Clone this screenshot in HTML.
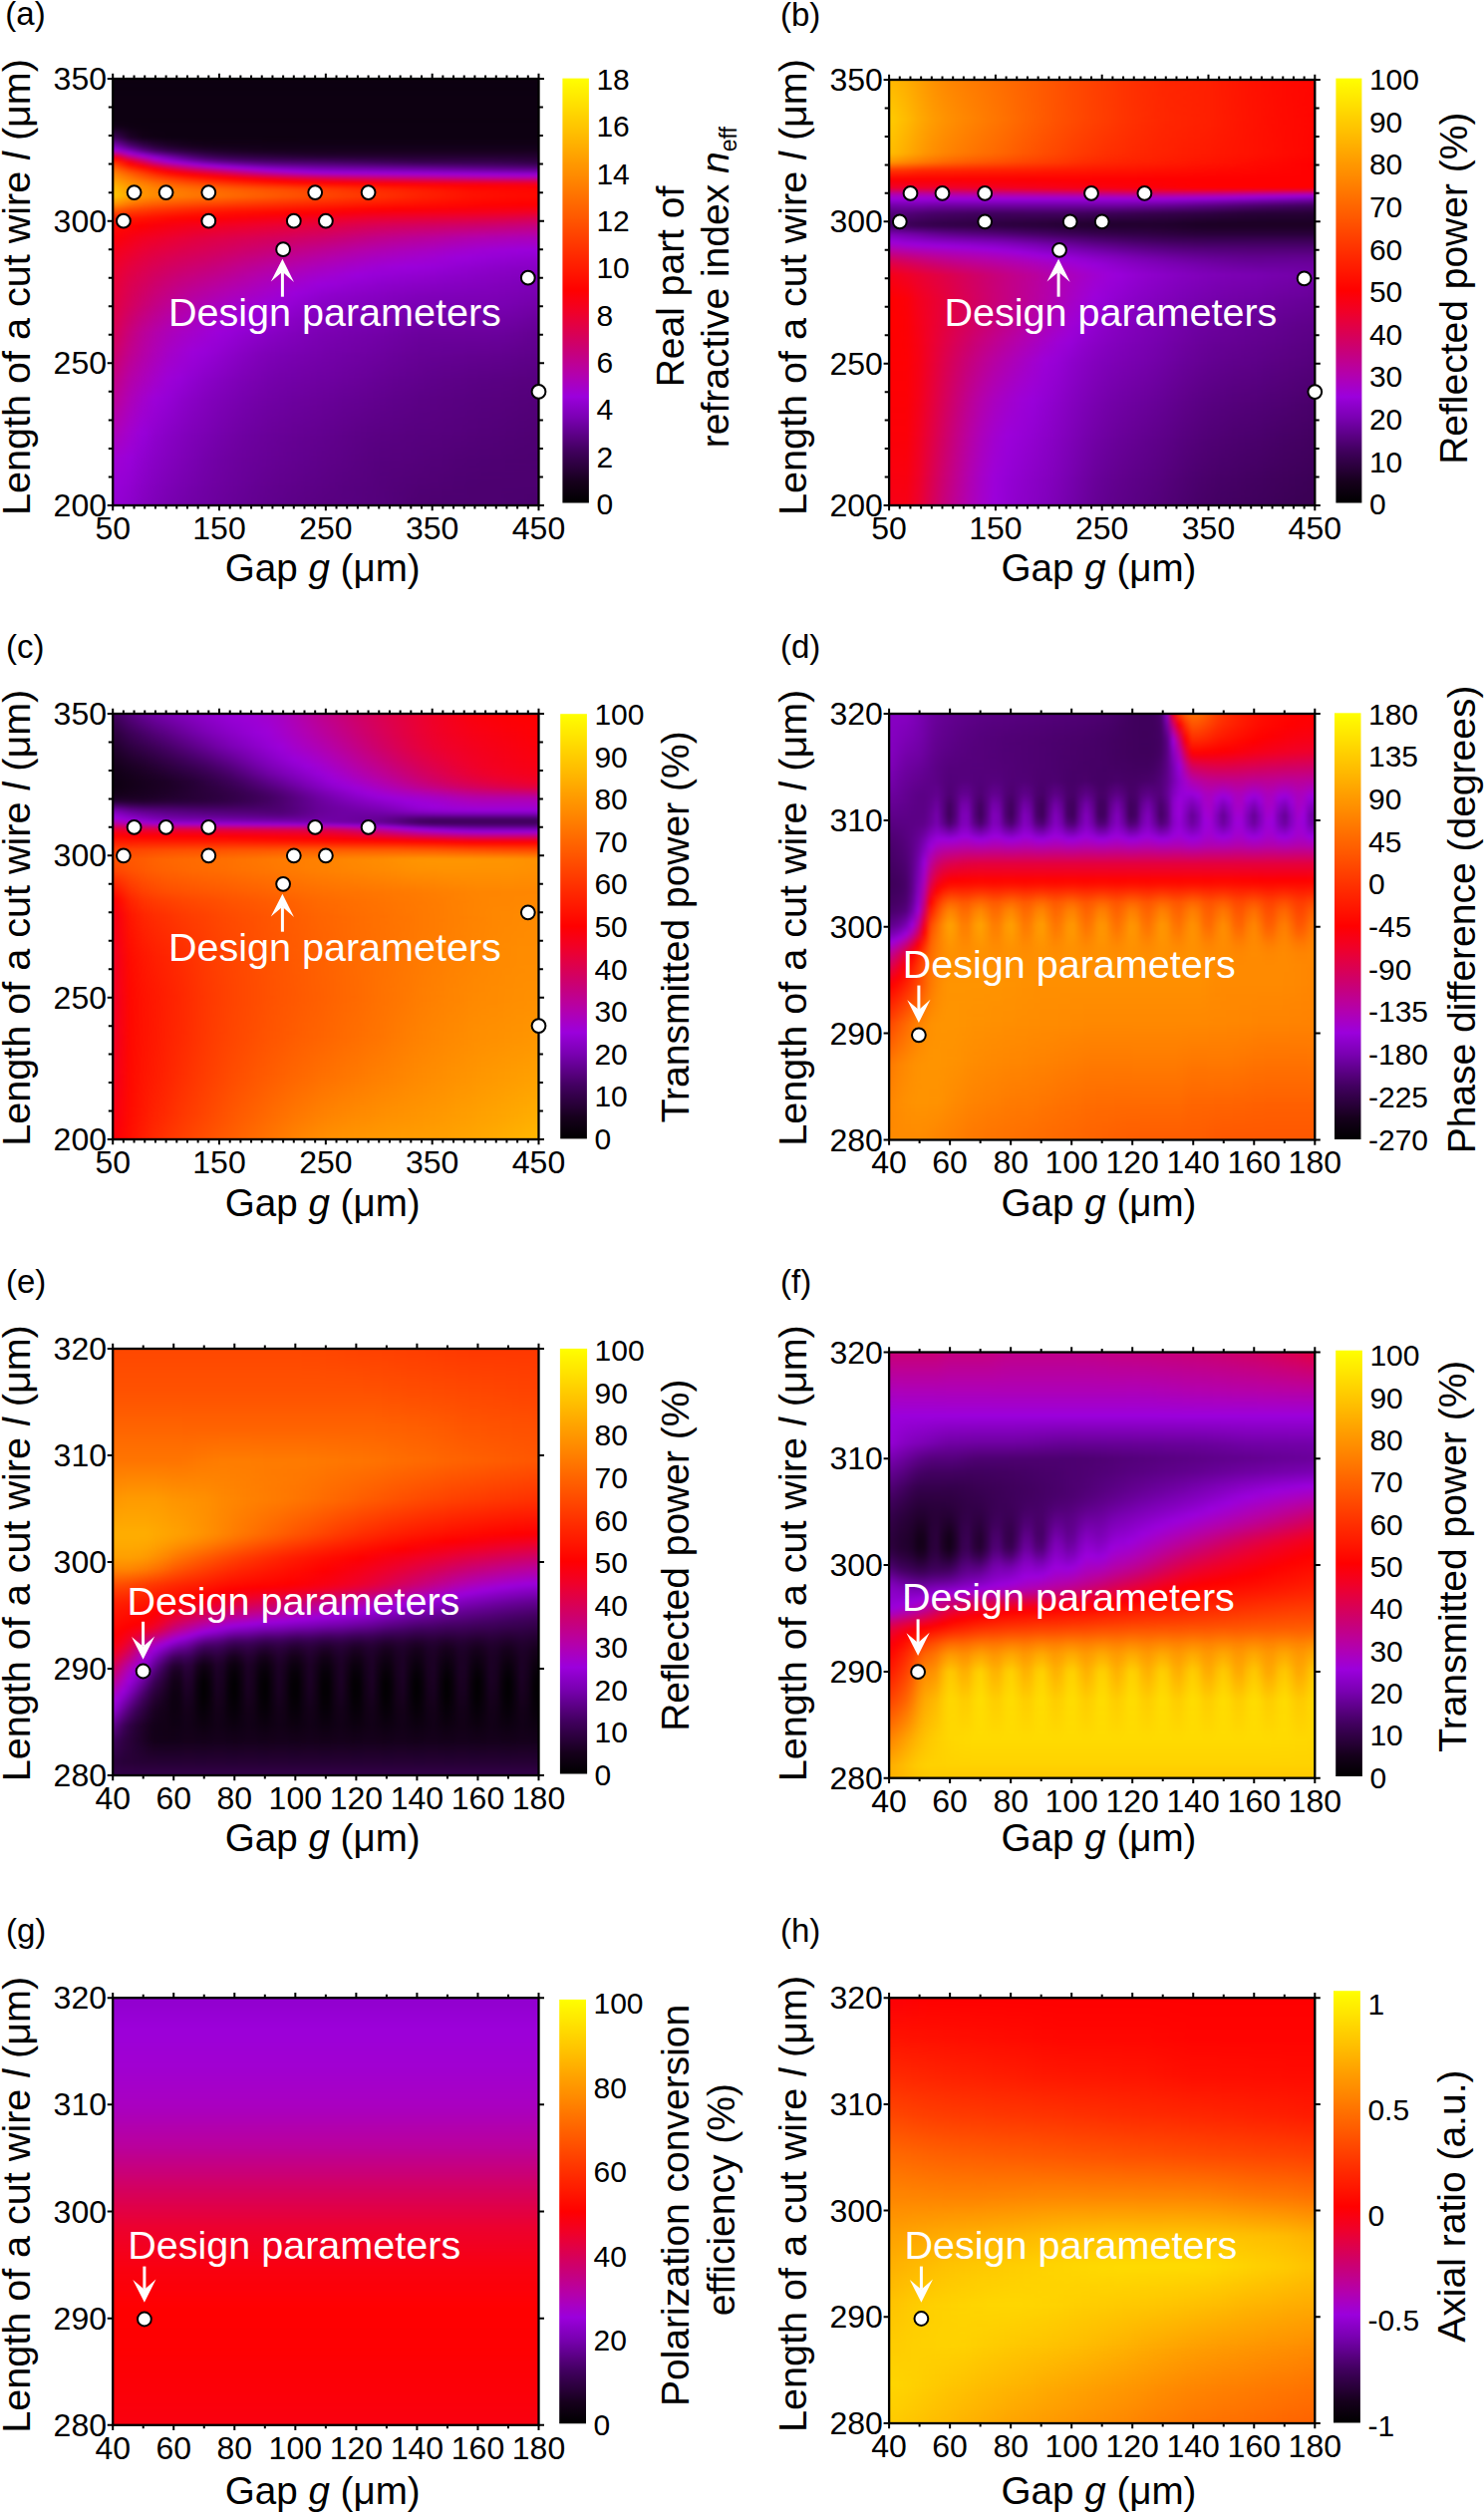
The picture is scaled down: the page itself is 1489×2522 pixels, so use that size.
<!DOCTYPE html><html><head><meta charset="utf-8"><style>
html,body{margin:0;padding:0;background:#fff;width:1489px;height:2522px;overflow:hidden}
.hm{position:absolute;overflow:hidden}
.hm .in{position:absolute;left:0;top:0;right:0;bottom:0}
.hm .in i{position:absolute;left:-8px;right:-8px}
.hm .in i.m{-webkit-mask-image:linear-gradient(180deg,transparent,#000);mask-image:linear-gradient(180deg,transparent,#000)}
svg{position:absolute;left:0;top:0}
text{font-family:"Liberation Sans",sans-serif}
</style></head><body><div class="hm" style="left:113.2px;top:79.0px;width:427.3px;height:428.0px"><div class="in" style="filter:blur(1.5px)"><i style="top:-8px;height:48px;background:linear-gradient(90deg,#0d0011,#0d0011,#0d0011,#0d0011,#0d0011,#0d0011,#0d0011,#0d0011,#0d0011,#0d0011,#0d0011,#0d0011,#0d0011,#0d0011,#0d0011,#0d0011,#0d0011,#0d0011,#0d0011,#0d0011,#0d0011,#0d0011,#0d0011,#0d0011,#0d0011,#0d0011,#0d0011,#0d0011,#0d0011,#0d0011,#0d0011,#0d0011,#0d0011,#0d0011,#0d0011,#0d0011)"></i><i class="m" style="top:0px;height:40px;background:linear-gradient(90deg,#0d0011,#0d0011,#0d0011,#0d0011,#0d0011,#0d0011,#0d0011,#0d0011,#0d0011,#0d0011,#0d0011,#0d0011,#0d0011,#0d0011,#0d0011,#0d0011,#0d0011,#0d0011,#0d0011,#0d0011,#0d0011,#0d0011,#0d0011,#0d0011,#0d0011,#0d0011,#0d0011,#0d0011,#0d0011,#0d0011,#0d0011,#0d0011,#0d0011,#0d0011,#0d0011,#0d0011)"></i><i style="top:40px;height:8px;background:linear-gradient(90deg,#0d0011,#0d0011,#0d0011,#0d0011,#0d0011,#0d0011,#0d0011,#0d0011,#0d0011,#0d0011,#0d0011,#0d0011,#0d0011,#0d0011,#0d0011,#0d0011,#0d0011,#0d0011,#0d0011,#0d0011,#0d0011,#0d0011,#0d0011,#0d0011,#0d0011,#0d0011,#0d0011,#0d0011,#0d0011,#0d0011,#0d0011,#0d0011,#0d0011,#0d0011,#0d0011,#0d0011)"></i><i class="m" style="top:40px;height:8px;background:linear-gradient(90deg,#15001b,#120017,#0f0013,#0e0011,#0d0011,#0d0011,#0d0011,#0d0011,#0d0011,#0d0011,#0d0011,#0d0011,#0d0011,#0d0011,#0d0011,#0d0011,#0d0011,#0d0011,#0d0011,#0d0011,#0d0011,#0d0011,#0d0011,#0d0011,#0d0011,#0d0011,#0d0011,#0d0011,#0d0011,#0d0011,#0d0011,#0d0011,#0d0011,#0d0011,#0d0011,#0d0011)"></i><i style="top:48px;height:11px;background:linear-gradient(90deg,#15001b,#120017,#0f0013,#0e0011,#0d0011,#0d0011,#0d0011,#0d0011,#0d0011,#0d0011,#0d0011,#0d0011,#0d0011,#0d0011,#0d0011,#0d0011,#0d0011,#0d0011,#0d0011,#0d0011,#0d0011,#0d0011,#0d0011,#0d0011,#0d0011,#0d0011,#0d0011,#0d0011,#0d0011,#0d0011,#0d0011,#0d0011,#0d0011,#0d0011,#0d0011,#0d0011)"></i><i class="m" style="top:48px;height:11px;background:linear-gradient(90deg,#4a006c,#380051,#1e0028,#130018,#100014,#0e0012,#0e0012,#0e0011,#0e0011,#0e0011,#0e0011,#0e0011,#0e0011,#0e0011,#0e0011,#0e0011,#0e0011,#0e0011,#0e0011,#0e0011,#0e0011,#0e0011,#0e0011,#0e0011,#0e0011,#0e0011,#0e0011,#0e0011,#0e0011,#0e0011,#0e0011,#0e0011,#0e0011,#0e0011,#0e0011,#0e0011)"></i><i style="top:59px;height:8px;background:linear-gradient(90deg,#4a006c,#380051,#1e0028,#130018,#100014,#0e0012,#0e0012,#0e0011,#0e0011,#0e0011,#0e0011,#0e0011,#0e0011,#0e0011,#0e0011,#0e0011,#0e0011,#0e0011,#0e0011,#0e0011,#0e0011,#0e0011,#0e0011,#0e0011,#0e0011,#0e0011,#0e0011,#0e0011,#0e0011,#0e0011,#0e0011,#0e0011,#0e0011,#0e0011,#0e0011,#0e0011)"></i><i class="m" style="top:59px;height:8px;background:linear-gradient(90deg,#8200bd,#7300a7,#4d0071,#36004e,#280037,#1f002a,#1a0022,#16001c,#140019,#130018,#130018,#130018,#130018,#120017,#120017,#120017,#120018,#120018,#120018,#120018,#120018,#120018,#120018,#120018,#120018,#120018,#120018,#120018,#120018,#120018,#120018,#120018,#120018,#120018,#120018,#120018)"></i><i style="top:67px;height:4px;background:linear-gradient(90deg,#8200bd,#7300a7,#4d0071,#36004e,#280037,#1f002a,#1a0022,#16001c,#140019,#130018,#130018,#130018,#130018,#120017,#120017,#120017,#120018,#120018,#120018,#120018,#120018,#120018,#120018,#120018,#120018,#120018,#120018,#120018,#120018,#120018,#120018,#120018,#120018,#120018,#120018,#120018)"></i><i class="m" style="top:67px;height:4px;background:linear-gradient(90deg,#9d00d8,#9300d1,#7200a6,#520078,#3c0057,#300045,#290039,#23002f,#1e0028,#1b0024,#190021,#17001e,#16001c,#16001c,#16001c,#16001c,#16001c,#16001c,#16001c,#16001c,#16001c,#16001c,#16001c,#16001c,#16001c,#16001c,#16001c,#16001c,#16001c,#16001c,#16001c,#16001c,#16001c,#16001c,#16001c,#16001c)"></i><i style="top:71px;height:1px;background:linear-gradient(90deg,#9d00d8,#9300d1,#7200a6,#520078,#3c0057,#300045,#290039,#23002f,#1e0028,#1b0024,#190021,#17001e,#16001c,#16001c,#16001c,#16001c,#16001c,#16001c,#16001c,#16001c,#16001c,#16001c,#16001c,#16001c,#16001c,#16001c,#16001c,#16001c,#16001c,#16001c,#16001c,#16001c,#16001c,#16001c,#16001c,#16001c)"></i><i class="m" style="top:71px;height:1px;background:linear-gradient(90deg,#a600c7,#9d00d7,#7d00b5,#5c0086,#430061,#36004d,#2e0040,#270036,#21002e,#1e0028,#1c0025,#1a0021,#18001f,#17001e,#17001e,#17001e,#17001e,#17001d,#17001d,#17001d,#17001d,#17001d,#17001d,#17001e,#17001e,#17001e,#17001e,#17001e,#17001e,#17001e,#17001e,#17001e,#17001e,#17001e,#17001e,#17001e)"></i><i style="top:72px;height:2px;background:linear-gradient(90deg,#a600c7,#9d00d7,#7d00b5,#5c0086,#430061,#36004d,#2e0040,#270036,#21002e,#1e0028,#1c0025,#1a0021,#18001f,#17001e,#17001e,#17001e,#17001e,#17001d,#17001d,#17001d,#17001d,#17001d,#17001d,#17001e,#17001e,#17001e,#17001e,#17001e,#17001e,#17001e,#17001e,#17001e,#17001e,#17001e,#17001e,#17001e)"></i><i class="m" style="top:72px;height:2px;background:linear-gradient(90deg,#c1008b,#b500a7,#9500d4,#7300a8,#590081,#460066,#3b0055,#310046,#2a003b,#250034,#22002f,#20002b,#1e0028,#1d0026,#1c0025,#1b0024,#1b0023,#1a0023,#1a0023,#1a0023,#1a0023,#1a0023,#1b0023,#1b0023,#1b0023,#1b0023,#1b0023,#1b0023,#1b0023,#1b0023,#1b0023,#1b0023,#1b0023,#1b0023,#1b0024,#1b0024)"></i><i style="top:74px;height:1px;background:linear-gradient(90deg,#c1008b,#b500a7,#9500d4,#7300a8,#590081,#460066,#3b0055,#310046,#2a003b,#250034,#22002f,#20002b,#1e0028,#1d0026,#1c0025,#1b0024,#1b0023,#1a0023,#1a0023,#1a0023,#1a0023,#1a0023,#1b0023,#1b0023,#1b0023,#1b0023,#1b0023,#1b0023,#1b0023,#1b0023,#1b0023,#1b0023,#1b0023,#1b0023,#1b0024,#1b0024)"></i><i class="m" style="top:74px;height:1px;background:linear-gradient(90deg,#d00067,#c1008a,#a000d2,#8000b9,#650093,#520077,#420060,#380050,#2f0043,#2a003b,#260035,#240031,#22002e,#20002c,#1f002a,#1e0028,#1d0027,#1d0026,#1c0026,#1d0026,#1d0026,#1d0026,#1d0026,#1d0026,#1d0026,#1d0027,#1d0027,#1d0027,#1d0027,#1d0027,#1d0027,#1d0027,#1d0027,#1d0027,#1d0027,#1d0027)"></i><i style="top:75px;height:2px;background:linear-gradient(90deg,#d00067,#c1008a,#a000d2,#8000b9,#650093,#520077,#420060,#380050,#2f0043,#2a003b,#260035,#240031,#22002e,#20002c,#1f002a,#1e0028,#1d0027,#1d0026,#1c0026,#1d0026,#1d0026,#1d0026,#1d0026,#1d0026,#1d0026,#1d0027,#1d0027,#1d0027,#1d0027,#1d0027,#1d0027,#1d0027,#1d0027,#1d0027,#1d0027,#1d0027)"></i><i class="m" style="top:75px;height:2px;background:linear-gradient(90deg,#ef0029,#da0053,#b400aa,#9900d9,#7e00b7,#680097,#55007c,#450064,#3a0054,#330049,#2f0043,#2c003f,#2a003b,#280038,#260035,#240032,#230030,#22002e,#22002e,#22002e,#22002e,#22002e,#22002e,#22002e,#22002e,#22002e,#22002e,#22002e,#22002e,#22002e,#22002e,#22002e,#22002e,#22002e,#22002e,#22002e)"></i><i style="top:77px;height:2px;background:linear-gradient(90deg,#ef0029,#da0053,#b400aa,#9900d9,#7e00b7,#680097,#55007c,#450064,#3a0054,#330049,#2f0043,#2c003f,#2a003b,#280038,#260035,#240032,#230030,#22002e,#22002e,#22002e,#22002e,#22002e,#22002e,#22002e,#22002e,#22002e,#22002e,#22002e,#22002e,#22002e,#22002e,#22002e,#22002e,#22002e,#22002e,#22002e)"></i><i class="m" style="top:77px;height:2px;background:linear-gradient(90deg,#ff0300,#f20023,#c8007a,#ae00b8,#9300d2,#7b00b3,#660095,#54007b,#460066,#3e005a,#390053,#36004d,#330049,#310045,#2f0042,#2d003f,#2b003d,#2a003b,#2a003a,#29003a,#290039,#290039,#280038,#280037,#270037,#270036,#270036,#270036,#270036,#270036,#270036,#270036,#270036,#260035,#260034,#250034)"></i><i style="top:79px;height:1px;background:linear-gradient(90deg,#ff0300,#f20023,#c8007a,#ae00b8,#9300d2,#7b00b3,#660095,#54007b,#460066,#3e005a,#390053,#36004d,#330049,#310045,#2f0042,#2d003f,#2b003d,#2a003b,#2a003a,#29003a,#290039,#290039,#280038,#280037,#270037,#270036,#270036,#270036,#270036,#270036,#270036,#270036,#270036,#260035,#260034,#250034)"></i><i class="m" style="top:79px;height:1px;background:linear-gradient(90deg,#ff1100,#fa000c,#d30061,#b800a1,#9d00d7,#8300be,#6f00a1,#5c0087,#4e0072,#450064,#3f005c,#3b0056,#380051,#36004d,#34004a,#320047,#310045,#2f0043,#2f0042,#2e0041,#2d0040,#2d003f,#2c003e,#2b003d,#2b003c,#2a003b,#2a003a,#2a003a,#2a003b,#2a003b,#2a003b,#2a003b,#29003a,#280039,#280037,#270037)"></i><i style="top:80px;height:1px;background:linear-gradient(90deg,#ff1100,#fa000c,#d30061,#b800a1,#9d00d7,#8300be,#6f00a1,#5c0087,#4e0072,#450064,#3f005c,#3b0056,#380051,#36004d,#34004a,#320047,#310045,#2f0043,#2f0042,#2e0041,#2d0040,#2d003f,#2c003e,#2b003d,#2b003c,#2a003b,#2a003a,#2a003a,#2a003b,#2a003b,#2a003b,#2a003b,#29003a,#280039,#280037,#270037)"></i><i class="m" style="top:80px;height:1px;background:linear-gradient(90deg,#ff1f00,#ff0600,#df0049,#c1008a,#a500c8,#8c00c9,#7800af,#650093,#57007e,#4d0070,#460066,#41005f,#3e005a,#3b0056,#390053,#380050,#36004e,#35004c,#34004b,#330049,#320048,#320047,#310045,#2f0043,#2e0041,#2d0040,#2d003f,#2d003f,#2d003f,#2d0040,#2d0040,#2d003f,#2c003e,#2b003c,#2a003a,#29003a)"></i><i style="top:81px;height:1px;background:linear-gradient(90deg,#ff1f00,#ff0600,#df0049,#c1008a,#a500c8,#8c00c9,#7800af,#650093,#57007e,#4d0070,#460066,#41005f,#3e005a,#3b0056,#390053,#380050,#36004e,#35004c,#34004b,#330049,#320048,#320047,#310045,#2f0043,#2e0041,#2d0040,#2d003f,#2d003f,#2d003f,#2d0040,#2d0040,#2d003f,#2c003e,#2b003c,#2a003a,#29003a)"></i><i class="m" style="top:81px;height:1px;background:linear-gradient(90deg,#ff2b00,#ff1200,#ea0033,#cb0074,#ae00b7,#9600d5,#8100bb,#6f00a1,#60008c,#56007d,#4e0072,#49006a,#440063,#41005f,#3f005c,#3e0059,#3d0058,#3b0056,#3a0054,#390052,#380050,#36004e,#35004c,#34004a,#320047,#310045,#300045,#300045,#300045,#310045,#310045,#300045,#2f0043,#2e0041,#2c003e,#2b003d)"></i><i style="top:82px;height:1px;background:linear-gradient(90deg,#ff2b00,#ff1200,#ea0033,#cb0074,#ae00b7,#9600d5,#8100bb,#6f00a1,#60008c,#56007d,#4e0072,#49006a,#440063,#41005f,#3f005c,#3e0059,#3d0058,#3b0056,#3a0054,#390052,#380050,#36004e,#35004c,#34004a,#320047,#310045,#300045,#300045,#300045,#310045,#310045,#300045,#2f0043,#2e0041,#2c003e,#2b003d)"></i><i class="m" style="top:82px;height:1px;background:linear-gradient(90deg,#ff3600,#ff1e00,#f30020,#d4005f,#b600a4,#9f00d4,#8b00c8,#7900b1,#6a009b,#5f008b,#57007f,#510076,#4c006f,#48006a,#460066,#440063,#420061,#41005f,#40005d,#3e005a,#3d0058,#3b0056,#3a0054,#380051,#36004e,#35004c,#34004b,#34004b,#34004b,#34004b,#34004b,#34004a,#330049,#310046,#2f0043,#2e0041)"></i><i style="top:83px;height:1px;background:linear-gradient(90deg,#ff3600,#ff1e00,#f30020,#d4005f,#b600a4,#9f00d4,#8b00c8,#7900b1,#6a009b,#5f008b,#57007f,#510076,#4c006f,#48006a,#460066,#440063,#420061,#41005f,#40005d,#3e005a,#3d0058,#3b0056,#3a0054,#380051,#36004e,#35004c,#34004b,#34004b,#34004b,#34004b,#34004b,#34004a,#330049,#310046,#2f0043,#2e0041)"></i><i class="m" style="top:83px;height:1px;background:linear-gradient(90deg,#ff4000,#ff2700,#f9000f,#de004c,#bf008f,#a900c1,#9800d8,#8500c0,#7600ac,#6a009b,#62008e,#5a0084,#55007b,#510075,#4e0071,#4c006e,#4a006c,#480069,#460067,#450064,#430061,#41005e,#3f005c,#3e0059,#3c0056,#3a0054,#390053,#390052,#390052,#390052,#390052,#380051,#37004f,#35004c,#330049,#320047)"></i><i style="top:84px;height:1px;background:linear-gradient(90deg,#ff4000,#ff2700,#f9000f,#de004c,#bf008f,#a900c1,#9800d8,#8500c0,#7600ac,#6a009b,#62008e,#5a0084,#55007b,#510075,#4e0071,#4c006e,#4a006c,#480069,#460067,#450064,#430061,#41005e,#3f005c,#3e0059,#3c0056,#3a0054,#390053,#390052,#390052,#390052,#390052,#380051,#37004f,#35004c,#330049,#320047)"></i><i class="m" style="top:84px;height:1px;background:linear-gradient(90deg,#ff4a00,#ff3100,#ff0000,#e80039,#c90079,#b400ab,#a300cc,#9300d1,#8300bd,#7600ad,#6d009e,#650093,#5e0089,#590082,#56007d,#54007a,#520077,#500075,#4e0072,#4c006f,#4a006c,#480069,#460066,#440063,#42005f,#40005d,#3f005c,#3f005b,#3e005a,#3e005a,#3d0059,#3d0058,#3b0056,#3a0053,#380050,#37004f)"></i><i style="top:85px;height:1px;background:linear-gradient(90deg,#ff4a00,#ff3100,#ff0000,#e80039,#c90079,#b400ab,#a300cc,#9300d1,#8300bd,#7600ad,#6d009e,#650093,#5e0089,#590082,#56007d,#54007a,#520077,#500075,#4e0072,#4c006f,#4a006c,#480069,#460066,#440063,#42005f,#40005d,#3f005c,#3f005b,#3e005a,#3e005a,#3d0059,#3d0058,#3b0056,#3a0053,#380050,#37004f)"></i><i class="m" style="top:85px;height:1px;background:linear-gradient(90deg,#ff5300,#ff3900,#ff0900,#f10026,#d30061,#be0092,#af00b6,#9f00d3,#9000ce,#8300bd,#7900b0,#6f00a2,#680098,#620090,#5f008a,#5c0086,#5a0083,#580080,#56007d,#54007a,#520078,#500075,#4e0072,#4c006f,#4a006c,#480069,#470067,#460066,#450064,#440063,#430061,#420060,#40005e,#3f005b,#3d0058,#3c0057)"></i><i style="top:86px;height:1px;background:linear-gradient(90deg,#ff5300,#ff3900,#ff0900,#f10026,#d30061,#be0092,#af00b6,#9f00d3,#9000ce,#8300bd,#7900b0,#6f00a2,#680098,#620090,#5f008a,#5c0086,#5a0083,#580080,#56007d,#54007a,#520078,#500075,#4e0072,#4c006f,#4a006c,#480069,#470067,#460066,#450064,#440063,#430061,#420060,#40005e,#3f005b,#3d0058,#3c0057)"></i><i class="m" style="top:86px;height:1px;background:linear-gradient(90deg,#ff5c00,#ff4100,#ff1200,#f70015,#de004b,#c80079,#b9009f,#aa00bf,#9d00d8,#8f00cd,#8400bf,#7b00b3,#7300a7,#6c009e,#680098,#650093,#62008f,#60008c,#5e0089,#5c0086,#5a0083,#590081,#57007e,#55007c,#530079,#510076,#4f0074,#4e0072,#4d0070,#4b006e,#4a006c,#49006a,#470067,#450064,#430061,#420060)"></i><i style="top:87px;height:1px;background:linear-gradient(90deg,#ff5c00,#ff4100,#ff1200,#f70015,#de004b,#c80079,#b9009f,#aa00bf,#9d00d8,#8f00cd,#8400bf,#7b00b3,#7300a7,#6c009e,#680098,#650093,#62008f,#60008c,#5e0089,#5c0086,#5a0083,#590081,#57007e,#55007c,#530079,#510076,#4f0074,#4e0072,#4d0070,#4b006e,#4a006c,#49006a,#470067,#450064,#430061,#420060)"></i><i class="m" style="top:87px;height:1px;background:linear-gradient(90deg,#ff6300,#ff4900,#ff1c00,#fd0004,#e90037,#d20062,#c20088,#b400a9,#a700c5,#9c00da,#9000ce,#8600c1,#7d00b6,#7700ad,#7200a6,#6e00a1,#6b009c,#680098,#660095,#640092,#630090,#61008d,#5f008b,#5d0088,#5c0086,#5a0083,#580080,#56007e,#55007c,#530079,#510077,#500074,#4e0072,#4c006f,#4a006c,#4a006b)"></i><i style="top:88px;height:1px;background:linear-gradient(90deg,#ff6300,#ff4900,#ff1c00,#fd0004,#e90037,#d20062,#c20088,#b400a9,#a700c5,#9c00da,#9000ce,#8600c1,#7d00b6,#7700ad,#7200a6,#6e00a1,#6b009c,#680098,#660095,#640092,#630090,#61008d,#5f008b,#5d0088,#5c0086,#5a0083,#580080,#56007e,#55007c,#530079,#510077,#500074,#4e0072,#4c006f,#4a006c,#4a006b)"></i><i class="m" style="top:88px;height:1px;background:linear-gradient(90deg,#ff6a00,#ff5200,#ff2500,#ff0800,#f20024,#dd004e,#cb0072,#bd0094,#b100b1,#a600c7,#9c00d9,#9200d0,#8800c4,#8100bb,#7c00b4,#7800ae,#7400a9,#7100a5,#6e00a1,#6d009e,#6b009c,#69009a,#680097,#660095,#640092,#62008f,#61008d,#5f008a,#5d0087,#5b0085,#590082,#57007f,#56007d,#54007a,#520078,#510077)"></i><i style="top:89px;height:1px;background:linear-gradient(90deg,#ff6a00,#ff5200,#ff2500,#ff0800,#f20024,#dd004e,#cb0072,#bd0094,#b100b1,#a600c7,#9c00d9,#9200d0,#8800c4,#8100bb,#7c00b4,#7800ae,#7400a9,#7100a5,#6e00a1,#6d009e,#6b009c,#69009a,#680097,#660095,#640092,#62008f,#61008d,#5f008a,#5d0087,#5b0085,#590082,#57007f,#56007d,#54007a,#520078,#510077)"></i><i class="m" style="top:89px;height:1px;background:linear-gradient(90deg,#ff7000,#ff5a00,#ff3000,#ff1300,#f80012,#e6003b,#d5005e,#c6007e,#bb009a,#b000b2,#a700c5,#9e00d7,#9400d3,#8b00c8,#8500c0,#8000ba,#7c00b5,#7900b1,#7600ad,#7500aa,#7300a8,#7200a6,#7000a3,#6e00a1,#6c009e,#6b009c,#690099,#670096,#650093,#630091,#61008e,#5f008b,#5e0088,#5c0086,#5a0083,#590082)"></i><i style="top:90px;height:1px;background:linear-gradient(90deg,#ff7000,#ff5a00,#ff3000,#ff1300,#f80012,#e6003b,#d5005e,#c6007e,#bb009a,#b000b2,#a700c5,#9e00d7,#9400d3,#8b00c8,#8500c0,#8000ba,#7c00b5,#7900b1,#7600ad,#7500aa,#7300a8,#7200a6,#7000a3,#6e00a1,#6c009e,#6b009c,#690099,#670096,#650093,#630091,#61008e,#5f008b,#5e0088,#5c0086,#5a0083,#590082)"></i><i class="m" style="top:90px;height:1px;background:linear-gradient(90deg,#ff7600,#ff6100,#ff3a00,#ff1d00,#ff0001,#f00028,#df004a,#d00067,#c40082,#bb009a,#b100b0,#a700c4,#9f00d5,#9700d6,#8f00cd,#8900c5,#8400bf,#8000ba,#7e00b7,#7c00b5,#7b00b3,#7a00b2,#7800af,#7600ad,#7500aa,#7300a8,#7100a5,#6f00a3,#6e00a0,#6c009d,#6a009a,#680098,#660095,#640092,#630090,#62008f)"></i><i style="top:91px;height:1px;background:linear-gradient(90deg,#ff7600,#ff6100,#ff3a00,#ff1d00,#ff0001,#f00028,#df004a,#d00067,#c40082,#bb009a,#b100b0,#a700c4,#9f00d5,#9700d6,#8f00cd,#8900c5,#8400bf,#8000ba,#7e00b7,#7c00b5,#7b00b3,#7a00b2,#7800af,#7600ad,#7500aa,#7300a8,#7100a5,#6f00a3,#6e00a0,#6c009d,#6a009a,#680098,#660095,#640092,#630090,#62008f)"></i><i class="m" style="top:91px;height:1px;background:linear-gradient(90deg,#ff7b00,#ff6900,#ff4400,#ff2800,#ff0a00,#f60017,#e90036,#db0051,#cf006a,#c50082,#bb0099,#b200af,#a800c2,#a000d2,#9a00db,#9300d2,#8d00ca,#8800c4,#8600c1,#8400bf,#8300bd,#8200bc,#8000ba,#7f00b8,#7d00b6,#7c00b4,#7a00b2,#7800b0,#7700ad,#7500aa,#7300a8,#7100a5,#6f00a2,#6e00a0,#6c009d,#6b009c)"></i><i style="top:92px;height:1px;background:linear-gradient(90deg,#ff7b00,#ff6900,#ff4400,#ff2800,#ff0a00,#f60017,#e90036,#db0051,#cf006a,#c50082,#bb0099,#b200af,#a800c2,#a000d2,#9a00db,#9300d2,#8d00ca,#8800c4,#8600c1,#8400bf,#8300bd,#8200bc,#8000ba,#7f00b8,#7d00b6,#7c00b4,#7a00b2,#7800b0,#7700ad,#7500aa,#7300a8,#7100a5,#6f00a2,#6e00a0,#6c009d,#6b009c)"></i><i class="m" style="top:92px;height:1px;background:linear-gradient(90deg,#ff8000,#ff7000,#ff4d00,#ff3100,#ff1400,#fc0007,#f20023,#e6003d,#da0054,#cf006a,#c50082,#bb009a,#b200af,#a900c0,#a300cd,#9d00d9,#9600d6,#9100cf,#8e00cc,#8d00ca,#8b00c8,#8a00c6,#8900c5,#8700c3,#8600c1,#8400bf,#8300bd,#8100bb,#8000b9,#7e00b7,#7c00b5,#7b00b3,#7900b1,#7700ae,#7600ac,#7500ab)"></i><i style="top:93px;height:1px;background:linear-gradient(90deg,#ff8000,#ff7000,#ff4d00,#ff3100,#ff1400,#fc0007,#f20023,#e6003d,#da0054,#cf006a,#c50082,#bb009a,#b200af,#a900c0,#a300cd,#9d00d9,#9600d6,#9100cf,#8e00cc,#8d00ca,#8b00c8,#8a00c6,#8900c5,#8700c3,#8600c1,#8400bf,#8300bd,#8100bb,#8000b9,#7e00b7,#7c00b5,#7b00b3,#7900b1,#7700ae,#7600ac,#7500ab)"></i><i class="m" style="top:93px;height:1px;background:linear-gradient(90deg,#ff8400,#ff7600,#ff5600,#ff3a00,#ff1d00,#ff0600,#f80012,#f00029,#e4003f,#d90055,#ce006c,#c40085,#ba009b,#b300ae,#ab00bc,#a500c9,#9f00d4,#9b00dc,#9800d8,#9600d6,#9500d4,#9400d3,#9200d1,#9100cf,#8f00cd,#8e00cb,#8c00c9,#8b00c7,#8900c5,#8700c3,#8600c1,#8400bf,#8300bd,#8100bb,#8000b9,#7f00b8)"></i><i style="top:94px;height:1px;background:linear-gradient(90deg,#ff8400,#ff7600,#ff5600,#ff3a00,#ff1d00,#ff0600,#f80012,#f00029,#e4003f,#d90055,#ce006c,#c40085,#ba009b,#b300ae,#ab00bc,#a500c9,#9f00d4,#9b00dc,#9800d8,#9600d6,#9500d4,#9400d3,#9200d1,#9100cf,#8f00cd,#8e00cb,#8c00c9,#8b00c7,#8900c5,#8700c3,#8600c1,#8400bf,#8300bd,#8100bb,#8000b9,#7f00b8)"></i><i class="m" style="top:94px;height:1px;background:linear-gradient(90deg,#ff8800,#ff7b00,#ff5d00,#ff4200,#ff2600,#ff1000,#fe0002,#f60018,#ee002c,#e30042,#d80058,#cd006f,#c30085,#bb0098,#b500a8,#ae00b6,#a800c2,#a400ca,#a200cf,#a000d2,#9f00d4,#9e00d6,#9d00d8,#9c00db,#9a00db,#9900d9,#9700d7,#9500d5,#9400d3,#9200d0,#9000ce,#8f00cc,#8d00ca,#8b00c8,#8a00c6,#8900c6)"></i><i style="top:95px;height:1px;background:linear-gradient(90deg,#ff8800,#ff7b00,#ff5d00,#ff4200,#ff2600,#ff1000,#fe0002,#f60018,#ee002c,#e30042,#d80058,#cd006f,#c30085,#bb0098,#b500a8,#ae00b6,#a800c2,#a400ca,#a200cf,#a000d2,#9f00d4,#9e00d6,#9d00d8,#9c00db,#9a00db,#9900d9,#9700d7,#9500d5,#9400d3,#9200d0,#9000ce,#8f00cc,#8d00ca,#8b00c8,#8a00c6,#8900c6)"></i><i class="m" style="top:95px;height:1px;background:linear-gradient(90deg,#ff8c00,#ff8000,#ff6300,#ff4900,#ff2e00,#ff1900,#ff0900,#fc0007,#f5001b,#ed002f,#e20044,#d70059,#cd006d,#c50080,#bf008f,#b9009e,#b400aa,#b000b4,#ad00b9,#ab00bd,#a900c0,#a800c2,#a700c5,#a500c8,#a400cb,#a300cd,#a100d0,#a000d3,#9e00d6,#9d00d8,#9c00db,#9a00db,#9900d9,#9700d7,#9600d5,#9500d4)"></i><i style="top:96px;height:1px;background:linear-gradient(90deg,#ff8c00,#ff8000,#ff6300,#ff4900,#ff2e00,#ff1900,#ff0900,#fc0007,#f5001b,#ed002f,#e20044,#d70059,#cd006d,#c50080,#bf008f,#b9009e,#b400aa,#b000b4,#ad00b9,#ab00bd,#a900c0,#a800c2,#a700c5,#a500c8,#a400cb,#a300cd,#a100d0,#a000d3,#9e00d6,#9d00d8,#9c00db,#9a00db,#9900d9,#9700d7,#9600d5,#9500d4)"></i><i class="m" style="top:96px;height:1px;background:linear-gradient(90deg,#ff8f00,#ff8500,#ff6900,#ff4f00,#ff3700,#ff2200,#ff1300,#ff0500,#fb000b,#f4001d,#ec0030,#e20044,#d90056,#d00066,#ca0075,#c40083,#bf008f,#bb0099,#b8009f,#b600a4,#b500a9,#b300ad,#b100b0,#b000b3,#ae00b6,#ad00b9,#ab00bd,#a900c0,#a800c3,#a600c7,#a400ca,#a300cc,#a200ce,#a100d0,#a000d2,#a000d3)"></i><i style="top:97px;height:2px;background:linear-gradient(90deg,#ff8f00,#ff8500,#ff6900,#ff4f00,#ff3700,#ff2200,#ff1300,#ff0500,#fb000b,#f4001d,#ec0030,#e20044,#d90056,#d00066,#ca0075,#c40083,#bf008f,#bb0099,#b8009f,#b600a4,#b500a9,#b300ad,#b100b0,#b000b3,#ae00b6,#ad00b9,#ab00bd,#a900c0,#a800c3,#a600c7,#a400ca,#a300cc,#a200ce,#a100d0,#a000d2,#a000d3)"></i><i class="m" style="top:97px;height:2px;background:linear-gradient(90deg,#ff9600,#ff8d00,#ff7400,#ff5c00,#ff4600,#ff3400,#ff2500,#ff1900,#ff0d00,#ff0200,#fa000c,#f5001b,#f00029,#e90036,#e20043,#dc004f,#d70059,#d20062,#cf006a,#cc0071,#c90077,#c7007d,#c50082,#c30087,#c1008b,#bf008f,#be0093,#bc0097,#ba009c,#b800a0,#b700a4,#b500a7,#b400a9,#b300ac,#b300ad,#b300ae)"></i><i style="top:99px;height:1px;background:linear-gradient(90deg,#ff9600,#ff8d00,#ff7400,#ff5c00,#ff4600,#ff3400,#ff2500,#ff1900,#ff0d00,#ff0200,#fa000c,#f5001b,#f00029,#e90036,#e20043,#dc004f,#d70059,#d20062,#cf006a,#cc0071,#c90077,#c7007d,#c50082,#c30087,#c1008b,#bf008f,#be0093,#bc0097,#ba009c,#b800a0,#b700a4,#b500a7,#b400a9,#b300ac,#b300ad,#b300ae)"></i><i class="m" style="top:99px;height:1px;background:linear-gradient(90deg,#ff9a00,#ff9100,#ff7900,#ff6200,#ff4d00,#ff3c00,#ff2e00,#ff2200,#ff1700,#ff0c00,#ff0300,#fb000a,#f60017,#f20022,#ed002e,#e70039,#e20043,#dd004d,#d90054,#d6005b,#d30061,#d00067,#ce006c,#cc0071,#ca0075,#c8007a,#c6007e,#c40083,#c20087,#c0008c,#bf0090,#be0093,#bd0095,#bc0097,#bb0099,#bb009a)"></i><i style="top:100px;height:2px;background:linear-gradient(90deg,#ff9a00,#ff9100,#ff7900,#ff6200,#ff4d00,#ff3c00,#ff2e00,#ff2200,#ff1700,#ff0c00,#ff0300,#fb000a,#f60017,#f20022,#ed002e,#e70039,#e20043,#dd004d,#d90054,#d6005b,#d30061,#d00067,#ce006c,#cc0071,#ca0075,#c8007a,#c6007e,#c40083,#c20087,#c0008c,#bf0090,#be0093,#bd0095,#bc0097,#bb0099,#bb009a)"></i><i class="m" style="top:100px;height:2px;background:linear-gradient(90deg,#ffa300,#ff9900,#ff8200,#ff6e00,#ff5c00,#ff4c00,#ff3f00,#ff3300,#ff2900,#ff1f00,#ff1600,#ff0e00,#ff0600,#fe0002,#fa000c,#f70016,#f4001f,#f10026,#ed002d,#ea0033,#e80039,#e5003e,#e30042,#e00047,#de004b,#dc004f,#da0052,#d90056,#d70059,#d5005d,#d4005f,#d30062,#d20064,#d00066,#d00068,#cf0068)"></i><i style="top:102px;height:1px;background:linear-gradient(90deg,#ffa300,#ff9900,#ff8200,#ff6e00,#ff5c00,#ff4c00,#ff3f00,#ff3300,#ff2900,#ff1f00,#ff1600,#ff0e00,#ff0600,#fe0002,#fa000c,#f70016,#f4001f,#f10026,#ed002d,#ea0033,#e80039,#e5003e,#e30042,#e00047,#de004b,#dc004f,#da0052,#d90056,#d70059,#d5005d,#d4005f,#d30062,#d20064,#d00066,#d00068,#cf0068)"></i><i class="m" style="top:102px;height:1px;background:linear-gradient(90deg,#ffa700,#ff9d00,#ff8600,#ff7400,#ff6300,#ff5400,#ff4700,#ff3c00,#ff3200,#ff2800,#ff1f00,#ff1700,#ff0f00,#ff0800,#ff0200,#fd0006,#fa000e,#f70016,#f5001c,#f30021,#f10025,#f00029,#ed002d,#eb0031,#e90036,#e7003a,#e5003d,#e40040,#e30042,#e10045,#e00047,#df0049,#de004b,#dd004d,#dc004f,#dc0050)"></i><i style="top:103px;height:1px;background:linear-gradient(90deg,#ffa700,#ff9d00,#ff8600,#ff7400,#ff6300,#ff5400,#ff4700,#ff3c00,#ff3200,#ff2800,#ff1f00,#ff1700,#ff0f00,#ff0800,#ff0200,#fd0006,#fa000e,#f70016,#f5001c,#f30021,#f10025,#f00029,#ed002d,#eb0031,#e90036,#e7003a,#e5003d,#e40040,#e30042,#e10045,#e00047,#df0049,#de004b,#dd004d,#dc004f,#dc0050)"></i><i class="m" style="top:103px;height:1px;background:linear-gradient(90deg,#ffac00,#ffa100,#ff8a00,#ff7a00,#ff6900,#ff5b00,#ff4f00,#ff4400,#ff3a00,#ff3100,#ff2800,#ff2000,#ff1900,#ff1200,#ff0c00,#ff0600,#ff0100,#fd0006,#fb000b,#f9000f,#f80013,#f70017,#f5001a,#f4001e,#f20022,#f10026,#f00029,#ef002b,#ee002d,#ed002e,#ec0030,#eb0032,#ea0034,#e90036,#e80038,#e70039)"></i><i style="top:104px;height:1px;background:linear-gradient(90deg,#ffac00,#ffa100,#ff8a00,#ff7a00,#ff6900,#ff5b00,#ff4f00,#ff4400,#ff3a00,#ff3100,#ff2800,#ff2000,#ff1900,#ff1200,#ff0c00,#ff0600,#ff0100,#fd0006,#fb000b,#f9000f,#f80013,#f70017,#f5001a,#f4001e,#f20022,#f10026,#f00029,#ef002b,#ee002d,#ed002e,#ec0030,#eb0032,#ea0034,#e90036,#e80038,#e70039)"></i><i class="m" style="top:104px;height:1px;background:linear-gradient(90deg,#ffb000,#ffa400,#ff8e00,#ff7f00,#ff6f00,#ff6100,#ff5600,#ff4c00,#ff4200,#ff3900,#ff3100,#ff2900,#ff2200,#ff1b00,#ff1500,#ff1000,#ff0b00,#ff0600,#ff0300,#ff0000,#fe0003,#fd0006,#fb0009,#fa000e,#f80012,#f70015,#f60018,#f5001a,#f5001c,#f4001d,#f3001f,#f30021,#f20022,#f10024,#f10026,#f00027)"></i><i style="top:105px;height:1px;background:linear-gradient(90deg,#ffb000,#ffa400,#ff8e00,#ff7f00,#ff6f00,#ff6100,#ff5600,#ff4c00,#ff4200,#ff3900,#ff3100,#ff2900,#ff2200,#ff1b00,#ff1500,#ff1000,#ff0b00,#ff0600,#ff0300,#ff0000,#fe0003,#fd0006,#fb0009,#fa000e,#f80012,#f70015,#f60018,#f5001a,#f5001c,#f4001d,#f3001f,#f30021,#f20022,#f10024,#f10026,#f00027)"></i><i class="m" style="top:105px;height:1px;background:linear-gradient(90deg,#ffb500,#ffa800,#ff9100,#ff8300,#ff7400,#ff6700,#ff5c00,#ff5300,#ff4a00,#ff4100,#ff3900,#ff3200,#ff2b00,#ff2500,#ff1f00,#ff1900,#ff1500,#ff1000,#ff0d00,#ff0a00,#ff0800,#ff0600,#ff0300,#ff0000,#fe0004,#fc0008,#fb000b,#fa000d,#f9000f,#f80011,#f80013,#f70015,#f60017,#f60019,#f5001b,#f5001c)"></i><i style="top:106px;height:2px;background:linear-gradient(90deg,#ffb500,#ffa800,#ff9100,#ff8300,#ff7400,#ff6700,#ff5c00,#ff5300,#ff4a00,#ff4100,#ff3900,#ff3200,#ff2b00,#ff2500,#ff1f00,#ff1900,#ff1500,#ff1000,#ff0d00,#ff0a00,#ff0800,#ff0600,#ff0300,#ff0000,#fe0004,#fc0008,#fb000b,#fa000d,#f9000f,#f80011,#f80013,#f70015,#f60017,#f60019,#f5001b,#f5001c)"></i><i class="m" style="top:106px;height:2px;background:linear-gradient(90deg,#ffbd00,#ffaf00,#ff9700,#ff8a00,#ff7d00,#ff7200,#ff6900,#ff6100,#ff5a00,#ff5300,#ff4c00,#ff4500,#ff3f00,#ff3a00,#ff3500,#ff2f00,#ff2b00,#ff2600,#ff2200,#ff1f00,#ff1b00,#ff1800,#ff1400,#ff1100,#ff0e00,#ff0c00,#ff0900,#ff0600,#ff0400,#ff0100,#ff0001,#fe0004,#fd0006,#fc0008,#fc0009,#fb000a)"></i><i style="top:108px;height:4px;background:linear-gradient(90deg,#ffbd00,#ffaf00,#ff9700,#ff8a00,#ff7d00,#ff7200,#ff6900,#ff6100,#ff5a00,#ff5300,#ff4c00,#ff4500,#ff3f00,#ff3a00,#ff3500,#ff2f00,#ff2b00,#ff2600,#ff2200,#ff1f00,#ff1b00,#ff1800,#ff1400,#ff1100,#ff0e00,#ff0c00,#ff0900,#ff0600,#ff0400,#ff0100,#ff0001,#fe0004,#fd0006,#fc0008,#fc0009,#fb000a)"></i><i class="m" style="top:108px;height:4px;background:linear-gradient(90deg,#ffc800,#ffb900,#ffa000,#ff9200,#ff8800,#ff8000,#ff7900,#ff7300,#ff6e00,#ff6900,#ff6400,#ff5f00,#ff5a00,#ff5500,#ff5100,#ff4c00,#ff4700,#ff4200,#ff3d00,#ff3800,#ff3300,#ff2e00,#ff2a00,#ff2600,#ff2200,#ff1e00,#ff1a00,#ff1600,#ff1200,#ff0e00,#ff0c00,#ff0a00,#ff0800,#ff0700,#ff0600,#ff0600)"></i><i style="top:112px;height:6px;background:linear-gradient(90deg,#ffc800,#ffb900,#ffa000,#ff9200,#ff8800,#ff8000,#ff7900,#ff7300,#ff6e00,#ff6900,#ff6400,#ff5f00,#ff5a00,#ff5500,#ff5100,#ff4c00,#ff4700,#ff4200,#ff3d00,#ff3800,#ff3300,#ff2e00,#ff2a00,#ff2600,#ff2200,#ff1e00,#ff1a00,#ff1600,#ff1200,#ff0e00,#ff0c00,#ff0a00,#ff0800,#ff0700,#ff0600,#ff0600)"></i><i class="m" style="top:112px;height:6px;background:linear-gradient(90deg,#ffcb00,#ffbf00,#ffa500,#ff9500,#ff8a00,#ff8300,#ff7d00,#ff7800,#ff7400,#ff7000,#ff6b00,#ff6600,#ff6100,#ff5c00,#ff5700,#ff5300,#ff4e00,#ff4900,#ff4400,#ff3f00,#ff3b00,#ff3600,#ff3100,#ff2c00,#ff2700,#ff2200,#ff1e00,#ff1a00,#ff1600,#ff1200,#ff0f00,#ff0e00,#ff0c00,#ff0b00,#ff0a00,#ff0a00)"></i><i style="top:118px;height:8px;background:linear-gradient(90deg,#ffcb00,#ffbf00,#ffa500,#ff9500,#ff8a00,#ff8300,#ff7d00,#ff7800,#ff7400,#ff7000,#ff6b00,#ff6600,#ff6100,#ff5c00,#ff5700,#ff5300,#ff4e00,#ff4900,#ff4400,#ff3f00,#ff3b00,#ff3600,#ff3100,#ff2c00,#ff2700,#ff2200,#ff1e00,#ff1a00,#ff1600,#ff1200,#ff0f00,#ff0e00,#ff0c00,#ff0b00,#ff0a00,#ff0a00)"></i><i class="m" style="top:118px;height:8px;background:linear-gradient(90deg,#ff9800,#ff8d00,#ff7500,#ff6600,#ff5d00,#ff5500,#ff5000,#ff4b00,#ff4600,#ff4200,#ff3d00,#ff3900,#ff3500,#ff3200,#ff2e00,#ff2b00,#ff2800,#ff2500,#ff2200,#ff1f00,#ff1c00,#ff1900,#ff1600,#ff1300,#ff1100,#ff0e00,#ff0c00,#ff0a00,#ff0800,#ff0600,#ff0400,#ff0300,#ff0200,#ff0000,#ff0001,#fe0001)"></i><i style="top:126px;height:5px;background:linear-gradient(90deg,#ff9800,#ff8d00,#ff7500,#ff6600,#ff5d00,#ff5500,#ff5000,#ff4b00,#ff4600,#ff4200,#ff3d00,#ff3900,#ff3500,#ff3200,#ff2e00,#ff2b00,#ff2800,#ff2500,#ff2200,#ff1f00,#ff1c00,#ff1900,#ff1600,#ff1300,#ff1100,#ff0e00,#ff0c00,#ff0a00,#ff0800,#ff0600,#ff0400,#ff0300,#ff0200,#ff0000,#ff0001,#fe0001)"></i><i class="m" style="top:126px;height:5px;background:linear-gradient(90deg,#ff6800,#ff5e00,#ff4c00,#ff4200,#ff3a00,#ff3400,#ff2e00,#ff2900,#ff2400,#ff2000,#ff1d00,#ff1b00,#ff1900,#ff1600,#ff1400,#ff1100,#ff0f00,#ff0d00,#ff0a00,#ff0700,#ff0500,#ff0200,#ff0100,#fe0001,#fe0003,#fd0005,#fc0007,#fc0009,#fb000b,#fa000d,#fa000f,#f90010,#f80012,#f70014,#f70016,#f60017)"></i><i style="top:131px;height:4px;background:linear-gradient(90deg,#ff6800,#ff5e00,#ff4c00,#ff4200,#ff3a00,#ff3400,#ff2e00,#ff2900,#ff2400,#ff2000,#ff1d00,#ff1b00,#ff1900,#ff1600,#ff1400,#ff1100,#ff0f00,#ff0d00,#ff0a00,#ff0700,#ff0500,#ff0200,#ff0100,#fe0001,#fe0003,#fd0005,#fc0007,#fc0009,#fb000b,#fa000d,#fa000f,#f90010,#f80012,#f70014,#f70016,#f60017)"></i><i class="m" style="top:131px;height:4px;background:linear-gradient(90deg,#ff4800,#ff4000,#ff3200,#ff2b00,#ff2400,#ff1f00,#ff1a00,#ff1600,#ff1200,#ff0f00,#ff0c00,#ff0a00,#ff0800,#ff0600,#ff0300,#ff0100,#fe0002,#fd0006,#fb0009,#fa000d,#f90011,#f70015,#f60017,#f60019,#f5001a,#f5001b,#f4001d,#f4001e,#f30020,#f30021,#f20023,#f10025,#f00027,#ef002a,#ed002d,#ed002e)"></i><i style="top:135px;height:5px;background:linear-gradient(90deg,#ff4800,#ff4000,#ff3200,#ff2b00,#ff2400,#ff1f00,#ff1a00,#ff1600,#ff1200,#ff0f00,#ff0c00,#ff0a00,#ff0800,#ff0600,#ff0300,#ff0100,#fe0002,#fd0006,#fb0009,#fa000d,#f90011,#f70015,#f60017,#f60019,#f5001a,#f5001b,#f4001d,#f4001e,#f30020,#f30021,#f20023,#f10025,#f00027,#ef002a,#ed002d,#ed002e)"></i><i class="m" style="top:135px;height:5px;background:linear-gradient(90deg,#ff2500,#ff1f00,#ff1600,#ff1200,#ff0d00,#ff0800,#ff0500,#ff0200,#ff0000,#fe0004,#fc0008,#fb000b,#f9000f,#f80013,#f70016,#f5001a,#f4001e,#f20022,#f10025,#ef002a,#ed002e,#eb0032,#ea0034,#e90036,#e80038,#e7003a,#e6003b,#e5003d,#e5003f,#e40040,#e20043,#e10045,#df0049,#dd004d,#db0052,#da0053)"></i><i style="top:140px;height:7px;background:linear-gradient(90deg,#ff2500,#ff1f00,#ff1600,#ff1200,#ff0d00,#ff0800,#ff0500,#ff0200,#ff0000,#fe0004,#fc0008,#fb000b,#f9000f,#f80013,#f70016,#f5001a,#f4001e,#f20022,#f10025,#ef002a,#ed002e,#eb0032,#ea0034,#e90036,#e80038,#e7003a,#e6003b,#e5003d,#e5003f,#e40040,#e20043,#e10045,#df0049,#dd004d,#db0052,#da0053)"></i><i class="m" style="top:140px;height:7px;background:linear-gradient(90deg,#ff0f00,#ff0b00,#ff0400,#fe0002,#fb000a,#f90010,#f70015,#f5001a,#f4001d,#f30021,#f10025,#f00029,#ee002d,#ec0031,#ea0035,#e80039,#e6003d,#e30041,#e10045,#df004a,#dc004f,#da0054,#d80058,#d6005b,#d5005d,#d40060,#d20062,#d10065,#d00067,#cf006a,#cd006d,#cc0070,#ca0074,#c90078,#c7007c,#c6007e)"></i><i style="top:147px;height:13px;background:linear-gradient(90deg,#ff0f00,#ff0b00,#ff0400,#fe0002,#fb000a,#f90010,#f70015,#f5001a,#f4001d,#f30021,#f10025,#f00029,#ee002d,#ec0031,#ea0035,#e80039,#e6003d,#e30041,#e10045,#df004a,#dc004f,#da0054,#d80058,#d6005b,#d5005d,#d40060,#d20062,#d10065,#d00067,#cf006a,#cd006d,#cc0070,#ca0074,#c90078,#c7007c,#c6007e)"></i><i class="m" style="top:147px;height:13px;background:linear-gradient(90deg,#fd0006,#fc0009,#f70015,#f30021,#f00028,#ec0030,#e90037,#e5003d,#e20043,#e00048,#dd004d,#db0052,#d90056,#d6005b,#d4005f,#d20063,#d00068,#ce006c,#cb0072,#c80079,#c50080,#c20087,#c0008d,#be0092,#bc0097,#ba009b,#b9009f,#b600a4,#b400a9,#b200ae,#b100b2,#af00b4,#ae00b7,#ad00b9,#ac00ba,#ac00bb)"></i><i style="top:160px;height:12px;background:linear-gradient(90deg,#fd0006,#fc0009,#f70015,#f30021,#f00028,#ec0030,#e90037,#e5003d,#e20043,#e00048,#dd004d,#db0052,#d90056,#d6005b,#d4005f,#d20063,#d00068,#ce006c,#cb0072,#c80079,#c50080,#c20087,#c0008d,#be0092,#bc0097,#ba009b,#b9009f,#b600a4,#b400a9,#b200ae,#b100b2,#af00b4,#ae00b7,#ad00b9,#ac00ba,#ac00bb)"></i><i class="m" style="top:160px;height:12px;background:linear-gradient(90deg,#f60019,#f4001c,#f00028,#ea0034,#e5003d,#e20044,#de004b,#db0051,#d80057,#d5005d,#d20063,#cf006a,#cc0070,#c90077,#c6007e,#c40084,#c1008b,#be0092,#bb0099,#b800a0,#b600a7,#b300ad,#b000b2,#ae00b7,#ac00bb,#aa00bf,#a800c3,#a500c8,#a300cc,#a100d0,#9f00d4,#9e00d7,#9c00d9,#9b00db,#9a00db,#9a00db)"></i><i style="top:172px;height:8px;background:linear-gradient(90deg,#f60019,#f4001c,#f00028,#ea0034,#e5003d,#e20044,#de004b,#db0051,#d80057,#d5005d,#d20063,#cf006a,#cc0070,#c90077,#c6007e,#c40084,#c1008b,#be0092,#bb0099,#b800a0,#b600a7,#b300ad,#b000b2,#ae00b7,#ac00bb,#aa00bf,#a800c3,#a500c8,#a300cc,#a100d0,#9f00d4,#9e00d7,#9c00d9,#9b00db,#9a00db,#9a00db)"></i><i class="m" style="top:172px;height:8px;background:linear-gradient(90deg,#f30021,#f10026,#ea0033,#e40040,#df0049,#db0052,#d70059,#d4005f,#d10065,#ce006c,#cb0074,#c7007c,#c40083,#c1008b,#be0092,#bb0099,#b800a0,#b500a7,#b300ae,#af00b4,#ac00ba,#a900c0,#a700c4,#a500c8,#a300cc,#a200cf,#a000d2,#9e00d6,#9c00da,#9a00da,#9700d7,#9500d5,#9400d3,#9200d1,#9100cf,#9000ce)"></i><i style="top:180px;height:9px;background:linear-gradient(90deg,#f30021,#f10026,#ea0033,#e40040,#df0049,#db0052,#d70059,#d4005f,#d10065,#ce006c,#cb0074,#c7007c,#c40083,#c1008b,#be0092,#bb0099,#b800a0,#b500a7,#b300ae,#af00b4,#ac00ba,#a900c0,#a700c4,#a500c8,#a300cc,#a200cf,#a000d2,#9e00d6,#9c00da,#9a00da,#9700d7,#9500d5,#9400d3,#9200d1,#9100cf,#9000ce)"></i><i class="m" style="top:180px;height:9px;background:linear-gradient(90deg,#f00029,#ec002f,#e5003f,#de004b,#d90056,#d4005f,#d00067,#cd006f,#c90076,#c6007e,#c30087,#bf0090,#bb0098,#b800a1,#b500a8,#b200af,#af00b6,#ab00bc,#a800c2,#a500c8,#a300cd,#a000d2,#9e00d6,#9d00d9,#9b00db,#9a00da,#9800d8,#9500d5,#9300d2,#9100cf,#8f00cd,#8d00ca,#8b00c8,#8a00c6,#8900c5,#8800c4)"></i><i style="top:189px;height:8px;background:linear-gradient(90deg,#f00029,#ec002f,#e5003f,#de004b,#d90056,#d4005f,#d00067,#cd006f,#c90076,#c6007e,#c30087,#bf0090,#bb0098,#b800a1,#b500a8,#b200af,#af00b6,#ab00bc,#a800c2,#a500c8,#a300cd,#a000d2,#9e00d6,#9d00d9,#9b00db,#9a00da,#9800d8,#9500d5,#9300d2,#9100cf,#8f00cd,#8d00ca,#8b00c8,#8a00c6,#8900c5,#8800c4)"></i><i class="m" style="top:189px;height:8px;background:linear-gradient(90deg,#ed002f,#e90037,#e00047,#da0054,#d30060,#ce006b,#ca0075,#c7007d,#c30085,#c0008d,#bc0096,#b800a0,#b500a9,#b100b1,#ad00b9,#aa00bf,#a600c6,#a300cc,#a100d1,#9e00d6,#9c00db,#9900d9,#9600d6,#9500d4,#9300d2,#9200d0,#9000ce,#8e00cc,#8d00ca,#8b00c8,#8900c5,#8800c3,#8600c1,#8400bf,#8300bd,#8200bd)"></i><i style="top:197px;height:9px;background:linear-gradient(90deg,#ed002f,#e90037,#e00047,#da0054,#d30060,#ce006b,#ca0075,#c7007d,#c30085,#c0008d,#bc0096,#b800a0,#b500a9,#b100b1,#ad00b9,#aa00bf,#a600c6,#a300cc,#a100d1,#9e00d6,#9c00db,#9900d9,#9600d6,#9500d4,#9300d2,#9200d0,#9000ce,#8e00cc,#8d00ca,#8b00c8,#8900c5,#8800c3,#8600c1,#8400bf,#8300bd,#8200bd)"></i><i class="m" style="top:197px;height:9px;background:linear-gradient(90deg,#e90035,#e5003d,#dc004f,#d5005d,#ce006b,#c90078,#c40083,#c0008c,#bd0095,#b9009e,#b500a7,#b200af,#ae00b8,#aa00bf,#a600c7,#a200ce,#9f00d4,#9c00da,#9900d9,#9600d5,#9300d2,#9100cf,#8e00cc,#8d00ca,#8b00c8,#8a00c6,#8900c5,#8700c3,#8600c2,#8500c0,#8400bf,#8300bd,#8100bb,#7f00b9,#7e00b7,#7d00b6)"></i><i style="top:206px;height:9px;background:linear-gradient(90deg,#e90035,#e5003d,#dc004f,#d5005d,#ce006b,#c90078,#c40083,#c0008c,#bd0095,#b9009e,#b500a7,#b200af,#ae00b8,#aa00bf,#a600c7,#a200ce,#9f00d4,#9c00da,#9900d9,#9600d5,#9300d2,#9100cf,#8e00cc,#8d00ca,#8b00c8,#8a00c6,#8900c5,#8700c3,#8600c2,#8500c0,#8400bf,#8300bd,#8100bb,#7f00b9,#7e00b7,#7d00b6)"></i><i class="m" style="top:206px;height:9px;background:linear-gradient(90deg,#e7003a,#e30042,#d90055,#d10065,#ca0076,#c40084,#bf0090,#ba009b,#b600a4,#b300ad,#af00b6,#ab00bd,#a700c4,#a400cb,#a000d2,#9c00da,#9700d8,#9300d2,#9000ce,#8e00cb,#8c00c8,#8a00c6,#8800c4,#8600c1,#8400bf,#8300bd,#8200bc,#8100bc,#8100bb,#8000ba,#8000b9,#7f00b8,#7d00b6,#7c00b4,#7a00b2,#7900b0)"></i><i style="top:215px;height:13px;background:linear-gradient(90deg,#e7003a,#e30042,#d90055,#d10065,#ca0076,#c40084,#bf0090,#ba009b,#b600a4,#b300ad,#af00b6,#ab00bd,#a700c4,#a400cb,#a000d2,#9c00da,#9700d8,#9300d2,#9000ce,#8e00cb,#8c00c8,#8a00c6,#8800c4,#8600c1,#8400bf,#8300bd,#8200bc,#8100bc,#8100bb,#8000ba,#8000b9,#7f00b8,#7d00b6,#7c00b4,#7a00b2,#7900b0)"></i><i class="m" style="top:215px;height:13px;background:linear-gradient(90deg,#e30042,#df0049,#d5005e,#cb0072,#c30085,#bd0095,#b700a2,#b300ad,#ae00b7,#a900c0,#a500c8,#a200ce,#9f00d4,#9c00da,#9800d8,#9200d1,#8d00ca,#8900c5,#8600c2,#8500bf,#8300be,#8200bc,#8000ba,#7e00b7,#7c00b5,#7b00b3,#7a00b2,#7a00b2,#7a00b2,#7a00b2,#7a00b2,#7a00b2,#7800b0,#7600ac,#7400a9,#7300a7)"></i><i style="top:228px;height:12px;background:linear-gradient(90deg,#e30042,#df0049,#d5005e,#cb0072,#c30085,#bd0095,#b700a2,#b300ad,#ae00b7,#a900c0,#a500c8,#a200ce,#9f00d4,#9c00da,#9800d8,#9200d1,#8d00ca,#8900c5,#8600c2,#8500bf,#8300be,#8200bc,#8000ba,#7e00b7,#7c00b5,#7b00b3,#7a00b2,#7a00b2,#7a00b2,#7a00b2,#7a00b2,#7a00b2,#7800b0,#7600ac,#7400a9,#7300a7)"></i><i class="m" style="top:228px;height:12px;background:linear-gradient(90deg,#df0049,#db0052,#ce006b,#c40083,#bc0096,#b600a6,#b100b2,#ab00bc,#a700c5,#a300cd,#9f00d4,#9c00db,#9800d8,#9300d2,#8f00cc,#8a00c6,#8600c1,#8200bc,#8000b9,#7e00b7,#7d00b5,#7b00b4,#7a00b2,#7800af,#7500ab,#7300a8,#7300a8,#7300a8,#7300a8,#7300a8,#7400a9,#7300a8,#7200a6,#7000a3,#6d009f,#6c009d)"></i><i style="top:240px;height:15px;background:linear-gradient(90deg,#df0049,#db0052,#ce006b,#c40083,#bc0096,#b600a6,#b100b2,#ab00bc,#a700c5,#a300cd,#9f00d4,#9c00db,#9800d8,#9300d2,#8f00cc,#8a00c6,#8600c1,#8200bc,#8000b9,#7e00b7,#7d00b5,#7b00b4,#7a00b2,#7800af,#7500ab,#7300a8,#7300a8,#7300a8,#7300a8,#7300a8,#7400a9,#7300a8,#7200a6,#7000a3,#6d009f,#6c009d)"></i><i class="m" style="top:240px;height:15px;background:linear-gradient(90deg,#db0052,#d5005e,#c7007d,#bc0097,#b400aa,#ad00b8,#a800c3,#a400cb,#a000d3,#9c00da,#9700d7,#9200d1,#8e00cb,#8900c6,#8500c1,#8200bc,#7f00b8,#7c00b4,#7a00b1,#7800ae,#7600ac,#7400aa,#7300a7,#7000a4,#6e00a1,#6c009e,#6c009d,#6c009d,#6c009d,#6c009d,#6c009d,#6b009d,#6a009b,#680097,#650094,#640092)"></i><i style="top:255px;height:20px;background:linear-gradient(90deg,#db0052,#d5005e,#c7007d,#bc0097,#b400aa,#ad00b8,#a800c3,#a400cb,#a000d3,#9c00da,#9700d7,#9200d1,#8e00cb,#8900c6,#8500c1,#8200bc,#7f00b8,#7c00b4,#7a00b1,#7800ae,#7600ac,#7400aa,#7300a7,#7000a4,#6e00a1,#6c009e,#6c009d,#6c009d,#6c009d,#6c009d,#6c009d,#6b009d,#6a009b,#680097,#650094,#640092)"></i><i class="m" style="top:255px;height:20px;background:linear-gradient(90deg,#d20063,#cc0070,#c0008e,#b600a4,#ae00b7,#a600c6,#a100d0,#9d00d9,#9800d8,#9300d1,#8d00ca,#8800c3,#8300bd,#7f00b8,#7c00b5,#7a00b2,#7800af,#7600ac,#7400a9,#7200a7,#7100a4,#6f00a2,#6d009f,#6b009c,#690099,#670096,#660095,#650094,#650093,#640092,#640091,#630090,#62008f,#61008d,#5f008b,#5f008a)"></i><i style="top:275px;height:26px;background:linear-gradient(90deg,#d20063,#cc0070,#c0008e,#b600a4,#ae00b7,#a600c6,#a100d0,#9d00d9,#9800d8,#9300d1,#8d00ca,#8800c3,#8300bd,#7f00b8,#7c00b5,#7a00b2,#7800af,#7600ac,#7400a9,#7200a7,#7100a4,#6f00a2,#6d009f,#6b009c,#690099,#670096,#660095,#650094,#650093,#640092,#640091,#630090,#62008f,#61008d,#5f008b,#5f008a)"></i><i class="m" style="top:275px;height:26px;background:linear-gradient(90deg,#c7007d,#c1008b,#b500a7,#ad00b9,#a500c9,#9e00d6,#9800d8,#9100d0,#8b00c8,#8600c2,#8200bc,#7d00b6,#7a00b1,#7600ad,#7400a9,#7200a7,#7100a4,#6f00a2,#6e00a0,#6c009d,#6a009b,#680098,#660095,#640092,#620090,#61008d,#5f008b,#5e0089,#5d0088,#5c0086,#5b0085,#5a0084,#5a0083,#590081,#580080,#580080)"></i><i style="top:301px;height:20px;background:linear-gradient(90deg,#c7007d,#c1008b,#b500a7,#ad00b9,#a500c9,#9e00d6,#9800d8,#9100d0,#8b00c8,#8600c2,#8200bc,#7d00b6,#7a00b1,#7600ad,#7400a9,#7200a7,#7100a4,#6f00a2,#6e00a0,#6c009d,#6a009b,#680098,#660095,#640092,#620090,#61008d,#5f008b,#5e0089,#5d0088,#5c0086,#5b0085,#5a0084,#5a0083,#590081,#580080,#580080)"></i><i class="m" style="top:301px;height:20px;background:linear-gradient(90deg,#bf0090,#ba009d,#ae00b7,#a400ca,#9d00d8,#9600d6,#8f00cd,#8900c5,#8400be,#7f00b8,#7b00b3,#7700ae,#7400a9,#7100a5,#6f00a2,#6d009f,#6c009d,#6a009a,#680098,#660095,#650093,#630090,#61008e,#5f008b,#5e0089,#5c0086,#5b0085,#5a0083,#590082,#580081,#57007f,#57007e,#56007d,#55007b,#54007a,#54007a)"></i><i style="top:321px;height:35px;background:linear-gradient(90deg,#bf0090,#ba009d,#ae00b7,#a400ca,#9d00d8,#9600d6,#8f00cd,#8900c5,#8400be,#7f00b8,#7b00b3,#7700ae,#7400a9,#7100a5,#6f00a2,#6d009f,#6c009d,#6a009a,#680098,#660095,#650093,#630090,#61008e,#5f008b,#5e0089,#5c0086,#5b0085,#5a0083,#590082,#580081,#57007f,#57007e,#56007d,#55007b,#54007a,#54007a)"></i><i class="m" style="top:321px;height:35px;background:linear-gradient(90deg,#ad00b8,#ab00be,#a200cf,#9800d9,#9000ce,#8900c6,#8400bf,#7f00b8,#7b00b3,#7600ad,#7300a7,#6f00a2,#6c009e,#6a009a,#680097,#660094,#640092,#630090,#61008d,#5f008a,#5d0087,#5b0085,#5a0083,#590082,#580080,#57007f,#57007e,#56007d,#55007c,#54007a,#530079,#520078,#510076,#500075,#4f0073,#4f0073)"></i><i style="top:356px;height:25px;background:linear-gradient(90deg,#ad00b8,#ab00be,#a200cf,#9800d9,#9000ce,#8900c6,#8400bf,#7f00b8,#7b00b3,#7600ad,#7300a7,#6f00a2,#6c009e,#6a009a,#680097,#660094,#640092,#630090,#61008d,#5f008a,#5d0087,#5b0085,#5a0083,#590082,#580080,#57007f,#57007e,#56007d,#55007c,#54007a,#530079,#520078,#510076,#500075,#4f0073,#4f0073)"></i><i class="m" style="top:356px;height:25px;background:linear-gradient(90deg,#a000d2,#9f00d4,#9900d9,#9000ce,#8900c6,#8400bf,#7f00b8,#7a00b2,#7500ab,#7100a5,#6e00a0,#6b009c,#690099,#670096,#650093,#630090,#61008e,#5f008b,#5e0088,#5c0086,#5a0083,#580080,#56007e,#56007d,#55007c,#54007b,#530079,#520078,#510076,#500075,#4f0074,#4f0073,#4e0072,#4e0071,#4d0071,#4d0070)"></i><i style="top:381px;height:27px;background:linear-gradient(90deg,#a000d2,#9f00d4,#9900d9,#9000ce,#8900c6,#8400bf,#7f00b8,#7a00b2,#7500ab,#7100a5,#6e00a0,#6b009c,#690099,#670096,#650093,#630090,#61008e,#5f008b,#5e0088,#5c0086,#5a0083,#580080,#56007e,#56007d,#55007c,#54007b,#530079,#520078,#510076,#500075,#4f0074,#4f0073,#4e0072,#4e0071,#4d0071,#4d0070)"></i><i class="m" style="top:381px;height:27px;background:linear-gradient(90deg,#9800d9,#9700d7,#9200d0,#8a00c6,#8300be,#7e00b7,#7900b1,#7500ab,#7100a5,#6e00a0,#6b009c,#680098,#650094,#630090,#61008d,#5f008b,#5d0088,#5c0086,#5a0083,#580081,#57007f,#56007d,#54007b,#530079,#520077,#510075,#500074,#4f0073,#4e0072,#4d0071,#4d0070,#4d0070,#4d0070,#4d0070,#4d0070,#4d0070)"></i><i style="top:408px;height:28px;background:linear-gradient(90deg,#9800d9,#9700d7,#9200d0,#8a00c6,#8300be,#7e00b7,#7900b1,#7500ab,#7100a5,#6e00a0,#6b009c,#680098,#650094,#630090,#61008d,#5f008b,#5d0088,#5c0086,#5a0083,#580081,#57007f,#56007d,#54007b,#530079,#520077,#510075,#500074,#4f0073,#4e0072,#4d0071,#4d0070,#4d0070,#4d0070,#4d0070,#4d0070,#4d0070)"></i><i class="m" style="top:408px;height:20px;background:linear-gradient(90deg,#9400d4,#9300d2,#8d00cb,#8500c0,#7f00b8,#7900b1,#7500ab,#7100a5,#6e00a1,#6b009c,#680098,#650094,#630090,#60008d,#5e008a,#5c0087,#5b0084,#590082,#580080,#57007f,#56007e,#55007c,#54007b,#520078,#500074,#4e0071,#4d0070,#4d0070,#4d0070,#4d0070,#4d0070,#4d0070,#4c006f,#4b006e,#4a006c,#49006b)"></i><i style="top:428px;height:8px;background:linear-gradient(90deg,#9400d4,#9300d2,#8d00cb,#8500c0,#7f00b8,#7900b1,#7500ab,#7100a5,#6e00a1,#6b009c,#680098,#650094,#630090,#60008d,#5e008a,#5c0087,#5b0084,#590082,#580080,#57007f,#56007e,#55007c,#54007b,#520078,#500074,#4e0071,#4d0070,#4d0070,#4d0070,#4d0070,#4d0070,#4d0070,#4c006f,#4b006e,#4a006c,#49006b)"></i></div></div><div class="hm" style="left:892.1px;top:80.0px;width:427.2px;height:427.0px"><div class="in" style="filter:blur(1.5px)"><i style="top:-8px;height:48px;background:linear-gradient(90deg,#ffb800,#ffb600,#ffad00,#ffa000,#ff9300,#ff8900,#ff8200,#ff7c00,#ff7700,#ff7100,#ff6b00,#ff6500,#ff5f00,#ff5900,#ff5300,#ff4c00,#ff4600,#ff4000,#ff3b00,#ff3500,#ff3000,#ff2c00,#ff2800,#ff2500,#ff2300,#ff2100,#ff1f00,#ff1b00,#ff1700,#ff1300,#ff1000,#ff0d00,#ff0a00,#ff0800,#ff0600,#ff0500)"></i><i class="m" style="top:0px;height:40px;background:linear-gradient(90deg,#ffcc00,#ffc800,#ffba00,#ffaa00,#ff9d00,#ff9300,#ff8b00,#ff8400,#ff7d00,#ff7600,#ff6f00,#ff6700,#ff6000,#ff5900,#ff5200,#ff4c00,#ff4600,#ff4000,#ff3b00,#ff3500,#ff3000,#ff2c00,#ff2800,#ff2500,#ff2300,#ff2100,#ff1f00,#ff1b00,#ff1700,#ff1300,#ff1000,#ff0d00,#ff0a00,#ff0800,#ff0600,#ff0500)"></i><i style="top:40px;height:34px;background:linear-gradient(90deg,#ffcc00,#ffc800,#ffba00,#ffaa00,#ff9d00,#ff9300,#ff8b00,#ff8400,#ff7d00,#ff7600,#ff6f00,#ff6700,#ff6000,#ff5900,#ff5200,#ff4c00,#ff4600,#ff4000,#ff3b00,#ff3500,#ff3000,#ff2c00,#ff2800,#ff2500,#ff2300,#ff2100,#ff1f00,#ff1b00,#ff1700,#ff1300,#ff1000,#ff0d00,#ff0a00,#ff0800,#ff0600,#ff0500)"></i><i class="m" style="top:40px;height:34px;background:linear-gradient(90deg,#ffbe00,#ffb900,#ffab00,#ff9c00,#ff8f00,#ff8500,#ff7d00,#ff7600,#ff6f00,#ff6900,#ff6200,#ff5a00,#ff5300,#ff4c00,#ff4600,#ff3f00,#ff3900,#ff3400,#ff2f00,#ff2c00,#ff2800,#ff2500,#ff2200,#ff2000,#ff1d00,#ff1b00,#ff1900,#ff1600,#ff1400,#ff1200,#ff0f00,#ff0d00,#ff0a00,#ff0800,#ff0500,#ff0400)"></i><i style="top:74px;height:9px;background:linear-gradient(90deg,#ffbe00,#ffb900,#ffab00,#ff9c00,#ff8f00,#ff8500,#ff7d00,#ff7600,#ff6f00,#ff6900,#ff6200,#ff5a00,#ff5300,#ff4c00,#ff4600,#ff3f00,#ff3900,#ff3400,#ff2f00,#ff2c00,#ff2800,#ff2500,#ff2200,#ff2000,#ff1d00,#ff1b00,#ff1900,#ff1600,#ff1400,#ff1200,#ff0f00,#ff0d00,#ff0a00,#ff0800,#ff0500,#ff0400)"></i><i class="m" style="top:74px;height:9px;background:linear-gradient(90deg,#ff9700,#ff9200,#ff8600,#ff7b00,#ff7100,#ff6800,#ff6100,#ff5b00,#ff5600,#ff5100,#ff4c00,#ff4700,#ff4200,#ff3e00,#ff3900,#ff3400,#ff2e00,#ff2a00,#ff2700,#ff2400,#ff2200,#ff2000,#ff1e00,#ff1b00,#ff1900,#ff1600,#ff1400,#ff1200,#ff0f00,#ff0d00,#ff0a00,#ff0800,#ff0600,#ff0300,#ff0100,#ff0000)"></i><i style="top:83px;height:8px;background:linear-gradient(90deg,#ff9700,#ff9200,#ff8600,#ff7b00,#ff7100,#ff6800,#ff6100,#ff5b00,#ff5600,#ff5100,#ff4c00,#ff4700,#ff4200,#ff3e00,#ff3900,#ff3400,#ff2e00,#ff2a00,#ff2700,#ff2400,#ff2200,#ff2000,#ff1e00,#ff1b00,#ff1900,#ff1600,#ff1400,#ff1200,#ff0f00,#ff0d00,#ff0a00,#ff0800,#ff0600,#ff0300,#ff0100,#ff0000)"></i><i class="m" style="top:83px;height:8px;background:linear-gradient(90deg,#ff3400,#ff3400,#ff3100,#ff2900,#ff2600,#ff2400,#ff2300,#ff2100,#ff2000,#ff1f00,#ff1e00,#ff1d00,#ff1c00,#ff1a00,#ff1900,#ff1800,#ff1700,#ff1500,#ff1400,#ff1300,#ff1200,#ff1000,#ff0f00,#ff0e00,#ff0d00,#ff0b00,#ff0a00,#ff0900,#ff0800,#ff0700,#ff0500,#ff0400,#ff0300,#ff0200,#ff0000,#ff0000)"></i><i style="top:91px;height:9px;background:linear-gradient(90deg,#ff3400,#ff3400,#ff3100,#ff2900,#ff2600,#ff2400,#ff2300,#ff2100,#ff2000,#ff1f00,#ff1e00,#ff1d00,#ff1c00,#ff1a00,#ff1900,#ff1800,#ff1700,#ff1500,#ff1400,#ff1300,#ff1200,#ff1000,#ff0f00,#ff0e00,#ff0d00,#ff0b00,#ff0a00,#ff0900,#ff0800,#ff0700,#ff0500,#ff0400,#ff0300,#ff0200,#ff0000,#ff0000)"></i><i class="m" style="top:91px;height:9px;background:linear-gradient(90deg,#fe0002,#fe0002,#fe0002,#fe0002,#fe0002,#fe0002,#fe0002,#fe0002,#fe0002,#fe0002,#fe0002,#fe0001,#fe0001,#ff0001,#ff0001,#ff0001,#ff0001,#ff0001,#ff0001,#ff0001,#ff0001,#ff0001,#ff0000,#ff0000,#ff0000,#ff0000,#ff0000,#ff0000,#ff0000,#ff0000,#ff0000,#ff0000,#ff0000,#ff0000,#ff0000,#ff0000)"></i><i style="top:100px;height:8px;background:linear-gradient(90deg,#fe0002,#fe0002,#fe0002,#fe0002,#fe0002,#fe0002,#fe0002,#fe0002,#fe0002,#fe0002,#fe0002,#fe0001,#fe0001,#ff0001,#ff0001,#ff0001,#ff0001,#ff0001,#ff0001,#ff0001,#ff0001,#ff0001,#ff0000,#ff0000,#ff0000,#ff0000,#ff0000,#ff0000,#ff0000,#ff0000,#ff0000,#ff0000,#ff0000,#ff0000,#ff0000,#ff0000)"></i><i class="m" style="top:100px;height:8px;background:linear-gradient(90deg,#f00027,#f00027,#f00027,#f00027,#f00027,#f00027,#f10026,#f20024,#f30021,#f3001f,#f4001d,#f5001b,#f5001a,#f60018,#f70016,#f80014,#f80012,#f90010,#fa000e,#fa000d,#fb000b,#fc0009,#fc0007,#fd0005,#fe0002,#ff0001,#ff0000,#ff0000,#ff0000,#ff0000,#ff0000,#ff0000,#ff0000,#ff0000,#ff0000,#ff0000)"></i><i style="top:108px;height:1px;background:linear-gradient(90deg,#f00027,#f00027,#f00027,#f00027,#f00027,#f00027,#f10026,#f20024,#f30021,#f3001f,#f4001d,#f5001b,#f5001a,#f60018,#f70016,#f80014,#f80012,#f90010,#fa000e,#fa000d,#fb000b,#fc0009,#fc0007,#fd0005,#fe0002,#ff0001,#ff0000,#ff0000,#ff0000,#ff0000,#ff0000,#ff0000,#ff0000,#ff0000,#ff0000,#ff0000)"></i><i class="m" style="top:108px;height:1px;background:linear-gradient(90deg,#eb0032,#eb0032,#eb0032,#eb0032,#eb0032,#eb0031,#ec0030,#ed002e,#ef002b,#f00028,#f10026,#f20024,#f20022,#f30020,#f4001d,#f5001b,#f60019,#f60017,#f70015,#f80013,#f90011,#fa000e,#fa000c,#fb000a,#fc0007,#fd0005,#fd0005,#fd0005,#fd0005,#fd0005,#fd0005,#fd0005,#fd0006,#fd0006,#fd0006,#fd0006)"></i><i style="top:109px;height:2px;background:linear-gradient(90deg,#eb0032,#eb0032,#eb0032,#eb0032,#eb0032,#eb0031,#ec0030,#ed002e,#ef002b,#f00028,#f10026,#f20024,#f20022,#f30020,#f4001d,#f5001b,#f60019,#f60017,#f70015,#f80013,#f90011,#fa000e,#fa000c,#fb000a,#fc0007,#fd0005,#fd0005,#fd0005,#fd0005,#fd0005,#fd0005,#fd0005,#fd0006,#fd0006,#fd0006,#fd0006)"></i><i class="m" style="top:109px;height:2px;background:linear-gradient(90deg,#d6005c,#d6005c,#d6005c,#d6005c,#d70059,#d80057,#d90055,#db0052,#dc004f,#dd004d,#df004a,#e00048,#e10045,#e20043,#e40041,#e5003e,#e6003c,#e70039,#e90037,#ea0034,#eb0031,#ed002f,#ee002d,#ee002c,#ef002b,#ef002a,#ef002b,#ee002c,#ed002e,#ec0030,#eb0032,#ea0034,#e90036,#e80038,#e7003a,#e7003a)"></i><i style="top:111px;height:3px;background:linear-gradient(90deg,#d6005c,#d6005c,#d6005c,#d6005c,#d70059,#d80057,#d90055,#db0052,#dc004f,#dd004d,#df004a,#e00048,#e10045,#e20043,#e40041,#e5003e,#e6003c,#e70039,#e90037,#ea0034,#eb0031,#ed002f,#ee002d,#ee002c,#ef002b,#ef002a,#ef002b,#ee002c,#ed002e,#ec0030,#eb0032,#ea0034,#e90036,#e80038,#e7003a,#e7003a)"></i><i class="m" style="top:111px;height:3px;background:linear-gradient(90deg,#b9009e,#b9009e,#b9009e,#b9009e,#bb0099,#bd0095,#be0092,#bf0090,#c0008e,#c0008c,#c1008a,#c20088,#c30086,#c40083,#c50081,#c6007f,#c7007d,#c8007b,#c90078,#ca0075,#cb0073,#cc0071,#cc0070,#cb0072,#ca0074,#c90077,#c8007a,#c6007e,#c50082,#c20087,#c1008c,#bf0090,#bd0095,#bb0099,#b9009e,#b8009f)"></i><i style="top:114px;height:2px;background:linear-gradient(90deg,#b9009e,#b9009e,#b9009e,#b9009e,#bb0099,#bd0095,#be0092,#bf0090,#c0008e,#c0008c,#c1008a,#c20088,#c30086,#c40083,#c50081,#c6007f,#c7007d,#c8007b,#c90078,#ca0075,#cb0073,#cc0071,#cc0070,#cb0072,#ca0074,#c90077,#c8007a,#c6007e,#c50082,#c20087,#c1008c,#bf0090,#bd0095,#bb0099,#b9009e,#b8009f)"></i><i class="m" style="top:114px;height:2px;background:linear-gradient(90deg,#ad00b8,#ad00b8,#ad00b8,#ad00b8,#af00b5,#b000b2,#b100b0,#b200af,#b200ae,#b300ad,#b300ab,#b400aa,#b500a9,#b500a7,#b600a6,#b600a5,#b700a3,#b700a2,#b800a0,#b9009e,#ba009c,#ba009b,#ba009b,#ba009c,#b9009f,#b700a2,#b600a5,#b500a9,#b300ae,#b000b3,#ae00b8,#ab00bc,#a900c1,#a700c5,#a400ca,#a300cc)"></i><i style="top:116px;height:1px;background:linear-gradient(90deg,#ad00b8,#ad00b8,#ad00b8,#ad00b8,#af00b5,#b000b2,#b100b0,#b200af,#b200ae,#b300ad,#b300ab,#b400aa,#b500a9,#b500a7,#b600a6,#b600a5,#b700a3,#b700a2,#b800a0,#b9009e,#ba009c,#ba009b,#ba009b,#ba009c,#b9009f,#b700a2,#b600a5,#b500a9,#b300ae,#b000b3,#ae00b8,#ab00bc,#a900c1,#a700c5,#a400ca,#a300cc)"></i><i class="m" style="top:116px;height:1px;background:linear-gradient(90deg,#a800c3,#a800c3,#a800c3,#a800c3,#a900c1,#aa00bf,#aa00be,#ab00bd,#ab00bc,#ac00bc,#ac00bb,#ac00ba,#ad00b9,#ad00b8,#ae00b7,#ae00b7,#af00b6,#af00b5,#af00b4,#b000b3,#b100b1,#b100b0,#b100b0,#b100b1,#b000b4,#ae00b7,#ad00ba,#ab00bd,#a800c2,#a600c7,#a300cb,#a100d0,#9f00d5,#9c00d9,#9a00da,#9800d9)"></i><i style="top:117px;height:1px;background:linear-gradient(90deg,#a800c3,#a800c3,#a800c3,#a800c3,#a900c1,#aa00bf,#aa00be,#ab00bd,#ab00bc,#ac00bc,#ac00bb,#ac00ba,#ad00b9,#ad00b8,#ae00b7,#ae00b7,#af00b6,#af00b5,#af00b4,#b000b3,#b100b1,#b100b0,#b100b0,#b100b1,#b000b4,#ae00b7,#ad00ba,#ab00bd,#a800c2,#a600c7,#a300cb,#a100d0,#9f00d5,#9c00d9,#9a00da,#9800d9)"></i><i class="m" style="top:117px;height:1px;background:linear-gradient(90deg,#a200cd,#a200cd,#a200cd,#a200cd,#a300cc,#a400cb,#a400ca,#a400ca,#a400ca,#a500c9,#a500c9,#a500c8,#a500c8,#a500c8,#a600c7,#a600c7,#a600c6,#a600c6,#a600c6,#a700c5,#a700c4,#a700c4,#a800c3,#a700c4,#a600c7,#a500c9,#a300cc,#a100d0,#9f00d4,#9d00d9,#9a00da,#9600d6,#9300d2,#9000ce,#8c00c9,#8b00c8)"></i><i style="top:118px;height:1px;background:linear-gradient(90deg,#a200cd,#a200cd,#a200cd,#a200cd,#a300cc,#a400cb,#a400ca,#a400ca,#a400ca,#a500c9,#a500c9,#a500c8,#a500c8,#a500c8,#a600c7,#a600c7,#a600c6,#a600c6,#a600c6,#a700c5,#a700c4,#a700c4,#a800c3,#a700c4,#a600c7,#a500c9,#a300cc,#a100d0,#9f00d4,#9d00d9,#9a00da,#9600d6,#9300d2,#9000ce,#8c00c9,#8b00c8)"></i><i class="m" style="top:118px;height:1px;background:linear-gradient(90deg,#9e00d7,#9e00d7,#9e00d7,#9e00d7,#9e00d6,#9e00d6,#9e00d6,#9e00d6,#9e00d6,#9e00d6,#9e00d6,#9e00d6,#9e00d5,#9e00d5,#9e00d5,#9f00d5,#9f00d5,#9f00d5,#9f00d5,#9f00d5,#9f00d4,#9f00d4,#9f00d4,#9e00d5,#9d00d7,#9c00da,#9a00db,#9800d8,#9500d4,#9100cf,#8e00cb,#8a00c7,#8700c3,#8400bf,#8100bb,#8000b9)"></i><i style="top:119px;height:1px;background:linear-gradient(90deg,#9e00d7,#9e00d7,#9e00d7,#9e00d7,#9e00d6,#9e00d6,#9e00d6,#9e00d6,#9e00d6,#9e00d6,#9e00d6,#9e00d6,#9e00d5,#9e00d5,#9e00d5,#9f00d5,#9f00d5,#9f00d5,#9f00d5,#9f00d5,#9f00d4,#9f00d4,#9f00d4,#9e00d5,#9d00d7,#9c00da,#9a00db,#9800d8,#9500d4,#9100cf,#8e00cb,#8a00c7,#8700c3,#8400bf,#8100bb,#8000b9)"></i><i class="m" style="top:119px;height:1px;background:linear-gradient(90deg,#9800d8,#9800d8,#9800d8,#9800d8,#9800d8,#9800d8,#9800d8,#9800d8,#9800d8,#9800d8,#9800d8,#9800d8,#9700d8,#9700d7,#9700d7,#9700d7,#9700d7,#9700d7,#9700d7,#9700d7,#9700d7,#9700d7,#9700d7,#9600d6,#9400d3,#9200d1,#9000ce,#8d00cb,#8a00c6,#8700c2,#8300be,#8000ba,#7d00b6,#7a00b2,#7700ad,#7500ab)"></i><i style="top:120px;height:6px;background:linear-gradient(90deg,#9800d8,#9800d8,#9800d8,#9800d8,#9800d8,#9800d8,#9800d8,#9800d8,#9800d8,#9800d8,#9800d8,#9800d8,#9700d8,#9700d7,#9700d7,#9700d7,#9700d7,#9700d7,#9700d7,#9700d7,#9700d7,#9700d7,#9700d7,#9600d6,#9400d3,#9200d1,#9000ce,#8d00cb,#8a00c6,#8700c2,#8300be,#8000ba,#7d00b6,#7a00b2,#7700ad,#7500ab)"></i><i class="m" style="top:120px;height:6px;background:linear-gradient(90deg,#7500ab,#7500ab,#7600ac,#7600ac,#7200a6,#7000a3,#7000a3,#7000a4,#7000a4,#7000a4,#7000a4,#7000a4,#7000a4,#7000a4,#7000a4,#7000a4,#7000a4,#7100a4,#7100a4,#7000a3,#6e00a0,#6c009d,#6a009a,#670096,#630091,#5f008b,#5c0086,#580080,#54007a,#500074,#4d006f,#4a006b,#470068,#450064,#430062,#430061)"></i><i style="top:126px;height:8px;background:linear-gradient(90deg,#7500ab,#7500ab,#7600ac,#7600ac,#7200a6,#7000a3,#7000a3,#7000a4,#7000a4,#7000a4,#7000a4,#7000a4,#7000a4,#7000a4,#7000a4,#7000a4,#7000a4,#7100a4,#7100a4,#7000a3,#6e00a0,#6c009d,#6a009a,#670096,#630091,#5f008b,#5c0086,#580080,#54007a,#500074,#4d006f,#4a006b,#470068,#450064,#430062,#430061)"></i><i class="m" style="top:126px;height:8px;background:linear-gradient(90deg,#530079,#54007a,#530079,#4e0071,#49006b,#470067,#450064,#430061,#41005f,#41005f,#41005f,#42005f,#420060,#420060,#420060,#41005e,#40005c,#3e005a,#3d0058,#3b0056,#3a0053,#380050,#36004d,#34004b,#330048,#310046,#2f0043,#2d003f,#2b003c,#290039,#270037,#270036,#270036,#270036,#260035,#260035)"></i><i style="top:134px;height:10px;background:linear-gradient(90deg,#530079,#54007a,#530079,#4e0071,#49006b,#470067,#450064,#430061,#41005f,#41005f,#41005f,#42005f,#420060,#420060,#420060,#41005e,#40005c,#3e005a,#3d0058,#3b0056,#3a0053,#380050,#36004d,#34004b,#330048,#310046,#2f0043,#2d003f,#2b003c,#290039,#270037,#270036,#270036,#270036,#260035,#260035)"></i><i class="m" style="top:134px;height:10px;background:linear-gradient(90deg,#460066,#420061,#3d0058,#390052,#36004d,#330049,#320047,#300045,#2f0043,#2e0041,#2d003f,#2b003d,#2a003b,#290039,#270036,#250034,#240031,#22002f,#22002f,#22002f,#22002f,#22002f,#22002e,#21002d,#1f002a,#1d0027,#1c0026,#1c0025,#1c0025,#1c0025,#1c0025,#1c0025,#1c0025,#1c0025,#1c0025,#1c0025)"></i><i style="top:144px;height:3px;background:linear-gradient(90deg,#460066,#420061,#3d0058,#390052,#36004d,#330049,#320047,#300045,#2f0043,#2e0041,#2d003f,#2b003d,#2a003b,#290039,#270036,#250034,#240031,#22002f,#22002f,#22002f,#22002f,#22002f,#22002e,#21002d,#1f002a,#1d0027,#1c0026,#1c0025,#1c0025,#1c0025,#1c0025,#1c0025,#1c0025,#1c0025,#1c0025,#1c0025)"></i><i class="m" style="top:144px;height:3px;background:linear-gradient(90deg,#4a006c,#470067,#40005d,#3c0056,#380051,#36004d,#34004a,#330048,#310046,#300044,#2e0042,#2d003f,#2b003d,#2a003b,#280038,#260035,#240032,#230031,#230030,#230030,#230030,#230030,#22002f,#21002d,#1f002a,#1d0027,#1d0026,#1d0026,#1d0026,#1d0026,#1d0026,#1d0026,#1d0026,#1d0026,#1d0026,#1d0026)"></i><i style="top:147px;height:8px;background:linear-gradient(90deg,#4a006c,#470067,#40005d,#3c0056,#380051,#36004d,#34004a,#330048,#310046,#300044,#2e0042,#2d003f,#2b003d,#2a003b,#280038,#260035,#240032,#230031,#230030,#230030,#230030,#230030,#22002f,#21002d,#1f002a,#1d0027,#1d0026,#1d0026,#1d0026,#1d0026,#1d0026,#1d0026,#1d0026,#1d0026,#1d0026,#1d0026)"></i><i class="m" style="top:147px;height:8px;background:linear-gradient(90deg,#8000b9,#7d00b5,#7600ac,#7000a3,#680098,#62008f,#5e0089,#5a0084,#57007f,#54007a,#500075,#4c006f,#480069,#450064,#41005e,#3e0059,#3b0055,#380050,#36004d,#34004a,#320048,#310046,#300043,#2e0041,#2c003e,#2b003c,#2a003b,#2a003b,#2a003b,#2a003b,#2a003b,#2a003b,#2a003b,#2a003b,#2a003b,#2a003b)"></i><i style="top:155px;height:7px;background:linear-gradient(90deg,#8000b9,#7d00b5,#7600ac,#7000a3,#680098,#62008f,#5e0089,#5a0084,#57007f,#54007a,#500075,#4c006f,#480069,#450064,#41005e,#3e0059,#3b0055,#380050,#36004d,#34004a,#320048,#310046,#300043,#2e0041,#2c003e,#2b003c,#2a003b,#2a003b,#2a003b,#2a003b,#2a003b,#2a003b,#2a003b,#2a003b,#2a003b,#2a003b)"></i><i class="m" style="top:155px;height:7px;background:linear-gradient(90deg,#9b00dc,#9800d8,#9200d0,#8d00cb,#8900c6,#8600c1,#8300bd,#8000ba,#7d00b6,#7a00b2,#7600ac,#7100a4,#6b009d,#660095,#61008e,#5c0086,#57007f,#520078,#4e0072,#4b006d,#470068,#450064,#420060,#40005d,#3f005b,#3e0059,#3d0059,#3d0059,#3d0059,#3d0059,#3e0059,#3e0059,#3e0059,#3e0059,#3e0059,#3e0059)"></i><i style="top:162px;height:3px;background:linear-gradient(90deg,#9b00dc,#9800d8,#9200d0,#8d00cb,#8900c6,#8600c1,#8300bd,#8000ba,#7d00b6,#7a00b2,#7600ac,#7100a4,#6b009d,#660095,#61008e,#5c0086,#57007f,#520078,#4e0072,#4b006d,#470068,#450064,#420060,#40005d,#3f005b,#3e0059,#3d0059,#3d0059,#3d0059,#3d0059,#3e0059,#3e0059,#3e0059,#3e0059,#3e0059,#3e0059)"></i><i class="m" style="top:162px;height:3px;background:linear-gradient(90deg,#a400cb,#a200cf,#9d00d8,#9a00da,#9600d6,#9300d2,#9000cf,#8e00cb,#8a00c7,#8700c3,#8300bd,#7e00b7,#7900b1,#7400a9,#6e00a1,#690098,#630090,#5e0089,#5a0083,#56007d,#520077,#4f0073,#4c006f,#4a006b,#480068,#460066,#450065,#450065,#450065,#450065,#450065,#450065,#450065,#450065,#450065,#450065)"></i><i style="top:165px;height:2px;background:linear-gradient(90deg,#a400cb,#a200cf,#9d00d8,#9a00da,#9600d6,#9300d2,#9000cf,#8e00cb,#8a00c7,#8700c3,#8300bd,#7e00b7,#7900b1,#7400a9,#6e00a1,#690098,#630090,#5e0089,#5a0083,#56007d,#520077,#4f0073,#4c006f,#4a006b,#480068,#460066,#450065,#450065,#450065,#450065,#450065,#450065,#450065,#450065,#450065,#450065)"></i><i class="m" style="top:165px;height:2px;background:linear-gradient(90deg,#aa00be,#a800c2,#a300cb,#a000d2,#9e00d6,#9c00db,#9900d9,#9600d5,#9200d1,#8f00cd,#8b00c7,#8600c1,#8100ba,#7b00b4,#7600ac,#7000a4,#6a009b,#650093,#61008d,#5c0086,#580081,#55007c,#520078,#500074,#4d0070,#4c006e,#4b006d,#4b006d,#4a006c,#4a006c,#4a006c,#4a006c,#4a006c,#4a006c,#4a006c,#4a006c)"></i><i style="top:167px;height:3px;background:linear-gradient(90deg,#aa00be,#a800c2,#a300cb,#a000d2,#9e00d6,#9c00db,#9900d9,#9600d5,#9200d1,#8f00cd,#8b00c7,#8600c1,#8100ba,#7b00b4,#7600ac,#7000a4,#6a009b,#650093,#61008d,#5c0086,#580081,#55007c,#520078,#500074,#4d0070,#4c006e,#4b006d,#4b006d,#4a006c,#4a006c,#4a006c,#4a006c,#4a006c,#4a006c,#4a006c,#4a006c)"></i><i class="m" style="top:167px;height:3px;background:linear-gradient(90deg,#b500a9,#b300ad,#ae00b7,#aa00be,#a700c4,#a500c9,#a200ce,#a000d3,#9d00d8,#9a00db,#9600d5,#9100cf,#8b00c8,#8600c1,#8100ba,#7b00b4,#7500ab,#7000a3,#6b009c,#660095,#62008f,#5e0089,#5b0085,#580081,#56007d,#54007a,#530079,#520078,#520077,#510076,#510076,#510076,#510076,#510076,#510077,#510077)"></i><i style="top:170px;height:3px;background:linear-gradient(90deg,#b500a9,#b300ad,#ae00b7,#aa00be,#a700c4,#a500c9,#a200ce,#a000d3,#9d00d8,#9a00db,#9600d5,#9100cf,#8b00c8,#8600c1,#8100ba,#7b00b4,#7500ab,#7000a3,#6b009c,#660095,#62008f,#5e0089,#5b0085,#580081,#56007d,#54007a,#530079,#520078,#520077,#510076,#510076,#510076,#510076,#510076,#510077,#510077)"></i><i class="m" style="top:170px;height:3px;background:linear-gradient(90deg,#be0092,#bc0096,#b800a1,#b400aa,#b100b2,#ad00b8,#aa00be,#a800c3,#a500c8,#a200ce,#9f00d5,#9b00dc,#9600d5,#9000ce,#8b00c7,#8500c0,#8000b9,#7a00b3,#7500ab,#7000a4,#6c009d,#680097,#640092,#61008d,#5e0089,#5c0086,#5a0084,#590082,#580081,#57007f,#57007f,#57007f,#580080,#580080,#580080,#580081)"></i><i style="top:173px;height:3px;background:linear-gradient(90deg,#be0092,#bc0096,#b800a1,#b400aa,#b100b2,#ad00b8,#aa00be,#a800c3,#a500c8,#a200ce,#9f00d5,#9b00dc,#9600d5,#9000ce,#8b00c7,#8500c0,#8000b9,#7a00b3,#7500ab,#7000a4,#6c009d,#680097,#640092,#61008d,#5e0089,#5c0086,#5a0084,#590082,#580081,#57007f,#57007f,#57007f,#580080,#580080,#580080,#580081)"></i><i class="m" style="top:173px;height:3px;background:linear-gradient(90deg,#c8007b,#c6007f,#c1008a,#bd0095,#b9009f,#b500a7,#b200ae,#af00b4,#ad00ba,#a900c0,#a600c7,#a200ce,#9e00d6,#9a00da,#9400d3,#8e00cc,#8900c5,#8300be,#7f00b8,#7a00b2,#7500aa,#7000a4,#6d009e,#690099,#660095,#630091,#61008e,#60008c,#5e008a,#5d0088,#5d0087,#5d0088,#5d0088,#5e0089,#5e0089,#5e0089)"></i><i style="top:176px;height:4px;background:linear-gradient(90deg,#c8007b,#c6007f,#c1008a,#bd0095,#b9009f,#b500a7,#b200ae,#af00b4,#ad00ba,#a900c0,#a600c7,#a200ce,#9e00d6,#9a00da,#9400d3,#8e00cc,#8900c5,#8300be,#7f00b8,#7a00b2,#7500aa,#7000a4,#6d009e,#690099,#660095,#630091,#61008e,#60008c,#5e008a,#5d0088,#5d0087,#5d0088,#5d0088,#5e0089,#5e0089,#5e0089)"></i><i class="m" style="top:176px;height:4px;background:linear-gradient(90deg,#d5005e,#d30062,#cd006e,#c8007b,#c30087,#be0091,#bb009a,#b800a1,#b500a8,#b200af,#ae00b6,#aa00be,#a600c6,#a200ce,#9e00d6,#9900da,#9300d2,#8e00cb,#8900c5,#8400be,#7f00b8,#7b00b3,#7700ad,#7300a8,#6f00a2,#6c009e,#6a009a,#680097,#660094,#640092,#640091,#640092,#640092,#650093,#650093,#650094)"></i><i style="top:180px;height:6px;background:linear-gradient(90deg,#d5005e,#d30062,#cd006e,#c8007b,#c30087,#be0091,#bb009a,#b800a1,#b500a8,#b200af,#ae00b6,#aa00be,#a600c6,#a200ce,#9e00d6,#9900da,#9300d2,#8e00cb,#8900c5,#8400be,#7f00b8,#7b00b3,#7700ad,#7300a8,#6f00a2,#6c009e,#6a009a,#680097,#660094,#640092,#640091,#640092,#640092,#650093,#650093,#650094)"></i><i class="m" style="top:180px;height:6px;background:linear-gradient(90deg,#e5003e,#e30041,#dd004d,#d6005b,#cf0068,#ca0074,#c6007e,#c30087,#bf0090,#bb0098,#b800a2,#b400ab,#b000b3,#ab00bc,#a700c5,#a200ce,#9e00d7,#9900d9,#9300d2,#8e00cb,#8900c5,#8500c0,#8100bb,#7d00b6,#7a00b2,#7600ad,#7400a9,#7100a5,#6f00a2,#6d009f,#6c009e,#6c009e,#6c009e,#6c009e,#6c009d,#6c009d)"></i><i style="top:186px;height:10px;background:linear-gradient(90deg,#e5003e,#e30041,#dd004d,#d6005b,#cf0068,#ca0074,#c6007e,#c30087,#bf0090,#bb0098,#b800a2,#b400ab,#b000b3,#ab00bc,#a700c5,#a200ce,#9e00d7,#9900d9,#9300d2,#8e00cb,#8900c5,#8500c0,#8100bb,#7d00b6,#7a00b2,#7600ad,#7400a9,#7100a5,#6f00a2,#6d009f,#6c009e,#6c009e,#6c009e,#6c009e,#6c009d,#6c009d)"></i><i class="m" style="top:186px;height:10px;background:linear-gradient(90deg,#f70016,#f5001a,#f10025,#eb0032,#e5003e,#df0049,#d90055,#d30061,#cd006d,#c80079,#c40085,#bf0090,#bb009a,#b600a5,#b200b0,#ac00bb,#a600c6,#a100d0,#9d00d8,#9900d9,#9400d3,#9000cd,#8c00c9,#8800c4,#8500c0,#8200bc,#7f00b9,#7e00b6,#7c00b4,#7b00b3,#7900b1,#7700ae,#7600ac,#7400aa,#7300a7,#7200a6)"></i><i style="top:196px;height:24px;background:linear-gradient(90deg,#f70016,#f5001a,#f10025,#eb0032,#e5003e,#df0049,#d90055,#d30061,#cd006d,#c80079,#c40085,#bf0090,#bb009a,#b600a5,#b200b0,#ac00bb,#a600c6,#a100d0,#9d00d8,#9900d9,#9400d3,#9000cd,#8c00c9,#8800c4,#8500c0,#8200bc,#7f00b9,#7e00b6,#7c00b4,#7b00b3,#7900b1,#7700ae,#7600ac,#7400aa,#7300a7,#7200a6)"></i><i class="m" style="top:196px;height:24px;background:linear-gradient(90deg,#ff0001,#fe0002,#fc0009,#f4001e,#ed002d,#e6003c,#de004b,#d7005a,#d00068,#ca0076,#c40083,#bf0090,#ba009c,#b500a8,#af00b5,#a800c2,#a200cf,#9c00db,#9500d5,#9000ce,#8b00c8,#8700c3,#8300be,#8000b9,#7c00b5,#7900b1,#7700ad,#7400aa,#7300a7,#7100a5,#7000a3,#6e00a0,#6c009d,#6a009b,#680098,#680097)"></i><i style="top:220px;height:26px;background:linear-gradient(90deg,#ff0001,#fe0002,#fc0009,#f4001e,#ed002d,#e6003c,#de004b,#d7005a,#d00068,#ca0076,#c40083,#bf0090,#ba009c,#b500a8,#af00b5,#a800c2,#a200cf,#9c00db,#9500d5,#9000ce,#8b00c8,#8700c3,#8300be,#8000b9,#7c00b5,#7900b1,#7700ad,#7400aa,#7300a7,#7100a5,#7000a3,#6e00a0,#6c009d,#6a009b,#680098,#680097)"></i><i class="m" style="top:220px;height:26px;background:linear-gradient(90deg,#fe0001,#ff0000,#fd0005,#f60019,#ee002d,#e4003f,#dc0050,#d4005f,#cd006f,#c6007e,#c0008e,#ba009d,#b400ab,#ad00b8,#a700c5,#a000d3,#9800d9,#9000cf,#8b00c7,#8600c1,#8200bc,#7e00b7,#7b00b3,#7700ad,#7300a8,#6f00a3,#6d009f,#6b009c,#690099,#670097,#660094,#640092,#62008f,#60008c,#5f008a,#5e0089)"></i><i style="top:246px;height:18px;background:linear-gradient(90deg,#fe0001,#ff0000,#fd0005,#f60019,#ee002d,#e4003f,#dc0050,#d4005f,#cd006f,#c6007e,#c0008e,#ba009d,#b400ab,#ad00b8,#a700c5,#a000d3,#9800d9,#9000cf,#8b00c7,#8600c1,#8200bc,#7e00b7,#7b00b3,#7700ad,#7300a8,#6f00a3,#6d009f,#6b009c,#690099,#670097,#660094,#640092,#62008f,#60008c,#5f008a,#5e0089)"></i><i class="m" style="top:246px;height:18px;background:linear-gradient(90deg,#fd0004,#fe0001,#fd0004,#f70016,#ed002f,#e10046,#d7005a,#cd006d,#c60080,#bf0091,#b800a1,#b200b0,#ab00bd,#a400c9,#9e00d5,#9800d8,#9000ce,#8a00c6,#8500c0,#8100bb,#7d00b6,#7a00b2,#7600ad,#7200a7,#6f00a1,#6b009c,#680098,#660095,#650093,#630090,#61008e,#60008b,#5e0089,#5c0086,#5a0084,#5a0083)"></i><i style="top:264px;height:18px;background:linear-gradient(90deg,#fd0004,#fe0001,#fd0004,#f70016,#ed002f,#e10046,#d7005a,#cd006d,#c60080,#bf0091,#b800a1,#b200b0,#ab00bd,#a400c9,#9e00d5,#9800d8,#9000ce,#8a00c6,#8500c0,#8100bb,#7d00b6,#7a00b2,#7600ad,#7200a7,#6f00a1,#6b009c,#680098,#660095,#650093,#630090,#61008e,#60008b,#5e0089,#5c0086,#5a0084,#5a0083)"></i><i class="m" style="top:264px;height:18px;background:linear-gradient(90deg,#fc0008,#fe0002,#fe0004,#f70015,#eb0031,#dd004d,#d10065,#c7007b,#bf0090,#b700a3,#b000b2,#a900c0,#a300cc,#9d00d8,#9700d6,#8f00cd,#8900c5,#8400be,#7f00b9,#7c00b4,#7900b0,#7600ac,#7200a7,#6e00a1,#6a009b,#670096,#640092,#62008f,#60008c,#5f008a,#5d0088,#5b0085,#5a0082,#580080,#56007d,#55007c)"></i><i style="top:282px;height:40px;background:linear-gradient(90deg,#fc0008,#fe0002,#fe0004,#f70015,#eb0031,#dd004d,#d10065,#c7007b,#bf0090,#b700a3,#b000b2,#a900c0,#a300cc,#9d00d8,#9700d6,#8f00cd,#8900c5,#8400be,#7f00b9,#7c00b4,#7900b0,#7600ac,#7200a7,#6e00a1,#6a009b,#670096,#640092,#62008f,#60008c,#5f008a,#5d0088,#5b0085,#5a0082,#580080,#56007d,#55007c)"></i><i class="m" style="top:282px;height:40px;background:linear-gradient(90deg,#fa000d,#fd0004,#fd0005,#f5001a,#e7003a,#d7005a,#c90077,#bd0094,#b300ad,#aa00c0,#a300cc,#9e00d6,#9900da,#9300d2,#8d00ca,#8600c1,#7f00b9,#7a00b1,#7500aa,#7100a5,#6e00a0,#6b009c,#670097,#630091,#60008b,#5c0086,#590082,#57007f,#55007c,#54007a,#520078,#500075,#4f0073,#4d0070,#4b006d,#4a006c)"></i><i style="top:322px;height:37px;background:linear-gradient(90deg,#fa000d,#fd0004,#fd0005,#f5001a,#e7003a,#d7005a,#c90077,#bd0094,#b300ad,#aa00c0,#a300cc,#9e00d6,#9900da,#9300d2,#8d00ca,#8600c1,#7f00b9,#7a00b1,#7500aa,#7100a5,#6e00a0,#6b009c,#670097,#630091,#60008b,#5c0086,#590082,#57007f,#55007c,#54007a,#520078,#500075,#4f0073,#4d0070,#4b006d,#4a006c)"></i><i class="m" style="top:322px;height:37px;background:linear-gradient(90deg,#f80013,#fc0007,#fc0008,#f20022,#e20044,#d10066,#c30086,#b700a4,#ab00bd,#a200cf,#9c00da,#9700d6,#9200d0,#8c00c9,#8600c1,#7f00b8,#7800af,#7200a6,#6d009f,#690099,#660094,#62008f,#5f008a,#5b0085,#57007f,#54007a,#510076,#4f0073,#4d0070,#4b006e,#4a006c,#480069,#460066,#450064,#430061,#420060)"></i><i style="top:359px;height:40px;background:linear-gradient(90deg,#f80013,#fc0007,#fc0008,#f20022,#e20044,#d10066,#c30086,#b700a4,#ab00bd,#a200cf,#9c00da,#9700d6,#9200d0,#8c00c9,#8600c1,#7f00b8,#7800af,#7200a6,#6d009f,#690099,#660094,#62008f,#5f008a,#5b0085,#57007f,#54007a,#510076,#4f0073,#4d0070,#4b006e,#4a006c,#480069,#460066,#450064,#430061,#420060)"></i><i class="m" style="top:359px;height:40px;background:linear-gradient(90deg,#f5001a,#fa000f,#f9000f,#ef0029,#dc004f,#cb0073,#be0092,#b100b0,#a500c8,#9d00d9,#9500d5,#9000ce,#8b00c7,#8600c1,#8000b9,#7800b0,#7100a5,#6a009b,#650094,#62008e,#5e0089,#5b0085,#580080,#54007a,#500074,#4c006f,#4a006b,#470068,#460066,#440063,#430061,#41005e,#40005c,#3e005a,#3d0058,#3c0057)"></i><i style="top:399px;height:36px;background:linear-gradient(90deg,#f5001a,#fa000f,#f9000f,#ef0029,#dc004f,#cb0073,#be0092,#b100b0,#a500c8,#9d00d9,#9500d5,#9000ce,#8b00c7,#8600c1,#8000b9,#7800b0,#7100a5,#6a009b,#650094,#62008e,#5e0089,#5b0085,#580080,#54007a,#500074,#4c006f,#4a006b,#470068,#460066,#440063,#430061,#41005e,#40005c,#3e005a,#3d0058,#3c0057)"></i><i class="m" style="top:399px;height:28px;background:linear-gradient(90deg,#f30020,#f70016,#f70016,#ec0030,#d80057,#c7007c,#bb009a,#af00b5,#a400cb,#9b00db,#9300d2,#8d00ca,#8800c4,#8200bd,#7c00b4,#7400aa,#6d009f,#660095,#61008e,#5e0088,#5a0084,#57007f,#54007a,#500074,#4c006f,#480069,#460065,#430062,#420060,#41005e,#3f005c,#3e005a,#3c0057,#3b0055,#3a0053,#390052)"></i><i style="top:427px;height:8px;background:linear-gradient(90deg,#f30020,#f70016,#f70016,#ec0030,#d80057,#c7007c,#bb009a,#af00b5,#a400cb,#9b00db,#9300d2,#8d00ca,#8800c4,#8200bd,#7c00b4,#7400aa,#6d009f,#660095,#61008e,#5e0088,#5a0084,#57007f,#54007a,#500074,#4c006f,#480069,#460065,#430062,#420060,#41005e,#3f005c,#3e005a,#3c0057,#3b0055,#3a0053,#390052)"></i></div></div><div class="hm" style="left:113.2px;top:716.0px;width:427.3px;height:427.0px"><div class="in" style="filter:blur(1.5px)"><i style="top:-8px;height:28px;background:linear-gradient(90deg,#3f005b,#450064,#57007f,#670096,#7200a7,#7b00b3,#8200bd,#8900c5,#8f00cc,#9400d3,#9900d9,#9c00d9,#9f00d4,#a300cc,#a800c2,#b000b3,#b700a2,#be0091,#c40083,#ca0075,#d00067,#d6005c,#dc0050,#e10045,#e6003b,#ec0031,#f00027,#f4001e,#f70016,#fa000e,#fc0009,#fd0006,#fe0003,#ff0001,#ff0000,#ff0000)"></i><i class="m" style="top:0px;height:20px;background:linear-gradient(90deg,#290039,#2f0042,#3c0056,#460066,#520077,#5c0086,#670096,#7100a5,#7b00b3,#8300bd,#8a00c7,#9100cf,#9700d7,#9d00d8,#a300cc,#aa00bf,#b100b2,#b700a3,#bd0094,#c30085,#ca0076,#d00067,#d7005a,#dd004d,#e30041,#e90036,#ee002c,#f10024,#f4001e,#f60018,#f80014,#f90010,#fa000c,#fc0009,#fd0006,#fd0005)"></i><i style="top:20px;height:14px;background:linear-gradient(90deg,#290039,#2f0042,#3c0056,#460066,#520077,#5c0086,#670096,#7100a5,#7b00b3,#8300bd,#8a00c7,#9100cf,#9700d7,#9d00d8,#a300cc,#aa00bf,#b100b2,#b700a3,#bd0094,#c30085,#ca0076,#d00067,#d7005a,#dd004d,#e30041,#e90036,#ee002c,#f10024,#f4001e,#f60018,#f80014,#f90010,#fa000c,#fc0009,#fd0006,#fd0005)"></i><i class="m" style="top:20px;height:14px;background:linear-gradient(90deg,#1e0028,#230030,#2d0040,#35004c,#3d0058,#460066,#510075,#5b0085,#660095,#7100a5,#7b00b3,#8300be,#8c00c8,#9400d3,#9c00d9,#a300cd,#a900c1,#af00b4,#b600a6,#bc0096,#c30086,#ca0075,#d00066,#d80058,#df004a,#e5003e,#ea0034,#ee002c,#f10026,#f30020,#f5001b,#f60017,#f80013,#fa000f,#fb000b,#fb000a)"></i><i style="top:34px;height:12px;background:linear-gradient(90deg,#1e0028,#230030,#2d0040,#35004c,#3d0058,#460066,#510075,#5b0085,#660095,#7100a5,#7b00b3,#8300be,#8c00c8,#9400d3,#9c00d9,#a300cd,#a900c1,#af00b4,#b600a6,#bc0096,#c30086,#ca0075,#d00066,#d80058,#df004a,#e5003e,#ea0034,#ee002c,#f10026,#f30020,#f5001b,#f60017,#f80013,#fa000f,#fb000b,#fb000a)"></i><i class="m" style="top:34px;height:12px;background:linear-gradient(90deg,#16001c,#1a0022,#21002d,#270036,#2e0041,#35004c,#3d0058,#450065,#4f0073,#5a0083,#650093,#7100a4,#7c00b5,#8600c2,#9000ce,#9900d9,#9f00d3,#a600c7,#ad00b9,#b400aa,#bb0099,#c20089,#c80079,#cf0069,#d6005a,#dd004d,#e30042,#e80038,#ed002f,#f00027,#f30021,#f4001c,#f60018,#f80014,#f90011,#f90010)"></i><i style="top:46px;height:7px;background:linear-gradient(90deg,#16001c,#1a0022,#21002d,#270036,#2e0041,#35004c,#3d0058,#450065,#4f0073,#5a0083,#650093,#7100a4,#7c00b5,#8600c2,#9000ce,#9900d9,#9f00d3,#a600c7,#ad00b9,#b400aa,#bb0099,#c20089,#c80079,#cf0069,#d6005a,#dd004d,#e30042,#e80038,#ed002f,#f00027,#f30021,#f4001c,#f60018,#f80014,#f90011,#f90010)"></i><i class="m" style="top:46px;height:7px;background:linear-gradient(90deg,#130018,#15001b,#1b0024,#20002b,#260035,#2d003f,#33004a,#3a0054,#420060,#4c006f,#57007f,#640092,#7100a5,#7d00b6,#8700c2,#9000ce,#9900d9,#a000d3,#a700c5,#ae00b6,#b600a6,#bc0096,#c30087,#c90076,#d00067,#d70058,#de004c,#e30041,#e90036,#ee002d,#f10025,#f30020,#f5001c,#f60018,#f70015,#f70015)"></i><i style="top:53px;height:8px;background:linear-gradient(90deg,#130018,#15001b,#1b0024,#20002b,#260035,#2d003f,#33004a,#3a0054,#420060,#4c006f,#57007f,#640092,#7100a5,#7d00b6,#8700c2,#9000ce,#9900d9,#a000d3,#a700c5,#ae00b6,#b600a6,#bc0096,#c30087,#c90076,#d00067,#d70058,#de004c,#e30041,#e90036,#ee002d,#f10025,#f30020,#f5001c,#f60018,#f70015,#f70015)"></i><i class="m" style="top:53px;height:8px;background:linear-gradient(90deg,#100014,#120017,#16001d,#1b0023,#1f002a,#240032,#2a003b,#300044,#37004f,#3f005b,#49006a,#55007c,#62008f,#6f00a2,#7a00b2,#8400bf,#8e00cb,#9700d7,#a000d3,#a700c5,#ae00b6,#b500a7,#bc0098,#c20088,#c90077,#d00067,#d7005a,#dd004e,#e30042,#e80037,#ec002f,#f00029,#f20024,#f30020,#f4001d,#f4001c)"></i><i style="top:61px;height:7px;background:linear-gradient(90deg,#100014,#120017,#16001d,#1b0023,#1f002a,#240032,#2a003b,#300044,#37004f,#3f005b,#49006a,#55007c,#62008f,#6f00a2,#7a00b2,#8400bf,#8e00cb,#9700d7,#a000d3,#a700c5,#ae00b6,#b500a7,#bc0098,#c20088,#c90077,#d00067,#d7005a,#dd004e,#e30042,#e80037,#ec002f,#f00029,#f20024,#f30020,#f4001d,#f4001c)"></i><i class="m" style="top:61px;height:7px;background:linear-gradient(90deg,#0e0011,#100014,#140019,#17001e,#1a0022,#1d0027,#22002f,#270037,#2e0042,#36004d,#3d0059,#470068,#530079,#5f008b,#6b009c,#7700ae,#8300bd,#8d00cb,#9800d8,#9f00d3,#a600c6,#ad00b9,#b400ab,#ba009b,#c1008a,#c8007a,#ce006b,#d4005f,#da0054,#df004a,#e30041,#e7003a,#ea0033,#ed002e,#ef0029,#f00028)"></i><i style="top:68px;height:6px;background:linear-gradient(90deg,#0e0011,#100014,#140019,#17001e,#1a0022,#1d0027,#22002f,#270037,#2e0042,#36004d,#3d0059,#470068,#530079,#5f008b,#6b009c,#7700ae,#8300bd,#8d00cb,#9800d8,#9f00d3,#a600c6,#ad00b9,#b400ab,#ba009b,#c1008a,#c8007a,#ce006b,#d4005f,#da0054,#df004a,#e30041,#e7003a,#ea0033,#ed002e,#ef0029,#f00028)"></i><i class="m" style="top:68px;height:6px;background:linear-gradient(90deg,#0e0012,#100014,#140019,#17001e,#1a0022,#1d0026,#21002d,#260035,#2c003d,#310046,#380050,#3f005c,#49006a,#53007a,#5f008a,#6b009c,#7800af,#8300be,#8e00cb,#9700d7,#9e00d6,#a500c9,#ab00bd,#b200af,#b800a0,#be0091,#c40084,#c90078,#ce006c,#d20062,#d7005a,#da0053,#dd004d,#e00047,#e30042,#e40040)"></i><i style="top:74px;height:5px;background:linear-gradient(90deg,#0e0012,#100014,#140019,#17001e,#1a0022,#1d0026,#21002d,#260035,#2c003d,#310046,#380050,#3f005c,#49006a,#53007a,#5f008a,#6b009c,#7800af,#8300be,#8e00cb,#9700d7,#9e00d6,#a500c9,#ab00bd,#b200af,#b800a0,#be0091,#c40084,#c90078,#ce006c,#d20062,#d7005a,#da0053,#dd004d,#e00047,#e30042,#e40040)"></i><i class="m" style="top:74px;height:5px;background:linear-gradient(90deg,#120016,#130018,#16001c,#180020,#1b0024,#1e0029,#22002f,#270036,#2b003c,#2f0042,#34004a,#3a0053,#41005e,#4a006b,#54007a,#60008b,#6c009e,#7800b0,#8300bd,#8c00c9,#9500d5,#9d00d8,#a300cd,#a800c3,#ad00b9,#b200b0,#b600a6,#ba009b,#bf0090,#c30087,#c50080,#c7007c,#c80079,#ca0076,#cb0073,#cb0072)"></i><i style="top:79px;height:5px;background:linear-gradient(90deg,#120016,#130018,#16001c,#180020,#1b0024,#1e0029,#22002f,#270036,#2b003c,#2f0042,#34004a,#3a0053,#41005e,#4a006b,#54007a,#60008b,#6c009e,#7800b0,#8300bd,#8c00c9,#9500d5,#9d00d8,#a300cd,#a800c3,#ad00b9,#b200b0,#b600a6,#ba009b,#bf0090,#c30087,#c50080,#c7007c,#c80079,#ca0076,#cb0073,#cb0072)"></i><i class="m" style="top:79px;height:5px;background:linear-gradient(90deg,#190021,#190021,#1a0023,#1b0024,#1e0028,#21002d,#240032,#270036,#2a003b,#2d0040,#320047,#37004f,#3d0058,#440062,#4d0070,#580080,#640091,#6f00a2,#7900b1,#8300bd,#8b00c8,#9300d2,#9900da,#9e00d7,#a100d0,#a400cb,#a700c4,#ab00bc,#b000b3,#b400ab,#b500a7,#b600a6,#b600a6,#b600a6,#b600a6,#b600a5)"></i><i style="top:84px;height:4px;background:linear-gradient(90deg,#190021,#190021,#1a0023,#1b0024,#1e0028,#21002d,#240032,#270036,#2a003b,#2d0040,#320047,#37004f,#3d0058,#440062,#4d0070,#580080,#640091,#6f00a2,#7900b1,#8300bd,#8b00c8,#9300d2,#9900da,#9e00d7,#a100d0,#a400cb,#a700c4,#ab00bc,#b000b3,#b400ab,#b500a7,#b600a6,#b600a6,#b600a6,#b600a6,#b600a5)"></i><i class="m" style="top:84px;height:4px;background:linear-gradient(90deg,#270037,#260035,#240031,#23002f,#250033,#280037,#29003a,#2b003c,#2d003f,#300044,#34004a,#380051,#3e0059,#440063,#4d006f,#57007e,#61008e,#6c009d,#7400a9,#7c00b5,#8300be,#8a00c6,#9000ce,#9500d5,#9a00db,#9e00d7,#a100d1,#a400ca,#a800c3,#ab00bd,#ac00ba,#ac00ba,#ac00ba,#ac00bb,#ac00bb,#ac00bb)"></i><i style="top:88px;height:5px;background:linear-gradient(90deg,#270037,#260035,#240031,#23002f,#250033,#280037,#29003a,#2b003c,#2d003f,#300044,#34004a,#380051,#3e0059,#440063,#4d006f,#57007e,#61008e,#6c009d,#7400a9,#7c00b5,#8300be,#8a00c6,#9000ce,#9500d5,#9a00db,#9e00d7,#a100d1,#a400ca,#a800c3,#ab00bd,#ac00ba,#ac00ba,#ac00ba,#ac00bb,#ac00bb,#ac00bb)"></i><i class="m" style="top:88px;height:5px;background:linear-gradient(90deg,#54007b,#500074,#450064,#3f005c,#3f005b,#3f005b,#3e005a,#3d0059,#3d0059,#3e005a,#40005c,#420060,#450064,#480069,#4e0071,#56007e,#60008c,#690099,#6f00a2,#7400a9,#7a00b1,#7f00b8,#8400bf,#8b00c7,#9200d0,#9800d8,#9c00da,#9e00d5,#a100d0,#a300cd,#a400cb,#a400cb,#a400cb,#a400cb,#a400cb,#a400cb)"></i><i style="top:93px;height:4px;background:linear-gradient(90deg,#54007b,#500074,#450064,#3f005c,#3f005b,#3f005b,#3e005a,#3d0059,#3d0059,#3e005a,#40005c,#420060,#450064,#480069,#4e0071,#56007e,#60008c,#690099,#6f00a2,#7400a9,#7a00b1,#7f00b8,#8400bf,#8b00c7,#9200d0,#9800d8,#9c00da,#9e00d5,#a100d0,#a300cd,#a400cb,#a400cb,#a400cb,#a400cb,#a400cb,#a400cb)"></i><i class="m" style="top:93px;height:4px;background:linear-gradient(90deg,#7b00b4,#7400aa,#650093,#5c0086,#580080,#55007c,#530079,#500075,#4f0073,#4e0072,#4e0071,#4e0071,#4e0071,#4e0071,#4f0073,#56007d,#5f008b,#680098,#6d009f,#7100a4,#7300a8,#7700ad,#7b00b3,#8100bb,#8900c5,#9000ce,#9400d3,#9600d6,#9800d8,#9900da,#9a00db,#9a00db,#9a00db,#9a00db,#9a00db,#9a00db)"></i><i style="top:97px;height:4px;background:linear-gradient(90deg,#7b00b4,#7400aa,#650093,#5c0086,#580080,#55007c,#530079,#500075,#4f0073,#4e0072,#4e0071,#4e0071,#4e0071,#4e0071,#4f0073,#56007d,#5f008b,#680098,#6d009f,#7100a4,#7300a8,#7700ad,#7b00b3,#8100bb,#8900c5,#9000ce,#9400d3,#9600d6,#9800d8,#9900da,#9a00db,#9a00db,#9a00db,#9a00db,#9a00db,#9a00db)"></i><i class="m" style="top:97px;height:4px;background:linear-gradient(90deg,#9200d1,#8a00c6,#7b00b3,#7100a4,#6a009a,#650093,#62008f,#60008c,#5e0089,#5c0087,#5b0085,#5a0083,#590081,#57007f,#56007e,#5b0085,#630090,#6a009a,#6e00a0,#6f00a3,#6f00a2,#6f00a2,#6f00a3,#7100a4,#7300a7,#7500ab,#7700ae,#7800af,#7900b0,#7900b1,#7900b1,#7900b1,#7900b1,#7900b1,#7900b1,#7900b1)"></i><i style="top:101px;height:2px;background:linear-gradient(90deg,#9200d1,#8a00c6,#7b00b3,#7100a4,#6a009a,#650093,#62008f,#60008c,#5e0089,#5c0087,#5b0085,#5a0083,#590081,#57007f,#56007e,#5b0085,#630090,#6a009a,#6e00a0,#6f00a3,#6f00a2,#6f00a2,#6f00a3,#7100a4,#7300a7,#7500ab,#7700ae,#7800af,#7900b0,#7900b1,#7900b1,#7900b1,#7900b1,#7900b1,#7900b1,#7900b1)"></i><i class="m" style="top:101px;height:2px;background:linear-gradient(90deg,#9c00db,#9300d2,#8400be,#7a00b2,#7200a6,#6d009e,#6a009a,#670097,#660094,#640092,#630090,#62008e,#60008c,#5e008a,#5e0088,#61008d,#660095,#6c009d,#6e00a1,#6f00a2,#6d00a0,#6c009d,#6a009a,#670096,#630091,#61008e,#61008d,#62008e,#62008f,#62008f,#62008f,#62008f,#62008f,#62008f,#62008f,#62008f)"></i><i style="top:103px;height:2px;background:linear-gradient(90deg,#9c00db,#9300d2,#8400be,#7a00b2,#7200a6,#6d009e,#6a009a,#670097,#660094,#640092,#630090,#62008e,#60008c,#5e008a,#5e0088,#61008d,#660095,#6c009d,#6e00a1,#6f00a2,#6d00a0,#6c009d,#6a009a,#670096,#630091,#61008e,#61008d,#62008e,#62008f,#62008f,#62008f,#62008f,#62008f,#62008f,#62008f,#62008f)"></i><i class="m" style="top:103px;height:2px;background:linear-gradient(90deg,#a300cc,#9d00d9,#8e00cb,#8400bf,#7b00b3,#7500ab,#7300a7,#7100a4,#6f00a2,#6e00a0,#6c009e,#6b009c,#69009a,#680097,#670096,#680098,#6b009d,#6e00a1,#6f00a2,#6f00a1,#6c009e,#690099,#650094,#5e008a,#56007e,#500074,#4d0071,#4e0071,#4e0071,#4e0071,#4e0071,#4e0071,#4e0071,#4e0071,#4e0071,#4e0071)"></i><i style="top:105px;height:2px;background:linear-gradient(90deg,#a300cc,#9d00d9,#8e00cb,#8400bf,#7b00b3,#7500ab,#7300a7,#7100a4,#6f00a2,#6e00a0,#6c009e,#6b009c,#69009a,#680097,#670096,#680098,#6b009d,#6e00a1,#6f00a2,#6f00a1,#6c009e,#690099,#650094,#5e008a,#56007e,#500074,#4d0071,#4e0071,#4e0071,#4e0071,#4e0071,#4e0071,#4e0071,#4e0071,#4e0071,#4e0071)"></i><i class="m" style="top:105px;height:2px;background:linear-gradient(90deg,#ac00bb,#a500c8,#9900da,#9000ce,#8500c1,#8000b9,#7d00b6,#7c00b4,#7b00b3,#7900b1,#7800af,#7600ac,#7500aa,#7300a8,#7200a6,#7100a5,#7100a5,#7100a5,#7000a4,#6f00a1,#6b009c,#670097,#62008f,#590082,#4e0071,#440063,#41005e,#41005e,#41005e,#41005e,#41005e,#41005e,#41005e,#41005e,#41005e,#41005e)"></i><i style="top:107px;height:2px;background:linear-gradient(90deg,#ac00bb,#a500c8,#9900da,#9000ce,#8500c1,#8000b9,#7d00b6,#7c00b4,#7b00b3,#7900b1,#7800af,#7600ac,#7500aa,#7300a8,#7200a6,#7100a5,#7100a5,#7100a5,#7000a4,#6f00a1,#6b009c,#670097,#62008f,#590082,#4e0071,#440063,#41005e,#41005e,#41005e,#41005e,#41005e,#41005e,#41005e,#41005e,#41005e,#41005e)"></i><i class="m" style="top:107px;height:2px;background:linear-gradient(90deg,#b600a5,#b000b3,#a500c8,#9e00d5,#9500d4,#8e00cc,#8c00c9,#8b00c7,#8900c6,#8800c4,#8600c2,#8500c0,#8300be,#8100bb,#8000b9,#7e00b6,#7b00b3,#7800af,#7500ab,#7100a6,#6e00a0,#69009a,#640092,#5a0083,#4e0072,#440063,#40005d,#40005d,#40005d,#40005d,#40005d,#40005d,#40005d,#40005d,#40005d,#40005d)"></i><i style="top:109px;height:1px;background:linear-gradient(90deg,#b600a5,#b000b3,#a500c8,#9e00d5,#9500d4,#8e00cc,#8c00c9,#8b00c7,#8900c6,#8800c4,#8600c2,#8500c0,#8300be,#8100bb,#8000b9,#7e00b6,#7b00b3,#7800af,#7500ab,#7100a6,#6e00a0,#69009a,#640092,#5a0083,#4e0072,#440063,#40005d,#40005d,#40005d,#40005d,#40005d,#40005d,#40005d,#40005d,#40005d,#40005d)"></i><i class="m" style="top:109px;height:1px;background:linear-gradient(90deg,#bd0095,#b700a3,#ad00b8,#a700c4,#a000d3,#9b00db,#9a00da,#9800d8,#9700d7,#9500d5,#9400d3,#9200d0,#9000ce,#8e00cc,#8c00c9,#8a00c6,#8700c2,#8400be,#8000ba,#7c00b4,#7700ae,#7200a6,#6c009d,#61008e,#55007b,#4a006c,#460065,#450064,#440063,#440063,#440062,#440062,#440062,#440062,#440062,#440062)"></i><i style="top:110px;height:1px;background:linear-gradient(90deg,#bd0095,#b700a3,#ad00b8,#a700c4,#a000d3,#9b00db,#9a00da,#9800d8,#9700d7,#9500d5,#9400d3,#9200d0,#9000ce,#8e00cc,#8c00c9,#8a00c6,#8700c2,#8400be,#8000ba,#7c00b4,#7700ae,#7200a6,#6c009d,#61008e,#55007b,#4a006c,#460065,#450064,#440063,#440063,#440062,#440062,#440062,#440062,#440062,#440062)"></i><i class="m" style="top:110px;height:1px;background:linear-gradient(90deg,#c40084,#bf0090,#b600a5,#b100b0,#ab00bd,#a700c4,#a600c7,#a500c9,#a400cb,#a300cd,#a100cf,#a000d2,#9f00d4,#9e00d7,#9c00d9,#9a00db,#9700d7,#9400d3,#9000ce,#8b00c7,#8500c0,#7f00b8,#7800af,#6c009e,#5f008b,#54007a,#4f0073,#4d0070,#4c006e,#4b006d,#4a006c,#4a006c,#4a006c,#4a006c,#4a006c,#4a006c)"></i><i style="top:111px;height:1px;background:linear-gradient(90deg,#c40084,#bf0090,#b600a5,#b100b0,#ab00bd,#a700c4,#a600c7,#a500c9,#a400cb,#a300cd,#a100cf,#a000d2,#9f00d4,#9e00d7,#9c00d9,#9a00db,#9700d7,#9400d3,#9000ce,#8b00c7,#8500c0,#7f00b8,#7800af,#6c009e,#5f008b,#54007a,#4f0073,#4d0070,#4c006e,#4b006d,#4a006c,#4a006c,#4a006c,#4a006c,#4a006c,#4a006c)"></i><i class="m" style="top:111px;height:1px;background:linear-gradient(90deg,#cc0071,#c7007c,#bf008f,#bb0099,#b700a4,#b400aa,#b300ac,#b200ae,#b100b0,#b000b3,#af00b5,#ad00b8,#ac00ba,#ab00bd,#aa00bf,#a800c3,#a600c7,#a400cb,#a100d1,#9c00d9,#9500d5,#8d00cb,#8500c1,#7b00b3,#6d009e,#61008d,#5a0084,#580080,#55007d,#54007a,#530079,#530079,#530079,#530079,#530079,#530079)"></i><i style="top:112px;height:1px;background:linear-gradient(90deg,#cc0071,#c7007c,#bf008f,#bb0099,#b700a4,#b400aa,#b300ac,#b200ae,#b100b0,#b000b3,#af00b5,#ad00b8,#ac00ba,#ab00bd,#aa00bf,#a800c3,#a600c7,#a400cb,#a100d1,#9c00d9,#9500d5,#8d00cb,#8500c1,#7b00b3,#6d009e,#61008d,#5a0084,#580080,#55007d,#54007a,#530079,#530079,#530079,#530079,#530079,#530079)"></i><i class="m" style="top:112px;height:1px;background:linear-gradient(90deg,#d4005f,#d00068,#c90078,#c50081,#c20089,#c0008d,#bf008f,#be0091,#bd0094,#bc0097,#bb0099,#ba009c,#b9009e,#b800a1,#b700a3,#b600a6,#b400aa,#b200ae,#b000b4,#aa00be,#a400ca,#9d00d8,#9500d4,#8900c5,#7c00b4,#6f00a3,#680098,#640092,#61008d,#5e008a,#5d0088,#5d0088,#5d0088,#5d0088,#5d0088,#5d0088)"></i><i style="top:113px;height:1px;background:linear-gradient(90deg,#d4005f,#d00068,#c90078,#c50081,#c20089,#c0008d,#bf008f,#be0091,#bd0094,#bc0097,#bb0099,#ba009c,#b9009e,#b800a1,#b700a3,#b600a6,#b400aa,#b200ae,#b000b4,#aa00be,#a400ca,#9d00d8,#9500d4,#8900c5,#7c00b4,#6f00a3,#680098,#640092,#61008d,#5e008a,#5d0088,#5d0088,#5d0088,#5d0088,#5d0088,#5d0088)"></i><i class="m" style="top:113px;height:1px;background:linear-gradient(90deg,#dd004e,#d90055,#d20063,#cf0069,#cd006e,#cc0071,#cb0073,#ca0075,#c90078,#c8007b,#c7007d,#c60080,#c50082,#c40084,#c30087,#c20089,#c0008c,#bf0090,#bd0096,#b800a1,#b100b0,#a900c0,#a200cf,#9800d8,#8b00c7,#7f00b8,#7700ae,#7200a6,#6d00a0,#6a009b,#690099,#690099,#690099,#690099,#690099,#690099)"></i><i style="top:114px;height:1px;background:linear-gradient(90deg,#dd004e,#d90055,#d20063,#cf0069,#cd006e,#cc0071,#cb0073,#ca0075,#c90078,#c8007b,#c7007d,#c60080,#c50082,#c40084,#c30087,#c20089,#c0008c,#bf0090,#bd0096,#b800a1,#b100b0,#a900c0,#a200cf,#9800d8,#8b00c7,#7f00b8,#7700ae,#7200a6,#6d00a0,#6a009b,#690099,#690099,#690099,#690099,#690099,#690099)"></i><i class="m" style="top:114px;height:1px;background:linear-gradient(90deg,#e5003e,#e20044,#dc004f,#d90055,#d80057,#d70058,#d7005a,#d6005c,#d4005f,#d30062,#d20064,#d10066,#d00068,#cf006a,#ce006c,#cd006e,#cc0071,#ca0074,#c80079,#c30086,#bc0097,#b500a9,#ad00b9,#a400cb,#9900da,#8d00ca,#8500c0,#7f00b9,#7a00b3,#7600ad,#7500aa,#7500aa,#7500aa,#7500aa,#7500aa,#7500aa)"></i><i style="top:115px;height:1px;background:linear-gradient(90deg,#e5003e,#e20044,#dc004f,#d90055,#d80057,#d70058,#d7005a,#d6005c,#d4005f,#d30062,#d20064,#d10066,#d00068,#cf006a,#ce006c,#cd006e,#cc0071,#ca0074,#c80079,#c30086,#bc0097,#b500a9,#ad00b9,#a400cb,#9900da,#8d00ca,#8500c0,#7f00b9,#7a00b3,#7600ad,#7500aa,#7500aa,#7500aa,#7500aa,#7500aa,#7500aa)"></i><i class="m" style="top:115px;height:1px;background:linear-gradient(90deg,#ec0030,#e90035,#e4003f,#e20043,#e20044,#e20044,#e10046,#e00048,#de004b,#dd004d,#dc004f,#db0051,#da0053,#d90055,#d80057,#d70059,#d6005b,#d5005d,#d20062,#cd006e,#c50080,#be0093,#b600a5,#ae00b8,#a400cb,#9b00db,#9200d0,#8c00c8,#8600c1,#8200bc,#8000ba,#8000b9,#8000b9,#8000b9,#8000b9,#8000b9)"></i><i style="top:116px;height:1px;background:linear-gradient(90deg,#ec0030,#e90035,#e4003f,#e20043,#e20044,#e20044,#e10046,#e00048,#de004b,#dd004d,#dc004f,#db0051,#da0053,#d90055,#d80057,#d70059,#d6005b,#d5005d,#d20062,#cd006e,#c50080,#be0093,#b600a5,#ae00b8,#a400cb,#9b00db,#9200d0,#8c00c8,#8600c1,#8200bc,#8000ba,#8000b9,#8000b9,#8000b9,#8000b9,#8000b9)"></i><i class="m" style="top:116px;height:1px;background:linear-gradient(90deg,#f10025,#ef0029,#eb0032,#e90036,#e90036,#e90036,#e90037,#e70039,#e6003c,#e5003e,#e40040,#e30042,#e20044,#e10046,#e00048,#df004a,#de004b,#dd004e,#da0052,#d5005e,#cd006e,#c50082,#be0093,#b600a6,#ac00ba,#a300cc,#9d00d8,#9700d7,#9100cf,#8c00c9,#8a00c7,#8a00c7,#8a00c7,#8a00c7,#8a00c7,#8a00c7)"></i><i style="top:117px;height:1px;background:linear-gradient(90deg,#f10025,#ef0029,#eb0032,#e90036,#e90036,#e90036,#e90037,#e70039,#e6003c,#e5003e,#e40040,#e30042,#e20044,#e10046,#e00048,#df004a,#de004b,#dd004e,#da0052,#d5005e,#cd006e,#c50082,#be0093,#b600a6,#ac00ba,#a300cc,#9d00d8,#9700d7,#9100cf,#8c00c9,#8a00c7,#8a00c7,#8a00c7,#8a00c7,#8a00c7,#8a00c7)"></i><i class="m" style="top:117px;height:1px;background:linear-gradient(90deg,#f4001c,#f30020,#f00027,#ef002a,#ef002a,#ef002a,#ef002b,#ee002d,#ec002f,#eb0031,#ea0033,#e90035,#e80037,#e7003a,#e6003c,#e5003d,#e4003f,#e30041,#e10046,#db0051,#d40060,#cb0072,#c40083,#bd0095,#b400a9,#ac00ba,#a600c7,#a100d1,#9c00da,#9800d8,#9600d5,#9600d5,#9600d5,#9600d5,#9600d5,#9600d5)"></i><i style="top:118px;height:1px;background:linear-gradient(90deg,#f4001c,#f30020,#f00027,#ef002a,#ef002a,#ef002a,#ef002b,#ee002d,#ec002f,#eb0031,#ea0033,#e90035,#e80037,#e7003a,#e6003c,#e5003d,#e4003f,#e30041,#e10046,#db0051,#d40060,#cb0072,#c40083,#bd0095,#b400a9,#ac00ba,#a600c7,#a100d1,#9c00da,#9800d8,#9600d5,#9600d5,#9600d5,#9600d5,#9600d5,#9600d5)"></i><i class="m" style="top:118px;height:1px;background:linear-gradient(90deg,#f70014,#f60017,#f4001e,#f30020,#f30020,#f30020,#f30020,#f20022,#f10024,#f10026,#f00028,#ef002a,#ee002c,#ed002e,#ec0030,#eb0032,#ea0034,#e90036,#e7003b,#e10045,#da0053,#d20063,#cb0073,#c40085,#bc0097,#b500a8,#af00b5,#aa00be,#a500c8,#a200ce,#a000d1,#a000d1,#a000d1,#a000d1,#a100d1,#a100d1)"></i><i style="top:119px;height:4px;background:linear-gradient(90deg,#f70014,#f60017,#f4001e,#f30020,#f30020,#f30020,#f30020,#f20022,#f10024,#f10026,#f00028,#ef002a,#ee002c,#ed002e,#ec0030,#eb0032,#ea0034,#e90036,#e7003b,#e10045,#da0053,#d20063,#cb0073,#c40085,#bc0097,#b500a8,#af00b5,#aa00be,#a500c8,#a200ce,#a000d1,#a000d1,#a000d1,#a000d1,#a100d1,#a100d1)"></i><i class="m" style="top:119px;height:4px;background:linear-gradient(90deg,#ff0500,#ff0400,#ff0200,#ff0000,#ff0100,#ff0100,#ff0000,#ff0001,#fe0002,#fe0003,#fd0004,#fd0007,#fc0009,#fb000c,#fa000e,#f90010,#f80012,#f70014,#f60017,#f4001d,#f10025,#ed002e,#e80038,#e20043,#dd004e,#d70059,#d30061,#cf0069,#cc0071,#c90077,#c8007a,#c8007a,#c8007a,#c80079,#c80079,#c80079)"></i><i style="top:123px;height:3px;background:linear-gradient(90deg,#ff0500,#ff0400,#ff0200,#ff0000,#ff0100,#ff0100,#ff0000,#ff0001,#fe0002,#fe0003,#fd0004,#fd0007,#fc0009,#fb000c,#fa000e,#f90010,#f80012,#f70014,#f60017,#f4001d,#f10025,#ed002e,#e80038,#e20043,#dd004e,#d70059,#d30061,#cf0069,#cc0071,#c90077,#c8007a,#c8007a,#c8007a,#c80079,#c80079,#c80079)"></i><i class="m" style="top:123px;height:3px;background:linear-gradient(90deg,#ff1100,#ff1000,#ff0f00,#ff0f00,#ff0f00,#ff0f00,#ff0e00,#ff0e00,#ff0e00,#ff0e00,#ff0d00,#ff0b00,#ff0a00,#ff0800,#ff0700,#ff0500,#ff0400,#ff0300,#ff0100,#fe0001,#fd0005,#fb000a,#fa000e,#f80014,#f5001a,#f30020,#f10025,#ef002b,#ec0031,#e90035,#e80038,#e80037,#e80037,#e80037,#e80037,#e80037)"></i><i style="top:126px;height:1px;background:linear-gradient(90deg,#ff1100,#ff1000,#ff0f00,#ff0f00,#ff0f00,#ff0f00,#ff0e00,#ff0e00,#ff0e00,#ff0e00,#ff0d00,#ff0b00,#ff0a00,#ff0800,#ff0700,#ff0500,#ff0400,#ff0300,#ff0100,#fe0001,#fd0005,#fb000a,#fa000e,#f80014,#f5001a,#f30020,#f10025,#ef002b,#ec0031,#e90035,#e80038,#e80037,#e80037,#e80037,#e80037,#e80037)"></i><i class="m" style="top:126px;height:1px;background:linear-gradient(90deg,#ff1500,#ff1500,#ff1400,#ff1400,#ff1400,#ff1400,#ff1300,#ff1300,#ff1300,#ff1300,#ff1200,#ff1100,#ff0f00,#ff0e00,#ff0d00,#ff0b00,#ff0a00,#ff0900,#ff0700,#ff0600,#ff0400,#ff0200,#ff0000,#fd0005,#fb000a,#fa000f,#f80013,#f60018,#f4001d,#f20022,#f20023,#f20023,#f20023,#f20023,#f20023,#f20023)"></i><i style="top:127px;height:1px;background:linear-gradient(90deg,#ff1500,#ff1500,#ff1400,#ff1400,#ff1400,#ff1400,#ff1300,#ff1300,#ff1300,#ff1300,#ff1200,#ff1100,#ff0f00,#ff0e00,#ff0d00,#ff0b00,#ff0a00,#ff0900,#ff0700,#ff0600,#ff0400,#ff0200,#ff0000,#fd0005,#fb000a,#fa000f,#f80013,#f60018,#f4001d,#f20022,#f20023,#f20023,#f20023,#f20023,#f20023,#f20023)"></i><i class="m" style="top:127px;height:1px;background:linear-gradient(90deg,#ff1900,#ff1900,#ff1900,#ff1900,#ff1900,#ff1900,#ff1900,#ff1900,#ff1900,#ff1900,#ff1900,#ff1700,#ff1600,#ff1400,#ff1300,#ff1200,#ff1000,#ff0f00,#ff0e00,#ff0d00,#ff0c00,#ff0a00,#ff0900,#ff0700,#ff0400,#ff0100,#fe0002,#fd0007,#fb000c,#f90010,#f80012,#f80012,#f80012,#f80012,#f80012,#f80012)"></i><i style="top:128px;height:1px;background:linear-gradient(90deg,#ff1900,#ff1900,#ff1900,#ff1900,#ff1900,#ff1900,#ff1900,#ff1900,#ff1900,#ff1900,#ff1900,#ff1700,#ff1600,#ff1400,#ff1300,#ff1200,#ff1000,#ff0f00,#ff0e00,#ff0d00,#ff0c00,#ff0a00,#ff0900,#ff0700,#ff0400,#ff0100,#fe0002,#fd0007,#fb000c,#f90010,#f80012,#f80012,#f80012,#f80012,#f80012,#f80012)"></i><i class="m" style="top:128px;height:1px;background:linear-gradient(90deg,#ff1e00,#ff1e00,#ff1e00,#ff1f00,#ff1f00,#ff1f00,#ff1f00,#ff1f00,#ff1f00,#ff1f00,#ff1f00,#ff1e00,#ff1d00,#ff1b00,#ff1a00,#ff1900,#ff1800,#ff1700,#ff1600,#ff1500,#ff1400,#ff1400,#ff1200,#ff1100,#ff0e00,#ff0c00,#ff0a00,#ff0700,#ff0400,#ff0100,#ff0001,#ff0001,#ff0001,#ff0001,#ff0001,#ff0001)"></i><i style="top:129px;height:8px;background:linear-gradient(90deg,#ff1e00,#ff1e00,#ff1e00,#ff1f00,#ff1f00,#ff1f00,#ff1f00,#ff1f00,#ff1f00,#ff1f00,#ff1f00,#ff1e00,#ff1d00,#ff1b00,#ff1a00,#ff1900,#ff1800,#ff1700,#ff1600,#ff1500,#ff1400,#ff1400,#ff1200,#ff1100,#ff0e00,#ff0c00,#ff0a00,#ff0700,#ff0400,#ff0100,#ff0001,#ff0001,#ff0001,#ff0001,#ff0001,#ff0001)"></i><i class="m" style="top:129px;height:8px;background:linear-gradient(90deg,#ff3e00,#ff4100,#ff4600,#ff4900,#ff4c00,#ff4e00,#ff5000,#ff5100,#ff5200,#ff5300,#ff5500,#ff5600,#ff5700,#ff5800,#ff5a00,#ff5b00,#ff5d00,#ff5e00,#ff5e00,#ff5e00,#ff5e00,#ff5e00,#ff5e00,#ff5e00,#ff5d00,#ff5b00,#ff5a00,#ff5800,#ff5500,#ff5200,#ff5000,#ff4e00,#ff4d00,#ff4c00,#ff4b00,#ff4b00)"></i><i style="top:137px;height:9px;background:linear-gradient(90deg,#ff3e00,#ff4100,#ff4600,#ff4900,#ff4c00,#ff4e00,#ff5000,#ff5100,#ff5200,#ff5300,#ff5500,#ff5600,#ff5700,#ff5800,#ff5a00,#ff5b00,#ff5d00,#ff5e00,#ff5e00,#ff5e00,#ff5e00,#ff5e00,#ff5e00,#ff5e00,#ff5d00,#ff5b00,#ff5a00,#ff5800,#ff5500,#ff5200,#ff5000,#ff4e00,#ff4d00,#ff4c00,#ff4b00,#ff4b00)"></i><i class="m" style="top:137px;height:9px;background:linear-gradient(90deg,#ff5100,#ff5300,#ff5800,#ff5c00,#ff6200,#ff6600,#ff6900,#ff6b00,#ff6d00,#ff6f00,#ff7100,#ff7400,#ff7600,#ff7900,#ff7b00,#ff7d00,#ff8000,#ff8200,#ff8400,#ff8700,#ff8900,#ff8b00,#ff8d00,#ff9000,#ff9300,#ff9500,#ff9600,#ff9600,#ff9600,#ff9600,#ff9500,#ff9500,#ff9400,#ff9300,#ff9100,#ff9000)"></i><i style="top:146px;height:11px;background:linear-gradient(90deg,#ff5100,#ff5300,#ff5800,#ff5c00,#ff6200,#ff6600,#ff6900,#ff6b00,#ff6d00,#ff6f00,#ff7100,#ff7400,#ff7600,#ff7900,#ff7b00,#ff7d00,#ff8000,#ff8200,#ff8400,#ff8700,#ff8900,#ff8b00,#ff8d00,#ff9000,#ff9300,#ff9500,#ff9600,#ff9600,#ff9600,#ff9600,#ff9500,#ff9500,#ff9400,#ff9300,#ff9100,#ff9000)"></i><i class="m" style="top:146px;height:11px;background:linear-gradient(90deg,#ff4300,#ff4800,#ff5200,#ff5900,#ff5f00,#ff6300,#ff6600,#ff6900,#ff6b00,#ff6d00,#ff6f00,#ff7200,#ff7400,#ff7600,#ff7900,#ff7b00,#ff7e00,#ff8000,#ff8200,#ff8400,#ff8600,#ff8800,#ff8a00,#ff8c00,#ff8f00,#ff9100,#ff9100,#ff9200,#ff9200,#ff9200,#ff9200,#ff9200,#ff9200,#ff9100,#ff9000,#ff8f00)"></i><i style="top:157px;height:22px;background:linear-gradient(90deg,#ff4300,#ff4800,#ff5200,#ff5900,#ff5f00,#ff6300,#ff6600,#ff6900,#ff6b00,#ff6d00,#ff6f00,#ff7200,#ff7400,#ff7600,#ff7900,#ff7b00,#ff7e00,#ff8000,#ff8200,#ff8400,#ff8600,#ff8800,#ff8a00,#ff8c00,#ff8f00,#ff9100,#ff9100,#ff9200,#ff9200,#ff9200,#ff9200,#ff9200,#ff9200,#ff9100,#ff9000,#ff8f00)"></i><i class="m" style="top:157px;height:22px;background:linear-gradient(90deg,#ff0700,#ff1600,#ff3100,#ff4000,#ff4800,#ff4e00,#ff5100,#ff5400,#ff5700,#ff5900,#ff5c00,#ff5f00,#ff6100,#ff6400,#ff6700,#ff6a00,#ff6d00,#ff6f00,#ff7100,#ff7300,#ff7400,#ff7600,#ff7700,#ff7900,#ff7a00,#ff7c00,#ff7e00,#ff8000,#ff8200,#ff8400,#ff8500,#ff8500,#ff8600,#ff8600,#ff8600,#ff8600)"></i><i style="top:179px;height:8px;background:linear-gradient(90deg,#ff0700,#ff1600,#ff3100,#ff4000,#ff4800,#ff4e00,#ff5100,#ff5400,#ff5700,#ff5900,#ff5c00,#ff5f00,#ff6100,#ff6400,#ff6700,#ff6a00,#ff6d00,#ff6f00,#ff7100,#ff7300,#ff7400,#ff7600,#ff7700,#ff7900,#ff7a00,#ff7c00,#ff7e00,#ff8000,#ff8200,#ff8400,#ff8500,#ff8500,#ff8600,#ff8600,#ff8600,#ff8600)"></i><i class="m" style="top:179px;height:8px;background:linear-gradient(90deg,#f90010,#ff0600,#ff2400,#ff3400,#ff3c00,#ff4100,#ff4600,#ff4a00,#ff4d00,#ff5000,#ff5400,#ff5700,#ff5a00,#ff5d00,#ff6000,#ff6300,#ff6700,#ff6a00,#ff6c00,#ff6e00,#ff7000,#ff7200,#ff7400,#ff7600,#ff7800,#ff7a00,#ff7c00,#ff7e00,#ff8100,#ff8300,#ff8500,#ff8600,#ff8600,#ff8700,#ff8800,#ff8800)"></i><i style="top:187px;height:15px;background:linear-gradient(90deg,#f90010,#ff0600,#ff2400,#ff3400,#ff3c00,#ff4100,#ff4600,#ff4a00,#ff4d00,#ff5000,#ff5400,#ff5700,#ff5a00,#ff5d00,#ff6000,#ff6300,#ff6700,#ff6a00,#ff6c00,#ff6e00,#ff7000,#ff7200,#ff7400,#ff7600,#ff7800,#ff7a00,#ff7c00,#ff7e00,#ff8100,#ff8300,#ff8500,#ff8600,#ff8600,#ff8700,#ff8800,#ff8800)"></i><i class="m" style="top:187px;height:15px;background:linear-gradient(90deg,#ef002a,#fa000d,#ff1600,#ff2500,#ff2d00,#ff3300,#ff3900,#ff3e00,#ff4200,#ff4700,#ff4b00,#ff4f00,#ff5200,#ff5600,#ff5900,#ff5d00,#ff6100,#ff6500,#ff6700,#ff6a00,#ff6d00,#ff6f00,#ff7100,#ff7400,#ff7600,#ff7900,#ff7b00,#ff7e00,#ff8000,#ff8300,#ff8500,#ff8700,#ff8800,#ff8900,#ff8a00,#ff8a00)"></i><i style="top:202px;height:40px;background:linear-gradient(90deg,#ef002a,#fa000d,#ff1600,#ff2500,#ff2d00,#ff3300,#ff3900,#ff3e00,#ff4200,#ff4700,#ff4b00,#ff4f00,#ff5200,#ff5600,#ff5900,#ff5d00,#ff6100,#ff6500,#ff6700,#ff6a00,#ff6d00,#ff6f00,#ff7100,#ff7400,#ff7600,#ff7900,#ff7b00,#ff7e00,#ff8000,#ff8300,#ff8500,#ff8700,#ff8800,#ff8900,#ff8a00,#ff8a00)"></i><i class="m" style="top:202px;height:40px;background:linear-gradient(90deg,#e6003c,#f50019,#ff0c00,#ff1700,#ff1f00,#ff2500,#ff2c00,#ff3300,#ff3a00,#ff4000,#ff4500,#ff4900,#ff4e00,#ff5200,#ff5600,#ff5a00,#ff5d00,#ff6100,#ff6400,#ff6800,#ff6b00,#ff6e00,#ff7100,#ff7400,#ff7700,#ff7a00,#ff7d00,#ff7f00,#ff8200,#ff8400,#ff8600,#ff8900,#ff8a00,#ff8c00,#ff8c00,#ff8d00)"></i><i style="top:242px;height:40px;background:linear-gradient(90deg,#e6003c,#f50019,#ff0c00,#ff1700,#ff1f00,#ff2500,#ff2c00,#ff3300,#ff3a00,#ff4000,#ff4500,#ff4900,#ff4e00,#ff5200,#ff5600,#ff5a00,#ff5d00,#ff6100,#ff6400,#ff6800,#ff6b00,#ff6e00,#ff7100,#ff7400,#ff7700,#ff7a00,#ff7d00,#ff7f00,#ff8200,#ff8400,#ff8600,#ff8900,#ff8a00,#ff8c00,#ff8c00,#ff8d00)"></i><i class="m" style="top:242px;height:40px;background:linear-gradient(90deg,#e30042,#f4001d,#ff0800,#ff1200,#ff1900,#ff2000,#ff2700,#ff2f00,#ff3700,#ff3d00,#ff4300,#ff4800,#ff4c00,#ff5100,#ff5500,#ff5800,#ff5c00,#ff5f00,#ff6300,#ff6700,#ff6a00,#ff6e00,#ff7200,#ff7500,#ff7900,#ff7d00,#ff8000,#ff8300,#ff8500,#ff8800,#ff8a00,#ff8b00,#ff8d00,#ff8e00,#ff8f00,#ff8f00)"></i><i style="top:282px;height:40px;background:linear-gradient(90deg,#e30042,#f4001d,#ff0800,#ff1200,#ff1900,#ff2000,#ff2700,#ff2f00,#ff3700,#ff3d00,#ff4300,#ff4800,#ff4c00,#ff5100,#ff5500,#ff5800,#ff5c00,#ff5f00,#ff6300,#ff6700,#ff6a00,#ff6e00,#ff7200,#ff7500,#ff7900,#ff7d00,#ff8000,#ff8300,#ff8500,#ff8800,#ff8a00,#ff8b00,#ff8d00,#ff8e00,#ff8f00,#ff8f00)"></i><i class="m" style="top:282px;height:40px;background:linear-gradient(90deg,#e4003f,#f4001c,#ff0800,#ff1200,#ff1900,#ff2100,#ff2800,#ff3000,#ff3800,#ff3f00,#ff4500,#ff4a00,#ff4f00,#ff5400,#ff5800,#ff5c00,#ff6000,#ff6300,#ff6700,#ff6b00,#ff6e00,#ff7200,#ff7500,#ff7a00,#ff7e00,#ff8200,#ff8500,#ff8800,#ff8a00,#ff8d00,#ff8f00,#ff9000,#ff9200,#ff9300,#ff9500,#ff9500)"></i><i style="top:322px;height:40px;background:linear-gradient(90deg,#e4003f,#f4001c,#ff0800,#ff1200,#ff1900,#ff2100,#ff2800,#ff3000,#ff3800,#ff3f00,#ff4500,#ff4a00,#ff4f00,#ff5400,#ff5800,#ff5c00,#ff6000,#ff6300,#ff6700,#ff6b00,#ff6e00,#ff7200,#ff7500,#ff7a00,#ff7e00,#ff8200,#ff8500,#ff8800,#ff8a00,#ff8d00,#ff8f00,#ff9000,#ff9200,#ff9300,#ff9500,#ff9500)"></i><i class="m" style="top:322px;height:40px;background:linear-gradient(90deg,#ea0034,#f60017,#ff0900,#ff1400,#ff1c00,#ff2400,#ff2d00,#ff3500,#ff3d00,#ff4400,#ff4b00,#ff5100,#ff5700,#ff5c00,#ff6100,#ff6600,#ff6a00,#ff6f00,#ff7200,#ff7600,#ff7900,#ff7d00,#ff8000,#ff8300,#ff8700,#ff8a00,#ff8d00,#ff8f00,#ff9200,#ff9400,#ff9700,#ff9900,#ff9b00,#ff9d00,#ff9f00,#ffa000)"></i><i style="top:362px;height:40px;background:linear-gradient(90deg,#ea0034,#f60017,#ff0900,#ff1400,#ff1c00,#ff2400,#ff2d00,#ff3500,#ff3d00,#ff4400,#ff4b00,#ff5100,#ff5700,#ff5c00,#ff6100,#ff6600,#ff6a00,#ff6f00,#ff7200,#ff7600,#ff7900,#ff7d00,#ff8000,#ff8300,#ff8700,#ff8a00,#ff8d00,#ff8f00,#ff9200,#ff9400,#ff9700,#ff9900,#ff9b00,#ff9d00,#ff9f00,#ffa000)"></i><i class="m" style="top:362px;height:40px;background:linear-gradient(90deg,#f30020,#fa000e,#ff0b00,#ff1800,#ff2300,#ff2c00,#ff3600,#ff3e00,#ff4600,#ff4e00,#ff5600,#ff5d00,#ff6300,#ff6a00,#ff7000,#ff7600,#ff7b00,#ff8000,#ff8400,#ff8700,#ff8a00,#ff8c00,#ff8f00,#ff9100,#ff9300,#ff9500,#ff9700,#ff9900,#ff9c00,#ff9e00,#ffa100,#ffa300,#ffa600,#ffa900,#ffac00,#ffae00)"></i><i style="top:402px;height:33px;background:linear-gradient(90deg,#f30020,#fa000e,#ff0b00,#ff1800,#ff2300,#ff2c00,#ff3600,#ff3e00,#ff4600,#ff4e00,#ff5600,#ff5d00,#ff6300,#ff6a00,#ff7000,#ff7600,#ff7b00,#ff8000,#ff8400,#ff8700,#ff8a00,#ff8c00,#ff8f00,#ff9100,#ff9300,#ff9500,#ff9700,#ff9900,#ff9c00,#ff9e00,#ffa100,#ffa300,#ffa600,#ffa900,#ffac00,#ffae00)"></i><i class="m" style="top:402px;height:25px;background:linear-gradient(90deg,#f90010,#fd0005,#ff0e00,#ff1d00,#ff2a00,#ff3500,#ff3e00,#ff4700,#ff4f00,#ff5700,#ff5e00,#ff6600,#ff6d00,#ff7400,#ff7b00,#ff8200,#ff8800,#ff8d00,#ff9100,#ff9400,#ff9600,#ff9800,#ff9a00,#ff9b00,#ff9c00,#ff9d00,#ff9f00,#ffa000,#ffa300,#ffa500,#ffa800,#ffab00,#ffaf00,#ffb200,#ffb600,#ffb800)"></i><i style="top:427px;height:8px;background:linear-gradient(90deg,#f90010,#fd0005,#ff0e00,#ff1d00,#ff2a00,#ff3500,#ff3e00,#ff4700,#ff4f00,#ff5700,#ff5e00,#ff6600,#ff6d00,#ff7400,#ff7b00,#ff8200,#ff8800,#ff8d00,#ff9100,#ff9400,#ff9600,#ff9800,#ff9a00,#ff9b00,#ff9c00,#ff9d00,#ff9f00,#ffa000,#ffa300,#ffa500,#ffa800,#ffab00,#ffaf00,#ffb200,#ffb600,#ffb800)"></i></div></div><div class="hm" style="left:892.1px;top:716.0px;width:427.2px;height:427.5px"><div class="in" style="filter:blur(1.5px)"><i style="top:-8px;height:19px;background:linear-gradient(90deg,#8700c3,#8700c3,#8700c3,#8700c3,#8700c2,#8200bc,#7b00b3,#7500aa,#6e00a1,#6a009a,#660095,#640091,#62008e,#60008c,#5f008a,#5d0088,#5c0086,#5b0085,#5a0083,#590082,#590081,#580080,#57007f,#57007e,#56007d,#55007c,#54007b,#54007a,#530079,#520078,#520077,#510076,#500075,#500074,#4f0073,#4e0071,#4d006f,#4b006c,#480069,#450065,#420061,#41005e,#3f005c,#3f005c,#420060,#4a006c,#8e00cc,#f80012,#ff3e00,#ff6000,#ff7000,#ff6d00,#ff6100,#ff5000,#ff4000,#ff3400,#ff2c00,#ff2500,#ff1e00,#ff1800,#ff1300,#ff0e00,#ff0b00,#ff0900,#ff0700,#ff0500,#ff0300,#ff0200,#ff0100,#ff0000,#ff0000,#ff0000)"></i><i class="m" style="top:0px;height:11px;background:linear-gradient(90deg,#8700c3,#8700c3,#8600c2,#8400bf,#8200bc,#7e00b7,#7900b1,#7300a8,#6c009d,#670096,#640091,#61008e,#5f008a,#5d0088,#5b0085,#5a0083,#580081,#57007f,#56007e,#56007d,#55007c,#54007b,#53007a,#530079,#520078,#520077,#510076,#500075,#4f0074,#4f0073,#4e0072,#4e0071,#4d0070,#4c006f,#4b006d,#4a006c,#49006a,#470068,#450065,#430061,#41005f,#40005d,#3f005c,#3f005c,#41005e,#460066,#7500ab,#cc0071,#fd0005,#ff3400,#ff5500,#ff5300,#ff4a00,#ff3f00,#ff3300,#ff2a00,#ff2400,#ff1e00,#ff1900,#ff1400,#ff0f00,#ff0b00,#ff0800,#ff0600,#ff0400,#ff0200,#ff0000,#fe0002,#fe0004,#fd0005,#fd0005,#fd0005)"></i><i style="top:11px;height:12px;background:linear-gradient(90deg,#8700c3,#8700c3,#8600c2,#8400bf,#8200bc,#7e00b7,#7900b1,#7300a8,#6c009d,#670096,#640091,#61008e,#5f008a,#5d0088,#5b0085,#5a0083,#580081,#57007f,#56007e,#56007d,#55007c,#54007b,#53007a,#530079,#520078,#520077,#510076,#500075,#4f0074,#4f0073,#4e0072,#4e0071,#4d0070,#4c006f,#4b006d,#4a006c,#49006a,#470068,#450065,#430061,#41005f,#40005d,#3f005c,#3f005c,#41005e,#460066,#7500ab,#cc0071,#fd0005,#ff3400,#ff5500,#ff5300,#ff4a00,#ff3f00,#ff3300,#ff2a00,#ff2400,#ff1e00,#ff1900,#ff1400,#ff0f00,#ff0b00,#ff0800,#ff0600,#ff0400,#ff0200,#ff0000,#fe0002,#fe0004,#fd0005,#fd0005,#fd0005)"></i><i class="m" style="top:11px;height:12px;background:linear-gradient(90deg,#8700c3,#8700c3,#8400bf,#8000ba,#7d00b6,#7a00b2,#7600ac,#7000a4,#690099,#640092,#61008d,#5e008a,#5c0086,#5a0083,#580081,#57007f,#55007c,#54007b,#53007a,#530078,#520077,#510076,#510075,#500074,#4f0073,#4f0072,#4e0071,#4d0070,#4c006f,#4c006e,#4b006d,#4a006c,#4a006b,#49006a,#480069,#470067,#460066,#450064,#430062,#420060,#41005e,#40005d,#3f005c,#3f005c,#41005e,#440064,#5f008b,#a600c7,#d30062,#ff0900,#ff3400,#ff3300,#ff2e00,#ff2700,#ff1f00,#ff1a00,#ff1500,#ff1100,#ff0d00,#ff0900,#ff0500,#ff0200,#ff0001,#fd0004,#fc0007,#fb000a,#fa000d,#f9000f,#f90011,#f80012,#f80013,#f80013)"></i><i style="top:23px;height:5px;background:linear-gradient(90deg,#8700c3,#8700c3,#8400bf,#8000ba,#7d00b6,#7a00b2,#7600ac,#7000a4,#690099,#640092,#61008d,#5e008a,#5c0086,#5a0083,#580081,#57007f,#55007c,#54007b,#53007a,#530078,#520077,#510076,#510075,#500074,#4f0073,#4f0072,#4e0071,#4d0070,#4c006f,#4c006e,#4b006d,#4a006c,#4a006b,#49006a,#480069,#470067,#460066,#450064,#430062,#420060,#41005e,#40005d,#3f005c,#3f005c,#41005e,#440064,#5f008b,#a600c7,#d30062,#ff0900,#ff3400,#ff3300,#ff2e00,#ff2700,#ff1f00,#ff1a00,#ff1500,#ff1100,#ff0d00,#ff0900,#ff0500,#ff0200,#ff0001,#fd0004,#fc0007,#fb000a,#fa000d,#f9000f,#f90011,#f80012,#f80013,#f80013)"></i><i class="m" style="top:23px;height:5px;background:linear-gradient(90deg,#8700c3,#8700c3,#8300be,#7f00b8,#7b00b3,#7800af,#7400aa,#6f00a2,#680097,#630090,#60008c,#5d0088,#5b0085,#590082,#580080,#56007d,#55007c,#54007a,#530079,#520078,#510076,#510075,#500074,#4f0073,#4f0072,#4e0071,#4d0070,#4c006f,#4c006e,#4b006d,#4a006c,#4a006b,#49006a,#480069,#470068,#460066,#450065,#440063,#430061,#42005f,#41005e,#40005d,#3f005c,#3f005c,#40005e,#440063,#5a0084,#9a00db,#c50082,#fa000d,#ff2500,#ff2500,#ff2100,#ff1c00,#ff1600,#ff1100,#ff0e00,#ff0a00,#ff0600,#ff0300,#ff0000,#fd0005,#fc0009,#fb000c,#fa000e,#f90011,#f80014,#f70016,#f60018,#f60019,#f5001a,#f5001a)"></i><i style="top:28px;height:9px;background:linear-gradient(90deg,#8700c3,#8700c3,#8300be,#7f00b8,#7b00b3,#7800af,#7400aa,#6f00a2,#680097,#630090,#60008c,#5d0088,#5b0085,#590082,#580080,#56007d,#55007c,#54007a,#530079,#520078,#510076,#510075,#500074,#4f0073,#4f0072,#4e0071,#4d0070,#4c006f,#4c006e,#4b006d,#4a006c,#4a006b,#49006a,#480069,#470068,#460066,#450065,#440063,#430061,#42005f,#41005e,#40005d,#3f005c,#3f005c,#40005e,#440063,#5a0084,#9a00db,#c50082,#fa000d,#ff2500,#ff2500,#ff2100,#ff1c00,#ff1600,#ff1100,#ff0e00,#ff0a00,#ff0600,#ff0300,#ff0000,#fd0005,#fc0009,#fb000c,#fa000e,#f90011,#f80014,#f70016,#f60018,#f60019,#f5001a,#f5001a)"></i><i class="m" style="top:28px;height:9px;background:linear-gradient(90deg,#8700c2,#8700c2,#8100bb,#7b00b4,#7700ad,#7400a9,#7100a5,#6c009e,#660094,#61008d,#5d0088,#5b0085,#590082,#580080,#56007e,#55007c,#55007b,#54007a,#530079,#520077,#510076,#500075,#500074,#4f0073,#4e0072,#4e0071,#4d0070,#4c006f,#4b006e,#4b006d,#4a006b,#49006a,#480069,#470068,#470067,#460066,#450065,#440063,#430061,#42005f,#41005e,#40005d,#3f005c,#3f005c,#41005e,#450064,#590082,#8b00c7,#b400aa,#e5003d,#ff0700,#ff0900,#ff0700,#ff0500,#ff0300,#ff0000,#fe0003,#fc0007,#fb000b,#f9000f,#f80013,#f70016,#f50019,#f4001c,#f3001f,#f30021,#f20024,#f10026,#f00028,#ef0029,#ef002a,#ef002a)"></i><i style="top:37px;height:4px;background:linear-gradient(90deg,#8700c2,#8700c2,#8100bb,#7b00b4,#7700ad,#7400a9,#7100a5,#6c009e,#660094,#61008d,#5d0088,#5b0085,#590082,#580080,#56007e,#55007c,#55007b,#54007a,#530079,#520077,#510076,#500075,#500074,#4f0073,#4e0072,#4e0071,#4d0070,#4c006f,#4b006e,#4b006d,#4a006b,#49006a,#480069,#470068,#470067,#460066,#450065,#440063,#430061,#42005f,#41005e,#40005d,#3f005c,#3f005c,#41005e,#450064,#590082,#8b00c7,#b400aa,#e5003d,#ff0700,#ff0900,#ff0700,#ff0500,#ff0300,#ff0000,#fe0003,#fc0007,#fb000b,#f9000f,#f80013,#f70016,#f50019,#f4001c,#f3001f,#f30021,#f20024,#f10026,#f00028,#ef0029,#ef002a,#ef002a)"></i><i class="m" style="top:37px;height:4px;background:linear-gradient(90deg,#8600c1,#8600c1,#8000b9,#7a00b1,#7500aa,#7200a6,#7000a3,#6b009c,#640092,#60008b,#5c0086,#5a0083,#580081,#57007f,#56007d,#55007c,#55007b,#54007a,#530079,#520077,#510076,#510075,#500074,#4f0073,#4e0072,#4e0071,#4d0070,#4c006f,#4b006e,#4a006c,#4a006b,#49006a,#480069,#470068,#470067,#460066,#450065,#440063,#430061,#420060,#41005e,#40005d,#40005d,#40005c,#41005f,#460066,#5a0083,#8600c1,#ad00b9,#da0053,#fa000e,#fb000a,#fb000a,#fb000b,#fa000d,#f90010,#f80012,#f70016,#f60019,#f4001c,#f30020,#f20023,#f10026,#f00028,#ef002b,#ed002d,#ec0030,#eb0032,#ea0034,#e90036,#e80037,#e80037)"></i><i style="top:41px;height:12px;background:linear-gradient(90deg,#8600c1,#8600c1,#8000b9,#7a00b1,#7500aa,#7200a6,#7000a3,#6b009c,#640092,#60008b,#5c0086,#5a0083,#580081,#57007f,#56007d,#55007c,#55007b,#54007a,#530079,#520077,#510076,#510075,#500074,#4f0073,#4e0072,#4e0071,#4d0070,#4c006f,#4b006e,#4a006c,#4a006b,#49006a,#480069,#470068,#470067,#460066,#450065,#440063,#430061,#420060,#41005e,#40005d,#40005d,#40005c,#41005f,#460066,#5a0083,#8600c1,#ad00b9,#da0053,#fa000e,#fb000a,#fb000a,#fb000b,#fa000d,#f90010,#f80012,#f70016,#f60019,#f4001c,#f30020,#f20023,#f10026,#f00028,#ef002b,#ed002d,#ec0030,#eb0032,#ea0034,#e90036,#e80037,#e80037)"></i><i class="m" style="top:41px;height:12px;background:linear-gradient(90deg,#8000ba,#8000ba,#7b00b3,#7400a9,#6f00a2,#6c009e,#69009a,#650094,#60008d,#5c0086,#580081,#56007d,#56007d,#55007c,#55007c,#55007c,#55007b,#54007a,#530079,#530078,#520077,#510076,#500075,#4f0074,#4f0072,#4e0071,#4d0070,#4c006f,#4b006e,#4a006c,#49006b,#480069,#470068,#470067,#460066,#460066,#450065,#450064,#440063,#430062,#430061,#420060,#420060,#420060,#450065,#4c006e,#5c0086,#7b00b3,#9a00db,#bc0097,#d4005f,#d90056,#dc0050,#de004c,#df004a,#df004a,#de004b,#dd004d,#dc004f,#db0052,#da0054,#d80056,#d70059,#d6005b,#d5005c,#d4005e,#d40060,#d30062,#d20063,#d10065,#d00066,#d00066)"></i><i style="top:53px;height:14px;background:linear-gradient(90deg,#8000ba,#8000ba,#7b00b3,#7400a9,#6f00a2,#6c009e,#69009a,#650094,#60008d,#5c0086,#580081,#56007d,#56007d,#55007c,#55007c,#55007c,#55007b,#54007a,#530079,#530078,#520077,#510076,#500075,#4f0074,#4f0072,#4e0071,#4d0070,#4c006f,#4b006e,#4a006c,#49006b,#480069,#470068,#470067,#460066,#460066,#450065,#450064,#440063,#430062,#430061,#420060,#420060,#420060,#450065,#4c006e,#5c0086,#7b00b3,#9a00db,#bc0097,#d4005f,#d90056,#dc0050,#de004c,#df004a,#df004a,#de004b,#dd004d,#dc004f,#db0052,#da0054,#d80056,#d70059,#d6005b,#d5005c,#d4005e,#d40060,#d30062,#d20063,#d10065,#d00066,#d00066)"></i><i class="m" style="top:53px;height:14px;background:linear-gradient(90deg,#7800af,#7800af,#7300a8,#6d009f,#690099,#660094,#630090,#60008c,#5e0089,#5c0086,#57007e,#53007a,#54007b,#56007d,#56007d,#54007b,#53007a,#55007b,#56007d,#55007c,#520078,#510075,#510076,#510076,#500074,#4d0070,#4c006e,#4c006f,#4d0070,#4b006d,#480069,#470068,#480069,#49006a,#470067,#450065,#450065,#470067,#480069,#470067,#460065,#460066,#480068,#49006a,#4c006e,#520078,#60008b,#7800af,#8f00cc,#a500c8,#b300ac,#b800a1,#bc0097,#bf0091,#bf008f,#bf008f,#c0008e,#c0008c,#c0008d,#bf0091,#bd0093,#bd0093,#be0093,#bd0094,#bc0097,#bb0099,#bb0099,#bc0098,#bb009a,#b9009d,#b9009e,#ba009d)"></i><i style="top:67px;height:13px;background:linear-gradient(90deg,#7800af,#7800af,#7300a8,#6d009f,#690099,#660094,#630090,#60008c,#5e0089,#5c0086,#57007e,#53007a,#54007b,#56007d,#56007d,#54007b,#53007a,#55007b,#56007d,#55007c,#520078,#510075,#510076,#510076,#500074,#4d0070,#4c006e,#4c006f,#4d0070,#4b006d,#480069,#470068,#480069,#49006a,#470067,#450065,#450065,#470067,#480069,#470067,#460065,#460066,#480068,#49006a,#4c006e,#520078,#60008b,#7800af,#8f00cc,#a500c8,#b300ac,#b800a1,#bc0097,#bf0091,#bf008f,#bf008f,#c0008e,#c0008c,#c0008d,#bf0091,#bd0093,#bd0093,#be0093,#bd0094,#bc0097,#bb0099,#bb0099,#bc0098,#bb009a,#b9009d,#b9009e,#ba009d)"></i><i class="m" style="top:67px;height:13px;background:linear-gradient(90deg,#6f00a2,#6f00a2,#6c009e,#680098,#640092,#60008c,#5d0088,#5d0087,#5e008a,#62008e,#580081,#4f0073,#56007d,#62008f,#62008f,#56007e,#4f0073,#57007f,#62008f,#60008c,#520078,#4c006e,#54007b,#5e0089,#590082,#4c006f,#480069,#520078,#5c0086,#56007e,#49006b,#470068,#530078,#5b0085,#54007a,#480068,#480068,#54007a,#5b0084,#530078,#470067,#49006a,#56007d,#5b0085,#56007d,#54007a,#640092,#8200bd,#9400d3,#9900d9,#9a00da,#a000d3,#aa00c0,#ac00ba,#a600c7,#a100d0,#a600c7,#ad00b9,#ad00b9,#a500c8,#a100d0,#a600c7,#ad00b9,#ac00bb,#a400cb,#a100d1,#a600c6,#ad00b9,#ab00be,#a300cd,#a000d2,#a700c5)"></i><i style="top:80px;height:3px;background:linear-gradient(90deg,#6f00a2,#6f00a2,#6c009e,#680098,#640092,#60008c,#5d0088,#5d0087,#5e008a,#62008e,#580081,#4f0073,#56007d,#62008f,#62008f,#56007e,#4f0073,#57007f,#62008f,#60008c,#520078,#4c006e,#54007b,#5e0089,#590082,#4c006f,#480069,#520078,#5c0086,#56007e,#49006b,#470068,#530078,#5b0085,#54007a,#480068,#480068,#54007a,#5b0084,#530078,#470067,#49006a,#56007d,#5b0085,#56007d,#54007a,#640092,#8200bd,#9400d3,#9900d9,#9a00da,#a000d3,#aa00c0,#ac00ba,#a600c7,#a100d0,#a600c7,#ad00b9,#ad00b9,#a500c8,#a100d0,#a600c7,#ad00b9,#ac00bb,#a400cb,#a100d1,#a600c6,#ad00b9,#ab00be,#a300cd,#a000d2,#a700c5)"></i><i class="m" style="top:80px;height:3px;background:linear-gradient(90deg,#6d009f,#6d009f,#6a009b,#670096,#630091,#5f008b,#5c0087,#5c0086,#5f008b,#640092,#580081,#4c006f,#56007d,#670096,#670096,#56007d,#4c006f,#580080,#670097,#640092,#510076,#49006a,#55007c,#630090,#5d0088,#4b006d,#460065,#54007b,#62008e,#5a0083,#49006a,#460066,#56007d,#62008e,#580080,#470067,#470067,#580080,#62008e,#56007d,#460066,#480069,#5a0083,#61008e,#580081,#520077,#630091,#8500c0,#9700d7,#9500d5,#9100cf,#9b00dc,#a700c4,#aa00bf,#a100d1,#9900da,#a000d3,#aa00be,#aa00be,#a000d3,#9900da,#a100d0,#ab00bd,#a900c0,#9e00d6,#9900da,#a200ce,#ab00bc,#a800c3,#9d00d8,#9a00da,#a300cc)"></i><i style="top:83px;height:3px;background:linear-gradient(90deg,#6d009f,#6d009f,#6a009b,#670096,#630091,#5f008b,#5c0087,#5c0086,#5f008b,#640092,#580081,#4c006f,#56007d,#670096,#670096,#56007d,#4c006f,#580080,#670097,#640092,#510076,#49006a,#55007c,#630090,#5d0088,#4b006d,#460065,#54007b,#62008e,#5a0083,#49006a,#460066,#56007d,#62008e,#580080,#470067,#470067,#580080,#62008e,#56007d,#460066,#480069,#5a0083,#61008e,#580081,#520077,#630091,#8500c0,#9700d7,#9500d5,#9100cf,#9b00dc,#a700c4,#aa00bf,#a100d1,#9900da,#a000d3,#aa00be,#aa00be,#a000d3,#9900da,#a100d0,#ab00bd,#a900c0,#9e00d6,#9900da,#a200ce,#ab00bc,#a800c3,#9d00d8,#9a00da,#a300cc)"></i><i class="m" style="top:83px;height:3px;background:linear-gradient(90deg,#6b009c,#6b009c,#690098,#660094,#630090,#5f008a,#5c0086,#5c0086,#60008c,#670096,#580081,#49006a,#55007c,#6c009d,#6c009d,#56007d,#49006a,#580080,#6d009e,#680098,#500075,#450065,#56007d,#690098,#61008e,#49006b,#430061,#56007e,#680098,#5e0089,#470068,#440063,#590082,#680098,#5c0086,#450065,#450065,#5c0086,#680098,#590082,#440063,#470068,#5e008a,#680098,#5b0084,#4f0073,#61008e,#8800c4,#9a00db,#9200d1,#8900c5,#9400d3,#a600c7,#a900c1,#9c00da,#9000cd,#9b00dc,#a900c1,#a900c1,#9b00dc,#9000ce,#9d00d9,#aa00c0,#a700c4,#9800d9,#9000ce,#9e00d6,#aa00be,#a600c6,#9600d6,#9100cf,#a000d2)"></i><i style="top:86px;height:5px;background:linear-gradient(90deg,#6b009c,#6b009c,#690098,#660094,#630090,#5f008a,#5c0086,#5c0086,#60008c,#670096,#580081,#49006a,#55007c,#6c009d,#6c009d,#56007d,#49006a,#580080,#6d009e,#680098,#500075,#450065,#56007d,#690098,#61008e,#49006b,#430061,#56007e,#680098,#5e0089,#470068,#440063,#590082,#680098,#5c0086,#450065,#450065,#5c0086,#680098,#590082,#440063,#470068,#5e008a,#680098,#5b0084,#4f0073,#61008e,#8800c4,#9a00db,#9200d1,#8900c5,#9400d3,#a600c7,#a900c1,#9c00da,#9000cd,#9b00dc,#a900c1,#a900c1,#9b00dc,#9000ce,#9d00d9,#aa00c0,#a700c4,#9800d9,#9000ce,#9e00d6,#aa00be,#a600c6,#9600d6,#9100cf,#a000d2)"></i><i class="m" style="top:86px;height:5px;background:linear-gradient(90deg,#670097,#670097,#660094,#630091,#61008d,#5e0089,#5c0086,#5c0086,#62008f,#6c009e,#580080,#420060,#54007a,#7400a9,#7400a9,#54007b,#420060,#580080,#7500ab,#7000a3,#4e0072,#40005d,#57007f,#7200a7,#680098,#470067,#3e005a,#590082,#7300a7,#650093,#440063,#40005d,#5e0089,#7400a9,#62008e,#420060,#420060,#62008e,#7400a9,#5e0089,#40005d,#440064,#650094,#7300a8,#5e0089,#49006b,#5d0087,#8b00c8,#9d00d8,#8c00c9,#7c00b4,#8900c6,#a400cb,#a700c4,#9300d1,#8000b9,#9000cd,#a700c5,#a700c5,#9000cd,#8000b9,#9300d2,#a800c2,#a500c8,#8c00ca,#8000ba,#9700d7,#a900c0,#a300cc,#8a00c6,#8200bc,#9a00db)"></i><i style="top:91px;height:11px;background:linear-gradient(90deg,#670097,#670097,#660094,#630091,#61008d,#5e0089,#5c0086,#5c0086,#62008f,#6c009e,#580080,#420060,#54007a,#7400a9,#7400a9,#54007b,#420060,#580080,#7500ab,#7000a3,#4e0072,#40005d,#57007f,#7200a7,#680098,#470067,#3e005a,#590082,#7300a7,#650093,#440063,#40005d,#5e0089,#7400a9,#62008e,#420060,#420060,#62008e,#7400a9,#5e0089,#40005d,#440064,#650094,#7300a8,#5e0089,#49006b,#5d0087,#8b00c8,#9d00d8,#8c00c9,#7c00b4,#8900c6,#a400cb,#a700c4,#9300d1,#8000b9,#9000cd,#a700c5,#a700c5,#9000cd,#8000b9,#9300d2,#a800c2,#a500c8,#8c00ca,#8000ba,#9700d7,#a900c0,#a300cc,#8a00c6,#8200bc,#9a00db)"></i><i class="m" style="top:91px;height:11px;background:linear-gradient(90deg,#60008b,#60008b,#5f008b,#5e008a,#5e0088,#5c0087,#5c0086,#5d0088,#680097,#7600ac,#590082,#3d0059,#54007a,#7e00b7,#7e00b8,#54007b,#3d0059,#590082,#8100ba,#7b00b3,#4e0072,#3d0058,#5d0087,#8100bb,#7500ab,#480069,#3d0058,#61008e,#8200bc,#7100a4,#440064,#3f005b,#670096,#8300bd,#6c009d,#41005f,#41005f,#6c009d,#8300bd,#670096,#3f005b,#440064,#7100a4,#8200bd,#640092,#440063,#580080,#8b00c7,#9c00da,#8200bc,#660095,#7900b1,#9f00d5,#a300cd,#8200bc,#660095,#7e00b7,#a100d0,#a100d0,#7e00b7,#660095,#8200bd,#a300cd,#9f00d4,#7900b1,#670096,#8700c3,#a400ca,#9c00d9,#7500aa,#680098,#8c00c9)"></i><i style="top:102px;height:8px;background:linear-gradient(90deg,#60008b,#60008b,#5f008b,#5e008a,#5e0088,#5c0087,#5c0086,#5d0088,#680097,#7600ac,#590082,#3d0059,#54007a,#7e00b7,#7e00b8,#54007b,#3d0059,#590082,#8100ba,#7b00b3,#4e0072,#3d0058,#5d0087,#8100bb,#7500ab,#480069,#3d0058,#61008e,#8200bc,#7100a4,#440064,#3f005b,#670096,#8300bd,#6c009d,#41005f,#41005f,#6c009d,#8300bd,#670096,#3f005b,#440064,#7100a4,#8200bd,#640092,#440063,#580080,#8b00c7,#9c00da,#8200bc,#660095,#7900b1,#9f00d5,#a300cd,#8200bc,#660095,#7e00b7,#a100d0,#a100d0,#7e00b7,#660095,#8200bd,#a300cd,#9f00d4,#7900b1,#670096,#8700c3,#a400ca,#9c00d9,#7500aa,#680098,#8c00c9)"></i><i class="m" style="top:102px;height:8px;background:linear-gradient(90deg,#5a0083,#5a0083,#5a0083,#5b0084,#5b0085,#5c0086,#5d0087,#60008b,#6c009d,#7800b0,#61008e,#49006a,#5d0087,#8000b9,#8000b9,#5d0088,#49006a,#61008e,#8200bc,#7d00b6,#5a0082,#4a006c,#660095,#8400bf,#7b00b3,#57007e,#4c006f,#6b009c,#8500c1,#7800af,#530079,#4e0071,#6f00a3,#8600c1,#7400a9,#500075,#500075,#7400a9,#8600c1,#6f00a3,#4e0071,#530079,#7800af,#8600c1,#6d009f,#510076,#5f008a,#8800c4,#9700d6,#8200bc,#6c009d,#7b00b4,#9b00db,#9f00d5,#8300bd,#6c009d,#7f00b8,#9d00d8,#9d00d8,#7f00b8,#6c009d,#8300bd,#9f00d5,#9b00db,#7b00b4,#6c009e,#8700c2,#a000d2,#9900d9,#7800af,#6e00a0,#8b00c7)"></i><i style="top:110px;height:10px;background:linear-gradient(90deg,#5a0083,#5a0083,#5a0083,#5b0084,#5b0085,#5c0086,#5d0087,#60008b,#6c009d,#7800b0,#61008e,#49006a,#5d0087,#8000b9,#8000b9,#5d0088,#49006a,#61008e,#8200bc,#7d00b6,#5a0082,#4a006c,#660095,#8400bf,#7b00b3,#57007e,#4c006f,#6b009c,#8500c1,#7800af,#530079,#4e0071,#6f00a3,#8600c1,#7400a9,#500075,#500075,#7400a9,#8600c1,#6f00a3,#4e0071,#530079,#7800af,#8600c1,#6d009f,#510076,#5f008a,#8800c4,#9700d6,#8200bc,#6c009d,#7b00b4,#9b00db,#9f00d5,#8300bd,#6c009d,#7f00b8,#9d00d8,#9d00d8,#7f00b8,#6c009d,#8300bd,#9f00d5,#9b00db,#7b00b4,#6c009e,#8700c2,#a000d2,#9900d9,#7800af,#6e00a0,#8b00c7)"></i><i class="m" style="top:110px;height:10px;background:linear-gradient(90deg,#520078,#520078,#530079,#55007c,#580081,#5d0088,#630090,#6e00a0,#8000b9,#8b00c8,#8400bf,#7b00b4,#8400be,#9300d1,#9300d1,#8300be,#7b00b3,#8500c0,#9300d2,#9100d0,#8200bc,#7c00b4,#8800c3,#9500d4,#9100cf,#8100bb,#7c00b5,#8a00c6,#9600d5,#8f00cd,#8000b9,#7d00b6,#8c00c8,#9600d5,#8d00cb,#7e00b7,#7e00b7,#8d00cb,#9600d5,#8c00c8,#7d00b6,#8000b9,#8f00cd,#9600d5,#8a00c7,#7e00b7,#8400be,#9600d5,#9c00da,#9300d2,#8900c5,#9000ce,#9f00d5,#a100d0,#9600d6,#8c00ca,#9500d4,#a100d0,#a100d0,#9500d4,#8c00ca,#9700d7,#a200ce,#a000d1,#9300d2,#8d00ca,#9900d9,#a300cd,#9f00d3,#9200d0,#8d00cb,#9b00db)"></i><i style="top:120px;height:3px;background:linear-gradient(90deg,#520078,#520078,#530079,#55007c,#580081,#5d0088,#630090,#6e00a0,#8000b9,#8b00c8,#8400bf,#7b00b4,#8400be,#9300d1,#9300d1,#8300be,#7b00b3,#8500c0,#9300d2,#9100d0,#8200bc,#7c00b4,#8800c3,#9500d4,#9100cf,#8100bb,#7c00b5,#8a00c6,#9600d5,#8f00cd,#8000b9,#7d00b6,#8c00c8,#9600d5,#8d00cb,#7e00b7,#7e00b7,#8d00cb,#9600d5,#8c00c8,#7d00b6,#8000b9,#8f00cd,#9600d5,#8a00c7,#7e00b7,#8400be,#9600d5,#9c00da,#9300d2,#8900c5,#9000ce,#9f00d5,#a100d0,#9600d6,#8c00ca,#9500d4,#a100d0,#a100d0,#9500d4,#8c00ca,#9700d7,#a200ce,#a000d1,#9300d2,#8d00ca,#9900d9,#a300cd,#9f00d3,#9200d0,#8d00cb,#9b00db)"></i><i class="m" style="top:120px;height:3px;background:linear-gradient(90deg,#500075,#500075,#510076,#54007a,#580080,#5d0088,#650094,#7300a8,#8700c2,#9300d2,#9000ce,#8b00c7,#9100cf,#9b00db,#9b00db,#9000cf,#8a00c7,#9200d0,#9c00db,#9b00db,#8f00cd,#8b00c7,#9300d2,#9c00d9,#9a00da,#8e00cc,#8b00c8,#9500d4,#9d00d9,#9900d9,#8d00cb,#8c00c9,#9600d6,#9d00d8,#9700d7,#8d00ca,#8d00ca,#9700d7,#9d00d8,#9600d6,#8c00c9,#8d00cb,#9900d9,#9d00d9,#9500d5,#8c00c9,#9000ce,#9c00d9,#a000d3,#9a00db,#9300d2,#9800d8,#a200cf,#a400cb,#9d00d7,#9800d8,#9d00d8,#a500c9,#a500c9,#9d00d8,#9800d8,#9e00d6,#a500c8,#a400cb,#9c00da,#9800d8,#9f00d5,#a500c8,#a300cc,#9b00dc,#9800d8,#a000d3)"></i><i style="top:123px;height:2px;background:linear-gradient(90deg,#500075,#500075,#510076,#54007a,#580080,#5d0088,#650094,#7300a8,#8700c2,#9300d2,#9000ce,#8b00c7,#9100cf,#9b00db,#9b00db,#9000cf,#8a00c7,#9200d0,#9c00db,#9b00db,#8f00cd,#8b00c7,#9300d2,#9c00d9,#9a00da,#8e00cc,#8b00c8,#9500d4,#9d00d9,#9900d9,#8d00cb,#8c00c9,#9600d6,#9d00d8,#9700d7,#8d00ca,#8d00ca,#9700d7,#9d00d8,#9600d6,#8c00c9,#8d00cb,#9900d9,#9d00d9,#9500d5,#8c00c9,#9000ce,#9c00d9,#a000d3,#9a00db,#9300d2,#9800d8,#a200cf,#a400cb,#9d00d7,#9800d8,#9d00d8,#a500c9,#a500c9,#9d00d8,#9800d8,#9e00d6,#a500c8,#a400cb,#9c00da,#9800d8,#9f00d5,#a500c8,#a300cc,#9b00dc,#9800d8,#a000d3)"></i><i class="m" style="top:123px;height:2px;background:linear-gradient(90deg,#4f0073,#4f0073,#500074,#530079,#57007f,#5e0089,#670096,#7700ad,#8c00c8,#9800d8,#9800d8,#9500d4,#9900da,#a000d3,#a000d3,#9900da,#9400d3,#9a00db,#a000d2,#9f00d4,#9800d8,#9400d4,#9b00dc,#a000d1,#9f00d5,#9700d7,#9500d4,#9c00da,#a100d1,#9e00d6,#9700d6,#9500d5,#9d00d9,#a100d1,#9d00d7,#9600d6,#9600d6,#9d00d7,#a100d1,#9d00d9,#9500d5,#9700d6,#9e00d6,#a100d1,#9c00da,#9600d5,#9800d9,#a000d2,#a200cd,#9e00d6,#9900da,#9d00d8,#a400cb,#a600c7,#a100d0,#9e00d7,#a100d0,#a700c4,#a700c5,#a100d0,#9e00d7,#a200cf,#a700c4,#a700c5,#a000d2,#9e00d7,#a300cd,#a800c3,#a600c7,#a000d3,#9e00d6,#a300cc)"></i><i style="top:125px;height:2px;background:linear-gradient(90deg,#4f0073,#4f0073,#500074,#530079,#57007f,#5e0089,#670096,#7700ad,#8c00c8,#9800d8,#9800d8,#9500d4,#9900da,#a000d3,#a000d3,#9900da,#9400d3,#9a00db,#a000d2,#9f00d4,#9800d8,#9400d4,#9b00dc,#a000d1,#9f00d5,#9700d7,#9500d4,#9c00da,#a100d1,#9e00d6,#9700d6,#9500d5,#9d00d9,#a100d1,#9d00d7,#9600d6,#9600d6,#9d00d7,#a100d1,#9d00d9,#9500d5,#9700d6,#9e00d6,#a100d1,#9c00da,#9600d5,#9800d9,#a000d2,#a200cd,#9e00d6,#9900da,#9d00d8,#a400cb,#a600c7,#a100d0,#9e00d7,#a100d0,#a700c4,#a700c5,#a100d0,#9e00d7,#a200cf,#a700c4,#a700c5,#a000d2,#9e00d7,#a300cd,#a800c3,#a600c7,#a000d3,#9e00d6,#a300cc)"></i><i class="m" style="top:125px;height:2px;background:linear-gradient(90deg,#4e0071,#4e0071,#4f0073,#520077,#56007e,#5e0089,#680098,#7a00b2,#9000ce,#9d00d8,#9e00d6,#9d00d8,#a000d3,#a400ca,#a400ca,#a000d3,#9d00d8,#a000d2,#a400ca,#a400cb,#9f00d4,#9d00d8,#a100d1,#a500c9,#a300cc,#9f00d5,#9d00d8,#a100d0,#a500c9,#a300cd,#9e00d6,#9d00d7,#a200cf,#a500c9,#a200ce,#9e00d7,#9e00d7,#a200ce,#a500c9,#a200cf,#9d00d7,#9e00d6,#a300cd,#a500c9,#a100d0,#9d00d7,#9f00d4,#a400cb,#a500c8,#a200cf,#9e00d6,#a100d1,#a600c6,#a800c2,#a500c8,#a300cd,#a500c8,#aa00bf,#aa00bf,#a500c8,#a300cd,#a600c7,#aa00bf,#a900c0,#a500c9,#a300cd,#a600c6,#aa00be,#a900c1,#a400ca,#a300cd,#a700c5)"></i><i style="top:127px;height:6px;background:linear-gradient(90deg,#4e0071,#4e0071,#4f0073,#520077,#56007e,#5e0089,#680098,#7a00b2,#9000ce,#9d00d8,#9e00d6,#9d00d8,#a000d3,#a400ca,#a400ca,#a000d3,#9d00d8,#a000d2,#a400ca,#a400cb,#9f00d4,#9d00d8,#a100d1,#a500c9,#a300cc,#9f00d5,#9d00d8,#a100d0,#a500c9,#a300cd,#9e00d6,#9d00d7,#a200cf,#a500c9,#a200ce,#9e00d7,#9e00d7,#a200ce,#a500c9,#a200cf,#9d00d7,#9e00d6,#a300cd,#a500c9,#a100d0,#9d00d7,#9f00d4,#a400cb,#a500c8,#a200cf,#9e00d6,#a100d1,#a600c6,#a800c2,#a500c8,#a300cd,#a500c8,#aa00bf,#aa00bf,#a500c8,#a300cd,#a600c7,#aa00bf,#a900c0,#a500c9,#a300cd,#a600c6,#aa00be,#a900c1,#a400ca,#a300cd,#a700c5)"></i><i class="m" style="top:127px;height:6px;background:linear-gradient(90deg,#4b006d,#4b006d,#4c006f,#500074,#55007b,#5e0089,#6c009d,#8200bc,#9d00d8,#a800c2,#ad00b8,#af00b5,#b000b2,#b300ae,#b300ad,#b100b0,#b100b2,#b200af,#b300ac,#b300ad,#b100b0,#b100b2,#b200af,#b300ac,#b300ad,#b100b1,#b100b2,#b200af,#b300ac,#b300ad,#b100b1,#b100b2,#b200ae,#b300ac,#b300ae,#b100b1,#b100b1,#b300ae,#b300ac,#b200ae,#b100b2,#b100b1,#b300ad,#b300ac,#b200af,#b000b2,#b000b2,#b200af,#b200af,#b000b4,#ae00b7,#af00b5,#b200af,#b300ac,#b300ad,#b200ae,#b300ac,#b500a8,#b500a8,#b300ac,#b200ae,#b300ac,#b500a8,#b500a9,#b300ac,#b200ae,#b400ab,#b500a8,#b500a9,#b300ad,#b200ae,#b400ab)"></i><i style="top:133px;height:17px;background:linear-gradient(90deg,#4b006d,#4b006d,#4c006f,#500074,#55007b,#5e0089,#6c009d,#8200bc,#9d00d8,#a800c2,#ad00b8,#af00b5,#b000b2,#b300ae,#b300ad,#b100b0,#b100b2,#b200af,#b300ac,#b300ad,#b100b0,#b100b2,#b200af,#b300ac,#b300ad,#b100b1,#b100b2,#b200af,#b300ac,#b300ad,#b100b1,#b100b2,#b200ae,#b300ac,#b300ae,#b100b1,#b100b1,#b300ae,#b300ac,#b200ae,#b100b2,#b100b1,#b300ad,#b300ac,#b200af,#b000b2,#b000b2,#b200af,#b200af,#b000b4,#ae00b7,#af00b5,#b200af,#b300ac,#b300ad,#b200ae,#b300ac,#b500a8,#b500a8,#b300ac,#b200ae,#b300ac,#b500a8,#b500a9,#b300ac,#b200ae,#b400ab,#b500a8,#b500a9,#b300ad,#b200ae,#b400ab)"></i><i class="m" style="top:133px;height:17px;background:linear-gradient(90deg,#460065,#460065,#460066,#4a006b,#4f0073,#5e0089,#7600ac,#9a00da,#ba009b,#ca0074,#d5005e,#db0052,#de004c,#e00047,#e20043,#e30041,#e40040,#e40040,#e40040,#e40040,#e40040,#e40040,#e40040,#e40040,#e40040,#e40040,#e40040,#e40040,#e40040,#e40040,#e40040,#e40040,#e40040,#e40040,#e40040,#e40040,#e40040,#e40040,#e40040,#e40040,#e40040,#e40040,#e40040,#e40040,#e40040,#e40040,#e40040,#e40040,#e40040,#e40040,#e40040,#e40040,#e40040,#e40040,#e40040,#e40040,#e40040,#e40040,#e40040,#e40040,#e40040,#e40040,#e40040,#e40040,#e40040,#e40040,#e40040,#e40040,#e40040,#e40040,#e40040,#e40040)"></i><i style="top:150px;height:17px;background:linear-gradient(90deg,#460065,#460065,#460066,#4a006b,#4f0073,#5e0089,#7600ac,#9a00da,#ba009b,#ca0074,#d5005e,#db0052,#de004c,#e00047,#e20043,#e30041,#e40040,#e40040,#e40040,#e40040,#e40040,#e40040,#e40040,#e40040,#e40040,#e40040,#e40040,#e40040,#e40040,#e40040,#e40040,#e40040,#e40040,#e40040,#e40040,#e40040,#e40040,#e40040,#e40040,#e40040,#e40040,#e40040,#e40040,#e40040,#e40040,#e40040,#e40040,#e40040,#e40040,#e40040,#e40040,#e40040,#e40040,#e40040,#e40040,#e40040,#e40040,#e40040,#e40040,#e40040,#e40040,#e40040,#e40040,#e40040,#e40040,#e40040,#e40040,#e40040,#e40040,#e40040,#e40040,#e40040)"></i><i class="m" style="top:150px;height:17px;background:linear-gradient(90deg,#3f005c,#3f005c,#40005d,#430061,#49006a,#5e008a,#7f00b8,#aa00be,#d4005f,#ed002d,#f80012,#fe0004,#ff0001,#ff0100,#ff0200,#ff0300,#ff0400,#ff0300,#ff0300,#ff0300,#ff0400,#ff0400,#ff0300,#ff0300,#ff0300,#ff0400,#ff0400,#ff0300,#ff0300,#ff0300,#ff0400,#ff0400,#ff0300,#ff0300,#ff0300,#ff0400,#ff0400,#ff0300,#ff0300,#ff0300,#ff0400,#ff0400,#ff0300,#ff0300,#ff0400,#ff0400,#ff0400,#ff0300,#ff0300,#ff0400,#ff0400,#ff0400,#ff0300,#ff0300,#ff0400,#ff0400,#ff0400,#ff0300,#ff0200,#ff0200,#ff0100,#ff0000,#ff0001,#ff0001,#ff0000,#ff0000,#ff0000,#ff0000,#ff0000,#ff0100,#ff0100,#ff0000)"></i><i style="top:167px;height:6px;background:linear-gradient(90deg,#3f005c,#3f005c,#40005d,#430061,#49006a,#5e008a,#7f00b8,#aa00be,#d4005f,#ed002d,#f80012,#fe0004,#ff0001,#ff0100,#ff0200,#ff0300,#ff0400,#ff0300,#ff0300,#ff0300,#ff0400,#ff0400,#ff0300,#ff0300,#ff0300,#ff0400,#ff0400,#ff0300,#ff0300,#ff0300,#ff0400,#ff0400,#ff0300,#ff0300,#ff0300,#ff0400,#ff0400,#ff0300,#ff0300,#ff0300,#ff0400,#ff0400,#ff0300,#ff0300,#ff0400,#ff0400,#ff0400,#ff0300,#ff0300,#ff0400,#ff0400,#ff0400,#ff0300,#ff0300,#ff0400,#ff0400,#ff0400,#ff0300,#ff0200,#ff0200,#ff0100,#ff0000,#ff0001,#ff0001,#ff0000,#ff0000,#ff0000,#ff0000,#ff0000,#ff0100,#ff0100,#ff0000)"></i><i class="m" style="top:167px;height:6px;background:linear-gradient(90deg,#3f005c,#3f005c,#40005c,#420060,#480069,#5f008a,#8300bd,#b100b1,#e00047,#f80012,#ff0800,#ff1300,#ff1400,#ff1400,#ff1500,#ff1700,#ff1800,#ff1700,#ff1500,#ff1600,#ff1700,#ff1800,#ff1700,#ff1500,#ff1600,#ff1700,#ff1800,#ff1700,#ff1500,#ff1600,#ff1700,#ff1800,#ff1600,#ff1500,#ff1600,#ff1700,#ff1700,#ff1600,#ff1500,#ff1600,#ff1800,#ff1700,#ff1600,#ff1500,#ff1600,#ff1800,#ff1700,#ff1600,#ff1500,#ff1700,#ff1800,#ff1700,#ff1500,#ff1500,#ff1600,#ff1700,#ff1600,#ff1400,#ff1300,#ff1300,#ff1300,#ff1100,#ff0f00,#ff0f00,#ff1100,#ff1100,#ff1000,#ff0f00,#ff0f00,#ff1100,#ff1100,#ff1000)"></i><i style="top:173px;height:5px;background:linear-gradient(90deg,#3f005c,#3f005c,#40005c,#420060,#480069,#5f008a,#8300bd,#b100b1,#e00047,#f80012,#ff0800,#ff1300,#ff1400,#ff1400,#ff1500,#ff1700,#ff1800,#ff1700,#ff1500,#ff1600,#ff1700,#ff1800,#ff1700,#ff1500,#ff1600,#ff1700,#ff1800,#ff1700,#ff1500,#ff1600,#ff1700,#ff1800,#ff1600,#ff1500,#ff1600,#ff1700,#ff1700,#ff1600,#ff1500,#ff1600,#ff1800,#ff1700,#ff1600,#ff1500,#ff1600,#ff1800,#ff1700,#ff1600,#ff1500,#ff1700,#ff1800,#ff1700,#ff1500,#ff1500,#ff1600,#ff1700,#ff1600,#ff1400,#ff1300,#ff1300,#ff1300,#ff1100,#ff0f00,#ff0f00,#ff1100,#ff1100,#ff1000,#ff0f00,#ff0f00,#ff1100,#ff1100,#ff1000)"></i><i class="m" style="top:173px;height:5px;background:linear-gradient(90deg,#40005d,#40005d,#40005e,#430062,#49006a,#60008c,#8600c1,#b600a5,#ec0030,#ff0600,#ff1e00,#ff2b00,#ff2b00,#ff2900,#ff2a00,#ff2e00,#ff3000,#ff2e00,#ff2b00,#ff2b00,#ff2f00,#ff3000,#ff2e00,#ff2b00,#ff2c00,#ff2f00,#ff3000,#ff2d00,#ff2b00,#ff2c00,#ff2f00,#ff2f00,#ff2c00,#ff2a00,#ff2b00,#ff2e00,#ff2e00,#ff2b00,#ff2900,#ff2c00,#ff2e00,#ff2e00,#ff2b00,#ff2900,#ff2c00,#ff2f00,#ff2e00,#ff2a00,#ff2a00,#ff2c00,#ff2f00,#ff2e00,#ff2a00,#ff2800,#ff2a00,#ff2c00,#ff2900,#ff2500,#ff2400,#ff2600,#ff2700,#ff2400,#ff2000,#ff2000,#ff2300,#ff2400,#ff2100,#ff1e00,#ff1e00,#ff2100,#ff2200,#ff1f00)"></i><i style="top:178px;height:11px;background:linear-gradient(90deg,#40005d,#40005d,#40005e,#430062,#49006a,#60008c,#8600c1,#b600a5,#ec0030,#ff0600,#ff1e00,#ff2b00,#ff2b00,#ff2900,#ff2a00,#ff2e00,#ff3000,#ff2e00,#ff2b00,#ff2b00,#ff2f00,#ff3000,#ff2e00,#ff2b00,#ff2c00,#ff2f00,#ff3000,#ff2d00,#ff2b00,#ff2c00,#ff2f00,#ff2f00,#ff2c00,#ff2a00,#ff2b00,#ff2e00,#ff2e00,#ff2b00,#ff2900,#ff2c00,#ff2e00,#ff2e00,#ff2b00,#ff2900,#ff2c00,#ff2f00,#ff2e00,#ff2a00,#ff2a00,#ff2c00,#ff2f00,#ff2e00,#ff2a00,#ff2800,#ff2a00,#ff2c00,#ff2900,#ff2500,#ff2400,#ff2600,#ff2700,#ff2400,#ff2000,#ff2000,#ff2300,#ff2400,#ff2100,#ff1e00,#ff1e00,#ff2100,#ff2200,#ff1f00)"></i><i class="m" style="top:178px;height:11px;background:linear-gradient(90deg,#440063,#440063,#450064,#480068,#4e0071,#670097,#8f00cd,#c30086,#ff0300,#ff2f00,#ff5000,#ff6400,#ff6100,#ff5800,#ff5900,#ff6400,#ff6a00,#ff6300,#ff5900,#ff5b00,#ff6500,#ff6a00,#ff6200,#ff5900,#ff5c00,#ff6700,#ff6a00,#ff6100,#ff5800,#ff5c00,#ff6600,#ff6700,#ff5c00,#ff5500,#ff5a00,#ff6400,#ff6400,#ff5a00,#ff5400,#ff5b00,#ff6500,#ff6300,#ff5900,#ff5400,#ff5c00,#ff6500,#ff6200,#ff5800,#ff5500,#ff5e00,#ff6600,#ff6100,#ff5500,#ff5100,#ff5800,#ff5d00,#ff5500,#ff4900,#ff4800,#ff5100,#ff5600,#ff4d00,#ff4200,#ff4200,#ff4c00,#ff4f00,#ff4600,#ff3b00,#ff3d00,#ff4600,#ff4900,#ff3f00)"></i><i style="top:189px;height:9px;background:linear-gradient(90deg,#440063,#440063,#450064,#480068,#4e0071,#670097,#8f00cd,#c30086,#ff0300,#ff2f00,#ff5000,#ff6400,#ff6100,#ff5800,#ff5900,#ff6400,#ff6a00,#ff6300,#ff5900,#ff5b00,#ff6500,#ff6a00,#ff6200,#ff5900,#ff5c00,#ff6700,#ff6a00,#ff6100,#ff5800,#ff5c00,#ff6600,#ff6700,#ff5c00,#ff5500,#ff5a00,#ff6400,#ff6400,#ff5a00,#ff5400,#ff5b00,#ff6500,#ff6300,#ff5900,#ff5400,#ff5c00,#ff6500,#ff6200,#ff5800,#ff5500,#ff5e00,#ff6600,#ff6100,#ff5500,#ff5100,#ff5800,#ff5d00,#ff5500,#ff4900,#ff4800,#ff5100,#ff5600,#ff4d00,#ff4200,#ff4200,#ff4c00,#ff4f00,#ff4600,#ff3b00,#ff3d00,#ff4600,#ff4900,#ff3f00)"></i><i class="m" style="top:189px;height:9px;background:linear-gradient(90deg,#4a006c,#4a006c,#4b006d,#4f0073,#56007e,#7300a8,#9d00d7,#d20063,#ff1f00,#ff4900,#ff6e00,#ff8500,#ff7d00,#ff6b00,#ff6c00,#ff7f00,#ff8900,#ff7c00,#ff6b00,#ff6d00,#ff8000,#ff8800,#ff7900,#ff6900,#ff6e00,#ff8100,#ff8600,#ff7500,#ff6600,#ff6e00,#ff8000,#ff8200,#ff7000,#ff6200,#ff6c00,#ff7f00,#ff7e00,#ff6c00,#ff6100,#ff6e00,#ff8000,#ff7d00,#ff6a00,#ff6200,#ff7000,#ff8100,#ff7b00,#ff6800,#ff6200,#ff7200,#ff8000,#ff7700,#ff6200,#ff5d00,#ff6c00,#ff7700,#ff6b00,#ff5700,#ff5600,#ff6700,#ff7000,#ff6200,#ff4f00,#ff5000,#ff6200,#ff6800,#ff5800,#ff4600,#ff4a00,#ff5c00,#ff6100,#ff5000)"></i><i style="top:198px;height:14px;background:linear-gradient(90deg,#4a006c,#4a006c,#4b006d,#4f0073,#56007e,#7300a8,#9d00d7,#d20063,#ff1f00,#ff4900,#ff6e00,#ff8500,#ff7d00,#ff6b00,#ff6c00,#ff7f00,#ff8900,#ff7c00,#ff6b00,#ff6d00,#ff8000,#ff8800,#ff7900,#ff6900,#ff6e00,#ff8100,#ff8600,#ff7500,#ff6600,#ff6e00,#ff8000,#ff8200,#ff7000,#ff6200,#ff6c00,#ff7f00,#ff7e00,#ff6c00,#ff6100,#ff6e00,#ff8000,#ff7d00,#ff6a00,#ff6200,#ff7000,#ff8100,#ff7b00,#ff6800,#ff6200,#ff7200,#ff8000,#ff7700,#ff6200,#ff5d00,#ff6c00,#ff7700,#ff6b00,#ff5700,#ff5600,#ff6700,#ff7000,#ff6200,#ff4f00,#ff5000,#ff6200,#ff6800,#ff5800,#ff4600,#ff4a00,#ff5c00,#ff6100,#ff5000)"></i><i class="m" style="top:198px;height:14px;background:linear-gradient(90deg,#60008c,#60008c,#62008f,#6b009c,#7a00b2,#9b00db,#bc0097,#f4001e,#ff4900,#ff6c00,#ff8c00,#ffa200,#ff9600,#ff7f00,#ff7f00,#ff9600,#ffa300,#ff9300,#ff7d00,#ff8000,#ff9700,#ffa000,#ff8d00,#ff7900,#ff7f00,#ff9600,#ff9c00,#ff8700,#ff7500,#ff7e00,#ff9400,#ff9700,#ff8100,#ff7100,#ff7d00,#ff9400,#ff9400,#ff7d00,#ff7000,#ff8000,#ff9500,#ff9200,#ff7a00,#ff7100,#ff8300,#ff9600,#ff9000,#ff7800,#ff7100,#ff8300,#ff9200,#ff8700,#ff6e00,#ff6a00,#ff7f00,#ff8d00,#ff7f00,#ff6700,#ff6500,#ff7b00,#ff8600,#ff7500,#ff5e00,#ff6000,#ff7600,#ff7e00,#ff6b00,#ff5600,#ff5b00,#ff7100,#ff7700,#ff6300)"></i><i style="top:212px;height:8px;background:linear-gradient(90deg,#60008c,#60008c,#62008f,#6b009c,#7a00b2,#9b00db,#bc0097,#f4001e,#ff4900,#ff6c00,#ff8c00,#ffa200,#ff9600,#ff7f00,#ff7f00,#ff9600,#ffa300,#ff9300,#ff7d00,#ff8000,#ff9700,#ffa000,#ff8d00,#ff7900,#ff7f00,#ff9600,#ff9c00,#ff8700,#ff7500,#ff7e00,#ff9400,#ff9700,#ff8100,#ff7100,#ff7d00,#ff9400,#ff9400,#ff7d00,#ff7000,#ff8000,#ff9500,#ff9200,#ff7a00,#ff7100,#ff8300,#ff9600,#ff9000,#ff7800,#ff7100,#ff8300,#ff9200,#ff8700,#ff6e00,#ff6a00,#ff7f00,#ff8d00,#ff7f00,#ff6700,#ff6500,#ff7b00,#ff8600,#ff7500,#ff5e00,#ff6000,#ff7600,#ff7e00,#ff6b00,#ff5600,#ff5b00,#ff7100,#ff7700,#ff6300)"></i><i class="m" style="top:212px;height:8px;background:linear-gradient(90deg,#7500ab,#7500ab,#7a00b1,#8600c1,#9800d8,#b200af,#d10064,#ff0600,#ff5600,#ff7200,#ff8c00,#ff9e00,#ff9500,#ff8300,#ff8300,#ff9400,#ff9e00,#ff9200,#ff8200,#ff8400,#ff9600,#ff9d00,#ff8f00,#ff7f00,#ff8300,#ff9500,#ff9a00,#ff8a00,#ff7c00,#ff8300,#ff9500,#ff9700,#ff8600,#ff7a00,#ff8300,#ff9400,#ff9400,#ff8300,#ff7900,#ff8500,#ff9600,#ff9300,#ff8100,#ff7900,#ff8700,#ff9600,#ff9100,#ff7f00,#ff7a00,#ff8800,#ff9300,#ff8b00,#ff7800,#ff7400,#ff8400,#ff8f00,#ff8400,#ff7100,#ff7000,#ff8100,#ff8900,#ff7c00,#ff6a00,#ff6c00,#ff7d00,#ff8300,#ff7400,#ff6300,#ff6700,#ff7800,#ff7c00,#ff6d00)"></i><i style="top:220px;height:2px;background:linear-gradient(90deg,#7500ab,#7500ab,#7a00b1,#8600c1,#9800d8,#b200af,#d10064,#ff0600,#ff5600,#ff7200,#ff8c00,#ff9e00,#ff9500,#ff8300,#ff8300,#ff9400,#ff9e00,#ff9200,#ff8200,#ff8400,#ff9600,#ff9d00,#ff8f00,#ff7f00,#ff8300,#ff9500,#ff9a00,#ff8a00,#ff7c00,#ff8300,#ff9500,#ff9700,#ff8600,#ff7a00,#ff8300,#ff9400,#ff9400,#ff8300,#ff7900,#ff8500,#ff9600,#ff9300,#ff8100,#ff7900,#ff8700,#ff9600,#ff9100,#ff7f00,#ff7a00,#ff8800,#ff9300,#ff8b00,#ff7800,#ff7400,#ff8400,#ff8f00,#ff8400,#ff7100,#ff7000,#ff8100,#ff8900,#ff7c00,#ff6a00,#ff6c00,#ff7d00,#ff8300,#ff7400,#ff6300,#ff6700,#ff7800,#ff7c00,#ff6d00)"></i><i class="m" style="top:220px;height:2px;background:linear-gradient(90deg,#7c00b5,#7c00b5,#8100bb,#8f00cc,#a000d3,#b9009e,#d90055,#ff0d00,#ff5900,#ff7400,#ff8c00,#ff9d00,#ff9400,#ff8400,#ff8400,#ff9400,#ff9d00,#ff9200,#ff8300,#ff8500,#ff9500,#ff9b00,#ff8f00,#ff8100,#ff8500,#ff9500,#ff9900,#ff8b00,#ff7e00,#ff8500,#ff9400,#ff9600,#ff8700,#ff7c00,#ff8500,#ff9400,#ff9400,#ff8400,#ff7c00,#ff8600,#ff9500,#ff9300,#ff8300,#ff7c00,#ff8800,#ff9600,#ff9100,#ff8100,#ff7c00,#ff8900,#ff9300,#ff8b00,#ff7a00,#ff7700,#ff8500,#ff8e00,#ff8500,#ff7400,#ff7300,#ff8200,#ff8a00,#ff7e00,#ff6e00,#ff6f00,#ff7e00,#ff8400,#ff7600,#ff6700,#ff6b00,#ff7a00,#ff7e00,#ff7000)"></i><i style="top:222px;height:3px;background:linear-gradient(90deg,#7c00b5,#7c00b5,#8100bb,#8f00cc,#a000d3,#b9009e,#d90055,#ff0d00,#ff5900,#ff7400,#ff8c00,#ff9d00,#ff9400,#ff8400,#ff8400,#ff9400,#ff9d00,#ff9200,#ff8300,#ff8500,#ff9500,#ff9b00,#ff8f00,#ff8100,#ff8500,#ff9500,#ff9900,#ff8b00,#ff7e00,#ff8500,#ff9400,#ff9600,#ff8700,#ff7c00,#ff8500,#ff9400,#ff9400,#ff8400,#ff7c00,#ff8600,#ff9500,#ff9300,#ff8300,#ff7c00,#ff8800,#ff9600,#ff9100,#ff8100,#ff7c00,#ff8900,#ff9300,#ff8b00,#ff7a00,#ff7700,#ff8500,#ff8e00,#ff8500,#ff7400,#ff7300,#ff8200,#ff8a00,#ff7e00,#ff6e00,#ff6f00,#ff7e00,#ff8400,#ff7600,#ff6700,#ff6b00,#ff7a00,#ff7e00,#ff7000)"></i><i class="m" style="top:222px;height:3px;background:linear-gradient(90deg,#8700c3,#8700c3,#8e00cb,#9d00d9,#ac00bb,#c40084,#e5003d,#ff1700,#ff5c00,#ff7600,#ff8c00,#ff9a00,#ff9300,#ff8600,#ff8600,#ff9300,#ff9a00,#ff9200,#ff8500,#ff8700,#ff9400,#ff9900,#ff8f00,#ff8300,#ff8700,#ff9400,#ff9700,#ff8c00,#ff8100,#ff8700,#ff9400,#ff9500,#ff8900,#ff8000,#ff8700,#ff9300,#ff9300,#ff8700,#ff7f00,#ff8800,#ff9400,#ff9200,#ff8500,#ff8000,#ff8a00,#ff9500,#ff9100,#ff8400,#ff8000,#ff8a00,#ff9300,#ff8c00,#ff7e00,#ff7b00,#ff8600,#ff8e00,#ff8600,#ff7800,#ff7800,#ff8400,#ff8a00,#ff8000,#ff7300,#ff7400,#ff8100,#ff8500,#ff7a00,#ff6d00,#ff7000,#ff7c00,#ff7f00,#ff7400)"></i><i style="top:225px;height:3px;background:linear-gradient(90deg,#8700c3,#8700c3,#8e00cb,#9d00d9,#ac00bb,#c40084,#e5003d,#ff1700,#ff5c00,#ff7600,#ff8c00,#ff9a00,#ff9300,#ff8600,#ff8600,#ff9300,#ff9a00,#ff9200,#ff8500,#ff8700,#ff9400,#ff9900,#ff8f00,#ff8300,#ff8700,#ff9400,#ff9700,#ff8c00,#ff8100,#ff8700,#ff9400,#ff9500,#ff8900,#ff8000,#ff8700,#ff9300,#ff9300,#ff8700,#ff7f00,#ff8800,#ff9400,#ff9200,#ff8500,#ff8000,#ff8a00,#ff9500,#ff9100,#ff8400,#ff8000,#ff8a00,#ff9300,#ff8c00,#ff7e00,#ff7b00,#ff8600,#ff8e00,#ff8600,#ff7800,#ff7800,#ff8400,#ff8a00,#ff8000,#ff7300,#ff7400,#ff8100,#ff8500,#ff7a00,#ff6d00,#ff7000,#ff7c00,#ff7f00,#ff7400)"></i><i class="m" style="top:225px;height:3px;background:linear-gradient(90deg,#9300d2,#9300d2,#9b00dc,#a800c3,#b800a1,#d00068,#f20024,#ff2100,#ff6000,#ff7800,#ff8b00,#ff9800,#ff9200,#ff8800,#ff8800,#ff9200,#ff9800,#ff9100,#ff8700,#ff8900,#ff9300,#ff9700,#ff8f00,#ff8600,#ff8900,#ff9300,#ff9600,#ff8d00,#ff8500,#ff8900,#ff9300,#ff9400,#ff8a00,#ff8300,#ff8900,#ff9300,#ff9300,#ff8900,#ff8300,#ff8a00,#ff9300,#ff9200,#ff8700,#ff8300,#ff8b00,#ff9400,#ff9100,#ff8600,#ff8300,#ff8b00,#ff9200,#ff8d00,#ff8100,#ff7f00,#ff8700,#ff8d00,#ff8700,#ff7c00,#ff7c00,#ff8500,#ff8a00,#ff8300,#ff7800,#ff7900,#ff8300,#ff8600,#ff7d00,#ff7300,#ff7500,#ff7f00,#ff8100,#ff7800)"></i><i style="top:228px;height:2px;background:linear-gradient(90deg,#9300d2,#9300d2,#9b00dc,#a800c3,#b800a1,#d00068,#f20024,#ff2100,#ff6000,#ff7800,#ff8b00,#ff9800,#ff9200,#ff8800,#ff8800,#ff9200,#ff9800,#ff9100,#ff8700,#ff8900,#ff9300,#ff9700,#ff8f00,#ff8600,#ff8900,#ff9300,#ff9600,#ff8d00,#ff8500,#ff8900,#ff9300,#ff9400,#ff8a00,#ff8300,#ff8900,#ff9300,#ff9300,#ff8900,#ff8300,#ff8a00,#ff9300,#ff9200,#ff8700,#ff8300,#ff8b00,#ff9400,#ff9100,#ff8600,#ff8300,#ff8b00,#ff9200,#ff8d00,#ff8100,#ff7f00,#ff8700,#ff8d00,#ff8700,#ff7c00,#ff7c00,#ff8500,#ff8a00,#ff8300,#ff7800,#ff7900,#ff8300,#ff8600,#ff7d00,#ff7300,#ff7500,#ff7f00,#ff8100,#ff7800)"></i><i class="m" style="top:228px;height:2px;background:linear-gradient(90deg,#9b00dc,#9b00dc,#a200cf,#b000b4,#bf008f,#d80056,#f70014,#ff2800,#ff6200,#ff7900,#ff8b00,#ff9700,#ff9200,#ff8900,#ff8900,#ff9200,#ff9700,#ff9100,#ff8900,#ff8a00,#ff9200,#ff9600,#ff8f00,#ff8700,#ff8a00,#ff9200,#ff9500,#ff8d00,#ff8600,#ff8a00,#ff9200,#ff9300,#ff8b00,#ff8500,#ff8a00,#ff9200,#ff9200,#ff8a00,#ff8500,#ff8b00,#ff9300,#ff9200,#ff8900,#ff8500,#ff8c00,#ff9300,#ff9100,#ff8800,#ff8500,#ff8c00,#ff9200,#ff8d00,#ff8400,#ff8100,#ff8800,#ff8d00,#ff8800,#ff7f00,#ff7e00,#ff8600,#ff8a00,#ff8400,#ff7c00,#ff7c00,#ff8400,#ff8700,#ff7f00,#ff7700,#ff7800,#ff8000,#ff8200,#ff7a00)"></i><i style="top:230px;height:4px;background:linear-gradient(90deg,#9b00dc,#9b00dc,#a200cf,#b000b4,#bf008f,#d80056,#f70014,#ff2800,#ff6200,#ff7900,#ff8b00,#ff9700,#ff9200,#ff8900,#ff8900,#ff9200,#ff9700,#ff9100,#ff8900,#ff8a00,#ff9200,#ff9600,#ff8f00,#ff8700,#ff8a00,#ff9200,#ff9500,#ff8d00,#ff8600,#ff8a00,#ff9200,#ff9300,#ff8b00,#ff8500,#ff8a00,#ff9200,#ff9200,#ff8a00,#ff8500,#ff8b00,#ff9300,#ff9200,#ff8900,#ff8500,#ff8c00,#ff9300,#ff9100,#ff8800,#ff8500,#ff8c00,#ff9200,#ff8d00,#ff8400,#ff8100,#ff8800,#ff8d00,#ff8800,#ff7f00,#ff7e00,#ff8600,#ff8a00,#ff8400,#ff7c00,#ff7c00,#ff8400,#ff8700,#ff7f00,#ff7700,#ff7800,#ff8000,#ff8200,#ff7a00)"></i><i class="m" style="top:230px;height:4px;background:linear-gradient(90deg,#a700c4,#a700c4,#af00b4,#bd0094,#ce006b,#ea0034,#ff0600,#ff3500,#ff6600,#ff7b00,#ff8b00,#ff9400,#ff9100,#ff8b00,#ff8b00,#ff9100,#ff9400,#ff9000,#ff8b00,#ff8b00,#ff9100,#ff9300,#ff8f00,#ff8a00,#ff8c00,#ff9100,#ff9300,#ff8e00,#ff8a00,#ff8c00,#ff9100,#ff9200,#ff8d00,#ff8900,#ff8c00,#ff9100,#ff9100,#ff8c00,#ff8900,#ff8d00,#ff9200,#ff9100,#ff8b00,#ff8900,#ff8d00,#ff9200,#ff9100,#ff8b00,#ff8900,#ff8d00,#ff9100,#ff8e00,#ff8700,#ff8500,#ff8900,#ff8c00,#ff8900,#ff8300,#ff8300,#ff8800,#ff8b00,#ff8700,#ff8100,#ff8200,#ff8700,#ff8800,#ff8300,#ff7d00,#ff7e00,#ff8300,#ff8300,#ff7f00)"></i><i style="top:234px;height:8px;background:linear-gradient(90deg,#a700c4,#a700c4,#af00b4,#bd0094,#ce006b,#ea0034,#ff0600,#ff3500,#ff6600,#ff7b00,#ff8b00,#ff9400,#ff9100,#ff8b00,#ff8b00,#ff9100,#ff9400,#ff9000,#ff8b00,#ff8b00,#ff9100,#ff9300,#ff8f00,#ff8a00,#ff8c00,#ff9100,#ff9300,#ff8e00,#ff8a00,#ff8c00,#ff9100,#ff9200,#ff8d00,#ff8900,#ff8c00,#ff9100,#ff9100,#ff8c00,#ff8900,#ff8d00,#ff9200,#ff9100,#ff8b00,#ff8900,#ff8d00,#ff9200,#ff9100,#ff8b00,#ff8900,#ff8d00,#ff9100,#ff8e00,#ff8700,#ff8500,#ff8900,#ff8c00,#ff8900,#ff8300,#ff8300,#ff8800,#ff8b00,#ff8700,#ff8100,#ff8200,#ff8700,#ff8800,#ff8300,#ff7d00,#ff7e00,#ff8300,#ff8300,#ff7f00)"></i><i class="m" style="top:234px;height:8px;background:linear-gradient(90deg,#bd0095,#bd0095,#c6007f,#d6005a,#ec0030,#ff0200,#ff2500,#ff4900,#ff6c00,#ff7e00,#ff8b00,#ff9100,#ff9000,#ff8e00,#ff8e00,#ff9000,#ff9100,#ff9000,#ff8e00,#ff8e00,#ff9000,#ff9100,#ff8f00,#ff8d00,#ff8e00,#ff9000,#ff9100,#ff8f00,#ff8d00,#ff8e00,#ff9000,#ff9100,#ff8f00,#ff8d00,#ff8e00,#ff9000,#ff9000,#ff8e00,#ff8d00,#ff8f00,#ff9100,#ff9000,#ff8e00,#ff8d00,#ff8f00,#ff9100,#ff9000,#ff8e00,#ff8d00,#ff8f00,#ff9100,#ff8f00,#ff8c00,#ff8a00,#ff8b00,#ff8c00,#ff8a00,#ff8800,#ff8800,#ff8a00,#ff8b00,#ff8a00,#ff8800,#ff8800,#ff8a00,#ff8a00,#ff8800,#ff8500,#ff8500,#ff8600,#ff8600,#ff8400)"></i><i style="top:242px;height:12px;background:linear-gradient(90deg,#bd0095,#bd0095,#c6007f,#d6005a,#ec0030,#ff0200,#ff2500,#ff4900,#ff6c00,#ff7e00,#ff8b00,#ff9100,#ff9000,#ff8e00,#ff8e00,#ff9000,#ff9100,#ff9000,#ff8e00,#ff8e00,#ff9000,#ff9100,#ff8f00,#ff8d00,#ff8e00,#ff9000,#ff9100,#ff8f00,#ff8d00,#ff8e00,#ff9000,#ff9100,#ff8f00,#ff8d00,#ff8e00,#ff9000,#ff9000,#ff8e00,#ff8d00,#ff8f00,#ff9100,#ff9000,#ff8e00,#ff8d00,#ff8f00,#ff9100,#ff9000,#ff8e00,#ff8d00,#ff8f00,#ff9100,#ff8f00,#ff8c00,#ff8a00,#ff8b00,#ff8c00,#ff8a00,#ff8800,#ff8800,#ff8a00,#ff8b00,#ff8a00,#ff8800,#ff8800,#ff8a00,#ff8a00,#ff8800,#ff8500,#ff8500,#ff8600,#ff8600,#ff8400)"></i><i class="m" style="top:242px;height:12px;background:linear-gradient(90deg,#d80057,#d80057,#e30042,#f30021,#ff0100,#ff1c00,#ff3900,#ff5600,#ff7300,#ff8200,#ff8c00,#ff9000,#ff9000,#ff9000,#ff9000,#ff9000,#ff9000,#ff9000,#ff9000,#ff9000,#ff9000,#ff9000,#ff9000,#ff8f00,#ff8f00,#ff8f00,#ff8f00,#ff8f00,#ff8f00,#ff8f00,#ff8f00,#ff8f00,#ff8f00,#ff8f00,#ff8f00,#ff8f00,#ff8f00,#ff8f00,#ff8f00,#ff8f00,#ff8f00,#ff8f00,#ff8f00,#ff8f00,#ff8f00,#ff8f00,#ff8f00,#ff8f00,#ff8f00,#ff8f00,#ff8f00,#ff8f00,#ff8d00,#ff8c00,#ff8b00,#ff8a00,#ff8a00,#ff8a00,#ff8a00,#ff8a00,#ff8a00,#ff8a00,#ff8a00,#ff8a00,#ff8a00,#ff8a00,#ff8900,#ff8800,#ff8700,#ff8600,#ff8500,#ff8500)"></i><i style="top:254px;height:11px;background:linear-gradient(90deg,#d80057,#d80057,#e30042,#f30021,#ff0100,#ff1c00,#ff3900,#ff5600,#ff7300,#ff8200,#ff8c00,#ff9000,#ff9000,#ff9000,#ff9000,#ff9000,#ff9000,#ff9000,#ff9000,#ff9000,#ff9000,#ff9000,#ff9000,#ff8f00,#ff8f00,#ff8f00,#ff8f00,#ff8f00,#ff8f00,#ff8f00,#ff8f00,#ff8f00,#ff8f00,#ff8f00,#ff8f00,#ff8f00,#ff8f00,#ff8f00,#ff8f00,#ff8f00,#ff8f00,#ff8f00,#ff8f00,#ff8f00,#ff8f00,#ff8f00,#ff8f00,#ff8f00,#ff8f00,#ff8f00,#ff8f00,#ff8f00,#ff8d00,#ff8c00,#ff8b00,#ff8a00,#ff8a00,#ff8a00,#ff8a00,#ff8a00,#ff8a00,#ff8a00,#ff8a00,#ff8a00,#ff8a00,#ff8a00,#ff8900,#ff8800,#ff8700,#ff8600,#ff8500,#ff8500)"></i><i class="m" style="top:254px;height:11px;background:linear-gradient(90deg,#f20022,#f20022,#f80012,#ff0400,#ff1600,#ff2c00,#ff4300,#ff5d00,#ff7700,#ff8500,#ff8e00,#ff9300,#ff9300,#ff9300,#ff9300,#ff9300,#ff9300,#ff9200,#ff9200,#ff9200,#ff9100,#ff9100,#ff9100,#ff9000,#ff9000,#ff8f00,#ff8f00,#ff8f00,#ff8f00,#ff8f00,#ff8f00,#ff8f00,#ff8f00,#ff8f00,#ff8f00,#ff8f00,#ff8f00,#ff8f00,#ff8f00,#ff8f00,#ff8f00,#ff8f00,#ff8f00,#ff8f00,#ff8f00,#ff8f00,#ff8f00,#ff8f00,#ff8f00,#ff8f00,#ff8f00,#ff8f00,#ff8e00,#ff8c00,#ff8b00,#ff8a00,#ff8a00,#ff8a00,#ff8a00,#ff8a00,#ff8a00,#ff8a00,#ff8a00,#ff8a00,#ff8a00,#ff8900,#ff8900,#ff8800,#ff8700,#ff8600,#ff8500,#ff8500)"></i><i style="top:265px;height:7px;background:linear-gradient(90deg,#f20022,#f20022,#f80012,#ff0400,#ff1600,#ff2c00,#ff4300,#ff5d00,#ff7700,#ff8500,#ff8e00,#ff9300,#ff9300,#ff9300,#ff9300,#ff9300,#ff9300,#ff9200,#ff9200,#ff9200,#ff9100,#ff9100,#ff9100,#ff9000,#ff9000,#ff8f00,#ff8f00,#ff8f00,#ff8f00,#ff8f00,#ff8f00,#ff8f00,#ff8f00,#ff8f00,#ff8f00,#ff8f00,#ff8f00,#ff8f00,#ff8f00,#ff8f00,#ff8f00,#ff8f00,#ff8f00,#ff8f00,#ff8f00,#ff8f00,#ff8f00,#ff8f00,#ff8f00,#ff8f00,#ff8f00,#ff8f00,#ff8e00,#ff8c00,#ff8b00,#ff8a00,#ff8a00,#ff8a00,#ff8a00,#ff8a00,#ff8a00,#ff8a00,#ff8a00,#ff8a00,#ff8a00,#ff8900,#ff8900,#ff8800,#ff8700,#ff8600,#ff8500,#ff8500)"></i><i class="m" style="top:265px;height:7px;background:linear-gradient(90deg,#fd0005,#fd0005,#ff0500,#ff1300,#ff2300,#ff3500,#ff4900,#ff6000,#ff7900,#ff8700,#ff9000,#ff9400,#ff9400,#ff9400,#ff9400,#ff9400,#ff9400,#ff9400,#ff9300,#ff9300,#ff9200,#ff9200,#ff9100,#ff9000,#ff9000,#ff8f00,#ff8f00,#ff8f00,#ff8f00,#ff8f00,#ff8f00,#ff8f00,#ff8f00,#ff8f00,#ff8f00,#ff8f00,#ff8f00,#ff8f00,#ff8f00,#ff8f00,#ff8f00,#ff8f00,#ff8f00,#ff8f00,#ff8f00,#ff8f00,#ff8f00,#ff8f00,#ff8f00,#ff8f00,#ff8f00,#ff8f00,#ff8e00,#ff8c00,#ff8b00,#ff8a00,#ff8a00,#ff8a00,#ff8a00,#ff8a00,#ff8a00,#ff8a00,#ff8a00,#ff8a00,#ff8a00,#ff8900,#ff8900,#ff8800,#ff8700,#ff8600,#ff8500,#ff8500)"></i><i style="top:272px;height:40px;background:linear-gradient(90deg,#fd0005,#fd0005,#ff0500,#ff1300,#ff2300,#ff3500,#ff4900,#ff6000,#ff7900,#ff8700,#ff9000,#ff9400,#ff9400,#ff9400,#ff9400,#ff9400,#ff9400,#ff9400,#ff9300,#ff9300,#ff9200,#ff9200,#ff9100,#ff9000,#ff9000,#ff8f00,#ff8f00,#ff8f00,#ff8f00,#ff8f00,#ff8f00,#ff8f00,#ff8f00,#ff8f00,#ff8f00,#ff8f00,#ff8f00,#ff8f00,#ff8f00,#ff8f00,#ff8f00,#ff8f00,#ff8f00,#ff8f00,#ff8f00,#ff8f00,#ff8f00,#ff8f00,#ff8f00,#ff8f00,#ff8f00,#ff8f00,#ff8e00,#ff8c00,#ff8b00,#ff8a00,#ff8a00,#ff8a00,#ff8a00,#ff8a00,#ff8a00,#ff8a00,#ff8a00,#ff8a00,#ff8a00,#ff8900,#ff8900,#ff8800,#ff8700,#ff8600,#ff8500,#ff8500)"></i><i class="m" style="top:272px;height:40px;background:linear-gradient(90deg,#ff4600,#ff4600,#ff5000,#ff5e00,#ff6a00,#ff7700,#ff8200,#ff8b00,#ff9100,#ff9300,#ff9400,#ff9400,#ff9400,#ff9300,#ff9200,#ff9100,#ff9100,#ff9000,#ff8f00,#ff8f00,#ff8e00,#ff8e00,#ff8d00,#ff8d00,#ff8c00,#ff8c00,#ff8b00,#ff8b00,#ff8b00,#ff8a00,#ff8a00,#ff8900,#ff8900,#ff8800,#ff8800,#ff8800,#ff8800,#ff8800,#ff8800,#ff8800,#ff8800,#ff8800,#ff8800,#ff8800,#ff8800,#ff8800,#ff8800,#ff8800,#ff8800,#ff8800,#ff8800,#ff8800,#ff8800,#ff8700,#ff8700,#ff8700,#ff8600,#ff8600,#ff8500,#ff8500,#ff8400,#ff8300,#ff8300,#ff8300,#ff8300,#ff8300,#ff8200,#ff8200,#ff8200,#ff8200,#ff8200,#ff8200)"></i><i style="top:312px;height:40px;background:linear-gradient(90deg,#ff4600,#ff4600,#ff5000,#ff5e00,#ff6a00,#ff7700,#ff8200,#ff8b00,#ff9100,#ff9300,#ff9400,#ff9400,#ff9400,#ff9300,#ff9200,#ff9100,#ff9100,#ff9000,#ff8f00,#ff8f00,#ff8e00,#ff8e00,#ff8d00,#ff8d00,#ff8c00,#ff8c00,#ff8b00,#ff8b00,#ff8b00,#ff8a00,#ff8a00,#ff8900,#ff8900,#ff8800,#ff8800,#ff8800,#ff8800,#ff8800,#ff8800,#ff8800,#ff8800,#ff8800,#ff8800,#ff8800,#ff8800,#ff8800,#ff8800,#ff8800,#ff8800,#ff8800,#ff8800,#ff8800,#ff8800,#ff8700,#ff8700,#ff8700,#ff8600,#ff8600,#ff8500,#ff8500,#ff8400,#ff8300,#ff8300,#ff8300,#ff8300,#ff8300,#ff8200,#ff8200,#ff8200,#ff8200,#ff8200,#ff8200)"></i><i class="m" style="top:312px;height:40px;background:linear-gradient(90deg,#ff7700,#ff7700,#ff7e00,#ff8500,#ff8a00,#ff8f00,#ff9200,#ff9300,#ff9400,#ff9400,#ff9300,#ff9200,#ff9100,#ff8f00,#ff8d00,#ff8b00,#ff8a00,#ff8900,#ff8800,#ff8700,#ff8600,#ff8500,#ff8500,#ff8400,#ff8300,#ff8200,#ff8200,#ff8100,#ff7f00,#ff7e00,#ff7d00,#ff7c00,#ff7b00,#ff7a00,#ff7900,#ff7900,#ff7900,#ff7900,#ff7900,#ff7900,#ff7900,#ff7a00,#ff7a00,#ff7a00,#ff7a00,#ff7a00,#ff7a00,#ff7a00,#ff7900,#ff7800,#ff7600,#ff7600,#ff7600,#ff7700,#ff7700,#ff7700,#ff7700,#ff7600,#ff7500,#ff7400,#ff7200,#ff7200,#ff7100,#ff7100,#ff7100,#ff7100,#ff7100,#ff7100,#ff7100,#ff7200,#ff7200,#ff7200)"></i><i style="top:352px;height:40px;background:linear-gradient(90deg,#ff7700,#ff7700,#ff7e00,#ff8500,#ff8a00,#ff8f00,#ff9200,#ff9300,#ff9400,#ff9400,#ff9300,#ff9200,#ff9100,#ff8f00,#ff8d00,#ff8b00,#ff8a00,#ff8900,#ff8800,#ff8700,#ff8600,#ff8500,#ff8500,#ff8400,#ff8300,#ff8200,#ff8200,#ff8100,#ff7f00,#ff7e00,#ff7d00,#ff7c00,#ff7b00,#ff7a00,#ff7900,#ff7900,#ff7900,#ff7900,#ff7900,#ff7900,#ff7900,#ff7a00,#ff7a00,#ff7a00,#ff7a00,#ff7a00,#ff7a00,#ff7a00,#ff7900,#ff7800,#ff7600,#ff7600,#ff7600,#ff7700,#ff7700,#ff7700,#ff7700,#ff7600,#ff7500,#ff7400,#ff7200,#ff7200,#ff7100,#ff7100,#ff7100,#ff7100,#ff7100,#ff7100,#ff7100,#ff7200,#ff7200,#ff7200)"></i><i class="m" style="top:352px;height:40px;background:linear-gradient(90deg,#ff8800,#ff8800,#ff8900,#ff8d00,#ff9000,#ff9200,#ff9300,#ff9300,#ff9200,#ff9200,#ff8f00,#ff8c00,#ff8900,#ff8700,#ff8400,#ff8200,#ff8100,#ff7f00,#ff7e00,#ff7d00,#ff7b00,#ff7a00,#ff7900,#ff7900,#ff7800,#ff7700,#ff7500,#ff7400,#ff7300,#ff7100,#ff7000,#ff6f00,#ff6e00,#ff6c00,#ff6c00,#ff6b00,#ff6b00,#ff6b00,#ff6a00,#ff6a00,#ff6a00,#ff6a00,#ff6a00,#ff6a00,#ff6a00,#ff6a00,#ff6a00,#ff6a00,#ff6a00,#ff6700,#ff6500,#ff6500,#ff6500,#ff6500,#ff6400,#ff6400,#ff6400,#ff6300,#ff6300,#ff6200,#ff6100,#ff6100,#ff6000,#ff6000,#ff6000,#ff6000,#ff6000,#ff6000,#ff6000,#ff6000,#ff6000,#ff6000)"></i><i style="top:392px;height:44px;background:linear-gradient(90deg,#ff8800,#ff8800,#ff8900,#ff8d00,#ff9000,#ff9200,#ff9300,#ff9300,#ff9200,#ff9200,#ff8f00,#ff8c00,#ff8900,#ff8700,#ff8400,#ff8200,#ff8100,#ff7f00,#ff7e00,#ff7d00,#ff7b00,#ff7a00,#ff7900,#ff7900,#ff7800,#ff7700,#ff7500,#ff7400,#ff7300,#ff7100,#ff7000,#ff6f00,#ff6e00,#ff6c00,#ff6c00,#ff6b00,#ff6b00,#ff6b00,#ff6a00,#ff6a00,#ff6a00,#ff6a00,#ff6a00,#ff6a00,#ff6a00,#ff6a00,#ff6a00,#ff6a00,#ff6a00,#ff6700,#ff6500,#ff6500,#ff6500,#ff6500,#ff6400,#ff6400,#ff6400,#ff6300,#ff6300,#ff6200,#ff6100,#ff6100,#ff6000,#ff6000,#ff6000,#ff6000,#ff6000,#ff6000,#ff6000,#ff6000,#ff6000,#ff6000)"></i><i class="m" style="top:392px;height:36px;background:linear-gradient(90deg,#ff8a00,#ff8a00,#ff8a00,#ff8a00,#ff8a00,#ff8a00,#ff8a00,#ff8900,#ff8700,#ff8400,#ff8200,#ff8000,#ff7e00,#ff7c00,#ff7900,#ff7700,#ff7600,#ff7400,#ff7300,#ff7200,#ff7100,#ff7000,#ff6f00,#ff6e00,#ff6d00,#ff6c00,#ff6b00,#ff6a00,#ff6900,#ff6800,#ff6700,#ff6600,#ff6500,#ff6400,#ff6300,#ff6200,#ff6100,#ff6000,#ff5f00,#ff5e00,#ff5d00,#ff5d00,#ff5c00,#ff5c00,#ff5c00,#ff5c00,#ff5c00,#ff5c00,#ff5c00,#ff5c00,#ff5c00,#ff5c00,#ff5b00,#ff5900,#ff5800,#ff5700,#ff5700,#ff5700,#ff5700,#ff5700,#ff5700,#ff5700,#ff5700,#ff5700,#ff5700,#ff5700,#ff5700,#ff5700,#ff5700,#ff5700,#ff5700,#ff5700)"></i><i style="top:428px;height:8px;background:linear-gradient(90deg,#ff8a00,#ff8a00,#ff8a00,#ff8a00,#ff8a00,#ff8a00,#ff8a00,#ff8900,#ff8700,#ff8400,#ff8200,#ff8000,#ff7e00,#ff7c00,#ff7900,#ff7700,#ff7600,#ff7400,#ff7300,#ff7200,#ff7100,#ff7000,#ff6f00,#ff6e00,#ff6d00,#ff6c00,#ff6b00,#ff6a00,#ff6900,#ff6800,#ff6700,#ff6600,#ff6500,#ff6400,#ff6300,#ff6200,#ff6100,#ff6000,#ff5f00,#ff5e00,#ff5d00,#ff5d00,#ff5c00,#ff5c00,#ff5c00,#ff5c00,#ff5c00,#ff5c00,#ff5c00,#ff5c00,#ff5c00,#ff5c00,#ff5b00,#ff5900,#ff5800,#ff5700,#ff5700,#ff5700,#ff5700,#ff5700,#ff5700,#ff5700,#ff5700,#ff5700,#ff5700,#ff5700,#ff5700,#ff5700,#ff5700,#ff5700,#ff5700,#ff5700)"></i></div></div><div class="hm" style="left:113.2px;top:1353.0px;width:427.3px;height:428.0px"><div class="in" style="filter:blur(1.5px)"><i style="top:-8px;height:48px;background:linear-gradient(90deg,#ff4800,#ff4800,#ff4800,#ff4800,#ff4800,#ff4800,#ff4800,#ff4800,#ff4800,#ff4800,#ff4800,#ff4800,#ff4800,#ff4800,#ff4800,#ff4800,#ff4800,#ff4800,#ff4800,#ff4800,#ff4800,#ff4800,#ff4800,#ff4800,#ff4800,#ff4800,#ff4800,#ff4800,#ff4800,#ff4800,#ff4800,#ff4800,#ff4700,#ff4700,#ff4700,#ff4600,#ff4500,#ff4500,#ff4400,#ff4300,#ff4300,#ff4200,#ff4200,#ff4100,#ff4100,#ff4000,#ff4000,#ff3f00,#ff3f00,#ff3e00,#ff3e00,#ff3d00,#ff3c00,#ff3c00,#ff3b00,#ff3a00,#ff3a00,#ff3900,#ff3900,#ff3800,#ff3800,#ff3800,#ff3800,#ff3800,#ff3800,#ff3800,#ff3800,#ff3800,#ff3800,#ff3800,#ff3800,#ff3800)"></i><i class="m" style="top:0px;height:40px;background:linear-gradient(90deg,#ff5100,#ff5100,#ff5100,#ff5100,#ff5100,#ff5100,#ff5100,#ff5100,#ff5100,#ff5100,#ff5100,#ff5100,#ff5100,#ff5100,#ff5100,#ff5100,#ff5100,#ff5100,#ff5100,#ff5100,#ff5100,#ff5100,#ff5100,#ff5100,#ff5100,#ff5100,#ff5100,#ff5100,#ff5100,#ff5100,#ff5100,#ff5100,#ff5100,#ff5100,#ff5100,#ff5100,#ff5100,#ff5100,#ff5100,#ff5100,#ff5100,#ff5100,#ff5000,#ff5000,#ff5000,#ff4f00,#ff4e00,#ff4e00,#ff4d00,#ff4c00,#ff4c00,#ff4b00,#ff4b00,#ff4a00,#ff4a00,#ff4900,#ff4900,#ff4800,#ff4800,#ff4700,#ff4700,#ff4600,#ff4600,#ff4500,#ff4500,#ff4400,#ff4400,#ff4300,#ff4300,#ff4200,#ff4200,#ff4200)"></i><i style="top:40px;height:40px;background:linear-gradient(90deg,#ff5100,#ff5100,#ff5100,#ff5100,#ff5100,#ff5100,#ff5100,#ff5100,#ff5100,#ff5100,#ff5100,#ff5100,#ff5100,#ff5100,#ff5100,#ff5100,#ff5100,#ff5100,#ff5100,#ff5100,#ff5100,#ff5100,#ff5100,#ff5100,#ff5100,#ff5100,#ff5100,#ff5100,#ff5100,#ff5100,#ff5100,#ff5100,#ff5100,#ff5100,#ff5100,#ff5100,#ff5100,#ff5100,#ff5100,#ff5100,#ff5100,#ff5100,#ff5000,#ff5000,#ff5000,#ff4f00,#ff4e00,#ff4e00,#ff4d00,#ff4c00,#ff4c00,#ff4b00,#ff4b00,#ff4a00,#ff4a00,#ff4900,#ff4900,#ff4800,#ff4800,#ff4700,#ff4700,#ff4600,#ff4600,#ff4500,#ff4500,#ff4400,#ff4400,#ff4300,#ff4300,#ff4200,#ff4200,#ff4200)"></i><i class="m" style="top:40px;height:40px;background:linear-gradient(90deg,#ff6400,#ff6400,#ff6400,#ff6400,#ff6400,#ff6400,#ff6400,#ff6400,#ff6400,#ff6400,#ff6400,#ff6400,#ff6400,#ff6300,#ff6300,#ff6300,#ff6300,#ff6300,#ff6300,#ff6300,#ff6300,#ff6300,#ff6300,#ff6300,#ff6300,#ff6300,#ff6300,#ff6300,#ff6300,#ff6300,#ff6300,#ff6300,#ff6300,#ff6300,#ff6300,#ff6300,#ff6300,#ff6300,#ff6300,#ff6300,#ff6300,#ff6300,#ff6300,#ff6300,#ff6200,#ff6200,#ff6100,#ff6100,#ff6000,#ff5f00,#ff5f00,#ff5e00,#ff5d00,#ff5c00,#ff5b00,#ff5a00,#ff5900,#ff5700,#ff5600,#ff5500,#ff5500,#ff5400,#ff5300,#ff5300,#ff5200,#ff5200,#ff5100,#ff5100,#ff5100,#ff5000,#ff5000,#ff5000)"></i><i style="top:80px;height:33px;background:linear-gradient(90deg,#ff6400,#ff6400,#ff6400,#ff6400,#ff6400,#ff6400,#ff6400,#ff6400,#ff6400,#ff6400,#ff6400,#ff6400,#ff6400,#ff6300,#ff6300,#ff6300,#ff6300,#ff6300,#ff6300,#ff6300,#ff6300,#ff6300,#ff6300,#ff6300,#ff6300,#ff6300,#ff6300,#ff6300,#ff6300,#ff6300,#ff6300,#ff6300,#ff6300,#ff6300,#ff6300,#ff6300,#ff6300,#ff6300,#ff6300,#ff6300,#ff6300,#ff6300,#ff6300,#ff6300,#ff6200,#ff6200,#ff6100,#ff6100,#ff6000,#ff5f00,#ff5f00,#ff5e00,#ff5d00,#ff5c00,#ff5b00,#ff5a00,#ff5900,#ff5700,#ff5600,#ff5500,#ff5500,#ff5400,#ff5300,#ff5300,#ff5200,#ff5200,#ff5100,#ff5100,#ff5100,#ff5000,#ff5000,#ff5000)"></i><i class="m" style="top:80px;height:33px;background:linear-gradient(90deg,#ff7500,#ff7500,#ff7500,#ff7500,#ff7500,#ff7500,#ff7500,#ff7500,#ff7500,#ff7500,#ff7500,#ff7500,#ff7500,#ff7600,#ff7700,#ff7900,#ff7a00,#ff7b00,#ff7c00,#ff7d00,#ff7d00,#ff7d00,#ff7d00,#ff7d00,#ff7c00,#ff7c00,#ff7b00,#ff7b00,#ff7b00,#ff7b00,#ff7b00,#ff7b00,#ff7b00,#ff7a00,#ff7a00,#ff7900,#ff7800,#ff7800,#ff7700,#ff7600,#ff7500,#ff7500,#ff7400,#ff7300,#ff7200,#ff7100,#ff6f00,#ff6e00,#ff6d00,#ff6c00,#ff6b00,#ff6a00,#ff6900,#ff6800,#ff6600,#ff6500,#ff6400,#ff6300,#ff6200,#ff6100,#ff6000,#ff5f00,#ff5e00,#ff5d00,#ff5c00,#ff5b00,#ff5a00,#ff5900,#ff5800,#ff5700,#ff5600,#ff5600)"></i><i style="top:113px;height:40px;background:linear-gradient(90deg,#ff7500,#ff7500,#ff7500,#ff7500,#ff7500,#ff7500,#ff7500,#ff7500,#ff7500,#ff7500,#ff7500,#ff7500,#ff7500,#ff7600,#ff7700,#ff7900,#ff7a00,#ff7b00,#ff7c00,#ff7d00,#ff7d00,#ff7d00,#ff7d00,#ff7d00,#ff7c00,#ff7c00,#ff7b00,#ff7b00,#ff7b00,#ff7b00,#ff7b00,#ff7b00,#ff7b00,#ff7a00,#ff7a00,#ff7900,#ff7800,#ff7800,#ff7700,#ff7600,#ff7500,#ff7500,#ff7400,#ff7300,#ff7200,#ff7100,#ff6f00,#ff6e00,#ff6d00,#ff6c00,#ff6b00,#ff6a00,#ff6900,#ff6800,#ff6600,#ff6500,#ff6400,#ff6300,#ff6200,#ff6100,#ff6000,#ff5f00,#ff5e00,#ff5d00,#ff5c00,#ff5b00,#ff5a00,#ff5900,#ff5800,#ff5700,#ff5600,#ff5600)"></i><i class="m" style="top:113px;height:40px;background:linear-gradient(90deg,#ff9700,#ff9700,#ff9900,#ff9b00,#ff9c00,#ff9c00,#ff9c00,#ff9c00,#ff9c00,#ff9b00,#ff9900,#ff9600,#ff9500,#ff9400,#ff9300,#ff9100,#ff9000,#ff8e00,#ff8b00,#ff8900,#ff8700,#ff8500,#ff8300,#ff8100,#ff8000,#ff7e00,#ff7d00,#ff7b00,#ff7a00,#ff7800,#ff7600,#ff7400,#ff7200,#ff7000,#ff6e00,#ff6b00,#ff6900,#ff6700,#ff6400,#ff6200,#ff6000,#ff5d00,#ff5b00,#ff5900,#ff5700,#ff5400,#ff5200,#ff5000,#ff4e00,#ff4c00,#ff4a00,#ff4800,#ff4600,#ff4400,#ff4300,#ff4100,#ff3f00,#ff3e00,#ff3c00,#ff3b00,#ff3a00,#ff3900,#ff3700,#ff3600,#ff3500,#ff3400,#ff3300,#ff3200,#ff3100,#ff3000,#ff3000,#ff3000)"></i><i style="top:153px;height:33px;background:linear-gradient(90deg,#ff9700,#ff9700,#ff9900,#ff9b00,#ff9c00,#ff9c00,#ff9c00,#ff9c00,#ff9c00,#ff9b00,#ff9900,#ff9600,#ff9500,#ff9400,#ff9300,#ff9100,#ff9000,#ff8e00,#ff8b00,#ff8900,#ff8700,#ff8500,#ff8300,#ff8100,#ff8000,#ff7e00,#ff7d00,#ff7b00,#ff7a00,#ff7800,#ff7600,#ff7400,#ff7200,#ff7000,#ff6e00,#ff6b00,#ff6900,#ff6700,#ff6400,#ff6200,#ff6000,#ff5d00,#ff5b00,#ff5900,#ff5700,#ff5400,#ff5200,#ff5000,#ff4e00,#ff4c00,#ff4a00,#ff4800,#ff4600,#ff4400,#ff4300,#ff4100,#ff3f00,#ff3e00,#ff3c00,#ff3b00,#ff3a00,#ff3900,#ff3700,#ff3600,#ff3500,#ff3400,#ff3300,#ff3200,#ff3100,#ff3000,#ff3000,#ff3000)"></i><i class="m" style="top:153px;height:33px;background:linear-gradient(90deg,#ffad00,#ffad00,#ffad00,#ffad00,#ffad00,#ffad00,#ffad00,#ffac00,#ffa900,#ffa700,#ffa500,#ffa200,#ffa000,#ff9d00,#ff9900,#ff9600,#ff9200,#ff8e00,#ff8a00,#ff8500,#ff8100,#ff7c00,#ff7800,#ff7400,#ff7000,#ff6c00,#ff6800,#ff6400,#ff6000,#ff5c00,#ff5800,#ff5400,#ff5000,#ff4d00,#ff4900,#ff4500,#ff4100,#ff3d00,#ff3900,#ff3600,#ff3300,#ff2f00,#ff2c00,#ff2a00,#ff2700,#ff2400,#ff2100,#ff1f00,#ff1c00,#ff1a00,#ff1800,#ff1600,#ff1400,#ff1200,#ff1100,#ff0f00,#ff0d00,#ff0c00,#ff0a00,#ff0900,#ff0800,#ff0600,#ff0500,#ff0400,#ff0300,#ff0200,#ff0000,#ff0001,#fe0002,#fe0004,#fd0005,#fd0005)"></i><i style="top:186px;height:7px;background:linear-gradient(90deg,#ffad00,#ffad00,#ffad00,#ffad00,#ffad00,#ffad00,#ffad00,#ffac00,#ffa900,#ffa700,#ffa500,#ffa200,#ffa000,#ff9d00,#ff9900,#ff9600,#ff9200,#ff8e00,#ff8a00,#ff8500,#ff8100,#ff7c00,#ff7800,#ff7400,#ff7000,#ff6c00,#ff6800,#ff6400,#ff6000,#ff5c00,#ff5800,#ff5400,#ff5000,#ff4d00,#ff4900,#ff4500,#ff4100,#ff3d00,#ff3900,#ff3600,#ff3300,#ff2f00,#ff2c00,#ff2a00,#ff2700,#ff2400,#ff2100,#ff1f00,#ff1c00,#ff1a00,#ff1800,#ff1600,#ff1400,#ff1200,#ff1100,#ff0f00,#ff0d00,#ff0c00,#ff0a00,#ff0900,#ff0800,#ff0600,#ff0500,#ff0400,#ff0300,#ff0200,#ff0000,#ff0001,#fe0002,#fe0004,#fd0005,#fd0005)"></i><i class="m" style="top:186px;height:7px;background:linear-gradient(90deg,#ffab00,#ffab00,#ffab00,#ffab00,#ffab00,#ffab00,#ffaa00,#ffa900,#ffa500,#ffa200,#ff9f00,#ff9b00,#ff9700,#ff9400,#ff9000,#ff8c00,#ff8700,#ff8300,#ff7e00,#ff7900,#ff7400,#ff6f00,#ff6a00,#ff6600,#ff6100,#ff5d00,#ff5900,#ff5500,#ff5100,#ff4c00,#ff4800,#ff4500,#ff4100,#ff3d00,#ff3900,#ff3500,#ff3200,#ff2e00,#ff2b00,#ff2700,#ff2400,#ff2100,#ff1f00,#ff1c00,#ff1900,#ff1600,#ff1400,#ff1200,#ff0f00,#ff0d00,#ff0b00,#ff0900,#ff0700,#ff0500,#ff0300,#ff0100,#ff0001,#fe0003,#fd0006,#fc0009,#fb000b,#fa000d,#f90010,#f80012,#f70014,#f70016,#f60018,#f5001a,#f4001c,#f4001e,#f3001f,#f3001f)"></i><i style="top:193px;height:8px;background:linear-gradient(90deg,#ffab00,#ffab00,#ffab00,#ffab00,#ffab00,#ffab00,#ffaa00,#ffa900,#ffa500,#ffa200,#ff9f00,#ff9b00,#ff9700,#ff9400,#ff9000,#ff8c00,#ff8700,#ff8300,#ff7e00,#ff7900,#ff7400,#ff6f00,#ff6a00,#ff6600,#ff6100,#ff5d00,#ff5900,#ff5500,#ff5100,#ff4c00,#ff4800,#ff4500,#ff4100,#ff3d00,#ff3900,#ff3500,#ff3200,#ff2e00,#ff2b00,#ff2700,#ff2400,#ff2100,#ff1f00,#ff1c00,#ff1900,#ff1600,#ff1400,#ff1200,#ff0f00,#ff0d00,#ff0b00,#ff0900,#ff0700,#ff0500,#ff0300,#ff0100,#ff0001,#fe0003,#fd0006,#fc0009,#fb000b,#fa000d,#f90010,#f80012,#f70014,#f70016,#f60018,#f5001a,#f4001c,#f4001e,#f3001f,#f3001f)"></i><i class="m" style="top:193px;height:8px;background:linear-gradient(90deg,#ffa600,#ffa600,#ffa600,#ffa600,#ffa600,#ffa500,#ffa400,#ffa100,#ff9d00,#ff9800,#ff9300,#ff8d00,#ff8800,#ff8300,#ff7e00,#ff7900,#ff7400,#ff6f00,#ff6900,#ff6400,#ff5f00,#ff5a00,#ff5500,#ff5000,#ff4c00,#ff4700,#ff4300,#ff3f00,#ff3b00,#ff3700,#ff3300,#ff2f00,#ff2c00,#ff2800,#ff2500,#ff2200,#ff1e00,#ff1b00,#ff1900,#ff1600,#ff1300,#ff1000,#ff0e00,#ff0b00,#ff0900,#ff0600,#ff0400,#ff0100,#ff0001,#fd0005,#fc0008,#fb000c,#f9000f,#f80012,#f70015,#f60019,#f5001c,#f3001f,#f20022,#f10025,#f00028,#ef002b,#ed002e,#eb0031,#ea0034,#e90037,#e7003a,#e6003c,#e4003f,#e30042,#e20043,#e20043)"></i><i style="top:201px;height:9px;background:linear-gradient(90deg,#ffa600,#ffa600,#ffa600,#ffa600,#ffa600,#ffa500,#ffa400,#ffa100,#ff9d00,#ff9800,#ff9300,#ff8d00,#ff8800,#ff8300,#ff7e00,#ff7900,#ff7400,#ff6f00,#ff6900,#ff6400,#ff5f00,#ff5a00,#ff5500,#ff5000,#ff4c00,#ff4700,#ff4300,#ff3f00,#ff3b00,#ff3700,#ff3300,#ff2f00,#ff2c00,#ff2800,#ff2500,#ff2200,#ff1e00,#ff1b00,#ff1900,#ff1600,#ff1300,#ff1000,#ff0e00,#ff0b00,#ff0900,#ff0600,#ff0400,#ff0100,#ff0001,#fd0005,#fc0008,#fb000c,#f9000f,#f80012,#f70015,#f60019,#f5001c,#f3001f,#f20022,#f10025,#f00028,#ef002b,#ed002e,#eb0031,#ea0034,#e90037,#e7003a,#e6003c,#e4003f,#e30042,#e20043,#e20043)"></i><i class="m" style="top:201px;height:9px;background:linear-gradient(90deg,#ff9e00,#ff9e00,#ff9e00,#ff9e00,#ff9e00,#ff9c00,#ff9a00,#ff9600,#ff9000,#ff8900,#ff8200,#ff7a00,#ff7300,#ff6d00,#ff6700,#ff6100,#ff5b00,#ff5600,#ff5000,#ff4b00,#ff4600,#ff4100,#ff3c00,#ff3800,#ff3400,#ff3000,#ff2c00,#ff2800,#ff2400,#ff2000,#ff1d00,#ff1a00,#ff1700,#ff1400,#ff1100,#ff0e00,#ff0c00,#ff0900,#ff0700,#ff0400,#ff0200,#fe0001,#fd0005,#fc0009,#fa000d,#f90011,#f70015,#f60018,#f4001c,#f30020,#f20024,#f00028,#ee002c,#ec0030,#ea0034,#e80038,#e6003d,#e30041,#e10045,#df0049,#de004c,#dc0050,#da0054,#d80057,#d6005b,#d5005e,#d30061,#d10065,#d00068,#ce006b,#cd006e,#cd006e)"></i><i style="top:210px;height:12px;background:linear-gradient(90deg,#ff9e00,#ff9e00,#ff9e00,#ff9e00,#ff9e00,#ff9c00,#ff9a00,#ff9600,#ff9000,#ff8900,#ff8200,#ff7a00,#ff7300,#ff6d00,#ff6700,#ff6100,#ff5b00,#ff5600,#ff5000,#ff4b00,#ff4600,#ff4100,#ff3c00,#ff3800,#ff3400,#ff3000,#ff2c00,#ff2800,#ff2400,#ff2000,#ff1d00,#ff1a00,#ff1700,#ff1400,#ff1100,#ff0e00,#ff0c00,#ff0900,#ff0700,#ff0400,#ff0200,#fe0001,#fd0005,#fc0009,#fa000d,#f90011,#f70015,#f60018,#f4001c,#f30020,#f20024,#f00028,#ee002c,#ec0030,#ea0034,#e80038,#e6003d,#e30041,#e10045,#df0049,#de004c,#dc0050,#da0054,#d80057,#d6005b,#d5005e,#d30061,#d10065,#d00068,#ce006b,#cd006e,#cd006e)"></i><i class="m" style="top:210px;height:12px;background:linear-gradient(90deg,#ff8500,#ff8500,#ff8400,#ff8400,#ff8300,#ff8000,#ff7c00,#ff7700,#ff7100,#ff6a00,#ff6200,#ff5a00,#ff5400,#ff4e00,#ff4900,#ff4400,#ff3f00,#ff3a00,#ff3500,#ff3100,#ff2c00,#ff2900,#ff2500,#ff2200,#ff1f00,#ff1c00,#ff1900,#ff1600,#ff1400,#ff1100,#ff0e00,#ff0c00,#ff0900,#ff0700,#ff0400,#ff0100,#fe0002,#fd0006,#fb000a,#fa000e,#f80012,#f70016,#f5001b,#f30020,#f10025,#ef002a,#ec002f,#e90035,#e7003a,#e40040,#e10045,#de004b,#db0051,#d80056,#d5005c,#d30062,#d00068,#cd006e,#cb0073,#c80079,#c6007e,#c40082,#c30087,#c1008b,#bf0090,#bd0094,#bc0098,#ba009b,#b9009f,#b700a2,#b700a4,#b700a4)"></i><i style="top:222px;height:14px;background:linear-gradient(90deg,#ff8500,#ff8500,#ff8400,#ff8400,#ff8300,#ff8000,#ff7c00,#ff7700,#ff7100,#ff6a00,#ff6200,#ff5a00,#ff5400,#ff4e00,#ff4900,#ff4400,#ff3f00,#ff3a00,#ff3500,#ff3100,#ff2c00,#ff2900,#ff2500,#ff2200,#ff1f00,#ff1c00,#ff1900,#ff1600,#ff1400,#ff1100,#ff0e00,#ff0c00,#ff0900,#ff0700,#ff0400,#ff0100,#fe0002,#fd0006,#fb000a,#fa000e,#f80012,#f70016,#f5001b,#f30020,#f10025,#ef002a,#ec002f,#e90035,#e7003a,#e40040,#e10045,#de004b,#db0051,#d80056,#d5005c,#d30062,#d00068,#cd006e,#cb0073,#c80079,#c6007e,#c40082,#c30087,#c1008b,#bf0090,#bd0094,#bc0098,#ba009b,#b9009f,#b700a2,#b700a4,#b700a4)"></i><i class="m" style="top:222px;height:14px;background:linear-gradient(90deg,#ff5000,#ff5000,#ff4f00,#ff4d00,#ff4a00,#ff4600,#ff4200,#ff3d00,#ff3900,#ff3500,#ff3100,#ff2d00,#ff2900,#ff2600,#ff2300,#ff2000,#ff1d00,#ff1a00,#ff1600,#ff1300,#ff1000,#ff0e00,#ff0c00,#ff0a00,#ff0900,#ff0700,#ff0600,#ff0500,#ff0300,#ff0200,#ff0000,#fe0003,#fd0006,#fb0009,#fa000d,#f90011,#f70015,#f50019,#f4001e,#f20023,#f00028,#ed002d,#ea0033,#e7003a,#e30041,#df0049,#dc0050,#d80058,#d40060,#d00067,#cd006f,#c90077,#c6007f,#c20087,#bf0090,#bb0098,#b800a0,#b500a8,#b200af,#af00b5,#ac00bb,#a900c0,#a700c4,#a500c9,#a300cd,#a100d1,#9f00d4,#9d00d8,#9c00db,#9a00db,#9900da,#9900da)"></i><i style="top:236px;height:3px;background:linear-gradient(90deg,#ff5000,#ff5000,#ff4f00,#ff4d00,#ff4a00,#ff4600,#ff4200,#ff3d00,#ff3900,#ff3500,#ff3100,#ff2d00,#ff2900,#ff2600,#ff2300,#ff2000,#ff1d00,#ff1a00,#ff1600,#ff1300,#ff1000,#ff0e00,#ff0c00,#ff0a00,#ff0900,#ff0700,#ff0600,#ff0500,#ff0300,#ff0200,#ff0000,#fe0003,#fd0006,#fb0009,#fa000d,#f90011,#f70015,#f50019,#f4001e,#f20023,#f00028,#ed002d,#ea0033,#e7003a,#e30041,#df0049,#dc0050,#d80058,#d40060,#d00067,#cd006f,#c90077,#c6007f,#c20087,#bf0090,#bb0098,#b800a0,#b500a8,#b200af,#af00b5,#ac00bb,#a900c0,#a700c4,#a500c9,#a300cd,#a100d1,#9f00d4,#9d00d8,#9c00db,#9a00db,#9900da,#9900da)"></i><i class="m" style="top:236px;height:3px;background:linear-gradient(90deg,#ff4800,#ff4800,#ff4700,#ff4500,#ff4200,#ff3e00,#ff3a00,#ff3600,#ff3200,#ff2e00,#ff2a00,#ff2600,#ff2200,#ff1f00,#ff1c00,#ff1900,#ff1600,#ff1300,#ff1000,#ff0c00,#ff0900,#ff0700,#ff0500,#ff0300,#ff0200,#ff0000,#ff0001,#fe0003,#fd0005,#fc0007,#fb000a,#fa000d,#f90010,#f80013,#f60017,#f5001b,#f3001f,#f20024,#f00029,#ed002e,#ea0033,#e70039,#e4003f,#e10046,#dd004e,#d90055,#d5005d,#d10065,#cd006d,#ca0075,#c7007d,#c30085,#c0008d,#bd0096,#b9009e,#b600a6,#b200ae,#af00b6,#ab00bd,#a800c3,#a500c8,#a300cd,#a100d1,#9e00d5,#9c00da,#9a00db,#9700d7,#9500d5,#9300d2,#9100d0,#9000ce,#9000ce)"></i><i style="top:239px;height:3px;background:linear-gradient(90deg,#ff4800,#ff4800,#ff4700,#ff4500,#ff4200,#ff3e00,#ff3a00,#ff3600,#ff3200,#ff2e00,#ff2a00,#ff2600,#ff2200,#ff1f00,#ff1c00,#ff1900,#ff1600,#ff1300,#ff1000,#ff0c00,#ff0900,#ff0700,#ff0500,#ff0300,#ff0200,#ff0000,#ff0001,#fe0003,#fd0005,#fc0007,#fb000a,#fa000d,#f90010,#f80013,#f60017,#f5001b,#f3001f,#f20024,#f00029,#ed002e,#ea0033,#e70039,#e4003f,#e10046,#dd004e,#d90055,#d5005d,#d10065,#cd006d,#ca0075,#c7007d,#c30085,#c0008d,#bd0096,#b9009e,#b600a6,#b200ae,#af00b6,#ab00bd,#a800c3,#a500c8,#a300cd,#a100d1,#9e00d5,#9c00da,#9a00db,#9700d7,#9500d5,#9300d2,#9100d0,#9000ce,#9000ce)"></i><i class="m" style="top:239px;height:3px;background:linear-gradient(90deg,#ff3f00,#ff3f00,#ff3e00,#ff3c00,#ff3a00,#ff3600,#ff3200,#ff2f00,#ff2b00,#ff2700,#ff2300,#ff1f00,#ff1c00,#ff1900,#ff1600,#ff1300,#ff1000,#ff0c00,#ff0900,#ff0500,#ff0200,#ff0000,#fe0004,#fd0007,#fc0009,#fb000b,#fa000e,#f90010,#f80012,#f70014,#f60017,#f5001a,#f4001e,#f20022,#f10025,#ef002a,#ed002f,#ea0034,#e70039,#e5003e,#e20044,#df004a,#dc0050,#d80057,#d5005e,#d10065,#cd006d,#ca0076,#c6007e,#c30086,#c0008e,#bd0095,#b9009d,#b600a5,#b300ad,#af00b5,#ab00bd,#a700c4,#a400ca,#a100d0,#9f00d5,#9c00da,#9a00da,#9600d6,#9400d2,#9100cf,#8e00cc,#8c00c9,#8a00c7,#8800c4,#8700c3,#8700c3)"></i><i style="top:242px;height:3px;background:linear-gradient(90deg,#ff3f00,#ff3f00,#ff3e00,#ff3c00,#ff3a00,#ff3600,#ff3200,#ff2f00,#ff2b00,#ff2700,#ff2300,#ff1f00,#ff1c00,#ff1900,#ff1600,#ff1300,#ff1000,#ff0c00,#ff0900,#ff0500,#ff0200,#ff0000,#fe0004,#fd0007,#fc0009,#fb000b,#fa000e,#f90010,#f80012,#f70014,#f60017,#f5001a,#f4001e,#f20022,#f10025,#ef002a,#ed002f,#ea0034,#e70039,#e5003e,#e20044,#df004a,#dc0050,#d80057,#d5005e,#d10065,#cd006d,#ca0076,#c6007e,#c30086,#c0008e,#bd0095,#b9009d,#b600a5,#b300ad,#af00b5,#ab00bd,#a700c4,#a400ca,#a100d0,#9f00d5,#9c00da,#9a00da,#9600d6,#9400d2,#9100cf,#8e00cc,#8c00c9,#8a00c7,#8800c4,#8700c3,#8700c3)"></i><i class="m" style="top:242px;height:3px;background:linear-gradient(90deg,#ff3700,#ff3700,#ff3600,#ff3400,#ff3200,#ff2f00,#ff2c00,#ff2800,#ff2400,#ff2000,#ff1d00,#ff1900,#ff1600,#ff1300,#ff0f00,#ff0c00,#ff0900,#ff0500,#ff0200,#fe0003,#fc0008,#fa000c,#f90010,#f80013,#f70016,#f60019,#f5001c,#f4001e,#f30021,#f10024,#f00027,#ee002b,#ec002f,#ea0033,#e80038,#e5003d,#e30042,#e00047,#de004c,#db0052,#d80057,#d5005d,#d20064,#ce006a,#cb0072,#c80079,#c50081,#c20089,#bf0091,#bb0098,#b800a0,#b500a7,#b200ae,#ae00b6,#ab00bd,#a700c4,#a300cb,#a000d2,#9d00d8,#9a00da,#9600d6,#9300d2,#9000ce,#8d00ca,#8a00c7,#8800c3,#8500c0,#8300be,#8100bb,#8000b9,#7f00b8,#7f00b8)"></i><i style="top:245px;height:3px;background:linear-gradient(90deg,#ff3700,#ff3700,#ff3600,#ff3400,#ff3200,#ff2f00,#ff2c00,#ff2800,#ff2400,#ff2000,#ff1d00,#ff1900,#ff1600,#ff1300,#ff0f00,#ff0c00,#ff0900,#ff0500,#ff0200,#fe0003,#fc0008,#fa000c,#f90010,#f80013,#f70016,#f60019,#f5001c,#f4001e,#f30021,#f10024,#f00027,#ee002b,#ec002f,#ea0033,#e80038,#e5003d,#e30042,#e00047,#de004c,#db0052,#d80057,#d5005d,#d20064,#ce006a,#cb0072,#c80079,#c50081,#c20089,#bf0091,#bb0098,#b800a0,#b500a7,#b200ae,#ae00b6,#ab00bd,#a700c4,#a300cb,#a000d2,#9d00d8,#9a00da,#9600d6,#9300d2,#9000ce,#8d00ca,#8a00c7,#8800c3,#8500c0,#8300be,#8100bb,#8000b9,#7f00b8,#7f00b8)"></i><i class="m" style="top:245px;height:3px;background:linear-gradient(90deg,#ff3000,#ff3000,#ff2f00,#ff2d00,#ff2b00,#ff2800,#ff2500,#ff2200,#ff1e00,#ff1a00,#ff1700,#ff1300,#ff1000,#ff0c00,#ff0900,#ff0600,#ff0200,#fe0002,#fc0008,#fa000e,#f80014,#f60018,#f4001d,#f30021,#f10024,#f00028,#ee002b,#ed002f,#eb0032,#e90036,#e7003a,#e5003f,#e20043,#e00048,#dd004d,#db0052,#d80057,#d5005c,#d30062,#d00067,#cd006d,#cb0073,#c8007a,#c50081,#c20088,#bf008f,#bc0096,#b9009e,#b600a5,#b300ac,#b000b3,#ad00b9,#a900c0,#a600c6,#a300cd,#9f00d4,#9c00da,#9800d8,#9400d3,#9000ce,#8d00ca,#8a00c6,#8700c2,#8400bf,#8100bb,#7f00b8,#7d00b5,#7b00b3,#7800b0,#7700ad,#7500ab,#7500ab)"></i><i style="top:248px;height:3px;background:linear-gradient(90deg,#ff3000,#ff3000,#ff2f00,#ff2d00,#ff2b00,#ff2800,#ff2500,#ff2200,#ff1e00,#ff1a00,#ff1700,#ff1300,#ff1000,#ff0c00,#ff0900,#ff0600,#ff0200,#fe0002,#fc0008,#fa000e,#f80014,#f60018,#f4001d,#f30021,#f10024,#f00028,#ee002b,#ed002f,#eb0032,#e90036,#e7003a,#e5003f,#e20043,#e00048,#dd004d,#db0052,#d80057,#d5005c,#d30062,#d00067,#cd006d,#cb0073,#c8007a,#c50081,#c20088,#bf008f,#bc0096,#b9009e,#b600a5,#b300ac,#b000b3,#ad00b9,#a900c0,#a600c6,#a300cd,#9f00d4,#9c00da,#9800d8,#9400d3,#9000ce,#8d00ca,#8a00c6,#8700c2,#8400bf,#8100bb,#7f00b8,#7d00b5,#7b00b3,#7800b0,#7700ad,#7500ab,#7500ab)"></i><i class="m" style="top:248px;height:3px;background:linear-gradient(90deg,#ff2900,#ff2900,#ff2800,#ff2600,#ff2400,#ff2200,#ff1f00,#ff1c00,#ff1800,#ff1400,#ff1100,#ff0d00,#ff0a00,#ff0600,#ff0200,#fe0002,#fc0008,#fa000e,#f70014,#f5001a,#f30020,#f10026,#ef002a,#ec002f,#ea0034,#e80038,#e6003d,#e30041,#e10045,#df0049,#dd004e,#da0053,#d80058,#d5005d,#d30062,#d00067,#cd006d,#cb0073,#c90079,#c6007f,#c40085,#c1008b,#be0091,#bc0097,#b9009e,#b600a5,#b300ac,#b000b2,#ad00b8,#aa00bf,#a700c5,#a400cb,#a100d1,#9e00d7,#9a00db,#9600d6,#9200d0,#8e00cb,#8a00c6,#8700c2,#8300be,#8100ba,#7e00b7,#7b00b4,#7900b0,#7600ac,#7300a8,#7100a5,#6f00a2,#6d009f,#6c009e,#6c009e)"></i><i style="top:251px;height:2px;background:linear-gradient(90deg,#ff2900,#ff2900,#ff2800,#ff2600,#ff2400,#ff2200,#ff1f00,#ff1c00,#ff1800,#ff1400,#ff1100,#ff0d00,#ff0a00,#ff0600,#ff0200,#fe0002,#fc0008,#fa000e,#f70014,#f5001a,#f30020,#f10026,#ef002a,#ec002f,#ea0034,#e80038,#e6003d,#e30041,#e10045,#df0049,#dd004e,#da0053,#d80058,#d5005d,#d30062,#d00067,#cd006d,#cb0073,#c90079,#c6007f,#c40085,#c1008b,#be0091,#bc0097,#b9009e,#b600a5,#b300ac,#b000b2,#ad00b8,#aa00bf,#a700c5,#a400cb,#a100d1,#9e00d7,#9a00db,#9600d6,#9200d0,#8e00cb,#8a00c6,#8700c2,#8300be,#8100ba,#7e00b7,#7b00b4,#7900b0,#7600ac,#7300a8,#7100a5,#6f00a2,#6d009f,#6c009e,#6c009e)"></i><i class="m" style="top:251px;height:2px;background:linear-gradient(90deg,#ff2500,#ff2500,#ff2400,#ff2200,#ff2000,#ff1e00,#ff1c00,#ff1800,#ff1400,#ff1000,#ff0d00,#ff0900,#ff0500,#ff0100,#fe0004,#fb000a,#f90010,#f70016,#f4001d,#f20023,#ef0029,#ec002f,#ea0035,#e7003a,#e4003f,#e20044,#e00048,#dd004d,#db0052,#d90056,#d6005b,#d30060,#d10065,#ce006b,#cc0070,#ca0076,#c7007c,#c50082,#c20088,#c0008e,#bd0094,#bb009a,#b800a0,#b600a6,#b300ac,#b000b3,#ad00b9,#aa00bf,#a700c5,#a400cb,#a100d0,#9e00d6,#9b00dc,#9700d7,#9300d2,#8f00cd,#8b00c8,#8700c3,#8400be,#8000ba,#7e00b7,#7b00b3,#7800af,#7500ab,#7200a7,#7000a3,#6e00a0,#6b009d,#69009a,#670097,#660095,#660095)"></i><i style="top:253px;height:2px;background:linear-gradient(90deg,#ff2500,#ff2500,#ff2400,#ff2200,#ff2000,#ff1e00,#ff1c00,#ff1800,#ff1400,#ff1000,#ff0d00,#ff0900,#ff0500,#ff0100,#fe0004,#fb000a,#f90010,#f70016,#f4001d,#f20023,#ef0029,#ec002f,#ea0035,#e7003a,#e4003f,#e20044,#e00048,#dd004d,#db0052,#d90056,#d6005b,#d30060,#d10065,#ce006b,#cc0070,#ca0076,#c7007c,#c50082,#c20088,#c0008e,#bd0094,#bb009a,#b800a0,#b600a6,#b300ac,#b000b3,#ad00b9,#aa00bf,#a700c5,#a400cb,#a100d0,#9e00d6,#9b00dc,#9700d7,#9300d2,#8f00cd,#8b00c8,#8700c3,#8400be,#8000ba,#7e00b7,#7b00b3,#7800af,#7500ab,#7200a7,#7000a3,#6e00a0,#6b009d,#69009a,#670097,#660095,#660095)"></i><i class="m" style="top:253px;height:2px;background:linear-gradient(90deg,#ff2100,#ff2100,#ff2000,#ff1e00,#ff1c00,#ff1a00,#ff1800,#ff1500,#ff1000,#ff0c00,#ff0800,#ff0500,#ff0100,#fd0005,#fb000c,#f80012,#f60018,#f3001f,#f10025,#ee002c,#ea0033,#e70039,#e4003f,#e10045,#df004a,#dc004f,#da0054,#d70059,#d5005e,#d20063,#d00068,#cd006d,#cb0073,#c80079,#c6007f,#c40084,#c1008a,#bf0090,#bc0096,#ba009c,#b800a2,#b500a7,#b300ad,#b000b3,#ad00b9,#aa00bf,#a700c5,#a400cb,#a100d0,#9e00d6,#9b00db,#9800d8,#9400d3,#9000ce,#8c00c9,#8800c4,#8500bf,#8100bb,#7e00b7,#7b00b3,#7800af,#7500aa,#7200a6,#6f00a2,#6d009e,#6a009b,#680097,#660094,#640091,#62008f,#61008d,#61008d)"></i><i style="top:255px;height:3px;background:linear-gradient(90deg,#ff2100,#ff2100,#ff2000,#ff1e00,#ff1c00,#ff1a00,#ff1800,#ff1500,#ff1000,#ff0c00,#ff0800,#ff0500,#ff0100,#fd0005,#fb000c,#f80012,#f60018,#f3001f,#f10025,#ee002c,#ea0033,#e70039,#e4003f,#e10045,#df004a,#dc004f,#da0054,#d70059,#d5005e,#d20063,#d00068,#cd006d,#cb0073,#c80079,#c6007f,#c40084,#c1008a,#bf0090,#bc0096,#ba009c,#b800a2,#b500a7,#b300ad,#b000b3,#ad00b9,#aa00bf,#a700c5,#a400cb,#a100d0,#9e00d6,#9b00db,#9800d8,#9400d3,#9000ce,#8c00c9,#8800c4,#8500bf,#8100bb,#7e00b7,#7b00b3,#7800af,#7500aa,#7200a6,#6f00a2,#6d009e,#6a009b,#680097,#660094,#640091,#62008f,#61008d,#61008d)"></i><i class="m" style="top:255px;height:3px;background:linear-gradient(90deg,#ff1d00,#ff1d00,#ff1c00,#ff1900,#ff1700,#ff1500,#ff1300,#ff0f00,#ff0b00,#ff0600,#ff0200,#fd0004,#fb000b,#f80012,#f60019,#f3001f,#f10026,#ed002d,#ea0035,#e6003c,#e20043,#df004a,#dc0050,#d90055,#d6005b,#d30060,#d10066,#ce006b,#cc0070,#ca0076,#c7007b,#c50081,#c30087,#c0008c,#be0092,#bc0098,#b9009d,#b700a3,#b500a8,#b200ae,#b000b4,#ad00b9,#aa00bf,#a700c4,#a400ca,#a100cf,#9f00d5,#9c00da,#9800d9,#9500d4,#9100cf,#8d00ca,#8a00c6,#8600c1,#8300bd,#7f00b8,#7c00b4,#7900b0,#7500ab,#7200a6,#6f00a2,#6c009e,#6a009a,#670096,#650093,#62008f,#60008c,#5e0089,#5c0086,#5a0084,#590082,#590082)"></i><i style="top:258px;height:3px;background:linear-gradient(90deg,#ff1d00,#ff1d00,#ff1c00,#ff1900,#ff1700,#ff1500,#ff1300,#ff0f00,#ff0b00,#ff0600,#ff0200,#fd0004,#fb000b,#f80012,#f60019,#f3001f,#f10026,#ed002d,#ea0035,#e6003c,#e20043,#df004a,#dc0050,#d90055,#d6005b,#d30060,#d10066,#ce006b,#cc0070,#ca0076,#c7007b,#c50081,#c30087,#c0008c,#be0092,#bc0098,#b9009d,#b700a3,#b500a8,#b200ae,#b000b4,#ad00b9,#aa00bf,#a700c4,#a400ca,#a100cf,#9f00d5,#9c00da,#9800d9,#9500d4,#9100cf,#8d00ca,#8a00c6,#8600c1,#8300bd,#7f00b8,#7c00b4,#7900b0,#7500ab,#7200a6,#6f00a2,#6c009e,#6a009a,#670096,#650093,#62008f,#60008c,#5e0089,#5c0086,#5a0084,#590082,#590082)"></i><i class="m" style="top:258px;height:3px;background:linear-gradient(90deg,#ff1a00,#ff1a00,#ff1800,#ff1500,#ff1300,#ff1100,#ff0f00,#ff0b00,#ff0600,#ff0000,#fc0008,#f90010,#f60018,#f3001f,#f00027,#ec002f,#e80037,#e4003f,#e10047,#dd004e,#d90056,#d5005c,#d20062,#cf0068,#cd006e,#cb0074,#c80079,#c6007f,#c40084,#c20089,#bf008f,#bd0094,#bb009a,#b9009f,#b600a5,#b400aa,#b200af,#af00b4,#ad00b9,#aa00bf,#a700c4,#a500c9,#a200ce,#9f00d4,#9c00d9,#9900da,#9500d5,#9100d0,#8e00cb,#8a00c7,#8700c2,#8300be,#8000ba,#7d00b6,#7a00b1,#7600ac,#7300a7,#7000a3,#6c009e,#6a009a,#670096,#640092,#62008f,#5f008b,#5d0088,#5b0084,#590081,#57007e,#55007c,#530079,#520077,#520077)"></i><i style="top:261px;height:3px;background:linear-gradient(90deg,#ff1a00,#ff1a00,#ff1800,#ff1500,#ff1300,#ff1100,#ff0f00,#ff0b00,#ff0600,#ff0000,#fc0008,#f90010,#f60018,#f3001f,#f00027,#ec002f,#e80037,#e4003f,#e10047,#dd004e,#d90056,#d5005c,#d20062,#cf0068,#cd006e,#cb0074,#c80079,#c6007f,#c40084,#c20089,#bf008f,#bd0094,#bb009a,#b9009f,#b600a5,#b400aa,#b200af,#af00b4,#ad00b9,#aa00bf,#a700c4,#a500c9,#a200ce,#9f00d4,#9c00d9,#9900da,#9500d5,#9100d0,#8e00cb,#8a00c7,#8700c2,#8300be,#8000ba,#7d00b6,#7a00b1,#7600ac,#7300a7,#7000a3,#6c009e,#6a009a,#670096,#640092,#62008f,#5f008b,#5d0088,#5b0084,#590081,#57007e,#55007c,#530079,#520077,#520077)"></i><i class="m" style="top:261px;height:3px;background:linear-gradient(90deg,#ff1700,#ff1700,#ff1500,#ff1200,#ff1000,#ff0d00,#ff0b00,#ff0700,#ff0100,#fc0008,#f80012,#f4001c,#f10025,#ed002f,#e80038,#e30041,#df004a,#db0052,#d7005a,#d20062,#cf006a,#cc0071,#c90078,#c6007e,#c40084,#c20089,#bf008f,#bd0094,#bb0099,#b9009e,#b700a3,#b500a8,#b300ad,#b000b2,#ae00b7,#ab00bc,#a900c1,#a700c5,#a400ca,#a200cf,#9f00d4,#9d00d9,#9a00db,#9600d6,#9200d1,#8e00cc,#8b00c7,#8700c3,#8400be,#8000ba,#7d00b6,#7a00b2,#7700ad,#7300a8,#7000a3,#6d009f,#6a009a,#670096,#640092,#62008e,#5f008a,#5d0087,#5b0084,#580081,#56007d,#54007a,#520077,#500074,#4e0072,#4c006f,#4b006d,#4b006d)"></i><i style="top:264px;height:3px;background:linear-gradient(90deg,#ff1700,#ff1700,#ff1500,#ff1200,#ff1000,#ff0d00,#ff0b00,#ff0700,#ff0100,#fc0008,#f80012,#f4001c,#f10025,#ed002f,#e80038,#e30041,#df004a,#db0052,#d7005a,#d20062,#cf006a,#cc0071,#c90078,#c6007e,#c40084,#c20089,#bf008f,#bd0094,#bb0099,#b9009e,#b700a3,#b500a8,#b300ad,#b000b2,#ae00b7,#ab00bc,#a900c1,#a700c5,#a400ca,#a200cf,#9f00d4,#9d00d9,#9a00db,#9600d6,#9200d1,#8e00cc,#8b00c7,#8700c3,#8400be,#8000ba,#7d00b6,#7a00b2,#7700ad,#7300a8,#7000a3,#6d009f,#6a009a,#670096,#640092,#62008e,#5f008a,#5d0087,#5b0084,#580081,#56007d,#54007a,#520077,#500074,#4e0072,#4c006f,#4b006d,#4b006d)"></i><i class="m" style="top:264px;height:3px;background:linear-gradient(90deg,#ff1400,#ff1400,#ff1200,#ff0f00,#ff0c00,#ff0a00,#ff0700,#ff0300,#fd0005,#f90010,#f4001d,#ef0029,#ea0035,#e4003f,#df004a,#da0054,#d5005d,#d00066,#cc0070,#c80079,#c50081,#c20089,#bf008f,#bd0094,#bb009a,#b800a0,#b600a5,#b400a9,#b300ae,#b000b2,#ae00b7,#ab00bc,#a900c0,#a700c4,#a500c9,#a200ce,#a000d2,#9e00d6,#9c00da,#9900da,#9600d5,#9300d1,#8f00cd,#8c00c9,#8800c4,#8400bf,#8000ba,#7d00b6,#7a00b2,#7600ac,#7200a7,#6f00a2,#6d009e,#6a009a,#670096,#640092,#61008e,#5f008b,#5d0087,#5a0083,#580080,#56007d,#54007a,#510077,#4f0073,#4d0070,#4b006d,#4a006b,#480068,#460065,#440063,#450064)"></i><i style="top:267px;height:2px;background:linear-gradient(90deg,#ff1400,#ff1400,#ff1200,#ff0f00,#ff0c00,#ff0a00,#ff0700,#ff0300,#fd0005,#f90010,#f4001d,#ef0029,#ea0035,#e4003f,#df004a,#da0054,#d5005d,#d00066,#cc0070,#c80079,#c50081,#c20089,#bf008f,#bd0094,#bb009a,#b800a0,#b600a5,#b400a9,#b300ae,#b000b2,#ae00b7,#ab00bc,#a900c0,#a700c4,#a500c9,#a200ce,#a000d2,#9e00d6,#9c00da,#9900da,#9600d5,#9300d1,#8f00cd,#8c00c9,#8800c4,#8400bf,#8000ba,#7d00b6,#7a00b2,#7600ac,#7200a7,#6f00a2,#6d009e,#6a009a,#670096,#640092,#61008e,#5f008b,#5d0087,#5a0083,#580080,#56007d,#54007a,#510077,#4f0073,#4d0070,#4b006d,#4a006b,#480068,#460065,#440063,#450064)"></i><i class="m" style="top:267px;height:2px;background:linear-gradient(90deg,#ff1200,#ff1200,#ff1000,#ff0d00,#ff0a00,#ff0800,#ff0500,#ff0000,#fb000a,#f70016,#f10024,#ea0033,#e4003f,#de004b,#d90056,#d30061,#ce006b,#ca0075,#c6007f,#c20089,#be0091,#bb0099,#b9009f,#b700a4,#b400a9,#b200af,#b000b3,#ae00b7,#ac00bb,#a900c0,#a700c4,#a500c9,#a300cd,#a100d1,#9f00d5,#9c00d9,#9a00db,#9800d8,#9500d4,#9200d0,#8e00cc,#8b00c8,#8800c4,#8500c0,#8100bb,#7d00b6,#7a00b2,#7600ac,#7300a7,#6f00a2,#6b009d,#690098,#660095,#630091,#61008d,#5e0089,#5c0086,#5a0083,#580080,#55007c,#530079,#510076,#4f0073,#4d0070,#4b006d,#49006a,#470067,#450065,#440062,#42005f,#41005e,#41005e)"></i><i style="top:269px;height:2px;background:linear-gradient(90deg,#ff1200,#ff1200,#ff1000,#ff0d00,#ff0a00,#ff0800,#ff0500,#ff0000,#fb000a,#f70016,#f10024,#ea0033,#e4003f,#de004b,#d90056,#d30061,#ce006b,#ca0075,#c6007f,#c20089,#be0091,#bb0099,#b9009f,#b700a4,#b400a9,#b200af,#b000b3,#ae00b7,#ac00bb,#a900c0,#a700c4,#a500c9,#a300cd,#a100d1,#9f00d5,#9c00d9,#9a00db,#9800d8,#9500d4,#9200d0,#8e00cc,#8b00c8,#8800c4,#8500c0,#8100bb,#7d00b6,#7a00b2,#7600ac,#7300a7,#6f00a2,#6b009d,#690098,#660095,#630091,#61008d,#5e0089,#5c0086,#5a0083,#580080,#55007c,#530079,#510076,#4f0073,#4d0070,#4b006d,#49006a,#470067,#450065,#440062,#42005f,#41005e,#41005e)"></i><i class="m" style="top:269px;height:2px;background:linear-gradient(90deg,#ff1000,#ff1000,#ff0e00,#ff0b00,#ff0800,#ff0600,#ff0200,#fd0004,#f9000f,#f4001c,#ee002c,#e5003d,#df004a,#d80057,#d20063,#cd006f,#c8007a,#c30085,#bf008f,#bb0099,#b800a1,#b500a9,#b200ae,#b000b3,#ad00b8,#ab00bd,#a800c2,#a700c5,#a500c9,#a300cd,#a000d1,#9e00d6,#9c00d9,#9b00db,#9800d8,#9500d4,#9200d1,#9000ce,#8d00cb,#8a00c7,#8700c3,#8400bf,#8100bb,#7e00b7,#7a00b3,#7600ac,#7200a7,#6f00a2,#6b009d,#680097,#650093,#62008f,#60008c,#5d0088,#5b0084,#580081,#56007e,#55007b,#530078,#500075,#4e0072,#4c006f,#4b006d,#49006a,#470067,#440064,#430061,#42005f,#40005d,#3e005a,#3d0059,#3e0059)"></i><i style="top:271px;height:1px;background:linear-gradient(90deg,#ff1000,#ff1000,#ff0e00,#ff0b00,#ff0800,#ff0600,#ff0200,#fd0004,#f9000f,#f4001c,#ee002c,#e5003d,#df004a,#d80057,#d20063,#cd006f,#c8007a,#c30085,#bf008f,#bb0099,#b800a1,#b500a9,#b200ae,#b000b3,#ad00b8,#ab00bd,#a800c2,#a700c5,#a500c9,#a300cd,#a000d1,#9e00d6,#9c00d9,#9b00db,#9800d8,#9500d4,#9200d1,#9000ce,#8d00cb,#8a00c7,#8700c3,#8400bf,#8100bb,#7e00b7,#7a00b3,#7600ac,#7200a7,#6f00a2,#6b009d,#680097,#650093,#62008f,#60008c,#5d0088,#5b0084,#580081,#56007e,#55007b,#530078,#500075,#4e0072,#4c006f,#4b006d,#49006a,#470067,#440064,#430061,#42005f,#40005d,#3e005a,#3d0059,#3e0059)"></i><i class="m" style="top:271px;height:1px;background:linear-gradient(90deg,#ff1000,#ff1000,#ff0d00,#ff0a00,#ff0700,#ff0400,#ff0100,#fc0007,#f80012,#f3001f,#ec0030,#e30042,#dc0050,#d5005d,#cf0069,#c90076,#c50082,#c0008d,#bc0097,#b800a0,#b400a9,#b100b1,#af00b6,#ac00bb,#aa00bf,#a700c4,#a500c9,#a300cc,#a100d0,#9f00d4,#9d00d8,#9b00dc,#9900d9,#9600d6,#9300d2,#9100cf,#8e00cb,#8c00c9,#8a00c6,#8700c2,#8400be,#8100bb,#7e00b7,#7b00b3,#7700ad,#7200a7,#6f00a2,#6b009d,#680098,#640092,#61008e,#5f008a,#5d0087,#5a0084,#580080,#56007d,#54007a,#520078,#500075,#4e0072,#4c006e,#4a006c,#49006a,#470067,#440064,#420061,#41005f,#40005d,#3f005b,#3d0058,#3c0056,#3c0057)"></i><i style="top:272px;height:2px;background:linear-gradient(90deg,#ff1000,#ff1000,#ff0d00,#ff0a00,#ff0700,#ff0400,#ff0100,#fc0007,#f80012,#f3001f,#ec0030,#e30042,#dc0050,#d5005d,#cf0069,#c90076,#c50082,#c0008d,#bc0097,#b800a0,#b400a9,#b100b1,#af00b6,#ac00bb,#aa00bf,#a700c4,#a500c9,#a300cc,#a100d0,#9f00d4,#9d00d8,#9b00dc,#9900d9,#9600d6,#9300d2,#9100cf,#8e00cb,#8c00c9,#8a00c6,#8700c2,#8400be,#8100bb,#7e00b7,#7b00b3,#7700ad,#7200a7,#6f00a2,#6b009d,#680098,#640092,#61008e,#5f008a,#5d0087,#5a0084,#580080,#56007d,#54007a,#520078,#500075,#4e0072,#4c006e,#4a006c,#49006a,#470067,#440064,#420061,#41005f,#40005d,#3f005b,#3d0058,#3c0056,#3c0057)"></i><i class="m" style="top:272px;height:2px;background:linear-gradient(90deg,#ff0e00,#ff0e00,#ff0b00,#ff0800,#ff0500,#ff0200,#fe0003,#fb000c,#f60018,#f10026,#e70039,#dd004d,#d6005c,#cf0069,#c90077,#c30085,#be0091,#ba009c,#b600a6,#b100b0,#ad00b9,#a900c0,#a700c5,#a500c9,#a200ce,#a000d3,#9e00d7,#9c00da,#9a00db,#9800d8,#9500d4,#9200d0,#9000ce,#8e00cb,#8b00c8,#8800c4,#8600c1,#8400bf,#8200bc,#7f00b9,#7c00b5,#7a00b1,#7700ad,#7300a8,#6f00a2,#6b009c,#680097,#640092,#61008e,#5e0088,#5a0084,#580081,#57007e,#55007b,#520078,#500074,#4e0072,#4d0070,#4c006e,#49006b,#470068,#460065,#440064,#430061,#41005e,#3f005b,#3e005a,#3d0058,#3c0056,#3a0053,#390052,#390052)"></i><i style="top:274px;height:2px;background:linear-gradient(90deg,#ff0e00,#ff0e00,#ff0b00,#ff0800,#ff0500,#ff0200,#fe0003,#fb000c,#f60018,#f10026,#e70039,#dd004d,#d6005c,#cf0069,#c90077,#c30085,#be0091,#ba009c,#b600a6,#b100b0,#ad00b9,#a900c0,#a700c5,#a500c9,#a200ce,#a000d3,#9e00d7,#9c00da,#9a00db,#9800d8,#9500d4,#9200d0,#9000ce,#8e00cb,#8b00c8,#8800c4,#8600c1,#8400bf,#8200bc,#7f00b9,#7c00b5,#7a00b1,#7700ad,#7300a8,#6f00a2,#6b009c,#680097,#640092,#61008e,#5e0088,#5a0084,#580081,#57007e,#55007b,#520078,#500074,#4e0072,#4d0070,#4c006e,#49006b,#470068,#460065,#440064,#430061,#41005e,#3f005b,#3e005a,#3d0058,#3c0056,#3a0053,#390052,#390052)"></i><i class="m" style="top:274px;height:2px;background:linear-gradient(90deg,#ff0c00,#ff0c00,#ff0a00,#ff0600,#ff0200,#fe0002,#fc0008,#f80012,#f4001e,#ed002e,#e20043,#d80058,#d00067,#c90077,#c30085,#bd0094,#b800a0,#b400ab,#af00b5,#aa00bf,#a500c8,#a200ce,#a000d3,#9e00d7,#9b00dc,#9800d8,#9500d4,#9300d2,#9100cf,#8e00cc,#8b00c8,#8900c5,#8700c3,#8500c0,#8300bd,#8000ba,#7e00b7,#7c00b5,#7b00b3,#7800af,#7400aa,#7200a6,#6f00a2,#6c009e,#680098,#640091,#60008c,#5e0088,#5b0084,#57007f,#54007a,#520077,#510076,#4f0073,#4d006f,#4a006c,#49006b,#480069,#470067,#450064,#430061,#41005f,#41005e,#3f005c,#3d0059,#3c0057,#3b0055,#3a0054,#390052,#37004f,#36004d,#36004e)"></i><i style="top:276px;height:2px;background:linear-gradient(90deg,#ff0c00,#ff0c00,#ff0a00,#ff0600,#ff0200,#fe0002,#fc0008,#f80012,#f4001e,#ed002e,#e20043,#d80058,#d00067,#c90077,#c30085,#bd0094,#b800a0,#b400ab,#af00b5,#aa00bf,#a500c8,#a200ce,#a000d3,#9e00d7,#9b00dc,#9800d8,#9500d4,#9300d2,#9100cf,#8e00cc,#8b00c8,#8900c5,#8700c3,#8500c0,#8300bd,#8000ba,#7e00b7,#7c00b5,#7b00b3,#7800af,#7400aa,#7200a6,#6f00a2,#6c009e,#680098,#640091,#60008c,#5e0088,#5b0084,#57007f,#54007a,#520077,#510076,#4f0073,#4d006f,#4a006c,#49006b,#480069,#470067,#450064,#430061,#41005f,#41005e,#3f005c,#3d0059,#3c0057,#3b0055,#3a0054,#390052,#37004f,#36004d,#36004e)"></i><i class="m" style="top:276px;height:2px;background:linear-gradient(90deg,#ff0a00,#ff0a00,#ff0700,#ff0300,#ff0001,#fc0007,#fa000e,#f60018,#f10026,#e80037,#dd004d,#d20063,#ca0074,#c40084,#be0093,#b700a2,#b200af,#ad00ba,#a800c3,#a300cd,#9e00d6,#9b00dc,#9800d8,#9500d4,#9200d0,#8e00cc,#8b00c8,#8a00c6,#8800c4,#8500c1,#8200bd,#8000ba,#7f00b8,#7d00b6,#7b00b3,#7800af,#7500ab,#7400a9,#7200a7,#7000a3,#6c009e,#6a009a,#680097,#650093,#61008d,#5c0087,#590082,#57007f,#54007a,#500075,#4d0071,#4c006e,#4b006d,#49006b,#470067,#450064,#440063,#440062,#420060,#40005d,#3f005b,#3e005a,#3d0059,#3c0057,#3a0054,#390052,#380051,#370050,#36004d,#34004b,#330049,#34004a)"></i><i style="top:278px;height:1px;background:linear-gradient(90deg,#ff0a00,#ff0a00,#ff0700,#ff0300,#ff0001,#fc0007,#fa000e,#f60018,#f10026,#e80037,#dd004d,#d20063,#ca0074,#c40084,#be0093,#b700a2,#b200af,#ad00ba,#a800c3,#a300cd,#9e00d6,#9b00dc,#9800d8,#9500d4,#9200d0,#8e00cc,#8b00c8,#8a00c6,#8800c4,#8500c1,#8200bd,#8000ba,#7f00b8,#7d00b6,#7b00b3,#7800af,#7500ab,#7400a9,#7200a7,#7000a3,#6c009e,#6a009a,#680097,#650093,#61008d,#5c0087,#590082,#57007f,#54007a,#500075,#4d0071,#4c006e,#4b006d,#49006b,#470067,#450064,#440063,#440062,#420060,#40005d,#3f005b,#3e005a,#3d0059,#3c0057,#3a0054,#390052,#380051,#370050,#36004d,#34004b,#330049,#34004a)"></i><i class="m" style="top:278px;height:1px;background:linear-gradient(90deg,#ff0900,#ff0900,#ff0600,#ff0200,#fe0004,#fb000a,#f90011,#f5001c,#ef002a,#e6003c,#da0053,#cf0069,#c8007b,#c1008b,#bb009a,#b400a9,#ae00b6,#a900c1,#a400ca,#9f00d3,#9b00db,#9600d5,#9300d1,#9000ce,#8d00ca,#8900c5,#8700c2,#8500c0,#8400be,#8100bb,#7e00b7,#7c00b4,#7a00b2,#7900b0,#7600ac,#7300a8,#7100a5,#7000a3,#6e00a1,#6b009d,#680098,#660094,#640091,#61008d,#5d0087,#590081,#56007d,#53007a,#510076,#4d0070,#4a006c,#49006a,#480069,#470067,#440063,#420060,#42005f,#41005f,#40005d,#3e005b,#3d0058,#3c0057,#3c0056,#3b0055,#390051,#37004f,#37004e,#36004e,#35004b,#330048,#320047,#320048)"></i><i style="top:279px;height:2px;background:linear-gradient(90deg,#ff0900,#ff0900,#ff0600,#ff0200,#fe0004,#fb000a,#f90011,#f5001c,#ef002a,#e6003c,#da0053,#cf0069,#c8007b,#c1008b,#bb009a,#b400a9,#ae00b6,#a900c1,#a400ca,#9f00d3,#9b00db,#9600d5,#9300d1,#9000ce,#8d00ca,#8900c5,#8700c2,#8500c0,#8400be,#8100bb,#7e00b7,#7c00b4,#7a00b2,#7900b0,#7600ac,#7300a8,#7100a5,#7000a3,#6e00a1,#6b009d,#680098,#660094,#640091,#61008d,#5d0087,#590081,#56007d,#53007a,#510076,#4d0070,#4a006c,#49006a,#480069,#470067,#440063,#420060,#42005f,#41005f,#40005d,#3e005b,#3d0058,#3c0057,#3c0056,#3b0055,#390051,#37004f,#37004e,#36004e,#35004b,#330048,#320047,#320048)"></i><i class="m" style="top:279px;height:2px;background:linear-gradient(90deg,#ff0800,#ff0800,#ff0400,#ff0001,#fc0009,#f90011,#f5001a,#f10025,#e90035,#e00048,#d4005f,#c90077,#c2008a,#bb0099,#b400a9,#ad00b8,#a700c5,#a200cf,#9d00d8,#9700d7,#9000ce,#8b00c8,#8900c4,#8600c2,#8300be,#7f00b9,#7d00b6,#7c00b4,#7a00b2,#7800ae,#7400a9,#7100a6,#7000a4,#6f00a2,#6c009e,#69009a,#670097,#670096,#650094,#630090,#5f008b,#5d0088,#5c0085,#590082,#55007c,#510076,#4e0072,#4c006f,#4a006c,#460067,#430062,#420060,#420060,#41005f,#3f005c,#3e0059,#3d0059,#3d0059,#3c0057,#3b0055,#390052,#390052,#390051,#370050,#35004c,#34004a,#34004a,#330049,#320047,#300044,#2f0042,#300044)"></i><i style="top:281px;height:2px;background:linear-gradient(90deg,#ff0800,#ff0800,#ff0400,#ff0001,#fc0009,#f90011,#f5001a,#f10025,#e90035,#e00048,#d4005f,#c90077,#c2008a,#bb0099,#b400a9,#ad00b8,#a700c5,#a200cf,#9d00d8,#9700d7,#9000ce,#8b00c8,#8900c4,#8600c2,#8300be,#7f00b9,#7d00b6,#7c00b4,#7a00b2,#7800ae,#7400a9,#7100a6,#7000a4,#6f00a2,#6c009e,#69009a,#670097,#670096,#650094,#630090,#5f008b,#5d0088,#5c0085,#590082,#55007c,#510076,#4e0072,#4c006f,#4a006c,#460067,#430062,#420060,#420060,#41005f,#3f005c,#3e0059,#3d0059,#3d0059,#3c0057,#3b0055,#390052,#390052,#390051,#370050,#35004c,#34004a,#34004a,#330049,#320047,#300044,#2f0042,#300044)"></i><i class="m" style="top:281px;height:2px;background:linear-gradient(90deg,#ff0600,#ff0600,#ff0200,#fd0005,#fa000e,#f60019,#f10024,#eb0032,#e20043,#d90056,#cd006e,#c30087,#bb0099,#b500a9,#ad00b8,#a500c8,#9f00d5,#9900da,#9300d2,#8c00c9,#8500c0,#8100ba,#7e00b7,#7c00b5,#7900b1,#7500aa,#7200a6,#7100a4,#7000a3,#6d009f,#690099,#670096,#660095,#650094,#630090,#5f008b,#5e0088,#5d0088,#5c0087,#590082,#56007d,#54007a,#530079,#510076,#4d0070,#49006a,#460066,#450065,#430061,#40005d,#3e0059,#3d0058,#3d0059,#3d0058,#3b0054,#390052,#390052,#390053,#390051,#37004e,#35004c,#35004c,#35004c,#34004a,#320047,#310045,#310045,#310045,#2f0043,#2d0040,#2c003e,#2d0040)"></i><i style="top:283px;height:1px;background:linear-gradient(90deg,#ff0600,#ff0600,#ff0200,#fd0005,#fa000e,#f60019,#f10024,#eb0032,#e20043,#d90056,#cd006e,#c30087,#bb0099,#b500a9,#ad00b8,#a500c8,#9f00d5,#9900da,#9300d2,#8c00c9,#8500c0,#8100ba,#7e00b7,#7c00b5,#7900b1,#7500aa,#7200a6,#7100a4,#7000a3,#6d009f,#690099,#670096,#660095,#650094,#630090,#5f008b,#5e0088,#5d0088,#5c0087,#590082,#56007d,#54007a,#530079,#510076,#4d0070,#49006a,#460066,#450065,#430061,#40005d,#3e0059,#3d0058,#3d0059,#3d0058,#3b0054,#390052,#390052,#390053,#390051,#37004e,#35004c,#35004c,#35004c,#34004a,#320047,#310045,#310045,#310045,#2f0043,#2d0040,#2c003e,#2d0040)"></i><i class="m" style="top:283px;height:1px;background:linear-gradient(90deg,#ff0500,#ff0500,#ff0100,#fc0007,#f80011,#f4001d,#ef002a,#e70039,#de004b,#d5005e,#c90076,#bf008f,#b800a1,#b100b1,#a900c0,#a100d0,#9a00db,#9300d2,#8e00cb,#8700c2,#8000ba,#7b00b3,#7900b0,#7700ad,#7300a8,#6f00a2,#6c009d,#6b009c,#6a009b,#670097,#640091,#61008e,#61008d,#60008c,#5e0088,#5a0083,#580081,#590081,#580080,#55007c,#510076,#4f0074,#4f0073,#4d0070,#49006a,#450064,#420060,#42005f,#40005d,#3d0059,#3b0055,#3a0054,#3b0055,#3a0054,#380051,#37004e,#37004e,#37004f,#37004e,#35004b,#330049,#330049,#33004a,#320048,#300045,#2f0042,#2f0043,#2f0043,#2e0041,#2c003e,#2b003c,#2c003e)"></i><i style="top:284px;height:2px;background:linear-gradient(90deg,#ff0500,#ff0500,#ff0100,#fc0007,#f80011,#f4001d,#ef002a,#e70039,#de004b,#d5005e,#c90076,#bf008f,#b800a1,#b100b1,#a900c0,#a100d0,#9a00db,#9300d2,#8e00cb,#8700c2,#8000ba,#7b00b3,#7900b0,#7700ad,#7300a8,#6f00a2,#6c009d,#6b009c,#6a009b,#670097,#640091,#61008e,#61008d,#60008c,#5e0088,#5a0083,#580081,#590081,#580080,#55007c,#510076,#4f0074,#4f0073,#4d0070,#49006a,#450064,#420060,#42005f,#40005d,#3d0059,#3b0055,#3a0054,#3b0055,#3a0054,#380051,#37004e,#37004e,#37004f,#37004e,#35004b,#330049,#330049,#33004a,#320048,#300045,#2f0042,#2f0043,#2f0043,#2e0041,#2c003e,#2b003c,#2c003e)"></i><i class="m" style="top:284px;height:2px;background:linear-gradient(90deg,#ff0300,#ff0300,#ff0001,#fb000c,#f60018,#f10026,#e80038,#df0049,#d6005b,#cd006f,#c20088,#b800a0,#b100b2,#a900c0,#a100d0,#9800d8,#8e00cc,#8800c4,#8300bd,#7c00b5,#7400aa,#6f00a2,#6d009f,#6c009d,#680098,#630091,#60008c,#60008c,#60008b,#5d0087,#590081,#56007e,#57007e,#56007e,#53007a,#500074,#4e0072,#4f0073,#4f0072,#4b006e,#480068,#460066,#460066,#450064,#41005e,#3d0059,#3c0057,#3c0056,#3b0055,#380050,#35004c,#35004c,#36004e,#36004d,#34004a,#320047,#320048,#330049,#330048,#300045,#2f0043,#2f0043,#300044,#2f0043,#2d003f,#2b003d,#2c003e,#2d003f,#2c003d,#29003a,#280038,#2a003a)"></i><i style="top:286px;height:2px;background:linear-gradient(90deg,#ff0300,#ff0300,#ff0001,#fb000c,#f60018,#f10026,#e80038,#df0049,#d6005b,#cd006f,#c20088,#b800a0,#b100b2,#a900c0,#a100d0,#9800d8,#8e00cc,#8800c4,#8300bd,#7c00b5,#7400aa,#6f00a2,#6d009f,#6c009d,#680098,#630091,#60008c,#60008c,#60008b,#5d0087,#590081,#56007e,#57007e,#56007e,#53007a,#500074,#4e0072,#4f0073,#4f0072,#4b006e,#480068,#460066,#460066,#450064,#41005e,#3d0059,#3c0057,#3c0056,#3b0055,#380050,#35004c,#35004c,#36004e,#36004d,#34004a,#320047,#320048,#330049,#330048,#300045,#2f0043,#2f0043,#300044,#2f0043,#2d003f,#2b003d,#2c003e,#2d003f,#2c003d,#29003a,#280038,#2a003a)"></i><i class="m" style="top:286px;height:2px;background:linear-gradient(90deg,#ff0200,#ff0200,#fd0004,#f90010,#f4001e,#ec0031,#e10046,#d70059,#ce006c,#c50081,#bb009a,#b100b1,#a800c2,#a100d0,#9800d8,#8c00c9,#8200bc,#7c00b5,#7700ae,#7000a4,#680098,#630090,#61008e,#61008d,#5d0088,#580080,#55007c,#55007c,#55007c,#520078,#4e0071,#4c006e,#4c006f,#4c006f,#4a006b,#460065,#440063,#450065,#450065,#420060,#3f005c,#3e005a,#3f005b,#3e0059,#3a0054,#37004f,#36004d,#36004e,#35004c,#320048,#300044,#300044,#310046,#310046,#2f0042,#2d0040,#2e0041,#2f0043,#2f0042,#2c003f,#2b003c,#2c003d,#2d003f,#2c003e,#2a003a,#280038,#29003a,#2a003b,#29003a,#260035,#250034,#270037)"></i><i style="top:288px;height:2px;background:linear-gradient(90deg,#ff0200,#ff0200,#fd0004,#f90010,#f4001e,#ec0031,#e10046,#d70059,#ce006c,#c50081,#bb009a,#b100b1,#a800c2,#a100d0,#9800d8,#8c00c9,#8200bc,#7c00b5,#7700ae,#7000a4,#680098,#630090,#61008e,#61008d,#5d0088,#580080,#55007c,#55007c,#55007c,#520078,#4e0071,#4c006e,#4c006f,#4c006f,#4a006b,#460065,#440063,#450065,#450065,#420060,#3f005c,#3e005a,#3f005b,#3e0059,#3a0054,#37004f,#36004d,#36004e,#35004c,#320048,#300044,#300044,#310046,#310046,#2f0042,#2d0040,#2e0041,#2f0043,#2f0042,#2c003f,#2b003c,#2c003d,#2d003f,#2c003e,#2a003a,#280038,#29003a,#2a003b,#29003a,#260035,#250034,#270037)"></i><i class="m" style="top:288px;height:2px;background:linear-gradient(90deg,#ff0000,#ff0000,#fc0008,#f70015,#f10025,#e6003c,#d90055,#cf006a,#c60080,#bd0095,#b300ac,#a800c2,#a000d3,#9800d8,#8d00ca,#8000ba,#7600ac,#7000a3,#6c009d,#650093,#5c0087,#57007f,#56007e,#56007d,#520078,#4d0070,#4a006c,#4b006d,#4b006d,#480069,#430062,#41005f,#430061,#430062,#41005e,#3d0059,#3c0057,#3e0059,#3e005a,#3b0056,#380051,#37004f,#380051,#380050,#34004b,#310045,#300044,#310045,#300045,#2d0040,#2b003c,#2b003d,#2d0040,#2d0040,#2a003c,#290039,#2a003a,#2c003d,#2b003d,#290039,#270036,#280038,#2a003b,#29003a,#260035,#250033,#260035,#280038,#270036,#240031,#230030,#250033)"></i><i style="top:290px;height:1px;background:linear-gradient(90deg,#ff0000,#ff0000,#fc0008,#f70015,#f10025,#e6003c,#d90055,#cf006a,#c60080,#bd0095,#b300ac,#a800c2,#a000d3,#9800d8,#8d00ca,#8000ba,#7600ac,#7000a3,#6c009d,#650093,#5c0087,#57007f,#56007e,#56007d,#520078,#4d0070,#4a006c,#4b006d,#4b006d,#480069,#430062,#41005f,#430061,#430062,#41005e,#3d0059,#3c0057,#3e0059,#3e005a,#3b0056,#380051,#37004f,#380051,#380050,#34004b,#310045,#300044,#310045,#300045,#2d0040,#2b003c,#2b003d,#2d0040,#2d0040,#2a003c,#290039,#2a003a,#2c003d,#2b003d,#290039,#270036,#280038,#2a003b,#29003a,#260035,#250033,#260035,#280038,#270036,#240031,#230030,#250033)"></i><i class="m" style="top:290px;height:1px;background:linear-gradient(90deg,#fe0002,#fe0002,#fb000a,#f60017,#f00028,#e30041,#d5005c,#cb0073,#c20089,#b9009e,#af00b5,#a400ca,#9c00db,#9200d1,#8700c3,#7a00b2,#6f00a2,#6a009a,#660094,#5f008b,#57007e,#510077,#510076,#510076,#4d0071,#480068,#450064,#460065,#460066,#430062,#3f005c,#3d0059,#3f005b,#3f005c,#3d0058,#390053,#390051,#3a0054,#3b0055,#380051,#35004b,#34004a,#35004c,#35004c,#310046,#2e0040,#2d003f,#2e0042,#2e0041,#2b003c,#280038,#290039,#2b003d,#2b003d,#280038,#260035,#280037,#2a003b,#2a003a,#270036,#250033,#260035,#280039,#280037,#250033,#230031,#250033,#270036,#260034,#230030,#22002e,#240031)"></i><i style="top:291px;height:2px;background:linear-gradient(90deg,#fe0002,#fe0002,#fb000a,#f60017,#f00028,#e30041,#d5005c,#cb0073,#c20089,#b9009e,#af00b5,#a400ca,#9c00db,#9200d1,#8700c3,#7a00b2,#6f00a2,#6a009a,#660094,#5f008b,#57007e,#510077,#510076,#510076,#4d0071,#480068,#450064,#460065,#460066,#430062,#3f005c,#3d0059,#3f005b,#3f005c,#3d0058,#390053,#390051,#3a0054,#3b0055,#380051,#35004b,#34004a,#35004c,#35004c,#310046,#2e0040,#2d003f,#2e0042,#2e0041,#2b003c,#280038,#290039,#2b003d,#2b003d,#280038,#260035,#280037,#2a003b,#2a003a,#270036,#250033,#260035,#280039,#280037,#250033,#230031,#250033,#270036,#260034,#230030,#22002e,#240031)"></i><i class="m" style="top:291px;height:2px;background:linear-gradient(90deg,#fd0005,#fd0005,#fa000d,#f4001c,#ec0030,#dd004d,#ce006b,#c30085,#ba009c,#b100b1,#a600c6,#9b00db,#9000ce,#8700c3,#7c00b5,#6e00a0,#630090,#5e0089,#5b0085,#55007b,#4c006e,#460067,#470067,#470068,#440063,#3f005b,#3c0057,#3d0059,#3f005b,#3c0057,#380050,#36004d,#380050,#390052,#36004e,#320048,#320047,#34004a,#35004c,#320047,#2e0041,#2d0040,#300043,#300044,#2c003e,#280038,#280037,#2a003a,#2a003a,#260035,#230031,#240032,#270037,#280037,#240032,#22002f,#240031,#270036,#260035,#230030,#21002d,#230030,#260034,#250033,#22002e,#20002c,#22002f,#250033,#240031,#20002c,#1f002a,#22002e)"></i><i style="top:293px;height:3px;background:linear-gradient(90deg,#fd0005,#fd0005,#fa000d,#f4001c,#ec0030,#dd004d,#ce006b,#c30085,#ba009c,#b100b1,#a600c6,#9b00db,#9000ce,#8700c3,#7c00b5,#6e00a0,#630090,#5e0089,#5b0085,#55007b,#4c006e,#460067,#470067,#470068,#440063,#3f005b,#3c0057,#3d0059,#3f005b,#3c0057,#380050,#36004d,#380050,#390052,#36004e,#320048,#320047,#34004a,#35004c,#320047,#2e0041,#2d0040,#300043,#300044,#2c003e,#280038,#280037,#2a003a,#2a003a,#260035,#230031,#240032,#270037,#280037,#240032,#22002f,#240031,#270036,#260035,#230030,#21002d,#230030,#260034,#250033,#22002e,#20002c,#22002f,#250033,#240031,#20002c,#1f002a,#22002e)"></i><i class="m" style="top:293px;height:3px;background:linear-gradient(90deg,#fb0009,#fb0009,#f80013,#f10024,#e6003b,#d5005d,#c50081,#b9009e,#af00b6,#a400ca,#9900da,#8a00c7,#7f00b9,#7800af,#6c009d,#5c0086,#510076,#4e0071,#4c006f,#470067,#3e005a,#3a0053,#3b0055,#3c0057,#3a0053,#34004a,#310046,#34004a,#36004d,#330049,#2e0041,#2c003e,#2f0043,#310046,#2e0041,#29003a,#290039,#2c003e,#2d0040,#2a003b,#260034,#250034,#280039,#29003a,#250033,#21002c,#21002d,#240032,#240032,#20002c,#1d0027,#1f0029,#230030,#230030,#1f002a,#1d0026,#1f002a,#230030,#23002f,#1f0029,#1c0026,#1f002a,#23002f,#22002e,#1e0028,#1c0025,#1f002a,#22002f,#21002d,#1d0027,#1c0025,#1f002a)"></i><i style="top:296px;height:3px;background:linear-gradient(90deg,#fb0009,#fb0009,#f80013,#f10024,#e6003b,#d5005d,#c50081,#b9009e,#af00b6,#a400ca,#9900da,#8a00c7,#7f00b9,#7800af,#6c009d,#5c0086,#510076,#4e0071,#4c006f,#470067,#3e005a,#3a0053,#3b0055,#3c0057,#3a0053,#34004a,#310046,#34004a,#36004d,#330049,#2e0041,#2c003e,#2f0043,#310046,#2e0041,#29003a,#290039,#2c003e,#2d0040,#2a003b,#260034,#250034,#280039,#29003a,#250033,#21002c,#21002d,#240032,#240032,#20002c,#1d0027,#1f0029,#230030,#230030,#1f002a,#1d0026,#1f002a,#230030,#23002f,#1f0029,#1c0026,#1f002a,#23002f,#22002e,#1e0028,#1c0025,#1f002a,#22002f,#21002d,#1d0027,#1c0025,#1f002a)"></i><i class="m" style="top:296px;height:3px;background:linear-gradient(90deg,#f9000f,#f9000f,#f5001a,#ed002e,#e00048,#ce006c,#bd0094,#b100b2,#a400cb,#9800d8,#8900c6,#7a00b3,#6f00a2,#690099,#5e0088,#4d0071,#420060,#41005e,#41005f,#3d0058,#35004b,#300045,#320048,#35004c,#320047,#2c003d,#290039,#2c003e,#2f0043,#2c003e,#260035,#250032,#290039,#2b003d,#280037,#22002f,#22002e,#260035,#280038,#240032,#1f002a,#1f002a,#230031,#250033,#20002c,#1b0024,#1c0025,#20002c,#21002d,#1c0026,#18001f,#1a0023,#1f002b,#20002c,#1b0024,#18001f,#1b0024,#20002b,#20002b,#1b0024,#18001f,#1b0024,#20002c,#1f002b,#1a0023,#18001f,#1c0025,#20002c,#1f002a,#1a0022,#180020,#1d0026)"></i><i style="top:299px;height:3px;background:linear-gradient(90deg,#f9000f,#f9000f,#f5001a,#ed002e,#e00048,#ce006c,#bd0094,#b100b2,#a400cb,#9800d8,#8900c6,#7a00b3,#6f00a2,#690099,#5e0088,#4d0071,#420060,#41005e,#41005f,#3d0058,#35004b,#300045,#320048,#35004c,#320047,#2c003d,#290039,#2c003e,#2f0043,#2c003e,#260035,#250032,#290039,#2b003d,#280037,#22002f,#22002e,#260035,#280038,#240032,#1f002a,#1f002a,#230031,#250033,#20002c,#1b0024,#1c0025,#20002c,#21002d,#1c0026,#18001f,#1a0023,#1f002b,#20002c,#1b0024,#18001f,#1b0024,#20002b,#20002b,#1b0024,#18001f,#1b0024,#20002c,#1f002b,#1a0023,#18001f,#1c0025,#20002c,#1f002a,#1a0022,#180020,#1d0026)"></i><i class="m" style="top:299px;height:3px;background:linear-gradient(90deg,#f70015,#f70015,#f20022,#e80039,#d90054,#c8007b,#b700a2,#a900c1,#9b00db,#8b00c8,#7c00b4,#6a009b,#60008c,#5c0086,#520077,#41005f,#380051,#380051,#3a0054,#36004d,#2d003f,#280038,#2c003d,#300044,#2d003f,#250033,#22002f,#270036,#2b003c,#270037,#20002c,#1f002a,#240032,#280037,#240031,#1d0027,#1d0026,#22002f,#250034,#21002c,#1a0023,#1b0023,#20002c,#22002f,#1d0027,#17001d,#18001f,#1e0028,#1f002a,#1a0022,#15001b,#17001e,#1e0028,#1f0029,#190020,#15001b,#18001f,#1e0029,#1e0029,#18001f,#15001b,#190020,#1f0029,#1e0028,#17001e,#15001b,#1a0022,#1f002a,#1d0027,#17001d,#15001b,#1b0023)"></i><i style="top:302px;height:7px;background:linear-gradient(90deg,#f70015,#f70015,#f20022,#e80039,#d90054,#c8007b,#b700a2,#a900c1,#9b00db,#8b00c8,#7c00b4,#6a009b,#60008c,#5c0086,#520077,#41005f,#380051,#380051,#3a0054,#36004d,#2d003f,#280038,#2c003d,#300044,#2d003f,#250033,#22002f,#270036,#2b003c,#270037,#20002c,#1f002a,#240032,#280037,#240031,#1d0027,#1d0026,#22002f,#250034,#21002c,#1a0023,#1b0023,#20002c,#22002f,#1d0027,#17001d,#18001f,#1e0028,#1f002a,#1a0022,#15001b,#17001e,#1e0028,#1f0029,#190020,#15001b,#18001f,#1e0029,#1e0029,#18001f,#15001b,#190020,#1f0029,#1e0028,#17001e,#15001b,#1a0022,#1f002a,#1d0027,#17001d,#15001b,#1b0023)"></i><i class="m" style="top:302px;height:7px;background:linear-gradient(90deg,#f00028,#f00028,#e6003c,#d7005a,#c80079,#b9009d,#aa00bf,#9900da,#8200bd,#6e00a1,#590082,#450064,#3f005b,#40005e,#3a0054,#2c003e,#23002f,#260034,#2c003d,#280037,#1c0025,#17001d,#1e0028,#250033,#22002e,#17001e,#15001a,#1c0025,#230030,#1f0029,#15001b,#140019,#1b0024,#22002e,#1c0025,#130018,#130018,#1b0024,#20002c,#1a0022,#120017,#130018,#1b0024,#1f002a,#17001e,#100015,#120017,#1b0023,#1d0027,#15001b,#0f0014,#130018,#1b0024,#1d0026,#14001a,#0f0014,#130019,#1c0025,#1c0025,#130019,#0f0014,#14001a,#1d0026,#1b0024,#130018,#100014,#15001b,#1d0027,#1b0023,#120017,#100014,#16001d)"></i><i style="top:309px;height:9px;background:linear-gradient(90deg,#f00028,#f00028,#e6003c,#d7005a,#c80079,#b9009d,#aa00bf,#9900da,#8200bd,#6e00a1,#590082,#450064,#3f005b,#40005e,#3a0054,#2c003e,#23002f,#260034,#2c003d,#280037,#1c0025,#17001d,#1e0028,#250033,#22002e,#17001e,#15001a,#1c0025,#230030,#1f0029,#15001b,#140019,#1b0024,#22002e,#1c0025,#130018,#130018,#1b0024,#20002c,#1a0022,#120017,#130018,#1b0024,#1f002a,#17001e,#100015,#120017,#1b0023,#1d0027,#15001b,#0f0014,#130018,#1b0024,#1d0026,#14001a,#0f0014,#130019,#1c0025,#1c0025,#130019,#0f0014,#14001a,#1d0026,#1b0024,#130018,#100014,#15001b,#1d0027,#1b0023,#120017,#100014,#16001d)"></i><i class="m" style="top:309px;height:9px;background:linear-gradient(90deg,#e00048,#e00048,#d20064,#c20089,#b400aa,#a700c5,#9900da,#8200bc,#650094,#4e0072,#380051,#260034,#230031,#2c003e,#290039,#17001e,#0f0013,#15001b,#20002b,#1c0026,#0f0013,#0a000d,#120017,#1e0028,#190021,#0d0011,#0a000d,#140019,#1e0028,#18001f,#0c0010,#0b000e,#15001a,#1e0028,#16001c,#0b000e,#0b000e,#16001c,#1e0028,#15001a,#0a000d,#0c000f,#17001e,#1e0028,#130018,#0a000d,#0d0010,#190020,#1d0027,#120017,#09000c,#0e0012,#1a0022,#1c0025,#100015,#09000c,#0f0013,#1b0024,#1b0024,#0f0013,#09000c,#110015,#1c0026,#1a0022,#0e0012,#09000c,#120017,#1d0027,#190020,#0d0010,#0a000c,#130018)"></i><i style="top:318px;height:7px;background:linear-gradient(90deg,#e00048,#e00048,#d20064,#c20089,#b400aa,#a700c5,#9900da,#8200bc,#650094,#4e0072,#380051,#260034,#230031,#2c003e,#290039,#17001e,#0f0013,#15001b,#20002b,#1c0026,#0f0013,#0a000d,#120017,#1e0028,#190021,#0d0011,#0a000d,#140019,#1e0028,#18001f,#0c0010,#0b000e,#15001a,#1e0028,#16001c,#0b000e,#0b000e,#16001c,#1e0028,#15001a,#0a000d,#0c000f,#17001e,#1e0028,#130018,#0a000d,#0d0010,#190020,#1d0027,#120017,#09000c,#0e0012,#1a0022,#1c0025,#100015,#09000c,#0f0013,#1b0024,#1b0024,#0f0013,#09000c,#110015,#1c0026,#1a0022,#0e0012,#09000c,#120017,#1d0027,#190020,#0d0010,#0a000c,#130018)"></i><i class="m" style="top:318px;height:7px;background:linear-gradient(90deg,#d20063,#d20063,#c50080,#b600a5,#a700c5,#9900da,#8700c2,#6e00a1,#510077,#3e0059,#2c003e,#1a0022,#190021,#260035,#230030,#110015,#08000a,#100014,#1d0028,#1a0022,#0b000e,#050006,#0f0014,#1d0026,#18001e,#09000c,#060007,#110016,#1d0027,#16001c,#08000a,#060008,#130018,#1e0028,#14001a,#070009,#070009,#14001a,#1e0028,#130018,#060008,#08000b,#16001c,#1d0028,#110016,#060007,#0a000c,#18001f,#1d0027,#100014,#050007,#0b000e,#190021,#1c0025,#0e0012,#050006,#0c0010,#1b0024,#1b0023,#0c0010,#050006,#0e0012,#1c0025,#190021,#0b000e,#050007,#100014,#1d0027,#18001f,#0a000c,#060007,#110016)"></i><i style="top:325px;height:9px;background:linear-gradient(90deg,#d20063,#d20063,#c50080,#b600a5,#a700c5,#9900da,#8700c2,#6e00a1,#510077,#3e0059,#2c003e,#1a0022,#190021,#260035,#230030,#110015,#08000a,#100014,#1d0028,#1a0022,#0b000e,#050006,#0f0014,#1d0026,#18001e,#09000c,#060007,#110016,#1d0027,#16001c,#08000a,#060008,#130018,#1e0028,#14001a,#070009,#070009,#14001a,#1e0028,#130018,#060008,#08000b,#16001c,#1d0028,#110016,#060007,#0a000c,#18001f,#1d0027,#100014,#050007,#0b000e,#190021,#1c0025,#0e0012,#050006,#0c0010,#1b0024,#1b0023,#0c0010,#050006,#0e0012,#1c0025,#190021,#0b000e,#050007,#100014,#1d0027,#18001f,#0a000c,#060007,#110016)"></i><i class="m" style="top:325px;height:9px;background:linear-gradient(90deg,#c0008d,#c0008d,#b700a3,#a900c1,#9900da,#8500c0,#6f00a1,#55007c,#3c0057,#2f0043,#21002d,#120017,#120017,#21002c,#1e0028,#0b000e,#020002,#0c000f,#1b0024,#18001f,#08000a,#010002,#0d0011,#1c0025,#16001c,#060008,#020002,#0f0013,#1c0026,#14001a,#050006,#030003,#110015,#1d0027,#130018,#040005,#040005,#130018,#1d0027,#110015,#030003,#050006,#14001a,#1d0026,#0f0013,#020002,#060008,#16001c,#1c0025,#0d0011,#010002,#08000a,#18001f,#1b0023,#0b000e,#010001,#0a000c,#1a0021,#190021,#0a000c,#010001,#0b000f,#1b0024,#18001f,#08000a,#010002,#0d0011,#1c0025,#16001c,#060008,#020002,#0f0013)"></i><i style="top:334px;height:10px;background:linear-gradient(90deg,#c0008d,#c0008d,#b700a3,#a900c1,#9900da,#8500c0,#6f00a1,#55007c,#3c0057,#2f0043,#21002d,#120017,#120017,#21002c,#1e0028,#0b000e,#020002,#0c000f,#1b0024,#18001f,#08000a,#010002,#0d0011,#1c0025,#16001c,#060008,#020002,#0f0013,#1c0026,#14001a,#050006,#030003,#110015,#1d0027,#130018,#040005,#040005,#130018,#1d0027,#110015,#030003,#050006,#14001a,#1d0026,#0f0013,#020002,#060008,#16001c,#1c0025,#0d0011,#010002,#08000a,#18001f,#1b0023,#0b000e,#010001,#0a000c,#1a0021,#190021,#0a000c,#010001,#0b000f,#1b0024,#18001f,#08000a,#010002,#0d0011,#1c0025,#16001c,#060008,#020002,#0f0013)"></i><i class="m" style="top:334px;height:10px;background:linear-gradient(90deg,#b000b4,#b000b4,#a600c6,#9800d9,#8400bf,#6d009f,#55007b,#3e005a,#2d0040,#240031,#190021,#0e0012,#0f0013,#1c0026,#1a0022,#09000c,#010001,#0a000d,#190021,#16001c,#070009,#010001,#0c0010,#1a0022,#15001a,#060007,#010002,#0e0012,#1b0023,#130018,#040005,#020003,#100014,#1b0024,#120016,#030004,#030004,#120016,#1b0024,#100014,#020003,#040005,#130018,#1b0023,#0e0012,#010002,#060007,#15001a,#1a0022,#0c0010,#010001,#070009,#16001c,#190021,#0a000d,#010001,#09000b,#18001f,#18001f,#09000b,#010001,#0b000d,#190021,#16001c,#070009,#010001,#0c0010,#1a0022,#15001a,#060007,#010002,#0e0012)"></i><i style="top:344px;height:8px;background:linear-gradient(90deg,#b000b4,#b000b4,#a600c6,#9800d9,#8400bf,#6d009f,#55007b,#3e005a,#2d0040,#240031,#190021,#0e0012,#0f0013,#1c0026,#1a0022,#09000c,#010001,#0a000d,#190021,#16001c,#070009,#010001,#0c0010,#1a0022,#15001a,#060007,#010002,#0e0012,#1b0023,#130018,#040005,#020003,#100014,#1b0024,#120016,#030004,#030004,#120016,#1b0024,#100014,#020003,#040005,#130018,#1b0023,#0e0012,#010002,#060007,#15001a,#1a0022,#0c0010,#010001,#070009,#16001c,#190021,#0a000d,#010001,#09000b,#18001f,#18001f,#09000b,#010001,#0b000d,#190021,#16001c,#070009,#010001,#0c0010,#1a0022,#15001a,#060007,#010002,#0e0012)"></i><i class="m" style="top:344px;height:8px;background:linear-gradient(90deg,#a500c8,#a500c8,#9a00db,#8500c0,#6f00a2,#57007f,#42005f,#320047,#240031,#1d0026,#15001b,#0d0010,#0e0012,#190021,#17001e,#0a000c,#030003,#0b000e,#17001d,#15001a,#08000a,#030004,#0c0010,#18001e,#140019,#070009,#030004,#0e0012,#18001f,#120017,#060007,#040005,#0f0014,#180020,#110016,#050006,#050006,#110016,#180020,#0f0014,#040005,#060007,#120017,#18001f,#0e0012,#030004,#070009,#140019,#18001e,#0c0010,#030004,#08000a,#15001a,#17001d,#0b000e,#030003,#0a000c,#16001c,#16001c,#09000c,#030003,#0b000e,#17001d,#15001a,#08000a,#030004,#0c0010,#18001e,#140019,#070009,#030004,#0e0012)"></i><i style="top:352px;height:10px;background:linear-gradient(90deg,#a500c8,#a500c8,#9a00db,#8500c0,#6f00a2,#57007f,#42005f,#320047,#240031,#1d0026,#15001b,#0d0010,#0e0012,#190021,#17001e,#0a000c,#030003,#0b000e,#17001d,#15001a,#08000a,#030004,#0c0010,#18001e,#140019,#070009,#030004,#0e0012,#18001f,#120017,#060007,#040005,#0f0014,#180020,#110016,#050006,#050006,#110016,#180020,#0f0014,#040005,#060007,#120017,#18001f,#0e0012,#030004,#070009,#140019,#18001e,#0c0010,#030004,#08000a,#15001a,#17001d,#0b000e,#030003,#0a000c,#16001c,#16001c,#09000c,#030003,#0b000e,#17001d,#15001a,#08000a,#030004,#0c0010,#18001e,#140019,#070009,#030004,#0e0012)"></i><i class="m" style="top:352px;height:10px;background:linear-gradient(90deg,#9800d8,#9800d8,#8500c0,#6b009b,#530079,#3f005c,#320047,#250034,#1b0023,#16001c,#130018,#0d0011,#0e0012,#15001b,#140019,#0b000e,#060008,#0c000f,#140019,#120017,#0a000c,#060008,#0d0010,#140019,#120016,#09000b,#060008,#0e0011,#14001a,#110015,#08000a,#070009,#0f0013,#14001a,#100014,#070009,#070009,#100014,#14001a,#0f0013,#070009,#08000a,#110015,#14001a,#0e0011,#060008,#09000b,#120016,#140019,#0d0010,#060008,#0a000c,#120017,#140019,#0c000f,#060008,#0b000e,#130018,#130018,#0b000e,#060008,#0c000f,#140019,#120017,#0a000c,#060008,#0d0010,#140019,#110016,#09000b,#060008,#0e0011)"></i><i style="top:362px;height:16px;background:linear-gradient(90deg,#9800d8,#9800d8,#8500c0,#6b009b,#530079,#3f005c,#320047,#250034,#1b0023,#16001c,#130018,#0d0011,#0e0012,#15001b,#140019,#0b000e,#060008,#0c000f,#140019,#120017,#0a000c,#060008,#0d0010,#140019,#120016,#09000b,#060008,#0e0011,#14001a,#110015,#08000a,#070009,#0f0013,#14001a,#100014,#070009,#070009,#100014,#14001a,#0f0013,#070009,#08000a,#110015,#14001a,#0e0011,#060008,#09000b,#120016,#140019,#0d0010,#060008,#0a000c,#120017,#140019,#0c000f,#060008,#0b000e,#130018,#130018,#0b000e,#060008,#0c000f,#140019,#120017,#0a000c,#060008,#0d0010,#140019,#110016,#09000b,#060008,#0e0011)"></i><i class="m" style="top:362px;height:16px;background:linear-gradient(90deg,#690099,#690099,#56007d,#3f005c,#310046,#270037,#20002b,#190020,#130019,#120017,#120016,#100014,#100015,#120018,#120017,#0f0013,#0d0010,#0f0013,#120017,#110016,#0e0012,#0d0011,#0f0014,#120017,#110016,#0e0012,#0d0011,#100014,#120017,#110015,#0e0011,#0d0011,#100014,#120017,#100015,#0d0011,#0d0011,#100015,#120017,#100014,#0d0011,#0e0011,#110015,#120017,#100014,#0d0011,#0e0012,#110016,#120017,#0f0014,#0d0011,#0e0012,#110016,#120017,#0f0013,#0d0010,#0f0013,#120016,#120016,#0f0013,#0d0010,#0f0013,#120017,#110016,#0e0012,#0d0011,#0f0014,#120017,#110016,#0e0012,#0d0011,#100014)"></i><i style="top:378px;height:15px;background:linear-gradient(90deg,#690099,#690099,#56007d,#3f005c,#310046,#270037,#20002b,#190020,#130019,#120017,#120016,#100014,#100015,#120018,#120017,#0f0013,#0d0010,#0f0013,#120017,#110016,#0e0012,#0d0011,#0f0014,#120017,#110016,#0e0012,#0d0011,#100014,#120017,#110015,#0e0011,#0d0011,#100014,#120017,#100015,#0d0011,#0d0011,#100015,#120017,#100014,#0d0011,#0e0011,#110015,#120017,#100014,#0d0011,#0e0012,#110016,#120017,#0f0014,#0d0011,#0e0012,#110016,#120017,#0f0013,#0d0010,#0f0013,#120016,#120016,#0f0013,#0d0010,#0f0013,#120017,#110016,#0e0012,#0d0011,#0f0014,#120017,#110016,#0e0012,#0d0011,#100014)"></i><i class="m" style="top:378px;height:15px;background:linear-gradient(90deg,#450065,#450065,#3b0055,#300045,#2a003a,#230031,#1e0028,#18001f,#140019,#130019,#130018,#130018,#130019,#15001a,#15001a,#14001a,#140019,#14001a,#15001b,#15001b,#14001a,#140019,#14001a,#15001b,#15001b,#14001a,#140019,#15001a,#15001b,#15001b,#14001a,#140019,#15001a,#15001b,#15001a,#140019,#140019,#15001a,#15001b,#15001a,#140019,#14001a,#15001b,#15001b,#15001a,#140019,#14001a,#15001b,#15001b,#14001a,#140019,#14001a,#15001b,#15001b,#14001a,#140019,#14001a,#15001b,#15001b,#14001a,#140019,#14001a,#15001b,#15001b,#14001a,#140019,#14001a,#15001b,#15001b,#14001a,#140019,#15001a)"></i><i style="top:393px;height:22px;background:linear-gradient(90deg,#450065,#450065,#3b0055,#300045,#2a003a,#230031,#1e0028,#18001f,#140019,#130019,#130018,#130018,#130019,#15001a,#15001a,#14001a,#140019,#14001a,#15001b,#15001b,#14001a,#140019,#14001a,#15001b,#15001b,#14001a,#140019,#15001a,#15001b,#15001b,#14001a,#140019,#15001a,#15001b,#15001a,#140019,#140019,#15001a,#15001b,#15001a,#140019,#14001a,#15001b,#15001b,#15001a,#140019,#14001a,#15001b,#15001b,#14001a,#140019,#14001a,#15001b,#15001b,#14001a,#140019,#14001a,#15001b,#15001b,#14001a,#140019,#14001a,#15001b,#15001b,#14001a,#140019,#14001a,#15001b,#15001b,#14001a,#140019,#15001a)"></i><i class="m" style="top:393px;height:22px;background:linear-gradient(90deg,#2e0041,#2e0041,#2b003d,#280038,#280037,#270036,#260035,#260034,#260034,#250034,#250034,#250034,#250034,#260034,#260034,#250034,#250034,#260034,#260034,#260034,#250034,#250034,#260034,#260034,#260034,#250034,#250034,#260034,#260034,#260034,#250034,#250034,#260034,#260034,#260034,#250034,#250034,#260034,#260034,#260034,#250034,#250034,#260034,#260034,#260034,#250034,#250034,#260034,#260034,#260034,#250034,#250034,#260034,#260034,#260034,#250034,#250034,#260034,#260034,#250034,#250034,#260034,#260034,#260034,#250034,#250034,#260034,#260034,#260034,#250034,#250034,#260034)"></i><i style="top:415px;height:21px;background:linear-gradient(90deg,#2e0041,#2e0041,#2b003d,#280038,#280037,#270036,#260035,#260034,#260034,#250034,#250034,#250034,#250034,#260034,#260034,#250034,#250034,#260034,#260034,#260034,#250034,#250034,#260034,#260034,#260034,#250034,#250034,#260034,#260034,#260034,#250034,#250034,#260034,#260034,#260034,#250034,#250034,#260034,#260034,#260034,#250034,#250034,#260034,#260034,#260034,#250034,#250034,#260034,#260034,#260034,#250034,#250034,#260034,#260034,#260034,#250034,#250034,#260034,#260034,#250034,#250034,#260034,#260034,#260034,#250034,#250034,#260034,#260034,#260034,#250034,#250034,#260034)"></i><i class="m" style="top:415px;height:13px;background:linear-gradient(90deg,#330049,#330049,#330049,#330049,#330049,#330049,#330049,#330049,#330049,#330049,#330049,#330049,#330049,#330049,#330049,#330049,#330049,#330049,#330049,#330049,#330049,#330049,#330049,#330049,#330049,#330049,#330049,#330049,#330049,#330049,#330049,#330049,#330049,#330049,#330049,#330049,#330049,#330049,#330049,#330049,#330049,#330049,#330049,#330049,#330049,#330049,#330049,#330049,#330049,#330049,#330049,#330049,#330049,#330049,#330049,#330049,#330049,#330049,#330049,#330049,#330049,#330049,#330049,#330049,#330049,#330049,#330049,#330049,#330049,#330049,#330049,#330049)"></i><i style="top:428px;height:8px;background:linear-gradient(90deg,#330049,#330049,#330049,#330049,#330049,#330049,#330049,#330049,#330049,#330049,#330049,#330049,#330049,#330049,#330049,#330049,#330049,#330049,#330049,#330049,#330049,#330049,#330049,#330049,#330049,#330049,#330049,#330049,#330049,#330049,#330049,#330049,#330049,#330049,#330049,#330049,#330049,#330049,#330049,#330049,#330049,#330049,#330049,#330049,#330049,#330049,#330049,#330049,#330049,#330049,#330049,#330049,#330049,#330049,#330049,#330049,#330049,#330049,#330049,#330049,#330049,#330049,#330049,#330049,#330049,#330049,#330049,#330049,#330049,#330049,#330049,#330049)"></i></div></div><div class="hm" style="left:892.1px;top:1356.5px;width:427.2px;height:427.2px"><div class="in" style="filter:blur(1.5px)"><i style="top:-8px;height:48px;background:linear-gradient(90deg,#c90077,#c90077,#c90077,#c90077,#c90077,#c90077,#c90077,#c90077,#c90077,#c90078,#c7007d,#c50080,#c50080,#c50080,#c50080,#c50080,#c50080,#c50081,#c40084,#c30087,#c20089,#c1008a,#c1008a,#c1008a,#c1008a,#c1008a,#c1008a,#c1008a,#c1008a,#c1008a,#c1008a,#c1008a,#c20089,#c20089,#c20088,#c30087,#c30086,#c40084,#c40083,#c50082,#c50081,#c60080,#c6007f,#c6007e,#c7007d,#c7007c,#c7007b,#c8007a,#c80079,#c90078,#c90077,#ca0076,#ca0074,#cb0073,#cc0071,#cc006f,#cd006d,#ce006b,#cf0069,#d00067,#d10065,#d30062,#d4005f,#d6005c,#d70059,#d90055,#db0051,#dd004e,#df0049,#e10045,#e30042,#e30042)"></i><i class="m" style="top:0px;height:40px;background:linear-gradient(90deg,#ab00bd,#ab00bd,#ab00bc,#ac00bc,#ac00bb,#ac00bb,#ac00bb,#ac00bb,#ac00bb,#ac00ba,#ac00ba,#ad00ba,#ad00ba,#ad00ba,#ad00ba,#ad00ba,#ad00ba,#ad00ba,#ad00b9,#ad00b9,#ad00b9,#ad00b9,#ad00b9,#ad00b9,#ad00b9,#ad00b9,#ad00b9,#ad00b9,#ad00b9,#ad00b9,#ad00b9,#ad00b9,#ad00b9,#ad00b9,#ad00b9,#ad00b9,#ad00b9,#ad00b9,#ad00b9,#ad00b9,#ad00ba,#ad00ba,#ad00b9,#ad00b9,#ad00b8,#ae00b7,#ae00b6,#af00b5,#af00b4,#b000b3,#b000b2,#b100b2,#b100b1,#b100b0,#b200b0,#b200af,#b200ae,#b300ae,#b300ad,#b300ac,#b300ac,#b400ab,#b400aa,#b400aa,#b400a9,#b500a9,#b500a8,#b500a8,#b500a7,#b500a7,#b600a6,#b600a6)"></i><i style="top:40px;height:24px;background:linear-gradient(90deg,#ab00bd,#ab00bd,#ab00bc,#ac00bc,#ac00bb,#ac00bb,#ac00bb,#ac00bb,#ac00bb,#ac00ba,#ac00ba,#ad00ba,#ad00ba,#ad00ba,#ad00ba,#ad00ba,#ad00ba,#ad00ba,#ad00b9,#ad00b9,#ad00b9,#ad00b9,#ad00b9,#ad00b9,#ad00b9,#ad00b9,#ad00b9,#ad00b9,#ad00b9,#ad00b9,#ad00b9,#ad00b9,#ad00b9,#ad00b9,#ad00b9,#ad00b9,#ad00b9,#ad00b9,#ad00b9,#ad00b9,#ad00ba,#ad00ba,#ad00b9,#ad00b9,#ad00b8,#ae00b7,#ae00b6,#af00b5,#af00b4,#b000b3,#b000b2,#b100b2,#b100b1,#b100b0,#b200b0,#b200af,#b200ae,#b300ae,#b300ad,#b300ac,#b300ac,#b400ab,#b400aa,#b400aa,#b400a9,#b500a9,#b500a8,#b500a8,#b500a7,#b500a7,#b600a6,#b600a6)"></i><i class="m" style="top:40px;height:24px;background:linear-gradient(90deg,#9b00dc,#9b00dc,#9b00dc,#9b00dc,#9b00dc,#9b00dc,#9b00dc,#9b00dc,#9b00dc,#9b00dc,#9b00dc,#9b00dc,#9b00dc,#9b00dc,#9b00dc,#9b00dc,#9b00dc,#9b00dc,#9b00dc,#9b00dc,#9b00dc,#9b00dc,#9b00dc,#9b00dc,#9b00dc,#9b00dc,#9b00dc,#9b00dc,#9b00dc,#9b00dc,#9b00dc,#9b00dc,#9b00dc,#9b00dc,#9b00dc,#9b00dc,#9b00dc,#9b00dc,#9b00dc,#9b00dc,#9b00dc,#9b00dc,#9b00dc,#9b00dc,#9b00dc,#9b00dc,#9b00dc,#9b00dc,#9b00dc,#9b00dc,#9b00dc,#9b00dc,#9b00dc,#9b00dc,#9b00dc,#9b00dc,#9b00dc,#9b00dc,#9b00dc,#9b00dc,#9b00dc,#9b00dc,#9b00dc,#9b00dc,#9b00dc,#9b00dc,#9b00dc,#9b00dc,#9b00dc,#9b00dc,#9b00dc,#9b00dc)"></i><i style="top:64px;height:27px;background:linear-gradient(90deg,#9b00dc,#9b00dc,#9b00dc,#9b00dc,#9b00dc,#9b00dc,#9b00dc,#9b00dc,#9b00dc,#9b00dc,#9b00dc,#9b00dc,#9b00dc,#9b00dc,#9b00dc,#9b00dc,#9b00dc,#9b00dc,#9b00dc,#9b00dc,#9b00dc,#9b00dc,#9b00dc,#9b00dc,#9b00dc,#9b00dc,#9b00dc,#9b00dc,#9b00dc,#9b00dc,#9b00dc,#9b00dc,#9b00dc,#9b00dc,#9b00dc,#9b00dc,#9b00dc,#9b00dc,#9b00dc,#9b00dc,#9b00dc,#9b00dc,#9b00dc,#9b00dc,#9b00dc,#9b00dc,#9b00dc,#9b00dc,#9b00dc,#9b00dc,#9b00dc,#9b00dc,#9b00dc,#9b00dc,#9b00dc,#9b00dc,#9b00dc,#9b00dc,#9b00dc,#9b00dc,#9b00dc,#9b00dc,#9b00dc,#9b00dc,#9b00dc,#9b00dc,#9b00dc,#9b00dc,#9b00dc,#9b00dc,#9b00dc,#9b00dc)"></i><i class="m" style="top:64px;height:27px;background:linear-gradient(90deg,#9700d7,#9700d7,#9100d0,#8b00c7,#8600c1,#8200bc,#7f00b8,#7c00b4,#7800b0,#7500ab,#7200a6,#7000a3,#7000a3,#6f00a2,#6f00a1,#6e00a1,#6e00a0,#6e00a0,#6e00a0,#6e00a0,#6e00a0,#6e00a0,#6d009f,#6d009e,#6c009d,#6b009c,#6a009a,#690099,#680097,#670096,#670096,#660095,#670095,#670096,#670096,#670096,#670097,#680097,#680097,#680098,#680098,#690098,#690099,#690099,#690099,#69009a,#6a009a,#6a009a,#6a009b,#6a009b,#6a009b,#6b009c,#6b009d,#6c009e,#6d009f,#6e00a1,#6f00a2,#7000a4,#7100a5,#7200a6,#7200a7,#7200a7,#7300a7,#7300a8,#7300a8,#7300a8,#7400a9,#7400a9,#7400a9,#7400aa,#7400aa,#7400aa)"></i><i style="top:91px;height:15px;background:linear-gradient(90deg,#9700d7,#9700d7,#9100d0,#8b00c7,#8600c1,#8200bc,#7f00b8,#7c00b4,#7800b0,#7500ab,#7200a6,#7000a3,#7000a3,#6f00a2,#6f00a1,#6e00a1,#6e00a0,#6e00a0,#6e00a0,#6e00a0,#6e00a0,#6e00a0,#6d009f,#6d009e,#6c009d,#6b009c,#6a009a,#690099,#680097,#670096,#670096,#660095,#670095,#670096,#670096,#670096,#670097,#680097,#680097,#680098,#680098,#690098,#690099,#690099,#690099,#69009a,#6a009a,#6a009a,#6a009b,#6a009b,#6a009b,#6b009c,#6b009d,#6c009e,#6d009f,#6e00a1,#6f00a2,#7000a4,#7100a5,#7200a6,#7200a7,#7200a7,#7300a7,#7300a8,#7300a8,#7300a8,#7400a9,#7400a9,#7400a9,#7400aa,#7400aa,#7400aa)"></i><i class="m" style="top:91px;height:15px;background:linear-gradient(90deg,#7b00b3,#7b00b3,#7700ad,#7100a4,#6b009b,#640092,#5e0089,#5a0083,#57007e,#56007d,#56007d,#56007d,#55007c,#530079,#510076,#4f0073,#4e0072,#4e0072,#4e0072,#4e0072,#4e0072,#4e0071,#4e0071,#4e0071,#4e0071,#4e0071,#4e0071,#4e0071,#4e0071,#4d0071,#4d0071,#4d0071,#4e0071,#4e0072,#4f0073,#500074,#510075,#520077,#530078,#54007a,#54007b,#55007c,#56007d,#57007e,#57007f,#580081,#590082,#5a0083,#5b0084,#5b0085,#5c0086,#5d0087,#5e0088,#5e008a,#5f008b,#60008c,#61008d,#61008e,#62008f,#630090,#640091,#640092,#650094,#660095,#670096,#680097,#680098,#690099,#6a009a,#6b009b,#6b009c,#6b009c)"></i><i style="top:106px;height:13px;background:linear-gradient(90deg,#7b00b3,#7b00b3,#7700ad,#7100a4,#6b009b,#640092,#5e0089,#5a0083,#57007e,#56007d,#56007d,#56007d,#55007c,#530079,#510076,#4f0073,#4e0072,#4e0072,#4e0072,#4e0072,#4e0072,#4e0071,#4e0071,#4e0071,#4e0071,#4e0071,#4e0071,#4e0071,#4e0071,#4d0071,#4d0071,#4d0071,#4e0071,#4e0072,#4f0073,#500074,#510075,#520077,#530078,#54007a,#54007b,#55007c,#56007d,#57007e,#57007f,#580081,#590082,#5a0083,#5b0084,#5b0085,#5c0086,#5d0087,#5e0088,#5e008a,#5f008b,#60008c,#61008d,#61008e,#62008f,#630090,#640091,#640092,#650094,#660095,#670096,#680097,#680098,#690099,#6a009a,#6b009b,#6b009c,#6b009c)"></i><i class="m" style="top:106px;height:13px;background:linear-gradient(90deg,#670097,#670097,#630090,#5d0088,#57007e,#4f0073,#49006a,#460066,#440063,#440063,#440063,#440063,#430062,#430061,#420060,#420060,#420060,#420061,#430062,#440062,#440063,#450064,#460065,#460066,#470068,#480069,#49006a,#4a006b,#4a006c,#4b006e,#4d006f,#4d0071,#4e0071,#4f0073,#500074,#510076,#520078,#530079,#55007b,#56007d,#57007f,#580081,#590082,#5a0084,#5c0085,#5d0087,#5e0089,#5f008a,#60008c,#61008d,#62008f,#630091,#650093,#660095,#670097,#690099,#6a009b,#6c009d,#6d009f,#6e00a1,#6f00a2,#7100a4,#7200a6,#7300a7,#7400a9,#7500ab,#7600ac,#7700ae,#7800af,#7900b1,#7a00b2,#7a00b2)"></i><i style="top:119px;height:15px;background:linear-gradient(90deg,#670097,#670097,#630090,#5d0088,#57007e,#4f0073,#49006a,#460066,#440063,#440063,#440063,#440063,#430062,#430061,#420060,#420060,#420060,#420061,#430062,#440062,#440063,#450064,#460065,#460066,#470068,#480069,#49006a,#4a006b,#4a006c,#4b006e,#4d006f,#4d0071,#4e0071,#4f0073,#500074,#510076,#520078,#530079,#55007b,#56007d,#57007f,#580081,#590082,#5a0084,#5c0085,#5d0087,#5e0089,#5f008a,#60008c,#61008d,#62008f,#630091,#650093,#660095,#670097,#690099,#6a009b,#6c009d,#6d009f,#6e00a1,#6f00a2,#7100a4,#7200a6,#7300a7,#7400a9,#7500ab,#7600ac,#7700ae,#7800af,#7900b1,#7a00b2,#7a00b2)"></i><i class="m" style="top:119px;height:15px;background:linear-gradient(90deg,#530079,#530079,#4f0072,#480069,#420060,#3c0056,#370050,#37004f,#37004f,#37004f,#37004e,#36004e,#36004e,#37004f,#380051,#3a0053,#3b0055,#3c0056,#3d0058,#3e0059,#3f005b,#40005c,#41005e,#420060,#430062,#450064,#460066,#470068,#49006a,#4a006c,#4c006f,#4e0071,#4f0073,#510076,#530079,#55007c,#57007f,#590082,#5b0085,#5d0088,#60008b,#62008e,#640091,#650094,#670097,#69009a,#6b009c,#6d009f,#6f00a2,#7100a5,#7400a9,#7600ac,#7900b0,#7b00b3,#7e00b7,#8000ba,#8300bd,#8500c0,#8800c3,#8a00c6,#8c00c9,#8e00cb,#9000ce,#9200d0,#9400d3,#9500d5,#9700d7,#9900d9,#9a00db,#9c00db,#9c00d9,#9c00d9)"></i><i style="top:134px;height:5px;background:linear-gradient(90deg,#530079,#530079,#4f0072,#480069,#420060,#3c0056,#370050,#37004f,#37004f,#37004f,#37004e,#36004e,#36004e,#37004f,#380051,#3a0053,#3b0055,#3c0056,#3d0058,#3e0059,#3f005b,#40005c,#41005e,#420060,#430062,#450064,#460066,#470068,#49006a,#4a006c,#4c006f,#4e0071,#4f0073,#510076,#530079,#55007c,#57007f,#590082,#5b0085,#5d0088,#60008b,#62008e,#640091,#650094,#670097,#69009a,#6b009c,#6d009f,#6f00a2,#7100a5,#7400a9,#7600ac,#7900b0,#7b00b3,#7e00b7,#8000ba,#8300bd,#8500c0,#8800c3,#8a00c6,#8c00c9,#8e00cb,#9000ce,#9200d0,#9400d3,#9500d5,#9700d7,#9900d9,#9a00db,#9c00db,#9c00d9,#9c00d9)"></i><i class="m" style="top:134px;height:5px;background:linear-gradient(90deg,#4d0070,#4d0070,#49006a,#430061,#3d0059,#37004f,#330049,#330049,#330049,#330049,#330049,#330049,#34004a,#35004c,#36004e,#380050,#390052,#3a0054,#3c0056,#3d0058,#3e005a,#3f005c,#40005e,#42005f,#430061,#440063,#460065,#470068,#49006a,#4a006c,#4c006f,#4e0071,#500074,#520078,#54007b,#57007e,#590082,#5c0085,#5e0089,#60008d,#630090,#650093,#670097,#6a009a,#6c009d,#6e00a0,#7000a4,#7200a7,#7500aa,#7700ae,#7a00b2,#7c00b5,#7f00b8,#8200bc,#8400bf,#8700c3,#8a00c7,#8d00ca,#9000ce,#9200d1,#9500d4,#9700d7,#9900da,#9b00db,#9d00d8,#9e00d6,#a000d3,#a100d0,#a200ce,#a400cb,#a400ca,#a400ca)"></i><i style="top:139px;height:6px;background:linear-gradient(90deg,#4d0070,#4d0070,#49006a,#430061,#3d0059,#37004f,#330049,#330049,#330049,#330049,#330049,#330049,#34004a,#35004c,#36004e,#380050,#390052,#3a0054,#3c0056,#3d0058,#3e005a,#3f005c,#40005e,#42005f,#430061,#440063,#460065,#470068,#49006a,#4a006c,#4c006f,#4e0071,#500074,#520078,#54007b,#57007e,#590082,#5c0085,#5e0089,#60008d,#630090,#650093,#670097,#6a009a,#6c009d,#6e00a0,#7000a4,#7200a7,#7500aa,#7700ae,#7a00b2,#7c00b5,#7f00b8,#8200bc,#8400bf,#8700c3,#8a00c7,#8d00ca,#9000ce,#9200d1,#9500d4,#9700d7,#9900da,#9b00db,#9d00d8,#9e00d6,#a000d3,#a100d0,#a200ce,#a400cb,#a400ca,#a400ca)"></i><i class="m" style="top:139px;height:6px;background:linear-gradient(90deg,#460066,#460066,#420060,#3d0058,#380051,#330048,#2f0043,#2f0043,#2f0043,#300043,#300044,#300044,#310046,#330049,#35004b,#36004d,#37004f,#390052,#3b0055,#3c0057,#3e0059,#3f005b,#40005e,#420060,#430062,#450064,#460066,#480069,#4a006c,#4c006e,#4d0070,#4f0073,#520077,#55007b,#57007f,#5a0083,#5d0087,#60008b,#62008f,#650093,#680097,#6a009b,#6d009f,#6f00a2,#7200a6,#7400a9,#7700ad,#7900b1,#7c00b4,#7e00b7,#8100ba,#8300be,#8600c1,#8900c5,#8c00c9,#8f00cd,#9300d1,#9600d5,#9900d9,#9c00db,#9e00d7,#9f00d3,#a100d0,#a300cc,#a500c9,#a700c5,#a800c2,#aa00bf,#ac00bb,#ad00b8,#ae00b6,#ae00b6)"></i><i style="top:145px;height:6px;background:linear-gradient(90deg,#460066,#460066,#420060,#3d0058,#380051,#330048,#2f0043,#2f0043,#2f0043,#300043,#300044,#300044,#310046,#330049,#35004b,#36004d,#37004f,#390052,#3b0055,#3c0057,#3e0059,#3f005b,#40005e,#420060,#430062,#450064,#460066,#480069,#4a006c,#4c006e,#4d0070,#4f0073,#520077,#55007b,#57007f,#5a0083,#5d0087,#60008b,#62008f,#650093,#680097,#6a009b,#6d009f,#6f00a2,#7200a6,#7400a9,#7700ad,#7900b1,#7c00b4,#7e00b7,#8100ba,#8300be,#8600c1,#8900c5,#8c00c9,#8f00cd,#9300d1,#9600d5,#9900d9,#9c00db,#9e00d7,#9f00d3,#a100d0,#a300cc,#a500c9,#a700c5,#a800c2,#aa00bf,#ac00bb,#ad00b8,#ae00b6,#ae00b6)"></i><i class="m" style="top:145px;height:6px;background:linear-gradient(90deg,#40005d,#40005d,#3c0057,#380050,#330049,#2e0042,#2b003c,#2b003c,#2c003e,#2c003e,#2c003f,#2d0040,#2f0042,#310046,#330049,#34004b,#35004c,#380050,#3a0054,#3c0057,#3d0058,#3f005b,#41005e,#430062,#450064,#450065,#470068,#4a006c,#4d0070,#4f0073,#500075,#530078,#56007d,#590082,#5c0086,#5f008a,#62008e,#650093,#680098,#6b009c,#6e00a0,#7100a5,#7400a9,#7600ad,#7900b1,#7c00b4,#7e00b7,#8000ba,#8300bd,#8600c1,#8800c4,#8b00c8,#8e00cc,#9200d0,#9500d4,#9800d9,#9b00db,#9e00d6,#a000d2,#a200cd,#a500c9,#a700c5,#a900c1,#ab00bc,#ad00b8,#af00b4,#b200b0,#b300ab,#b500a7,#b700a3,#b800a0,#b800a0)"></i><i style="top:151px;height:6px;background:linear-gradient(90deg,#40005d,#40005d,#3c0057,#380050,#330049,#2e0042,#2b003c,#2b003c,#2c003e,#2c003e,#2c003f,#2d0040,#2f0042,#310046,#330049,#34004b,#35004c,#380050,#3a0054,#3c0057,#3d0058,#3f005b,#41005e,#430062,#450064,#450065,#470068,#4a006c,#4d0070,#4f0073,#500075,#530078,#56007d,#590082,#5c0086,#5f008a,#62008e,#650093,#680098,#6b009c,#6e00a0,#7100a5,#7400a9,#7600ad,#7900b1,#7c00b4,#7e00b7,#8000ba,#8300bd,#8600c1,#8800c4,#8b00c8,#8e00cc,#9200d0,#9500d4,#9800d9,#9b00db,#9e00d6,#a000d2,#a200cd,#a500c9,#a700c5,#a900c1,#ab00bc,#ad00b8,#af00b4,#b200b0,#b300ab,#b500a7,#b700a3,#b800a0,#b800a0)"></i><i class="m" style="top:151px;height:6px;background:linear-gradient(90deg,#3b0056,#3b0056,#380050,#330048,#2f0042,#2a003c,#270036,#270037,#29003a,#2a003b,#29003a,#2a003b,#2d003f,#310045,#330048,#320048,#330049,#37004e,#3b0055,#3c0057,#3c0057,#3e0059,#41005e,#450065,#470067,#470067,#480069,#4d0071,#520077,#530079,#54007a,#57007e,#5c0085,#60008b,#62008f,#640092,#680097,#6c009d,#6f00a2,#7200a7,#7500ab,#7800b0,#7b00b4,#7e00b7,#8100ba,#8300be,#8600c1,#8800c4,#8b00c8,#8e00cb,#9100cf,#9400d3,#9700d7,#9b00dc,#9d00d8,#a000d3,#a200ce,#a500c9,#a700c4,#aa00bf,#ac00ba,#af00b5,#b100b1,#b300ac,#b600a6,#b800a1,#ba009c,#bc0097,#be0091,#c1008c,#c20088,#c20088)"></i><i style="top:157px;height:6px;background:linear-gradient(90deg,#3b0056,#3b0056,#380050,#330048,#2f0042,#2a003c,#270036,#270037,#29003a,#2a003b,#29003a,#2a003b,#2d003f,#310045,#330048,#320048,#330049,#37004e,#3b0055,#3c0057,#3c0057,#3e0059,#41005e,#450065,#470067,#470067,#480069,#4d0071,#520077,#530079,#54007a,#57007e,#5c0085,#60008b,#62008f,#640092,#680097,#6c009d,#6f00a2,#7200a7,#7500ab,#7800b0,#7b00b4,#7e00b7,#8100ba,#8300be,#8600c1,#8800c4,#8b00c8,#8e00cb,#9100cf,#9400d3,#9700d7,#9b00dc,#9d00d8,#a000d3,#a200ce,#a500c9,#a700c4,#aa00bf,#ac00ba,#af00b5,#b100b1,#b300ac,#b600a6,#b800a1,#ba009c,#bc0097,#be0091,#c1008c,#c20088,#c20088)"></i><i class="m" style="top:157px;height:6px;background:linear-gradient(90deg,#370050,#370050,#330049,#2e0042,#2b003c,#270036,#230030,#230031,#280037,#290039,#270036,#260035,#2b003c,#310046,#330049,#310045,#300045,#35004d,#3c0056,#3d0059,#3b0056,#3c0056,#41005f,#49006a,#4a006c,#470068,#49006a,#510076,#580080,#590082,#580080,#5b0085,#62008e,#670096,#690099,#6a009b,#6e00a0,#7300a8,#7700ae,#7a00b2,#7d00b5,#8000b9,#8300bd,#8600c1,#8800c4,#8b00c8,#8e00cc,#9100cf,#9400d3,#9700d7,#9a00db,#9d00d8,#9f00d4,#a200cf,#a400ca,#a700c5,#a900c0,#ac00ba,#af00b5,#b200b0,#b400aa,#b600a5,#b9009f,#bb0099,#bd0093,#c0008d,#c20087,#c50081,#c8007b,#ca0074,#cc0070,#cc0070)"></i><i style="top:163px;height:6px;background:linear-gradient(90deg,#370050,#370050,#330049,#2e0042,#2b003c,#270036,#230030,#230031,#280037,#290039,#270036,#260035,#2b003c,#310046,#330049,#310045,#300045,#35004d,#3c0056,#3d0059,#3b0056,#3c0056,#41005f,#49006a,#4a006c,#470068,#49006a,#510076,#580080,#590082,#580080,#5b0085,#62008e,#670096,#690099,#6a009b,#6e00a0,#7300a8,#7700ae,#7a00b2,#7d00b5,#8000b9,#8300bd,#8600c1,#8800c4,#8b00c8,#8e00cc,#9100cf,#9400d3,#9700d7,#9a00db,#9d00d8,#9f00d4,#a200cf,#a400ca,#a700c5,#a900c0,#ac00ba,#af00b5,#b200b0,#b400aa,#b600a5,#b9009f,#bb0099,#bd0093,#c0008d,#c20087,#c50081,#c8007b,#ca0074,#cc0070,#cc0070)"></i><i class="m" style="top:163px;height:6px;background:linear-gradient(90deg,#34004b,#34004b,#300044,#2b003d,#280038,#240032,#1f0029,#20002b,#270036,#290039,#240031,#21002e,#280038,#320047,#34004b,#2f0043,#2d003f,#34004b,#3e005a,#3f005c,#3a0053,#390052,#42005f,#4d0071,#4e0072,#480068,#49006a,#55007c,#5f008b,#5f008b,#5b0085,#5f008a,#680098,#6f00a2,#7000a3,#7000a3,#7400a9,#7a00b3,#7e00b8,#8100ba,#8400be,#8700c3,#8a00c7,#8d00cb,#9100cf,#9400d3,#9700d7,#9a00db,#9d00d9,#9f00d4,#a200cf,#a400ca,#a700c5,#a900c0,#ac00bb,#af00b6,#b100b0,#b400aa,#b600a4,#b9009f,#bb0099,#be0092,#c0008c,#c30086,#c6007f,#c80079,#cb0072,#ce006c,#d10065,#d4005e,#d7005a,#d7005a)"></i><i style="top:169px;height:6px;background:linear-gradient(90deg,#34004b,#34004b,#300044,#2b003d,#280038,#240032,#1f0029,#20002b,#270036,#290039,#240031,#21002e,#280038,#320047,#34004b,#2f0043,#2d003f,#34004b,#3e005a,#3f005c,#3a0053,#390052,#42005f,#4d0071,#4e0072,#480068,#49006a,#55007c,#5f008b,#5f008b,#5b0085,#5f008a,#680098,#6f00a2,#7000a3,#7000a3,#7400a9,#7a00b3,#7e00b8,#8100ba,#8400be,#8700c3,#8a00c7,#8d00cb,#9100cf,#9400d3,#9700d7,#9a00db,#9d00d9,#9f00d4,#a200cf,#a400ca,#a700c5,#a900c0,#ac00bb,#af00b6,#b100b0,#b400aa,#b600a4,#b9009f,#bb0099,#be0092,#c0008c,#c30086,#c6007f,#c80079,#cb0072,#ce006c,#d10065,#d4005e,#d7005a,#d7005a)"></i><i class="m" style="top:169px;height:6px;background:linear-gradient(90deg,#320047,#320047,#2e0040,#290039,#260034,#22002e,#1a0023,#1c0025,#270037,#2a003a,#21002d,#1c0025,#250033,#33004a,#36004e,#2d0040,#29003a,#34004a,#41005f,#420060,#380051,#36004d,#420060,#530079,#530079,#480068,#480068,#590081,#670096,#650094,#5e0089,#61008e,#6e00a1,#7700ae,#7700ad,#7500ab,#7a00b1,#8100bb,#8500c0,#8700c3,#8a00c7,#8e00cc,#9200d0,#9500d5,#9900d9,#9c00da,#9f00d5,#a100d0,#a400cb,#a600c6,#a900c0,#ac00bb,#af00b5,#b200b0,#b400aa,#b700a4,#b9009d,#bc0097,#bf0091,#c1008a,#c40084,#c7007d,#c90077,#cc0070,#cf006a,#d20063,#d5005d,#d80056,#dc0050,#df004a,#e10045,#e10045)"></i><i style="top:175px;height:7px;background:linear-gradient(90deg,#320047,#320047,#2e0040,#290039,#260034,#22002e,#1a0023,#1c0025,#270037,#2a003a,#21002d,#1c0025,#250033,#33004a,#36004e,#2d0040,#29003a,#34004a,#41005f,#420060,#380051,#36004d,#420060,#530079,#530079,#480068,#480068,#590081,#670096,#650094,#5e0089,#61008e,#6e00a1,#7700ae,#7700ad,#7500ab,#7a00b1,#8100bb,#8500c0,#8700c3,#8a00c7,#8e00cc,#9200d0,#9500d5,#9900d9,#9c00da,#9f00d5,#a100d0,#a400cb,#a600c6,#a900c0,#ac00bb,#af00b5,#b200b0,#b400aa,#b700a4,#b9009d,#bc0097,#bf0091,#c1008a,#c40084,#c7007d,#c90077,#cc0070,#cf006a,#d20063,#d5005d,#d80056,#dc0050,#df004a,#e10045,#e10045)"></i><i class="m" style="top:175px;height:7px;background:linear-gradient(90deg,#2f0043,#2f0043,#2b003d,#260035,#240031,#1f002a,#16001c,#18001f,#280038,#2b003c,#1d0027,#15001b,#21002d,#35004c,#380051,#2b003d,#250033,#330049,#470067,#470067,#370050,#330049,#440063,#5b0085,#5a0083,#480069,#470067,#5e0089,#7100a5,#6d00a0,#62008f,#650094,#7600ad,#8100bb,#7f00b8,#7b00b3,#8000b9,#8800c4,#8d00cb,#8f00cd,#9200d1,#9600d6,#9b00db,#9e00d7,#a100d1,#a400cb,#a700c5,#aa00bf,#ad00b9,#b000b3,#b300ac,#b600a5,#b9009f,#bc0098,#bf0091,#c1008a,#c40083,#c7007b,#ca0074,#cd006d,#d00067,#d30061,#d6005a,#da0054,#dd004e,#e00048,#e30042,#e6003c,#e90036,#ec0030,#ee002c,#ee002c)"></i><i style="top:182px;height:7px;background:linear-gradient(90deg,#2f0043,#2f0043,#2b003d,#260035,#240031,#1f002a,#16001c,#18001f,#280038,#2b003c,#1d0027,#15001b,#21002d,#35004c,#380051,#2b003d,#250033,#330049,#470067,#470067,#370050,#330049,#440063,#5b0085,#5a0083,#480069,#470067,#5e0089,#7100a5,#6d00a0,#62008f,#650094,#7600ad,#8100bb,#7f00b8,#7b00b3,#8000b9,#8800c4,#8d00cb,#8f00cd,#9200d1,#9600d6,#9b00db,#9e00d7,#a100d1,#a400cb,#a700c5,#aa00bf,#ad00b9,#b000b3,#b300ac,#b600a5,#b9009f,#bc0098,#bf0091,#c1008a,#c40083,#c7007b,#ca0074,#cd006d,#d00067,#d30061,#d6005a,#da0054,#dd004e,#e00048,#e30042,#e6003c,#e90036,#ec0030,#ee002c,#ee002c)"></i><i class="m" style="top:182px;height:7px;background:linear-gradient(90deg,#2e0041,#2e0041,#2a003a,#250033,#22002f,#1e0028,#130018,#15001b,#280038,#2c003d,#1b0024,#120017,#1f002a,#36004e,#3a0054,#2a003b,#22002f,#330049,#4b006d,#4b006e,#380051,#330049,#480068,#630090,#61008d,#4c006e,#4a006b,#650093,#7b00b3,#7600ac,#680098,#6b009d,#7e00b8,#8a00c6,#8700c2,#8200bc,#8700c2,#9100cf,#9600d6,#9700d7,#9b00dc,#9e00d6,#a200cf,#a500c8,#a800c2,#ac00bb,#b000b3,#b300ac,#b600a4,#b9009d,#bd0096,#c0008e,#c30086,#c6007f,#c90077,#cd006f,#d00067,#d40060,#d70059,#da0052,#de004c,#e10046,#e40040,#e7003a,#ea0034,#ed002e,#ef0029,#f20024,#f3001f,#f5001b,#f60017,#f60017)"></i><i style="top:189px;height:7px;background:linear-gradient(90deg,#2e0041,#2e0041,#2a003a,#250033,#22002f,#1e0028,#130018,#15001b,#280038,#2c003d,#1b0024,#120017,#1f002a,#36004e,#3a0054,#2a003b,#22002f,#330049,#4b006d,#4b006e,#380051,#330049,#480068,#630090,#61008d,#4c006e,#4a006b,#650093,#7b00b3,#7600ac,#680098,#6b009d,#7e00b8,#8a00c6,#8700c2,#8200bc,#8700c2,#9100cf,#9600d6,#9700d7,#9b00dc,#9e00d6,#a200cf,#a500c8,#a800c2,#ac00bb,#b000b3,#b300ac,#b600a4,#b9009d,#bd0096,#c0008e,#c30086,#c6007f,#c90077,#cd006f,#d00067,#d40060,#d70059,#da0052,#de004c,#e10046,#e40040,#e7003a,#ea0034,#ed002e,#ef0029,#f20024,#f3001f,#f5001b,#f60017,#f60017)"></i><i class="m" style="top:189px;height:7px;background:linear-gradient(90deg,#2f0043,#2f0043,#2b003c,#260034,#230030,#1e0029,#140019,#16001c,#290039,#2c003e,#1c0025,#130018,#20002c,#380050,#3b0056,#2c003d,#240032,#36004d,#4f0073,#500075,#3d0058,#380051,#4f0073,#6a009b,#680098,#54007a,#520078,#6e00a0,#8300bd,#7f00b8,#7100a5,#7500ab,#8700c2,#9200d1,#9000cd,#8b00c7,#9000ce,#9a00db,#9e00d6,#9f00d3,#a200ce,#a600c7,#a900c0,#ad00b8,#b100b0,#b500a8,#b800a0,#bc0097,#bf008f,#c30086,#c6007e,#c90077,#cd006f,#d00067,#d4005f,#d80058,#db0051,#df004a,#e20044,#e5003d,#e80037,#eb0031,#ee002c,#f10026,#f20022,#f4001d,#f60018,#f70014,#f90010,#fb000c,#fc0009,#fc0009)"></i><i style="top:196px;height:8px;background:linear-gradient(90deg,#2f0043,#2f0043,#2b003c,#260034,#230030,#1e0029,#140019,#16001c,#290039,#2c003e,#1c0025,#130018,#20002c,#380050,#3b0056,#2c003d,#240032,#36004d,#4f0073,#500075,#3d0058,#380051,#4f0073,#6a009b,#680098,#54007a,#520078,#6e00a0,#8300bd,#7f00b8,#7100a5,#7500ab,#8700c2,#9200d1,#9000cd,#8b00c7,#9000ce,#9a00db,#9e00d6,#9f00d3,#a200ce,#a600c7,#a900c0,#ad00b8,#b100b0,#b500a8,#b800a0,#bc0097,#bf008f,#c30086,#c6007e,#c90077,#cd006f,#d00067,#d4005f,#d80058,#db0051,#df004a,#e20044,#e5003d,#e80037,#eb0031,#ee002c,#f10026,#f20022,#f4001d,#f60018,#f70014,#f90010,#fb000c,#fc0009,#fc0009)"></i><i class="m" style="top:196px;height:8px;background:linear-gradient(90deg,#390053,#390053,#34004a,#2e0041,#2b003c,#260035,#1d0027,#1f002a,#2e0042,#310046,#260034,#20002b,#2c003f,#40005d,#450065,#390053,#35004b,#450064,#5d0088,#60008d,#510077,#4e0071,#630090,#7900b1,#7800af,#680098,#670096,#7c00b5,#8c00c9,#8900c5,#8000ba,#8300be,#9200d0,#9c00db,#9b00db,#9800d8,#9c00d9,#a300cd,#a700c5,#a900c1,#ac00bc,#b000b4,#b300ac,#b700a3,#bb009a,#bf0090,#c30086,#c7007d,#cb0074,#ce006b,#d20063,#d6005c,#d90055,#dd004e,#e00047,#e40040,#e7003a,#ea0034,#ed002e,#f00029,#f20024,#f3001f,#f5001a,#f70016,#f80012,#fa000e,#fb000a,#fd0006,#fe0003,#ff0000,#ff0200,#ff0200)"></i><i style="top:204px;height:6px;background:linear-gradient(90deg,#390053,#390053,#34004a,#2e0041,#2b003c,#260035,#1d0027,#1f002a,#2e0042,#310046,#260034,#20002b,#2c003f,#40005d,#450065,#390053,#35004b,#450064,#5d0088,#60008d,#510077,#4e0071,#630090,#7900b1,#7800af,#680098,#670096,#7c00b5,#8c00c9,#8900c5,#8000ba,#8300be,#9200d0,#9c00db,#9b00db,#9800d8,#9c00d9,#a300cd,#a700c5,#a900c1,#ac00bc,#b000b4,#b300ac,#b700a3,#bb009a,#bf0090,#c30086,#c7007d,#cb0074,#ce006b,#d20063,#d6005c,#d90055,#dd004e,#e00047,#e40040,#e7003a,#ea0034,#ed002e,#f00029,#f20024,#f3001f,#f5001a,#f70016,#f80012,#fa000e,#fb000a,#fd0006,#fe0003,#ff0000,#ff0200,#ff0200)"></i><i class="m" style="top:204px;height:6px;background:linear-gradient(90deg,#450064,#450064,#3e005a,#37004f,#330049,#2f0043,#280038,#2a003a,#35004b,#37004f,#300045,#2e0042,#390052,#4b006e,#510076,#49006a,#460067,#57007e,#6b009c,#6f00a2,#660094,#650093,#7500aa,#8400bf,#8400bf,#7a00b2,#7a00b2,#8800c4,#9400d3,#9200d1,#8c00c9,#9000ce,#9b00dc,#a100d0,#a100d0,#a100d0,#a400c9,#aa00be,#ae00b6,#b100b2,#b400ab,#b700a3,#bb009a,#bf0091,#c30087,#c7007c,#cb0072,#d00068,#d4005f,#d80057,#dc004f,#e00048,#e30042,#e6003b,#e90035,#ec002f,#ef002a,#f10025,#f30020,#f5001b,#f60017,#f80013,#f9000f,#fb000b,#fc0007,#fe0004,#ff0000,#ff0200,#ff0400,#ff0600,#ff0700,#ff0700)"></i><i style="top:210px;height:6px;background:linear-gradient(90deg,#450064,#450064,#3e005a,#37004f,#330049,#2f0043,#280038,#2a003a,#35004b,#37004f,#300045,#2e0042,#390052,#4b006e,#510076,#49006a,#460067,#57007e,#6b009c,#6f00a2,#660094,#650093,#7500aa,#8400bf,#8400bf,#7a00b2,#7a00b2,#8800c4,#9400d3,#9200d1,#8c00c9,#9000ce,#9b00dc,#a100d0,#a100d0,#a100d0,#a400c9,#aa00be,#ae00b6,#b100b2,#b400ab,#b700a3,#bb009a,#bf0091,#c30087,#c7007c,#cb0072,#d00068,#d4005f,#d80057,#dc004f,#e00048,#e30042,#e6003b,#e90035,#ec002f,#ef002a,#f10025,#f30020,#f5001b,#f60017,#f80013,#f9000f,#fb000b,#fc0007,#fe0004,#ff0000,#ff0200,#ff0400,#ff0600,#ff0700,#ff0700)"></i><i class="m" style="top:210px;height:6px;background:linear-gradient(90deg,#530079,#530079,#4a006c,#41005f,#3d0058,#390052,#34004a,#35004c,#3c0057,#3e0059,#3c0056,#3d0058,#470067,#56007e,#5c0087,#590082,#5a0083,#670096,#7600ac,#7b00b3,#7700ae,#7900b0,#8300be,#8e00cb,#8f00cc,#8900c5,#8a00c6,#9400d3,#9c00da,#9c00da,#9a00da,#9d00d9,#a300cd,#a800c3,#a900c0,#aa00be,#ae00b7,#b300ad,#b600a5,#b9009f,#bc0097,#bf008f,#c30086,#c7007c,#cb0071,#d00067,#d5005d,#da0054,#de004b,#e30042,#e6003b,#e90035,#ec002f,#ef0029,#f10024,#f30020,#f5001b,#f60017,#f80013,#f9000f,#fb000b,#fc0007,#fe0004,#ff0000,#ff0200,#ff0400,#ff0600,#ff0800,#ff0a00,#ff0b00,#ff0c00,#ff0c00)"></i><i style="top:216px;height:5px;background:linear-gradient(90deg,#530079,#530079,#4a006c,#41005f,#3d0058,#390052,#34004a,#35004c,#3c0057,#3e0059,#3c0056,#3d0058,#470067,#56007e,#5c0087,#590082,#5a0083,#670096,#7600ac,#7b00b3,#7700ae,#7900b0,#8300be,#8e00cb,#8f00cc,#8900c5,#8a00c6,#9400d3,#9c00da,#9c00da,#9a00da,#9d00d9,#a300cd,#a800c3,#a900c0,#aa00be,#ae00b7,#b300ad,#b600a5,#b9009f,#bc0097,#bf008f,#c30086,#c7007c,#cb0071,#d00067,#d5005d,#da0054,#de004b,#e30042,#e6003b,#e90035,#ec002f,#ef0029,#f10024,#f30020,#f5001b,#f60017,#f80013,#f9000f,#fb000b,#fc0007,#fe0004,#ff0000,#ff0200,#ff0400,#ff0600,#ff0800,#ff0a00,#ff0b00,#ff0c00,#ff0c00)"></i><i class="m" style="top:216px;height:5px;background:linear-gradient(90deg,#62008f,#62008f,#5a0082,#500074,#4a006b,#450064,#40005d,#41005e,#460067,#480069,#49006a,#4b006e,#54007b,#60008c,#660095,#660095,#690099,#7300a8,#7e00b7,#8300bd,#8200bd,#8500c0,#8d00ca,#9500d4,#9600d6,#9400d4,#9600d6,#9d00d9,#a100d0,#a200ce,#a200ce,#a500c9,#aa00bf,#ae00b6,#b100b1,#b300ad,#b600a5,#ba009b,#be0093,#c1008b,#c40083,#c8007b,#cb0072,#d00068,#d5005e,#d90054,#de004b,#e30042,#e70039,#eb0031,#ef002b,#f10025,#f30020,#f5001c,#f60018,#f80014,#f90010,#fa000c,#fc0009,#fd0005,#fe0002,#ff0100,#ff0300,#ff0500,#ff0700,#ff0900,#ff0b00,#ff0d00,#ff0e00,#ff1000,#ff1100,#ff1100)"></i><i style="top:221px;height:4px;background:linear-gradient(90deg,#62008f,#62008f,#5a0082,#500074,#4a006b,#450064,#40005d,#41005e,#460067,#480069,#49006a,#4b006e,#54007b,#60008c,#660095,#660095,#690099,#7300a8,#7e00b7,#8300bd,#8200bd,#8500c0,#8d00ca,#9500d4,#9600d6,#9400d4,#9600d6,#9d00d9,#a100d0,#a200ce,#a200ce,#a500c9,#aa00bf,#ae00b6,#b100b1,#b300ad,#b600a5,#ba009b,#be0093,#c1008b,#c40083,#c8007b,#cb0072,#d00068,#d5005e,#d90054,#de004b,#e30042,#e70039,#eb0031,#ef002b,#f10025,#f30020,#f5001c,#f60018,#f80014,#f90010,#fa000c,#fc0009,#fd0005,#fe0002,#ff0100,#ff0300,#ff0500,#ff0700,#ff0900,#ff0b00,#ff0d00,#ff0e00,#ff1000,#ff1100,#ff1100)"></i><i class="m" style="top:221px;height:4px;background:linear-gradient(90deg,#6f00a2,#6f00a2,#670096,#5e0088,#580080,#520078,#4e0071,#4e0072,#530079,#55007c,#56007d,#590082,#60008d,#6a009a,#6f00a2,#7100a5,#7500aa,#7d00b5,#8500c0,#8900c5,#8b00c7,#8e00cb,#9400d3,#9b00dc,#9d00d9,#9d00d9,#9e00d6,#a200cd,#a600c6,#a800c2,#a900c0,#ac00bb,#b100b2,#b400a9,#b700a3,#ba009d,#bd0094,#c1008b,#c50082,#c8007a,#cb0072,#cf0069,#d30060,#d80057,#dd004e,#e20045,#e6003b,#eb0033,#ef002a,#f20024,#f4001e,#f50019,#f70015,#f90011,#fa000e,#fb000a,#fc0007,#fd0004,#ff0001,#ff0100,#ff0300,#ff0500,#ff0700,#ff0900,#ff0b00,#ff0d00,#ff0e00,#ff1000,#ff1200,#ff1400,#ff1500,#ff1500)"></i><i style="top:225px;height:5px;background:linear-gradient(90deg,#6f00a2,#6f00a2,#670096,#5e0088,#580080,#520078,#4e0071,#4e0072,#530079,#55007c,#56007d,#590082,#60008d,#6a009a,#6f00a2,#7100a5,#7500aa,#7d00b5,#8500c0,#8900c5,#8b00c7,#8e00cb,#9400d3,#9b00dc,#9d00d9,#9d00d9,#9e00d6,#a200cd,#a600c6,#a800c2,#a900c0,#ac00bb,#b100b2,#b400a9,#b700a3,#ba009d,#bd0094,#c1008b,#c50082,#c8007a,#cb0072,#cf0069,#d30060,#d80057,#dd004e,#e20045,#e6003b,#eb0033,#ef002a,#f20024,#f4001e,#f50019,#f70015,#f90011,#fa000e,#fb000a,#fc0007,#fd0004,#ff0001,#ff0100,#ff0300,#ff0500,#ff0700,#ff0900,#ff0b00,#ff0d00,#ff0e00,#ff1000,#ff1200,#ff1400,#ff1500,#ff1500)"></i><i class="m" style="top:225px;height:5px;background:linear-gradient(90deg,#7e00b7,#7e00b7,#7700ae,#6f00a2,#690099,#640092,#60008c,#61008d,#650093,#680097,#690099,#6c009d,#7100a5,#7800af,#7d00b6,#8000ba,#8300be,#8900c5,#8f00cd,#9400d3,#9600d6,#9a00da,#9e00d7,#a100cf,#a400cb,#a500c9,#a700c4,#ab00bd,#ae00b6,#b100b2,#b300ae,#b500a7,#b9009f,#bc0096,#bf008f,#c30087,#c6007e,#ca0074,#ce006b,#d20063,#d6005b,#da0053,#de004b,#e30042,#e70039,#ec0030,#f00028,#f30021,#f5001a,#f80014,#f9000f,#fb000b,#fc0007,#fd0004,#fe0001,#ff0100,#ff0200,#ff0400,#ff0600,#ff0700,#ff0900,#ff0b00,#ff0d00,#ff0e00,#ff1000,#ff1200,#ff1300,#ff1500,#ff1700,#ff1800,#ff1900,#ff1900)"></i><i style="top:230px;height:3px;background:linear-gradient(90deg,#7e00b7,#7e00b7,#7700ae,#6f00a2,#690099,#640092,#60008c,#61008d,#650093,#680097,#690099,#6c009d,#7100a5,#7800af,#7d00b6,#8000ba,#8300be,#8900c5,#8f00cd,#9400d3,#9600d6,#9a00da,#9e00d7,#a100cf,#a400cb,#a500c9,#a700c4,#ab00bd,#ae00b6,#b100b2,#b300ae,#b500a7,#b9009f,#bc0096,#bf008f,#c30087,#c6007e,#ca0074,#ce006b,#d20063,#d6005b,#da0053,#de004b,#e30042,#e70039,#ec0030,#f00028,#f30021,#f5001a,#f80014,#f9000f,#fb000b,#fc0007,#fd0004,#fe0001,#ff0100,#ff0200,#ff0400,#ff0600,#ff0700,#ff0900,#ff0b00,#ff0d00,#ff0e00,#ff1000,#ff1200,#ff1300,#ff1500,#ff1700,#ff1800,#ff1900,#ff1900)"></i><i class="m" style="top:230px;height:3px;background:linear-gradient(90deg,#8400bf,#8400bf,#7f00b8,#7800af,#7300a8,#6e00a1,#6b009c,#6c009e,#7100a4,#7400a9,#7500ab,#7800af,#7c00b5,#8200bc,#8600c1,#8900c6,#8d00ca,#9200d1,#9700d7,#9b00dc,#9d00d7,#a000d2,#a300cc,#a700c5,#a900c1,#ab00bd,#ad00b8,#b100b2,#b400ab,#b600a6,#b800a1,#bb009a,#be0092,#c20089,#c50081,#c80079,#cc0070,#d00066,#d5005e,#d90056,#dd004e,#e10046,#e5003e,#e90035,#ed002d,#f10025,#f4001d,#f70016,#f90010,#fb000b,#fd0006,#fe0003,#ff0000,#ff0200,#ff0400,#ff0500,#ff0700,#ff0800,#ff0a00,#ff0b00,#ff0d00,#ff0e00,#ff1000,#ff1200,#ff1300,#ff1500,#ff1700,#ff1800,#ff1a00,#ff1b00,#ff1d00,#ff1d00)"></i><i style="top:233px;height:3px;background:linear-gradient(90deg,#8400bf,#8400bf,#7f00b8,#7800af,#7300a8,#6e00a1,#6b009c,#6c009e,#7100a4,#7400a9,#7500ab,#7800af,#7c00b5,#8200bc,#8600c1,#8900c6,#8d00ca,#9200d1,#9700d7,#9b00dc,#9d00d7,#a000d2,#a300cc,#a700c5,#a900c1,#ab00bd,#ad00b8,#b100b2,#b400ab,#b600a6,#b800a1,#bb009a,#be0092,#c20089,#c50081,#c80079,#cc0070,#d00066,#d5005e,#d90056,#dd004e,#e10046,#e5003e,#e90035,#ed002d,#f10025,#f4001d,#f70016,#f90010,#fb000b,#fd0006,#fe0003,#ff0000,#ff0200,#ff0400,#ff0500,#ff0700,#ff0800,#ff0a00,#ff0b00,#ff0d00,#ff0e00,#ff1000,#ff1200,#ff1300,#ff1500,#ff1700,#ff1800,#ff1a00,#ff1b00,#ff1d00,#ff1d00)"></i><i class="m" style="top:233px;height:3px;background:linear-gradient(90deg,#8900c4,#8900c4,#8400bf,#7f00b9,#7c00b4,#7800af,#7600ac,#7800ae,#7c00b5,#8000b9,#8200bc,#8400bf,#8800c4,#8c00c9,#9100cf,#9400d3,#9800d8,#9c00da,#9f00d4,#a200ce,#a400ca,#a700c5,#aa00bf,#ad00b9,#b000b4,#b200b0,#b400ab,#b700a4,#b9009e,#bc0098,#be0092,#c1008c,#c40083,#c8007b,#cb0073,#cf006a,#d30061,#d70059,#dc0050,#e00048,#e40040,#e70039,#eb0031,#f00029,#f20022,#f5001a,#f80013,#fa000d,#fc0007,#fe0002,#ff0100,#ff0400,#ff0500,#ff0700,#ff0900,#ff0a00,#ff0b00,#ff0d00,#ff0e00,#ff0f00,#ff1100,#ff1200,#ff1400,#ff1600,#ff1700,#ff1900,#ff1a00,#ff1c00,#ff1d00,#ff1f00,#ff2000,#ff2000)"></i><i style="top:236px;height:2px;background:linear-gradient(90deg,#8900c4,#8900c4,#8400bf,#7f00b9,#7c00b4,#7800af,#7600ac,#7800ae,#7c00b5,#8000b9,#8200bc,#8400bf,#8800c4,#8c00c9,#9100cf,#9400d3,#9800d8,#9c00da,#9f00d4,#a200ce,#a400ca,#a700c5,#aa00bf,#ad00b9,#b000b4,#b200b0,#b400ab,#b700a4,#b9009e,#bc0098,#be0092,#c1008c,#c40083,#c8007b,#cb0073,#cf006a,#d30061,#d70059,#dc0050,#e00048,#e40040,#e70039,#eb0031,#f00029,#f20022,#f5001a,#f80013,#fa000d,#fc0007,#fe0002,#ff0100,#ff0400,#ff0500,#ff0700,#ff0900,#ff0a00,#ff0b00,#ff0d00,#ff0e00,#ff0f00,#ff1100,#ff1200,#ff1400,#ff1600,#ff1700,#ff1900,#ff1a00,#ff1c00,#ff1d00,#ff1f00,#ff2000,#ff2000)"></i><i class="m" style="top:236px;height:2px;background:linear-gradient(90deg,#8b00c7,#8b00c7,#8700c3,#8300be,#8000ba,#7e00b7,#7c00b5,#7e00b8,#8400be,#8800c3,#8a00c7,#8d00cb,#9100cf,#9600d5,#9a00da,#9d00d9,#9f00d3,#a200ce,#a500c8,#a800c2,#aa00be,#ad00b9,#b000b3,#b300ad,#b500a8,#b700a3,#b9009e,#bb0098,#be0092,#c0008c,#c30087,#c60080,#c90078,#cc0070,#d00067,#d40060,#d80057,#dc004f,#e10046,#e5003f,#e80037,#ec0030,#f00028,#f30021,#f5001a,#f80013,#fa000d,#fc0007,#ff0001,#ff0200,#ff0500,#ff0700,#ff0900,#ff0a00,#ff0c00,#ff0d00,#ff0f00,#ff1000,#ff1100,#ff1200,#ff1400,#ff1500,#ff1700,#ff1800,#ff1a00,#ff1b00,#ff1d00,#ff1e00,#ff2000,#ff2100,#ff2200,#ff2200)"></i><i style="top:238px;height:1px;background:linear-gradient(90deg,#8b00c7,#8b00c7,#8700c3,#8300be,#8000ba,#7e00b7,#7c00b5,#7e00b8,#8400be,#8800c3,#8a00c7,#8d00cb,#9100cf,#9600d5,#9a00da,#9d00d9,#9f00d3,#a200ce,#a500c8,#a800c2,#aa00be,#ad00b9,#b000b3,#b300ad,#b500a8,#b700a3,#b9009e,#bb0098,#be0092,#c0008c,#c30087,#c60080,#c90078,#cc0070,#d00067,#d40060,#d80057,#dc004f,#e10046,#e5003f,#e80037,#ec0030,#f00028,#f30021,#f5001a,#f80013,#fa000d,#fc0007,#ff0001,#ff0200,#ff0500,#ff0700,#ff0900,#ff0a00,#ff0c00,#ff0d00,#ff0f00,#ff1000,#ff1100,#ff1200,#ff1400,#ff1500,#ff1700,#ff1800,#ff1a00,#ff1b00,#ff1d00,#ff1e00,#ff2000,#ff2100,#ff2200,#ff2200)"></i><i class="m" style="top:238px;height:1px;background:linear-gradient(90deg,#8c00c8,#8c00c8,#8800c4,#8500c0,#8200bc,#8000ba,#7f00b9,#8200bc,#8700c3,#8c00c9,#8f00cd,#9200d1,#9600d6,#9b00dc,#9e00d7,#a000d1,#a300cc,#a600c6,#a900c1,#ac00bb,#ae00b7,#b100b2,#b300ac,#b600a6,#b800a1,#ba009c,#bc0097,#be0091,#c1008b,#c30086,#c60080,#c80079,#cb0072,#cf0069,#d30062,#d7005a,#db0052,#df0049,#e30041,#e7003a,#eb0032,#ee002b,#f10024,#f4001d,#f70017,#f90010,#fb000a,#fe0004,#ff0100,#ff0400,#ff0700,#ff0900,#ff0a00,#ff0c00,#ff0d00,#ff0f00,#ff1000,#ff1100,#ff1300,#ff1400,#ff1500,#ff1700,#ff1800,#ff1a00,#ff1b00,#ff1d00,#ff1e00,#ff2000,#ff2100,#ff2300,#ff2400,#ff2400)"></i><i style="top:239px;height:1px;background:linear-gradient(90deg,#8c00c8,#8c00c8,#8800c4,#8500c0,#8200bc,#8000ba,#7f00b9,#8200bc,#8700c3,#8c00c9,#8f00cd,#9200d1,#9600d6,#9b00dc,#9e00d7,#a000d1,#a300cc,#a600c6,#a900c1,#ac00bb,#ae00b7,#b100b2,#b300ac,#b600a6,#b800a1,#ba009c,#bc0097,#be0091,#c1008b,#c30086,#c60080,#c80079,#cb0072,#cf0069,#d30062,#d7005a,#db0052,#df0049,#e30041,#e7003a,#eb0032,#ee002b,#f10024,#f4001d,#f70017,#f90010,#fb000a,#fe0004,#ff0100,#ff0400,#ff0700,#ff0900,#ff0a00,#ff0c00,#ff0d00,#ff0f00,#ff1000,#ff1100,#ff1300,#ff1400,#ff1500,#ff1700,#ff1800,#ff1a00,#ff1b00,#ff1d00,#ff1e00,#ff2000,#ff2100,#ff2300,#ff2400,#ff2400)"></i><i class="m" style="top:239px;height:1px;background:linear-gradient(90deg,#8d00ca,#8d00ca,#8a00c6,#8600c2,#8400bf,#8300bd,#8200bc,#8500c0,#8b00c8,#9000ce,#9400d4,#9800d8,#9c00db,#9f00d5,#a200cf,#a400ca,#a700c4,#aa00bf,#ad00b9,#b000b4,#b200af,#b400aa,#b700a4,#b9009e,#bb0099,#bd0095,#bf0090,#c1008a,#c40084,#c6007f,#c80079,#cb0072,#ce006b,#d20063,#d6005c,#da0054,#de004c,#e20044,#e6003c,#ea0035,#ed002d,#f00027,#f30020,#f5001a,#f80013,#fa000d,#fd0007,#ff0001,#ff0300,#ff0600,#ff0800,#ff0a00,#ff0c00,#ff0e00,#ff0f00,#ff1000,#ff1200,#ff1300,#ff1400,#ff1600,#ff1700,#ff1800,#ff1a00,#ff1b00,#ff1d00,#ff1e00,#ff2000,#ff2100,#ff2300,#ff2400,#ff2500,#ff2500)"></i><i style="top:240px;height:2px;background:linear-gradient(90deg,#8d00ca,#8d00ca,#8a00c6,#8600c2,#8400bf,#8300bd,#8200bc,#8500c0,#8b00c8,#9000ce,#9400d4,#9800d8,#9c00db,#9f00d5,#a200cf,#a400ca,#a700c4,#aa00bf,#ad00b9,#b000b4,#b200af,#b400aa,#b700a4,#b9009e,#bb0099,#bd0095,#bf0090,#c1008a,#c40084,#c6007f,#c80079,#cb0072,#ce006b,#d20063,#d6005c,#da0054,#de004c,#e20044,#e6003c,#ea0035,#ed002d,#f00027,#f30020,#f5001a,#f80013,#fa000d,#fd0007,#ff0001,#ff0300,#ff0600,#ff0800,#ff0a00,#ff0c00,#ff0e00,#ff0f00,#ff1000,#ff1200,#ff1300,#ff1400,#ff1600,#ff1700,#ff1800,#ff1a00,#ff1b00,#ff1d00,#ff1e00,#ff2000,#ff2100,#ff2300,#ff2400,#ff2500,#ff2500)"></i><i class="m" style="top:240px;height:2px;background:linear-gradient(90deg,#8e00cc,#8e00cc,#8c00c9,#8a00c6,#8800c4,#8800c3,#8800c4,#8c00c9,#9300d2,#9a00da,#9e00d7,#a100d0,#a400ca,#a700c4,#aa00be,#ad00b9,#b000b4,#b200ae,#b500a8,#b700a3,#b9009d,#bb0098,#be0093,#c0008e,#c20089,#c40084,#c6007f,#c8007a,#ca0075,#cc006f,#cf006a,#d10064,#d5005e,#d80057,#dc0050,#e00048,#e40041,#e70039,#eb0032,#ef002a,#f20024,#f4001e,#f60018,#f80012,#fb000c,#fd0006,#ff0000,#ff0300,#ff0600,#ff0900,#ff0b00,#ff0d00,#ff0f00,#ff1100,#ff1200,#ff1400,#ff1500,#ff1600,#ff1700,#ff1900,#ff1a00,#ff1c00,#ff1d00,#ff1e00,#ff2000,#ff2100,#ff2300,#ff2400,#ff2500,#ff2700,#ff2800,#ff2800)"></i><i style="top:242px;height:2px;background:linear-gradient(90deg,#8e00cc,#8e00cc,#8c00c9,#8a00c6,#8800c4,#8800c3,#8800c4,#8c00c9,#9300d2,#9a00da,#9e00d7,#a100d0,#a400ca,#a700c4,#aa00be,#ad00b9,#b000b4,#b200ae,#b500a8,#b700a3,#b9009d,#bb0098,#be0093,#c0008e,#c20089,#c40084,#c6007f,#c8007a,#ca0075,#cc006f,#cf006a,#d10064,#d5005e,#d80057,#dc0050,#e00048,#e40041,#e70039,#eb0032,#ef002a,#f20024,#f4001e,#f60018,#f80012,#fb000c,#fd0006,#ff0000,#ff0300,#ff0600,#ff0900,#ff0b00,#ff0d00,#ff0f00,#ff1100,#ff1200,#ff1400,#ff1500,#ff1600,#ff1700,#ff1900,#ff1a00,#ff1c00,#ff1d00,#ff1e00,#ff2000,#ff2100,#ff2300,#ff2400,#ff2500,#ff2700,#ff2800,#ff2800)"></i><i class="m" style="top:242px;height:2px;background:linear-gradient(90deg,#8f00cd,#8f00cd,#8e00cb,#8c00c9,#8c00c9,#8c00ca,#8e00cc,#9300d2,#9b00db,#a100d1,#a600c7,#aa00bf,#ad00b9,#b000b2,#b300ac,#b500a7,#b800a1,#ba009b,#bd0095,#bf0090,#c1008a,#c30085,#c50080,#c7007b,#c90077,#cb0072,#cd006e,#cf0069,#d10064,#d40060,#d6005b,#d90056,#dc0050,#df0049,#e30042,#e6003c,#ea0035,#ed002d,#f10027,#f30021,#f5001b,#f70015,#f90010,#fb000a,#fd0005,#ff0000,#ff0400,#ff0700,#ff0a00,#ff0c00,#ff0f00,#ff1000,#ff1200,#ff1400,#ff1500,#ff1700,#ff1800,#ff1900,#ff1b00,#ff1c00,#ff1e00,#ff1f00,#ff2000,#ff2200,#ff2300,#ff2400,#ff2600,#ff2700,#ff2800,#ff2a00,#ff2b00,#ff2b00)"></i><i style="top:244px;height:2px;background:linear-gradient(90deg,#8f00cd,#8f00cd,#8e00cb,#8c00c9,#8c00c9,#8c00ca,#8e00cc,#9300d2,#9b00db,#a100d1,#a600c7,#aa00bf,#ad00b9,#b000b2,#b300ac,#b500a7,#b800a1,#ba009b,#bd0095,#bf0090,#c1008a,#c30085,#c50080,#c7007b,#c90077,#cb0072,#cd006e,#cf0069,#d10064,#d40060,#d6005b,#d90056,#dc0050,#df0049,#e30042,#e6003c,#ea0035,#ed002d,#f10027,#f30021,#f5001b,#f70015,#f90010,#fb000a,#fd0005,#ff0000,#ff0400,#ff0700,#ff0a00,#ff0c00,#ff0f00,#ff1000,#ff1200,#ff1400,#ff1500,#ff1700,#ff1800,#ff1900,#ff1b00,#ff1c00,#ff1e00,#ff1f00,#ff2000,#ff2200,#ff2300,#ff2400,#ff2600,#ff2700,#ff2800,#ff2a00,#ff2b00,#ff2b00)"></i><i class="m" style="top:244px;height:2px;background:linear-gradient(90deg,#9100cf,#9100cf,#9000ce,#8f00cd,#9000ce,#9200d0,#9500d4,#9b00dc,#a100d0,#a800c3,#ae00b7,#b300ae,#b600a6,#b9009f,#bb0099,#be0093,#c0008d,#c20087,#c50081,#c7007b,#ca0076,#cc0071,#ce006c,#d00068,#d20064,#d30060,#d5005c,#d70058,#da0054,#dc0050,#de004b,#e10047,#e30041,#e6003b,#e90035,#ed002f,#f00028,#f20022,#f4001c,#f60017,#f80011,#fa000c,#fc0007,#fe0002,#ff0200,#ff0500,#ff0800,#ff0b00,#ff0d00,#ff1000,#ff1200,#ff1400,#ff1500,#ff1700,#ff1800,#ff1a00,#ff1b00,#ff1d00,#ff1e00,#ff2000,#ff2100,#ff2200,#ff2400,#ff2500,#ff2600,#ff2800,#ff2900,#ff2a00,#ff2b00,#ff2d00,#ff2e00,#ff2e00)"></i><i style="top:246px;height:3px;background:linear-gradient(90deg,#9100cf,#9100cf,#9000ce,#8f00cd,#9000ce,#9200d0,#9500d4,#9b00dc,#a100d0,#a800c3,#ae00b7,#b300ae,#b600a6,#b9009f,#bb0099,#be0093,#c0008d,#c20087,#c50081,#c7007b,#ca0076,#cc0071,#ce006c,#d00068,#d20064,#d30060,#d5005c,#d70058,#da0054,#dc0050,#de004b,#e10047,#e30041,#e6003b,#e90035,#ed002f,#f00028,#f20022,#f4001c,#f60017,#f80011,#fa000c,#fc0007,#fe0002,#ff0200,#ff0500,#ff0800,#ff0b00,#ff0d00,#ff1000,#ff1200,#ff1400,#ff1500,#ff1700,#ff1800,#ff1a00,#ff1b00,#ff1d00,#ff1e00,#ff2000,#ff2100,#ff2200,#ff2400,#ff2500,#ff2600,#ff2800,#ff2900,#ff2a00,#ff2b00,#ff2d00,#ff2e00,#ff2e00)"></i><i class="m" style="top:246px;height:3px;background:linear-gradient(90deg,#9300d2,#9300d2,#9300d2,#9400d3,#9600d6,#9a00da,#9d00d7,#a300cc,#ab00bd,#b200ae,#b9009f,#be0092,#c20089,#c50082,#c7007b,#ca0075,#cc006f,#cf0069,#d20063,#d5005e,#d70059,#da0054,#dc0050,#de004c,#df0049,#e10045,#e30042,#e4003f,#e6003b,#e80038,#ea0034,#ec002f,#ef002b,#f10026,#f30021,#f5001c,#f60017,#f80012,#fa000d,#fc0008,#fe0003,#ff0100,#ff0300,#ff0600,#ff0900,#ff0b00,#ff0e00,#ff1000,#ff1200,#ff1500,#ff1700,#ff1800,#ff1a00,#ff1c00,#ff1d00,#ff1f00,#ff2000,#ff2200,#ff2300,#ff2500,#ff2600,#ff2800,#ff2900,#ff2a00,#ff2b00,#ff2d00,#ff2e00,#ff2f00,#ff3000,#ff3100,#ff3200,#ff3200)"></i><i style="top:249px;height:3px;background:linear-gradient(90deg,#9300d2,#9300d2,#9300d2,#9400d3,#9600d6,#9a00da,#9d00d7,#a300cc,#ab00bd,#b200ae,#b9009f,#be0092,#c20089,#c50082,#c7007b,#ca0075,#cc006f,#cf0069,#d20063,#d5005e,#d70059,#da0054,#dc0050,#de004c,#df0049,#e10045,#e30042,#e4003f,#e6003b,#e80038,#ea0034,#ec002f,#ef002b,#f10026,#f30021,#f5001c,#f60017,#f80012,#fa000d,#fc0008,#fe0003,#ff0100,#ff0300,#ff0600,#ff0900,#ff0b00,#ff0e00,#ff1000,#ff1200,#ff1500,#ff1700,#ff1800,#ff1a00,#ff1c00,#ff1d00,#ff1f00,#ff2000,#ff2200,#ff2300,#ff2500,#ff2600,#ff2800,#ff2900,#ff2a00,#ff2b00,#ff2d00,#ff2e00,#ff2f00,#ff3000,#ff3100,#ff3200,#ff3200)"></i><i class="m" style="top:249px;height:3px;background:linear-gradient(90deg,#9600d5,#9600d5,#9700d7,#9a00da,#9d00d9,#a000d2,#a500c9,#ac00bc,#b400aa,#bb0098,#c30085,#c90076,#cd006d,#d10065,#d4005f,#d70059,#da0053,#dd004d,#e00047,#e30042,#e5003d,#e80039,#e90035,#eb0031,#ed002e,#ee002b,#f00029,#f10026,#f20023,#f30020,#f4001d,#f5001a,#f70016,#f80012,#fa000e,#fb000a,#fd0006,#ff0001,#ff0200,#ff0500,#ff0700,#ff0900,#ff0c00,#ff0e00,#ff1000,#ff1200,#ff1400,#ff1600,#ff1800,#ff1a00,#ff1c00,#ff1d00,#ff1f00,#ff2100,#ff2200,#ff2400,#ff2600,#ff2700,#ff2900,#ff2a00,#ff2c00,#ff2d00,#ff2e00,#ff2f00,#ff3100,#ff3200,#ff3300,#ff3400,#ff3500,#ff3600,#ff3700,#ff3700)"></i><i style="top:252px;height:4px;background:linear-gradient(90deg,#9600d5,#9600d5,#9700d7,#9a00da,#9d00d9,#a000d2,#a500c9,#ac00bc,#b400aa,#bb0098,#c30085,#c90076,#cd006d,#d10065,#d4005f,#d70059,#da0053,#dd004d,#e00047,#e30042,#e5003d,#e80039,#e90035,#eb0031,#ed002e,#ee002b,#f00029,#f10026,#f20023,#f30020,#f4001d,#f5001a,#f70016,#f80012,#fa000e,#fb000a,#fd0006,#ff0001,#ff0200,#ff0500,#ff0700,#ff0900,#ff0c00,#ff0e00,#ff1000,#ff1200,#ff1400,#ff1600,#ff1800,#ff1a00,#ff1c00,#ff1d00,#ff1f00,#ff2100,#ff2200,#ff2400,#ff2600,#ff2700,#ff2900,#ff2a00,#ff2c00,#ff2d00,#ff2e00,#ff2f00,#ff3100,#ff3200,#ff3300,#ff3400,#ff3500,#ff3600,#ff3700,#ff3700)"></i><i class="m" style="top:252px;height:4px;background:linear-gradient(90deg,#9b00db,#9b00db,#9d00d8,#a000d1,#a500c9,#aa00bf,#b000b3,#b700a3,#bf008f,#c8007b,#d10066,#d80056,#dd004d,#e10045,#e5003e,#e80039,#eb0033,#ee002d,#f00027,#f20022,#f4001d,#f5001a,#f70016,#f80014,#f90011,#f9000f,#fa000d,#fb000b,#fc0008,#fd0006,#fe0004,#ff0001,#ff0100,#ff0400,#ff0600,#ff0800,#ff0a00,#ff0d00,#ff0f00,#ff1100,#ff1300,#ff1500,#ff1600,#ff1800,#ff1a00,#ff1b00,#ff1d00,#ff1e00,#ff2000,#ff2100,#ff2300,#ff2500,#ff2600,#ff2800,#ff2a00,#ff2b00,#ff2d00,#ff2e00,#ff3000,#ff3100,#ff3300,#ff3400,#ff3500,#ff3600,#ff3700,#ff3900,#ff3a00,#ff3b00,#ff3b00,#ff3c00,#ff3d00,#ff3d00)"></i><i style="top:256px;height:4px;background:linear-gradient(90deg,#9b00db,#9b00db,#9d00d8,#a000d1,#a500c9,#aa00bf,#b000b3,#b700a3,#bf008f,#c8007b,#d10066,#d80056,#dd004d,#e10045,#e5003e,#e80039,#eb0033,#ee002d,#f00027,#f20022,#f4001d,#f5001a,#f70016,#f80014,#f90011,#f9000f,#fa000d,#fb000b,#fc0008,#fd0006,#fe0004,#ff0001,#ff0100,#ff0400,#ff0600,#ff0800,#ff0a00,#ff0d00,#ff0f00,#ff1100,#ff1300,#ff1500,#ff1600,#ff1800,#ff1a00,#ff1b00,#ff1d00,#ff1e00,#ff2000,#ff2100,#ff2300,#ff2500,#ff2600,#ff2800,#ff2a00,#ff2b00,#ff2d00,#ff2e00,#ff3000,#ff3100,#ff3300,#ff3400,#ff3500,#ff3600,#ff3700,#ff3900,#ff3a00,#ff3b00,#ff3b00,#ff3c00,#ff3d00,#ff3d00)"></i><i class="m" style="top:256px;height:4px;background:linear-gradient(90deg,#a300cd,#a300cd,#a600c6,#ab00bc,#b100b2,#b600a5,#bc0097,#c30086,#cb0072,#d4005e,#de004b,#e6003b,#eb0031,#ef0029,#f20023,#f4001e,#f60018,#f80013,#fa000e,#fc0009,#fd0004,#ff0001,#ff0100,#ff0300,#ff0400,#ff0600,#ff0700,#ff0800,#ff0900,#ff0b00,#ff0c00,#ff0e00,#ff0f00,#ff1100,#ff1300,#ff1500,#ff1700,#ff1900,#ff1b00,#ff1d00,#ff1e00,#ff2000,#ff2100,#ff2300,#ff2400,#ff2500,#ff2600,#ff2700,#ff2900,#ff2a00,#ff2b00,#ff2d00,#ff2e00,#ff3000,#ff3100,#ff3300,#ff3400,#ff3600,#ff3700,#ff3900,#ff3a00,#ff3b00,#ff3c00,#ff3d00,#ff3e00,#ff3f00,#ff4000,#ff4100,#ff4200,#ff4300,#ff4300,#ff4300)"></i><i style="top:260px;height:4px;background:linear-gradient(90deg,#a300cd,#a300cd,#a600c6,#ab00bc,#b100b2,#b600a5,#bc0097,#c30086,#cb0072,#d4005e,#de004b,#e6003b,#eb0031,#ef0029,#f20023,#f4001e,#f60018,#f80013,#fa000e,#fc0009,#fd0004,#ff0001,#ff0100,#ff0300,#ff0400,#ff0600,#ff0700,#ff0800,#ff0900,#ff0b00,#ff0c00,#ff0e00,#ff0f00,#ff1100,#ff1300,#ff1500,#ff1700,#ff1900,#ff1b00,#ff1d00,#ff1e00,#ff2000,#ff2100,#ff2300,#ff2400,#ff2500,#ff2600,#ff2700,#ff2900,#ff2a00,#ff2b00,#ff2d00,#ff2e00,#ff3000,#ff3100,#ff3300,#ff3400,#ff3600,#ff3700,#ff3900,#ff3a00,#ff3b00,#ff3c00,#ff3d00,#ff3e00,#ff3f00,#ff4000,#ff4100,#ff4200,#ff4300,#ff4300,#ff4300)"></i><i class="m" style="top:260px;height:4px;background:linear-gradient(90deg,#b100b0,#b100b0,#b500a8,#ba009c,#bf008f,#c50082,#cb0074,#d20064,#da0053,#e30042,#ec0030,#f20022,#f60019,#f80012,#fb000b,#fd0006,#ff0000,#ff0300,#ff0600,#ff0900,#ff0c00,#ff0e00,#ff1000,#ff1100,#ff1200,#ff1400,#ff1500,#ff1600,#ff1700,#ff1800,#ff1a00,#ff1b00,#ff1d00,#ff1e00,#ff2000,#ff2200,#ff2300,#ff2500,#ff2700,#ff2800,#ff2a00,#ff2b00,#ff2c00,#ff2d00,#ff2e00,#ff2f00,#ff3000,#ff3100,#ff3200,#ff3300,#ff3400,#ff3500,#ff3700,#ff3800,#ff3900,#ff3b00,#ff3c00,#ff3d00,#ff3f00,#ff4000,#ff4100,#ff4200,#ff4300,#ff4400,#ff4500,#ff4600,#ff4700,#ff4700,#ff4800,#ff4900,#ff4900,#ff4900)"></i><i style="top:264px;height:4px;background:linear-gradient(90deg,#b100b0,#b100b0,#b500a8,#ba009c,#bf008f,#c50082,#cb0074,#d20064,#da0053,#e30042,#ec0030,#f20022,#f60019,#f80012,#fb000b,#fd0006,#ff0000,#ff0300,#ff0600,#ff0900,#ff0c00,#ff0e00,#ff1000,#ff1100,#ff1200,#ff1400,#ff1500,#ff1600,#ff1700,#ff1800,#ff1a00,#ff1b00,#ff1d00,#ff1e00,#ff2000,#ff2200,#ff2300,#ff2500,#ff2700,#ff2800,#ff2a00,#ff2b00,#ff2c00,#ff2d00,#ff2e00,#ff2f00,#ff3000,#ff3100,#ff3200,#ff3300,#ff3400,#ff3500,#ff3700,#ff3800,#ff3900,#ff3b00,#ff3c00,#ff3d00,#ff3f00,#ff4000,#ff4100,#ff4200,#ff4300,#ff4400,#ff4500,#ff4600,#ff4700,#ff4700,#ff4800,#ff4900,#ff4900,#ff4900)"></i><i class="m" style="top:264px;height:4px;background:linear-gradient(90deg,#c1008c,#c1008c,#c50082,#ca0075,#cf0068,#d6005c,#dc004f,#e30042,#ea0034,#f10026,#f60017,#fb000b,#fe0002,#ff0300,#ff0700,#ff0b00,#ff0f00,#ff1200,#ff1500,#ff1700,#ff1a00,#ff1c00,#ff1d00,#ff1e00,#ff2000,#ff2100,#ff2200,#ff2300,#ff2400,#ff2500,#ff2700,#ff2800,#ff2900,#ff2b00,#ff2c00,#ff2e00,#ff3000,#ff3100,#ff3200,#ff3400,#ff3500,#ff3600,#ff3700,#ff3800,#ff3900,#ff3a00,#ff3a00,#ff3b00,#ff3c00,#ff3d00,#ff3e00,#ff3f00,#ff4000,#ff4100,#ff4200,#ff4300,#ff4400,#ff4500,#ff4600,#ff4700,#ff4800,#ff4900,#ff4a00,#ff4b00,#ff4c00,#ff4d00,#ff4d00,#ff4e00,#ff4e00,#ff4f00,#ff5000,#ff5000)"></i><i style="top:268px;height:4px;background:linear-gradient(90deg,#c1008c,#c1008c,#c50082,#ca0075,#cf0068,#d6005c,#dc004f,#e30042,#ea0034,#f10026,#f60017,#fb000b,#fe0002,#ff0300,#ff0700,#ff0b00,#ff0f00,#ff1200,#ff1500,#ff1700,#ff1a00,#ff1c00,#ff1d00,#ff1e00,#ff2000,#ff2100,#ff2200,#ff2300,#ff2400,#ff2500,#ff2700,#ff2800,#ff2900,#ff2b00,#ff2c00,#ff2e00,#ff3000,#ff3100,#ff3200,#ff3400,#ff3500,#ff3600,#ff3700,#ff3800,#ff3900,#ff3a00,#ff3a00,#ff3b00,#ff3c00,#ff3d00,#ff3e00,#ff3f00,#ff4000,#ff4100,#ff4200,#ff4300,#ff4400,#ff4500,#ff4600,#ff4700,#ff4800,#ff4900,#ff4a00,#ff4b00,#ff4c00,#ff4d00,#ff4d00,#ff4e00,#ff4e00,#ff4f00,#ff5000,#ff5000)"></i><i class="m" style="top:268px;height:4px;background:linear-gradient(90deg,#d00067,#d00067,#d5005e,#db0051,#e20044,#e80037,#ef002b,#f30020,#f70017,#fb000b,#ff0100,#ff0800,#ff0d00,#ff1200,#ff1600,#ff1a00,#ff1e00,#ff2000,#ff2300,#ff2500,#ff2800,#ff2900,#ff2b00,#ff2c00,#ff2d00,#ff2f00,#ff3000,#ff3000,#ff3100,#ff3200,#ff3400,#ff3500,#ff3600,#ff3700,#ff3900,#ff3b00,#ff3c00,#ff3d00,#ff3e00,#ff3f00,#ff4100,#ff4200,#ff4200,#ff4300,#ff4400,#ff4500,#ff4500,#ff4600,#ff4600,#ff4700,#ff4800,#ff4900,#ff4900,#ff4a00,#ff4b00,#ff4c00,#ff4d00,#ff4d00,#ff4e00,#ff4f00,#ff5000,#ff5100,#ff5100,#ff5200,#ff5300,#ff5400,#ff5400,#ff5500,#ff5500,#ff5600,#ff5700,#ff5600)"></i><i style="top:272px;height:4px;background:linear-gradient(90deg,#d00067,#d00067,#d5005e,#db0051,#e20044,#e80037,#ef002b,#f30020,#f70017,#fb000b,#ff0100,#ff0800,#ff0d00,#ff1200,#ff1600,#ff1a00,#ff1e00,#ff2000,#ff2300,#ff2500,#ff2800,#ff2900,#ff2b00,#ff2c00,#ff2d00,#ff2f00,#ff3000,#ff3000,#ff3100,#ff3200,#ff3400,#ff3500,#ff3600,#ff3700,#ff3900,#ff3b00,#ff3c00,#ff3d00,#ff3e00,#ff3f00,#ff4100,#ff4200,#ff4200,#ff4300,#ff4400,#ff4500,#ff4500,#ff4600,#ff4600,#ff4700,#ff4800,#ff4900,#ff4900,#ff4a00,#ff4b00,#ff4c00,#ff4d00,#ff4d00,#ff4e00,#ff4f00,#ff5000,#ff5100,#ff5100,#ff5200,#ff5300,#ff5400,#ff5400,#ff5500,#ff5500,#ff5600,#ff5700,#ff5600)"></i><i class="m" style="top:272px;height:4px;background:linear-gradient(90deg,#de004b,#de004b,#e30041,#ea0033,#f10026,#f60019,#fa000c,#fe0002,#ff0400,#ff0a00,#ff1100,#ff1800,#ff1d00,#ff2100,#ff2500,#ff2a00,#ff2d00,#ff2f00,#ff3100,#ff3400,#ff3600,#ff3800,#ff3900,#ff3a00,#ff3b00,#ff3d00,#ff3e00,#ff3e00,#ff3f00,#ff4000,#ff4100,#ff4300,#ff4300,#ff4400,#ff4600,#ff4800,#ff4900,#ff4900,#ff4a00,#ff4b00,#ff4d00,#ff4e00,#ff4e00,#ff4e00,#ff4f00,#ff5000,#ff5100,#ff5000,#ff5100,#ff5200,#ff5300,#ff5300,#ff5300,#ff5400,#ff5500,#ff5600,#ff5600,#ff5600,#ff5700,#ff5800,#ff5900,#ff5900,#ff5900,#ff5a00,#ff5b00,#ff5c00,#ff5c00,#ff5c00,#ff5d00,#ff5e00,#ff5e00,#ff5e00)"></i><i style="top:276px;height:3px;background:linear-gradient(90deg,#de004b,#de004b,#e30041,#ea0033,#f10026,#f60019,#fa000c,#fe0002,#ff0400,#ff0a00,#ff1100,#ff1800,#ff1d00,#ff2100,#ff2500,#ff2a00,#ff2d00,#ff2f00,#ff3100,#ff3400,#ff3600,#ff3800,#ff3900,#ff3a00,#ff3b00,#ff3d00,#ff3e00,#ff3e00,#ff3f00,#ff4000,#ff4100,#ff4300,#ff4300,#ff4400,#ff4600,#ff4800,#ff4900,#ff4900,#ff4a00,#ff4b00,#ff4d00,#ff4e00,#ff4e00,#ff4e00,#ff4f00,#ff5000,#ff5100,#ff5000,#ff5100,#ff5200,#ff5300,#ff5300,#ff5300,#ff5400,#ff5500,#ff5600,#ff5600,#ff5600,#ff5700,#ff5800,#ff5900,#ff5900,#ff5900,#ff5a00,#ff5b00,#ff5c00,#ff5c00,#ff5c00,#ff5d00,#ff5e00,#ff5e00,#ff5e00)"></i><i class="m" style="top:276px;height:3px;background:linear-gradient(90deg,#e6003c,#e6003c,#eb0032,#f20024,#f70016,#fc0007,#ff0400,#ff0b00,#ff1100,#ff1700,#ff1f00,#ff2500,#ff2a00,#ff2d00,#ff3100,#ff3600,#ff3a00,#ff3c00,#ff3d00,#ff3f00,#ff4200,#ff4400,#ff4400,#ff4500,#ff4600,#ff4800,#ff4900,#ff4900,#ff4900,#ff4b00,#ff4d00,#ff4e00,#ff4e00,#ff4e00,#ff5000,#ff5200,#ff5300,#ff5300,#ff5300,#ff5500,#ff5700,#ff5700,#ff5700,#ff5700,#ff5800,#ff5900,#ff5900,#ff5900,#ff5900,#ff5a00,#ff5b00,#ff5c00,#ff5b00,#ff5b00,#ff5d00,#ff5e00,#ff5e00,#ff5d00,#ff5e00,#ff5f00,#ff6000,#ff6000,#ff6000,#ff6000,#ff6200,#ff6300,#ff6200,#ff6200,#ff6300,#ff6400,#ff6500,#ff6400)"></i><i style="top:279px;height:6px;background:linear-gradient(90deg,#e6003c,#e6003c,#eb0032,#f20024,#f70016,#fc0007,#ff0400,#ff0b00,#ff1100,#ff1700,#ff1f00,#ff2500,#ff2a00,#ff2d00,#ff3100,#ff3600,#ff3a00,#ff3c00,#ff3d00,#ff3f00,#ff4200,#ff4400,#ff4400,#ff4500,#ff4600,#ff4800,#ff4900,#ff4900,#ff4900,#ff4b00,#ff4d00,#ff4e00,#ff4e00,#ff4e00,#ff5000,#ff5200,#ff5300,#ff5300,#ff5300,#ff5500,#ff5700,#ff5700,#ff5700,#ff5700,#ff5800,#ff5900,#ff5900,#ff5900,#ff5900,#ff5a00,#ff5b00,#ff5c00,#ff5b00,#ff5b00,#ff5d00,#ff5e00,#ff5e00,#ff5d00,#ff5e00,#ff5f00,#ff6000,#ff6000,#ff6000,#ff6000,#ff6200,#ff6300,#ff6200,#ff6200,#ff6300,#ff6400,#ff6500,#ff6400)"></i><i class="m" style="top:279px;height:6px;background:linear-gradient(90deg,#f10026,#f10026,#f5001b,#fb000b,#ff0300,#ff0f00,#ff1b00,#ff2500,#ff2c00,#ff3400,#ff3d00,#ff4400,#ff4800,#ff4900,#ff4d00,#ff5200,#ff5600,#ff5700,#ff5700,#ff5900,#ff5c00,#ff5e00,#ff5e00,#ff5d00,#ff5f00,#ff6200,#ff6300,#ff6200,#ff6200,#ff6300,#ff6600,#ff6700,#ff6600,#ff6500,#ff6700,#ff6900,#ff6a00,#ff6900,#ff6800,#ff6a00,#ff6d00,#ff6d00,#ff6b00,#ff6a00,#ff6c00,#ff6e00,#ff6e00,#ff6c00,#ff6c00,#ff6e00,#ff7000,#ff6f00,#ff6d00,#ff6d00,#ff7000,#ff7100,#ff7000,#ff6f00,#ff6f00,#ff7100,#ff7300,#ff7200,#ff7000,#ff7100,#ff7300,#ff7400,#ff7300,#ff7100,#ff7200,#ff7500,#ff7600,#ff7400)"></i><i style="top:285px;height:7px;background:linear-gradient(90deg,#f10026,#f10026,#f5001b,#fb000b,#ff0300,#ff0f00,#ff1b00,#ff2500,#ff2c00,#ff3400,#ff3d00,#ff4400,#ff4800,#ff4900,#ff4d00,#ff5200,#ff5600,#ff5700,#ff5700,#ff5900,#ff5c00,#ff5e00,#ff5e00,#ff5d00,#ff5f00,#ff6200,#ff6300,#ff6200,#ff6200,#ff6300,#ff6600,#ff6700,#ff6600,#ff6500,#ff6700,#ff6900,#ff6a00,#ff6900,#ff6800,#ff6a00,#ff6d00,#ff6d00,#ff6b00,#ff6a00,#ff6c00,#ff6e00,#ff6e00,#ff6c00,#ff6c00,#ff6e00,#ff7000,#ff6f00,#ff6d00,#ff6d00,#ff7000,#ff7100,#ff7000,#ff6f00,#ff6f00,#ff7100,#ff7300,#ff7200,#ff7000,#ff7100,#ff7300,#ff7400,#ff7300,#ff7100,#ff7200,#ff7500,#ff7600,#ff7400)"></i><i class="m" style="top:285px;height:7px;background:linear-gradient(90deg,#f90011,#f90011,#fd0006,#ff0800,#ff1400,#ff2300,#ff3400,#ff4100,#ff4b00,#ff5500,#ff6200,#ff6b00,#ff6c00,#ff6b00,#ff6e00,#ff7400,#ff7800,#ff7700,#ff7500,#ff7700,#ff7c00,#ff7f00,#ff7d00,#ff7a00,#ff7c00,#ff8100,#ff8300,#ff8000,#ff7e00,#ff8000,#ff8500,#ff8500,#ff8200,#ff7f00,#ff8200,#ff8600,#ff8600,#ff8300,#ff8000,#ff8300,#ff8800,#ff8700,#ff8300,#ff8100,#ff8500,#ff8800,#ff8700,#ff8300,#ff8200,#ff8600,#ff8900,#ff8800,#ff8400,#ff8300,#ff8700,#ff8a00,#ff8800,#ff8400,#ff8400,#ff8900,#ff8b00,#ff8800,#ff8400,#ff8500,#ff8a00,#ff8b00,#ff8800,#ff8500,#ff8600,#ff8b00,#ff8c00,#ff8800)"></i><i style="top:292px;height:10px;background:linear-gradient(90deg,#f90011,#f90011,#fd0006,#ff0800,#ff1400,#ff2300,#ff3400,#ff4100,#ff4b00,#ff5500,#ff6200,#ff6b00,#ff6c00,#ff6b00,#ff6e00,#ff7400,#ff7800,#ff7700,#ff7500,#ff7700,#ff7c00,#ff7f00,#ff7d00,#ff7a00,#ff7c00,#ff8100,#ff8300,#ff8000,#ff7e00,#ff8000,#ff8500,#ff8500,#ff8200,#ff7f00,#ff8200,#ff8600,#ff8600,#ff8300,#ff8000,#ff8300,#ff8800,#ff8700,#ff8300,#ff8100,#ff8500,#ff8800,#ff8700,#ff8300,#ff8200,#ff8600,#ff8900,#ff8800,#ff8400,#ff8300,#ff8700,#ff8a00,#ff8800,#ff8400,#ff8400,#ff8900,#ff8b00,#ff8800,#ff8400,#ff8500,#ff8a00,#ff8b00,#ff8800,#ff8500,#ff8600,#ff8b00,#ff8c00,#ff8800)"></i><i class="m" style="top:292px;height:10px;background:linear-gradient(90deg,#ff0400,#ff0400,#ff0c00,#ff1900,#ff2700,#ff3a00,#ff5000,#ff6200,#ff6b00,#ff7700,#ff8900,#ff9600,#ff9400,#ff8d00,#ff8f00,#ff9a00,#ffa000,#ff9b00,#ff9300,#ff9600,#ffa000,#ffa400,#ff9e00,#ff9600,#ff9a00,#ffa400,#ffa700,#ff9f00,#ff9800,#ff9d00,#ffa600,#ffa800,#ff9f00,#ff9900,#ff9e00,#ffa700,#ffa700,#ff9e00,#ff9900,#ff9f00,#ffa800,#ffa600,#ff9d00,#ff9800,#ffa000,#ffa800,#ffa500,#ff9b00,#ff9800,#ffa000,#ffa800,#ffa300,#ff9a00,#ff9800,#ffa100,#ffa700,#ffa200,#ff9800,#ff9800,#ffa200,#ffa700,#ffa000,#ff9800,#ff9900,#ffa300,#ffa700,#ff9f00,#ff9700,#ff9a00,#ffa400,#ffa600,#ff9e00)"></i><i style="top:302px;height:19px;background:linear-gradient(90deg,#ff0400,#ff0400,#ff0c00,#ff1900,#ff2700,#ff3a00,#ff5000,#ff6200,#ff6b00,#ff7700,#ff8900,#ff9600,#ff9400,#ff8d00,#ff8f00,#ff9a00,#ffa000,#ff9b00,#ff9300,#ff9600,#ffa000,#ffa400,#ff9e00,#ff9600,#ff9a00,#ffa400,#ffa700,#ff9f00,#ff9800,#ff9d00,#ffa600,#ffa800,#ff9f00,#ff9900,#ff9e00,#ffa700,#ffa700,#ff9e00,#ff9900,#ff9f00,#ffa800,#ffa600,#ff9d00,#ff9800,#ffa000,#ffa800,#ffa500,#ff9b00,#ff9800,#ffa000,#ffa800,#ffa300,#ff9a00,#ff9800,#ffa100,#ffa700,#ffa200,#ff9800,#ff9800,#ffa200,#ffa700,#ffa000,#ff9800,#ff9900,#ffa300,#ffa700,#ff9f00,#ff9700,#ff9a00,#ffa400,#ffa600,#ff9e00)"></i><i class="m" style="top:302px;height:19px;background:linear-gradient(90deg,#ff1a00,#ff1a00,#ff2300,#ff3200,#ff4200,#ff5800,#ff7800,#ff8c00,#ff8f00,#ff9a00,#ffb600,#ffca00,#ffc200,#ffb100,#ffb300,#ffc800,#ffd400,#ffc600,#ffb400,#ffb600,#ffcb00,#ffd300,#ffc400,#ffb300,#ffb800,#ffcd00,#ffd300,#ffc100,#ffb200,#ffba00,#ffcf00,#ffd200,#ffbf00,#ffb100,#ffbd00,#ffd000,#ffd000,#ffbd00,#ffb100,#ffbf00,#ffd200,#ffcf00,#ffba00,#ffb100,#ffc000,#ffd100,#ffcb00,#ffb500,#ffaf00,#ffc000,#ffcf00,#ffc500,#ffb000,#ffad00,#ffbf00,#ffcc00,#ffc000,#ffac00,#ffab00,#ffbf00,#ffca00,#ffbc00,#ffa900,#ffac00,#ffc100,#ffc900,#ffba00,#ffa800,#ffae00,#ffc300,#ffc900,#ffb700)"></i><i style="top:321px;height:28px;background:linear-gradient(90deg,#ff1a00,#ff1a00,#ff2300,#ff3200,#ff4200,#ff5800,#ff7800,#ff8c00,#ff8f00,#ff9a00,#ffb600,#ffca00,#ffc200,#ffb100,#ffb300,#ffc800,#ffd400,#ffc600,#ffb400,#ffb600,#ffcb00,#ffd300,#ffc400,#ffb300,#ffb800,#ffcd00,#ffd300,#ffc100,#ffb200,#ffba00,#ffcf00,#ffd200,#ffbf00,#ffb100,#ffbd00,#ffd000,#ffd000,#ffbd00,#ffb100,#ffbf00,#ffd200,#ffcf00,#ffba00,#ffb100,#ffc000,#ffd100,#ffcb00,#ffb500,#ffaf00,#ffc000,#ffcf00,#ffc500,#ffb000,#ffad00,#ffbf00,#ffcc00,#ffc000,#ffac00,#ffab00,#ffbf00,#ffca00,#ffbc00,#ffa900,#ffac00,#ffc100,#ffc900,#ffba00,#ffa800,#ffae00,#ffc300,#ffc900,#ffb700)"></i><i class="m" style="top:321px;height:28px;background:linear-gradient(90deg,#ff4200,#ff4200,#ff4a00,#ff5700,#ff6600,#ff7c00,#ff9700,#ffaa00,#ffb300,#ffbc00,#ffcd00,#ffd800,#ffd500,#ffcd00,#ffce00,#ffd800,#ffde00,#ffd700,#ffce00,#ffcf00,#ffd900,#ffdd00,#ffd600,#ffce00,#ffd000,#ffda00,#ffdd00,#ffd500,#ffcd00,#ffd100,#ffdb00,#ffdd00,#ffd400,#ffcd00,#ffd200,#ffdc00,#ffdc00,#ffd200,#ffcd00,#ffd400,#ffdd00,#ffdb00,#ffd100,#ffcd00,#ffd500,#ffdd00,#ffda00,#ffd000,#ffcd00,#ffd600,#ffdd00,#ffd900,#ffcf00,#ffce00,#ffd700,#ffdd00,#ffd800,#ffce00,#ffce00,#ffd800,#ffdd00,#ffd700,#ffcd00,#ffcf00,#ffd800,#ffdc00,#ffd300,#ffca00,#ffcc00,#ffd600,#ffd800,#ffcf00)"></i><i style="top:349px;height:40px;background:linear-gradient(90deg,#ff4200,#ff4200,#ff4a00,#ff5700,#ff6600,#ff7c00,#ff9700,#ffaa00,#ffb300,#ffbc00,#ffcd00,#ffd800,#ffd500,#ffcd00,#ffce00,#ffd800,#ffde00,#ffd700,#ffce00,#ffcf00,#ffd900,#ffdd00,#ffd600,#ffce00,#ffd000,#ffda00,#ffdd00,#ffd500,#ffcd00,#ffd100,#ffdb00,#ffdd00,#ffd400,#ffcd00,#ffd200,#ffdc00,#ffdc00,#ffd200,#ffcd00,#ffd400,#ffdd00,#ffdb00,#ffd100,#ffcd00,#ffd500,#ffdd00,#ffda00,#ffd000,#ffcd00,#ffd600,#ffdd00,#ffd900,#ffcf00,#ffce00,#ffd700,#ffdd00,#ffd800,#ffce00,#ffce00,#ffd800,#ffdd00,#ffd700,#ffcd00,#ffcf00,#ffd800,#ffdc00,#ffd300,#ffca00,#ffcc00,#ffd600,#ffd800,#ffcf00)"></i><i class="m" style="top:349px;height:40px;background:linear-gradient(90deg,#ff8300,#ff8300,#ff8c00,#ff9700,#ffa300,#ffaf00,#ffba00,#ffc300,#ffca00,#ffcf00,#ffd300,#ffd600,#ffd800,#ffd900,#ffda00,#ffdb00,#ffdb00,#ffdb00,#ffdb00,#ffdb00,#ffdb00,#ffdb00,#ffdb00,#ffdb00,#ffdb00,#ffdb00,#ffdb00,#ffdb00,#ffdb00,#ffdb00,#ffdb00,#ffdb00,#ffdb00,#ffdb00,#ffdb00,#ffdb00,#ffdb00,#ffdb00,#ffdb00,#ffdb00,#ffdb00,#ffdb00,#ffdb00,#ffdb00,#ffdb00,#ffdb00,#ffdb00,#ffdb00,#ffdb00,#ffdb00,#ffdb00,#ffdb00,#ffdb00,#ffdb00,#ffdb00,#ffdb00,#ffdb00,#ffdb00,#ffdb00,#ffdb00,#ffdb00,#ffdb00,#ffdb00,#ffda00,#ffda00,#ffda00,#ffd900,#ffd800,#ffd800,#ffd700,#ffd600,#ffd600)"></i><i style="top:389px;height:26px;background:linear-gradient(90deg,#ff8300,#ff8300,#ff8c00,#ff9700,#ffa300,#ffaf00,#ffba00,#ffc300,#ffca00,#ffcf00,#ffd300,#ffd600,#ffd800,#ffd900,#ffda00,#ffdb00,#ffdb00,#ffdb00,#ffdb00,#ffdb00,#ffdb00,#ffdb00,#ffdb00,#ffdb00,#ffdb00,#ffdb00,#ffdb00,#ffdb00,#ffdb00,#ffdb00,#ffdb00,#ffdb00,#ffdb00,#ffdb00,#ffdb00,#ffdb00,#ffdb00,#ffdb00,#ffdb00,#ffdb00,#ffdb00,#ffdb00,#ffdb00,#ffdb00,#ffdb00,#ffdb00,#ffdb00,#ffdb00,#ffdb00,#ffdb00,#ffdb00,#ffdb00,#ffdb00,#ffdb00,#ffdb00,#ffdb00,#ffdb00,#ffdb00,#ffdb00,#ffdb00,#ffdb00,#ffdb00,#ffdb00,#ffda00,#ffda00,#ffda00,#ffd900,#ffd800,#ffd800,#ffd700,#ffd600,#ffd600)"></i><i class="m" style="top:389px;height:26px;background:linear-gradient(90deg,#ffad00,#ffad00,#ffb200,#ffb800,#ffbf00,#ffc600,#ffcc00,#ffcf00,#ffd100,#ffd100,#ffd100,#ffd200,#ffd200,#ffd200,#ffd200,#ffd200,#ffd200,#ffd200,#ffd200,#ffd200,#ffd200,#ffd200,#ffd200,#ffd200,#ffd200,#ffd200,#ffd200,#ffd200,#ffd200,#ffd200,#ffd200,#ffd200,#ffd200,#ffd200,#ffd200,#ffd200,#ffd200,#ffd200,#ffd200,#ffd200,#ffd200,#ffd200,#ffd200,#ffd200,#ffd200,#ffd200,#ffd200,#ffd200,#ffd200,#ffd200,#ffd200,#ffd200,#ffd200,#ffd200,#ffd200,#ffd200,#ffd200,#ffd200,#ffd200,#ffd200,#ffd200,#ffd200,#ffd200,#ffd200,#ffd200,#ffd200,#ffd200,#ffd200,#ffd200,#ffd200,#ffd200,#ffd200)"></i><i style="top:415px;height:20px;background:linear-gradient(90deg,#ffad00,#ffad00,#ffb200,#ffb800,#ffbf00,#ffc600,#ffcc00,#ffcf00,#ffd100,#ffd100,#ffd100,#ffd200,#ffd200,#ffd200,#ffd200,#ffd200,#ffd200,#ffd200,#ffd200,#ffd200,#ffd200,#ffd200,#ffd200,#ffd200,#ffd200,#ffd200,#ffd200,#ffd200,#ffd200,#ffd200,#ffd200,#ffd200,#ffd200,#ffd200,#ffd200,#ffd200,#ffd200,#ffd200,#ffd200,#ffd200,#ffd200,#ffd200,#ffd200,#ffd200,#ffd200,#ffd200,#ffd200,#ffd200,#ffd200,#ffd200,#ffd200,#ffd200,#ffd200,#ffd200,#ffd200,#ffd200,#ffd200,#ffd200,#ffd200,#ffd200,#ffd200,#ffd200,#ffd200,#ffd200,#ffd200,#ffd200,#ffd200,#ffd200,#ffd200,#ffd200,#ffd200,#ffd200)"></i><i class="m" style="top:415px;height:12px;background:linear-gradient(90deg,#ffae00,#ffae00,#ffb100,#ffb500,#ffb900,#ffbe00,#ffc200,#ffc500,#ffc700,#ffc700,#ffc700,#ffc700,#ffc700,#ffc700,#ffc700,#ffc700,#ffc700,#ffc700,#ffc700,#ffc700,#ffc700,#ffc700,#ffc700,#ffc700,#ffc700,#ffc700,#ffc700,#ffc700,#ffc700,#ffc700,#ffc700,#ffc700,#ffc700,#ffc700,#ffc700,#ffc700,#ffc700,#ffc700,#ffc700,#ffc700,#ffc700,#ffc700,#ffc700,#ffc700,#ffc700,#ffc700,#ffc700,#ffc700,#ffc700,#ffc700,#ffc700,#ffc700,#ffc700,#ffc700,#ffc700,#ffc700,#ffc700,#ffc700,#ffc700,#ffc700,#ffc700,#ffc700,#ffc700,#ffc700,#ffc700,#ffc700,#ffc700,#ffc700,#ffc700,#ffc700,#ffc700,#ffc700)"></i><i style="top:427px;height:8px;background:linear-gradient(90deg,#ffae00,#ffae00,#ffb100,#ffb500,#ffb900,#ffbe00,#ffc200,#ffc500,#ffc700,#ffc700,#ffc700,#ffc700,#ffc700,#ffc700,#ffc700,#ffc700,#ffc700,#ffc700,#ffc700,#ffc700,#ffc700,#ffc700,#ffc700,#ffc700,#ffc700,#ffc700,#ffc700,#ffc700,#ffc700,#ffc700,#ffc700,#ffc700,#ffc700,#ffc700,#ffc700,#ffc700,#ffc700,#ffc700,#ffc700,#ffc700,#ffc700,#ffc700,#ffc700,#ffc700,#ffc700,#ffc700,#ffc700,#ffc700,#ffc700,#ffc700,#ffc700,#ffc700,#ffc700,#ffc700,#ffc700,#ffc700,#ffc700,#ffc700,#ffc700,#ffc700,#ffc700,#ffc700,#ffc700,#ffc700,#ffc700,#ffc700,#ffc700,#ffc700,#ffc700,#ffc700,#ffc700,#ffc700)"></i></div></div><div class="hm" style="left:113.2px;top:2004.2px;width:427.3px;height:428.6px"><div class="in" style="filter:blur(1.5px)"><i style="top:-8px;height:39px;background:linear-gradient(90deg,#9100cf,#9100cf,#9100cf)"></i><i class="m" style="top:0px;height:31px;background:linear-gradient(90deg,#9c00d9,#9c00d9,#9c00d9)"></i><i style="top:31px;height:40px;background:linear-gradient(90deg,#9c00d9,#9c00d9,#9c00d9)"></i><i class="m" style="top:31px;height:40px;background:linear-gradient(90deg,#a100d1,#a100d1,#a100d1)"></i><i style="top:71px;height:40px;background:linear-gradient(90deg,#a100d1,#a100d1,#a100d1)"></i><i class="m" style="top:71px;height:40px;background:linear-gradient(90deg,#aa00bf,#aa00bf,#aa00bf)"></i><i style="top:111px;height:40px;background:linear-gradient(90deg,#aa00bf,#aa00bf,#aa00bf)"></i><i class="m" style="top:111px;height:40px;background:linear-gradient(90deg,#ba009b,#ba009b,#ba009b)"></i><i style="top:151px;height:40px;background:linear-gradient(90deg,#ba009b,#ba009b,#ba009b)"></i><i class="m" style="top:151px;height:40px;background:linear-gradient(90deg,#d30061,#d30061,#d30061)"></i><i style="top:191px;height:40px;background:linear-gradient(90deg,#d30061,#d30061,#d30061)"></i><i class="m" style="top:191px;height:40px;background:linear-gradient(90deg,#ed002e,#ed002e,#ed002e)"></i><i style="top:231px;height:40px;background:linear-gradient(90deg,#ed002e,#ed002e,#ed002e)"></i><i class="m" style="top:231px;height:40px;background:linear-gradient(90deg,#f90010,#f90010,#f90010)"></i><i style="top:271px;height:40px;background:linear-gradient(90deg,#f90010,#f90010,#f90010)"></i><i class="m" style="top:271px;height:40px;background:linear-gradient(90deg,#ff0001,#ff0001,#ff0001)"></i><i style="top:311px;height:40px;background:linear-gradient(90deg,#ff0001,#ff0001,#ff0001)"></i><i class="m" style="top:311px;height:40px;background:linear-gradient(90deg,#fe0002,#fe0002,#fe0002)"></i><i style="top:351px;height:40px;background:linear-gradient(90deg,#fe0002,#fe0002,#fe0002)"></i><i class="m" style="top:351px;height:40px;background:linear-gradient(90deg,#fc0007,#fc0007,#fc0007)"></i><i style="top:391px;height:46px;background:linear-gradient(90deg,#fc0007,#fc0007,#fc0007)"></i><i class="m" style="top:391px;height:38px;background:linear-gradient(90deg,#f90010,#f90010,#f90010)"></i><i style="top:429px;height:8px;background:linear-gradient(90deg,#f90010,#f90010,#f90010)"></i></div></div><div class="hm" style="left:892.1px;top:2004.2px;width:427.2px;height:426.8px"><div class="in" style="filter:blur(1.5px)"><i style="top:-8px;height:47px;background:linear-gradient(90deg,#fc0008,#fd0006,#fe0003,#ff0001,#ff0000,#ff0000,#ff0000,#ff0000,#ff0000,#ff0000,#ff0000,#ff0000,#ff0000,#ff0000,#ff0000,#ff0000,#ff0000,#ff0000,#ff0000,#ff0000,#ff0000,#ff0000,#ff0000,#ff0000,#ff0000,#ff0000,#ff0000,#ff0000)"></i><i class="m" style="top:0px;height:39px;background:linear-gradient(90deg,#ff1100,#ff1100,#ff1000,#ff0f00,#ff0e00,#ff0d00,#ff0c00,#ff0b00,#ff0a00,#ff0900,#ff0700,#ff0600,#ff0600,#ff0600,#ff0600,#ff0600,#ff0600,#ff0500,#ff0400,#ff0300,#ff0300,#ff0300,#ff0300,#ff0300,#ff0300,#ff0300,#ff0300,#ff0300)"></i><i style="top:39px;height:40px;background:linear-gradient(90deg,#ff1100,#ff1100,#ff1000,#ff0f00,#ff0e00,#ff0d00,#ff0c00,#ff0b00,#ff0a00,#ff0900,#ff0700,#ff0600,#ff0600,#ff0600,#ff0600,#ff0600,#ff0600,#ff0500,#ff0400,#ff0300,#ff0300,#ff0300,#ff0300,#ff0300,#ff0300,#ff0300,#ff0300,#ff0300)"></i><i class="m" style="top:39px;height:40px;background:linear-gradient(90deg,#ff2a00,#ff2900,#ff2600,#ff2400,#ff2200,#ff2000,#ff1f00,#ff1d00,#ff1c00,#ff1a00,#ff1800,#ff1700,#ff1600,#ff1600,#ff1500,#ff1400,#ff1400,#ff1200,#ff1000,#ff0e00,#ff0e00,#ff0d00,#ff0d00,#ff0c00,#ff0c00,#ff0b00,#ff0b00,#ff0b00)"></i><i style="top:79px;height:40px;background:linear-gradient(90deg,#ff2a00,#ff2900,#ff2600,#ff2400,#ff2200,#ff2000,#ff1f00,#ff1d00,#ff1c00,#ff1a00,#ff1800,#ff1700,#ff1600,#ff1600,#ff1500,#ff1400,#ff1400,#ff1200,#ff1000,#ff0e00,#ff0e00,#ff0d00,#ff0d00,#ff0c00,#ff0c00,#ff0b00,#ff0b00,#ff0b00)"></i><i class="m" style="top:79px;height:40px;background:linear-gradient(90deg,#ff4800,#ff4600,#ff4200,#ff3f00,#ff3d00,#ff3b00,#ff3a00,#ff3800,#ff3700,#ff3600,#ff3400,#ff3300,#ff3100,#ff3000,#ff2e00,#ff2d00,#ff2b00,#ff2a00,#ff2900,#ff2700,#ff2600,#ff2400,#ff2300,#ff2100,#ff2000,#ff1e00,#ff1c00,#ff1c00)"></i><i style="top:119px;height:40px;background:linear-gradient(90deg,#ff4800,#ff4600,#ff4200,#ff3f00,#ff3d00,#ff3b00,#ff3a00,#ff3800,#ff3700,#ff3600,#ff3400,#ff3300,#ff3100,#ff3000,#ff2e00,#ff2d00,#ff2b00,#ff2a00,#ff2900,#ff2700,#ff2600,#ff2400,#ff2300,#ff2100,#ff2000,#ff1e00,#ff1c00,#ff1c00)"></i><i class="m" style="top:119px;height:40px;background:linear-gradient(90deg,#ff6b00,#ff6900,#ff6600,#ff6300,#ff6100,#ff5f00,#ff5e00,#ff5c00,#ff5b00,#ff5a00,#ff5800,#ff5700,#ff5500,#ff5400,#ff5300,#ff5100,#ff5000,#ff4f00,#ff4d00,#ff4c00,#ff4a00,#ff4900,#ff4800,#ff4600,#ff4500,#ff4400,#ff4200,#ff4100)"></i><i style="top:159px;height:40px;background:linear-gradient(90deg,#ff6b00,#ff6900,#ff6600,#ff6300,#ff6100,#ff5f00,#ff5e00,#ff5c00,#ff5b00,#ff5a00,#ff5800,#ff5700,#ff5500,#ff5400,#ff5300,#ff5100,#ff5000,#ff4f00,#ff4d00,#ff4c00,#ff4a00,#ff4900,#ff4800,#ff4600,#ff4500,#ff4400,#ff4200,#ff4100)"></i><i class="m" style="top:159px;height:40px;background:linear-gradient(90deg,#ff8600,#ff8500,#ff8400,#ff8300,#ff8200,#ff8200,#ff8200,#ff8300,#ff8400,#ff8500,#ff8600,#ff8600,#ff8600,#ff8500,#ff8500,#ff8500,#ff8400,#ff8400,#ff8400,#ff8300,#ff8200,#ff7f00,#ff7c00,#ff7900,#ff7700,#ff7500,#ff7200,#ff7100)"></i><i style="top:199px;height:40px;background:linear-gradient(90deg,#ff8600,#ff8500,#ff8400,#ff8300,#ff8200,#ff8200,#ff8200,#ff8300,#ff8400,#ff8500,#ff8600,#ff8600,#ff8600,#ff8500,#ff8500,#ff8500,#ff8400,#ff8400,#ff8400,#ff8300,#ff8200,#ff7f00,#ff7c00,#ff7900,#ff7700,#ff7500,#ff7200,#ff7100)"></i><i class="m" style="top:199px;height:40px;background:linear-gradient(90deg,#ffa000,#ffa200,#ffa600,#ffa900,#ffac00,#ffaf00,#ffb100,#ffb400,#ffb600,#ffb900,#ffbc00,#ffbf00,#ffc100,#ffc200,#ffc400,#ffc400,#ffc400,#ffc400,#ffc500,#ffc500,#ffc400,#ffc300,#ffc100,#ffbf00,#ffbd00,#ffb900,#ffb400,#ffb100)"></i><i style="top:239px;height:31px;background:linear-gradient(90deg,#ffa000,#ffa200,#ffa600,#ffa900,#ffac00,#ffaf00,#ffb100,#ffb400,#ffb600,#ffb900,#ffbc00,#ffbf00,#ffc100,#ffc200,#ffc400,#ffc400,#ffc400,#ffc400,#ffc500,#ffc500,#ffc400,#ffc300,#ffc100,#ffbf00,#ffbd00,#ffb900,#ffb400,#ffb100)"></i><i class="m" style="top:239px;height:31px;background:linear-gradient(90deg,#ffaf00,#ffb300,#ffb900,#ffbe00,#ffc300,#ffc600,#ffc900,#ffcb00,#ffce00,#ffd000,#ffd300,#ffd500,#ffd700,#ffd900,#ffda00,#ffdb00,#ffdb00,#ffdb00,#ffdb00,#ffdb00,#ffda00,#ffd700,#ffd400,#ffd000,#ffcd00,#ffc900,#ffc400,#ffc200)"></i><i style="top:270px;height:40px;background:linear-gradient(90deg,#ffaf00,#ffb300,#ffb900,#ffbe00,#ffc300,#ffc600,#ffc900,#ffcb00,#ffce00,#ffd000,#ffd300,#ffd500,#ffd700,#ffd900,#ffda00,#ffdb00,#ffdb00,#ffdb00,#ffdb00,#ffdb00,#ffda00,#ffd700,#ffd400,#ffd000,#ffcd00,#ffc900,#ffc400,#ffc200)"></i><i class="m" style="top:270px;height:40px;background:linear-gradient(90deg,#ffc300,#ffc600,#ffcc00,#ffd000,#ffd200,#ffd400,#ffd500,#ffd600,#ffd600,#ffd500,#ffd300,#ffd100,#ffce00,#ffcc00,#ffca00,#ffc800,#ffc600,#ffc400,#ffc200,#ffbf00,#ffbc00,#ffb900,#ffb500,#ffb200,#ffaf00,#ffac00,#ffaa00,#ffa800)"></i><i style="top:310px;height:40px;background:linear-gradient(90deg,#ffc300,#ffc600,#ffcc00,#ffd000,#ffd200,#ffd400,#ffd500,#ffd600,#ffd600,#ffd500,#ffd300,#ffd100,#ffce00,#ffcc00,#ffca00,#ffc800,#ffc600,#ffc400,#ffc200,#ffbf00,#ffbc00,#ffb900,#ffb500,#ffb200,#ffaf00,#ffac00,#ffaa00,#ffa800)"></i><i class="m" style="top:310px;height:40px;background:linear-gradient(90deg,#ffcc00,#ffcd00,#ffd000,#ffd100,#ffd200,#ffd100,#ffce00,#ffcb00,#ffc800,#ffc500,#ffc300,#ffc000,#ffbd00,#ffb900,#ffb500,#ffb100,#ffac00,#ffa800,#ffa400,#ffa000,#ff9d00,#ff9a00,#ff9800,#ff9500,#ff9200,#ff9000,#ff8d00,#ff8b00)"></i><i style="top:350px;height:40px;background:linear-gradient(90deg,#ffcc00,#ffcd00,#ffd000,#ffd100,#ffd200,#ffd100,#ffce00,#ffcb00,#ffc800,#ffc500,#ffc300,#ffc000,#ffbd00,#ffb900,#ffb500,#ffb100,#ffac00,#ffa800,#ffa400,#ffa000,#ff9d00,#ff9a00,#ff9800,#ff9500,#ff9200,#ff9000,#ff8d00,#ff8b00)"></i><i class="m" style="top:350px;height:40px;background:linear-gradient(90deg,#ffd600,#ffd400,#ffd000,#ffcb00,#ffc600,#ffc200,#ffbd00,#ffb900,#ffb500,#ffb100,#ffac00,#ffa800,#ffa400,#ffa000,#ff9c00,#ff9800,#ff9400,#ff8f00,#ff8b00,#ff8700,#ff8400,#ff8100,#ff7f00,#ff7c00,#ff7900,#ff7700,#ff7400,#ff7300)"></i><i style="top:390px;height:45px;background:linear-gradient(90deg,#ffd600,#ffd400,#ffd000,#ffcb00,#ffc600,#ffc200,#ffbd00,#ffb900,#ffb500,#ffb100,#ffac00,#ffa800,#ffa400,#ffa000,#ff9c00,#ff9800,#ff9400,#ff8f00,#ff8b00,#ff8700,#ff8400,#ff8100,#ff7f00,#ff7c00,#ff7900,#ff7700,#ff7400,#ff7300)"></i><i class="m" style="top:390px;height:37px;background:linear-gradient(90deg,#ffcc00,#ffc900,#ffc400,#ffbe00,#ffb900,#ffb300,#ffae00,#ffa800,#ffa300,#ff9f00,#ff9b00,#ff9700,#ff9300,#ff8f00,#ff8b00,#ff8700,#ff8200,#ff7e00,#ff7a00,#ff7600,#ff7300,#ff7000,#ff6e00,#ff6b00,#ff6800,#ff6500,#ff6300,#ff6100)"></i><i style="top:427px;height:8px;background:linear-gradient(90deg,#ffcc00,#ffc900,#ffc400,#ffbe00,#ffb900,#ffb300,#ffae00,#ffa800,#ffa300,#ff9f00,#ff9b00,#ff9700,#ff9300,#ff8f00,#ff8b00,#ff8700,#ff8200,#ff7e00,#ff7a00,#ff7600,#ff7300,#ff7000,#ff6e00,#ff6b00,#ff6800,#ff6500,#ff6300,#ff6100)"></i></div></div><svg width="1489" height="2522" viewBox="0 0 1489 2522" xmlns="http://www.w3.org/2000/svg"><path d="M113.20 507.00v5.2M113.20 79.00v-5.2M123.88 507.00v3.4M123.88 79.00v-3.4M134.56 507.00v3.4M134.56 79.00v-3.4M145.25 507.00v3.4M145.25 79.00v-3.4M155.93 507.00v3.4M155.93 79.00v-3.4M166.61 507.00v3.4M166.61 79.00v-3.4M177.30 507.00v3.4M177.30 79.00v-3.4M187.98 507.00v3.4M187.98 79.00v-3.4M198.66 507.00v3.4M198.66 79.00v-3.4M209.34 507.00v3.4M209.34 79.00v-3.4M220.03 507.00v5.2M220.03 79.00v-5.2M230.71 507.00v3.4M230.71 79.00v-3.4M241.39 507.00v3.4M241.39 79.00v-3.4M252.07 507.00v3.4M252.07 79.00v-3.4M262.75 507.00v3.4M262.75 79.00v-3.4M273.44 507.00v3.4M273.44 79.00v-3.4M284.12 507.00v3.4M284.12 79.00v-3.4M294.80 507.00v3.4M294.80 79.00v-3.4M305.49 507.00v3.4M305.49 79.00v-3.4M316.17 507.00v3.4M316.17 79.00v-3.4M326.85 507.00v5.2M326.85 79.00v-5.2M337.53 507.00v3.4M337.53 79.00v-3.4M348.22 507.00v3.4M348.22 79.00v-3.4M358.90 507.00v3.4M358.90 79.00v-3.4M369.58 507.00v3.4M369.58 79.00v-3.4M380.26 507.00v3.4M380.26 79.00v-3.4M390.94 507.00v3.4M390.94 79.00v-3.4M401.63 507.00v3.4M401.63 79.00v-3.4M412.31 507.00v3.4M412.31 79.00v-3.4M422.99 507.00v3.4M422.99 79.00v-3.4M433.68 507.00v5.2M433.68 79.00v-5.2M444.36 507.00v3.4M444.36 79.00v-3.4M455.04 507.00v3.4M455.04 79.00v-3.4M465.72 507.00v3.4M465.72 79.00v-3.4M476.40 507.00v3.4M476.40 79.00v-3.4M487.09 507.00v3.4M487.09 79.00v-3.4M497.77 507.00v3.4M497.77 79.00v-3.4M508.45 507.00v3.4M508.45 79.00v-3.4M519.13 507.00v3.4M519.13 79.00v-3.4M529.82 507.00v3.4M529.82 79.00v-3.4M540.50 507.00v5.2M540.50 79.00v-5.2M113.20 507.00h-5.5M540.50 507.00h5.5M113.20 478.47h-4.4M540.50 478.47h4.4M113.20 449.93h-4.4M540.50 449.93h4.4M113.20 421.40h-4.4M540.50 421.40h4.4M113.20 392.87h-4.4M540.50 392.87h4.4M113.20 364.33h-5.5M540.50 364.33h5.5M113.20 335.80h-4.4M540.50 335.80h4.4M113.20 307.27h-4.4M540.50 307.27h4.4M113.20 278.73h-4.4M540.50 278.73h4.4M113.20 250.20h-4.4M540.50 250.20h4.4M113.20 221.67h-5.5M540.50 221.67h5.5M113.20 193.13h-4.4M540.50 193.13h4.4M113.20 164.60h-4.4M540.50 164.60h4.4M113.20 136.07h-4.4M540.50 136.07h4.4M113.20 107.53h-4.4M540.50 107.53h4.4M113.20 79.00h-5.5M540.50 79.00h5.5" stroke="#000" stroke-width="2" fill="none"/><rect x="113.20" y="79.00" width="427.30" height="428.00" fill="none" stroke="#000" stroke-width="2.3"/><text x="113.2" y="540.8" font-size="32" text-anchor="middle" fill="#000" >50</text><text x="220.0" y="540.8" font-size="32" text-anchor="middle" fill="#000" >150</text><text x="326.9" y="540.8" font-size="32" text-anchor="middle" fill="#000" >250</text><text x="433.7" y="540.8" font-size="32" text-anchor="middle" fill="#000" >350</text><text x="540.5" y="540.8" font-size="32" text-anchor="middle" fill="#000" >450</text><text x="107.0" y="518.0" font-size="32" text-anchor="end" fill="#000" >200</text><text x="107.0" y="375.3" font-size="32" text-anchor="end" fill="#000" >250</text><text x="107.0" y="232.7" font-size="32" text-anchor="end" fill="#000" >300</text><text x="107.0" y="90.0" font-size="32" text-anchor="end" fill="#000" >350</text><defs><linearGradient id="cba" x1="0" y1="0" x2="0" y2="1"><stop offset="0.000" stop-color="#ffff00"/><stop offset="0.025" stop-color="#fff200"/><stop offset="0.050" stop-color="#ffe600"/><stop offset="0.075" stop-color="#ffd900"/><stop offset="0.100" stop-color="#ffcc00"/><stop offset="0.125" stop-color="#ffc000"/><stop offset="0.150" stop-color="#ffb300"/><stop offset="0.175" stop-color="#ffa600"/><stop offset="0.200" stop-color="#ff9900"/><stop offset="0.225" stop-color="#ff8d00"/><stop offset="0.250" stop-color="#ff8000"/><stop offset="0.275" stop-color="#ff7300"/><stop offset="0.300" stop-color="#ff6600"/><stop offset="0.325" stop-color="#ff5a00"/><stop offset="0.350" stop-color="#ff4d00"/><stop offset="0.375" stop-color="#ff4000"/><stop offset="0.400" stop-color="#ff3300"/><stop offset="0.425" stop-color="#ff2600"/><stop offset="0.450" stop-color="#ff1a00"/><stop offset="0.475" stop-color="#ff0d00"/><stop offset="0.500" stop-color="#ff0000"/><stop offset="0.525" stop-color="#f80014"/><stop offset="0.550" stop-color="#f00028"/><stop offset="0.575" stop-color="#e5003e"/><stop offset="0.600" stop-color="#da0053"/><stop offset="0.625" stop-color="#cf0069"/><stop offset="0.650" stop-color="#c50080"/><stop offset="0.675" stop-color="#bc0098"/><stop offset="0.700" stop-color="#b200af"/><stop offset="0.725" stop-color="#a600c6"/><stop offset="0.750" stop-color="#9b00dc"/><stop offset="0.775" stop-color="#8a00c7"/><stop offset="0.800" stop-color="#7a00b2"/><stop offset="0.825" stop-color="#670097"/><stop offset="0.850" stop-color="#55007b"/><stop offset="0.875" stop-color="#420060"/><stop offset="0.900" stop-color="#330049"/><stop offset="0.925" stop-color="#250033"/><stop offset="0.950" stop-color="#16001c"/><stop offset="0.975" stop-color="#0b000e"/><stop offset="1.000" stop-color="#000000"/></linearGradient></defs><rect x="564.4" y="78.6" width="26.50" height="425.90" fill="url(#cba)"/><text x="598.4" y="516.1" font-size="30" text-anchor="start" fill="#000" >0</text><text x="598.4" y="468.8" font-size="30" text-anchor="start" fill="#000" >2</text><text x="598.4" y="421.4" font-size="30" text-anchor="start" fill="#000" >4</text><text x="598.4" y="374.1" font-size="30" text-anchor="start" fill="#000" >6</text><text x="598.4" y="326.8" font-size="30" text-anchor="start" fill="#000" >8</text><text x="598.4" y="279.4" font-size="30" text-anchor="start" fill="#000" >10</text><text x="598.4" y="232.1" font-size="30" text-anchor="start" fill="#000" >12</text><text x="598.4" y="184.8" font-size="30" text-anchor="start" fill="#000" >14</text><text x="598.4" y="137.4" font-size="30" text-anchor="start" fill="#000" >16</text><text x="598.4" y="90.1" font-size="30" text-anchor="start" fill="#000" >18</text><text x="5.3" y="25.0" font-size="33" text-anchor="start" fill="#000" >(a)</text><path d="M892.10 507.00v5.2M892.10 80.00v-5.2M902.78 507.00v3.4M902.78 80.00v-3.4M913.46 507.00v3.4M913.46 80.00v-3.4M924.14 507.00v3.4M924.14 80.00v-3.4M934.82 507.00v3.4M934.82 80.00v-3.4M945.50 507.00v3.4M945.50 80.00v-3.4M956.18 507.00v3.4M956.18 80.00v-3.4M966.86 507.00v3.4M966.86 80.00v-3.4M977.54 507.00v3.4M977.54 80.00v-3.4M988.22 507.00v3.4M988.22 80.00v-3.4M998.90 507.00v5.2M998.90 80.00v-5.2M1009.58 507.00v3.4M1009.58 80.00v-3.4M1020.26 507.00v3.4M1020.26 80.00v-3.4M1030.94 507.00v3.4M1030.94 80.00v-3.4M1041.62 507.00v3.4M1041.62 80.00v-3.4M1052.30 507.00v3.4M1052.30 80.00v-3.4M1062.98 507.00v3.4M1062.98 80.00v-3.4M1073.66 507.00v3.4M1073.66 80.00v-3.4M1084.34 507.00v3.4M1084.34 80.00v-3.4M1095.02 507.00v3.4M1095.02 80.00v-3.4M1105.70 507.00v5.2M1105.70 80.00v-5.2M1116.38 507.00v3.4M1116.38 80.00v-3.4M1127.06 507.00v3.4M1127.06 80.00v-3.4M1137.74 507.00v3.4M1137.74 80.00v-3.4M1148.42 507.00v3.4M1148.42 80.00v-3.4M1159.10 507.00v3.4M1159.10 80.00v-3.4M1169.78 507.00v3.4M1169.78 80.00v-3.4M1180.46 507.00v3.4M1180.46 80.00v-3.4M1191.14 507.00v3.4M1191.14 80.00v-3.4M1201.82 507.00v3.4M1201.82 80.00v-3.4M1212.50 507.00v5.2M1212.50 80.00v-5.2M1223.18 507.00v3.4M1223.18 80.00v-3.4M1233.86 507.00v3.4M1233.86 80.00v-3.4M1244.54 507.00v3.4M1244.54 80.00v-3.4M1255.22 507.00v3.4M1255.22 80.00v-3.4M1265.90 507.00v3.4M1265.90 80.00v-3.4M1276.58 507.00v3.4M1276.58 80.00v-3.4M1287.26 507.00v3.4M1287.26 80.00v-3.4M1297.94 507.00v3.4M1297.94 80.00v-3.4M1308.62 507.00v3.4M1308.62 80.00v-3.4M1319.30 507.00v5.2M1319.30 80.00v-5.2M892.10 507.00h-5.5M1319.30 507.00h5.5M892.10 478.53h-4.4M1319.30 478.53h4.4M892.10 450.07h-4.4M1319.30 450.07h4.4M892.10 421.60h-4.4M1319.30 421.60h4.4M892.10 393.13h-4.4M1319.30 393.13h4.4M892.10 364.67h-5.5M1319.30 364.67h5.5M892.10 336.20h-4.4M1319.30 336.20h4.4M892.10 307.73h-4.4M1319.30 307.73h4.4M892.10 279.27h-4.4M1319.30 279.27h4.4M892.10 250.80h-4.4M1319.30 250.80h4.4M892.10 222.33h-5.5M1319.30 222.33h5.5M892.10 193.87h-4.4M1319.30 193.87h4.4M892.10 165.40h-4.4M1319.30 165.40h4.4M892.10 136.93h-4.4M1319.30 136.93h4.4M892.10 108.47h-4.4M1319.30 108.47h4.4M892.10 80.00h-5.5M1319.30 80.00h5.5" stroke="#000" stroke-width="2" fill="none"/><rect x="892.10" y="80.00" width="427.20" height="427.00" fill="none" stroke="#000" stroke-width="2.3"/><text x="892.1" y="540.8" font-size="32" text-anchor="middle" fill="#000" >50</text><text x="998.9" y="540.8" font-size="32" text-anchor="middle" fill="#000" >150</text><text x="1105.7" y="540.8" font-size="32" text-anchor="middle" fill="#000" >250</text><text x="1212.5" y="540.8" font-size="32" text-anchor="middle" fill="#000" >350</text><text x="1319.3" y="540.8" font-size="32" text-anchor="middle" fill="#000" >450</text><text x="885.9" y="518.0" font-size="32" text-anchor="end" fill="#000" >200</text><text x="885.9" y="375.7" font-size="32" text-anchor="end" fill="#000" >250</text><text x="885.9" y="233.3" font-size="32" text-anchor="end" fill="#000" >300</text><text x="885.9" y="91.0" font-size="32" text-anchor="end" fill="#000" >350</text><defs><linearGradient id="cbb" x1="0" y1="0" x2="0" y2="1"><stop offset="0.000" stop-color="#ffff00"/><stop offset="0.025" stop-color="#fff200"/><stop offset="0.050" stop-color="#ffe600"/><stop offset="0.075" stop-color="#ffd900"/><stop offset="0.100" stop-color="#ffcc00"/><stop offset="0.125" stop-color="#ffc000"/><stop offset="0.150" stop-color="#ffb300"/><stop offset="0.175" stop-color="#ffa600"/><stop offset="0.200" stop-color="#ff9900"/><stop offset="0.225" stop-color="#ff8d00"/><stop offset="0.250" stop-color="#ff8000"/><stop offset="0.275" stop-color="#ff7300"/><stop offset="0.300" stop-color="#ff6600"/><stop offset="0.325" stop-color="#ff5a00"/><stop offset="0.350" stop-color="#ff4d00"/><stop offset="0.375" stop-color="#ff4000"/><stop offset="0.400" stop-color="#ff3300"/><stop offset="0.425" stop-color="#ff2600"/><stop offset="0.450" stop-color="#ff1a00"/><stop offset="0.475" stop-color="#ff0d00"/><stop offset="0.500" stop-color="#ff0000"/><stop offset="0.525" stop-color="#f80014"/><stop offset="0.550" stop-color="#f00028"/><stop offset="0.575" stop-color="#e5003e"/><stop offset="0.600" stop-color="#da0053"/><stop offset="0.625" stop-color="#cf0069"/><stop offset="0.650" stop-color="#c50080"/><stop offset="0.675" stop-color="#bc0098"/><stop offset="0.700" stop-color="#b200af"/><stop offset="0.725" stop-color="#a600c6"/><stop offset="0.750" stop-color="#9b00dc"/><stop offset="0.775" stop-color="#8a00c7"/><stop offset="0.800" stop-color="#7a00b2"/><stop offset="0.825" stop-color="#670097"/><stop offset="0.850" stop-color="#55007b"/><stop offset="0.875" stop-color="#420060"/><stop offset="0.900" stop-color="#330049"/><stop offset="0.925" stop-color="#250033"/><stop offset="0.950" stop-color="#16001c"/><stop offset="0.975" stop-color="#0b000e"/><stop offset="1.000" stop-color="#000000"/></linearGradient></defs><rect x="1340.4" y="78.6" width="26.00" height="425.90" fill="url(#cbb)"/><text x="1373.9" y="516.1" font-size="30" text-anchor="start" fill="#000" >0</text><text x="1373.9" y="473.5" font-size="30" text-anchor="start" fill="#000" >10</text><text x="1373.9" y="430.9" font-size="30" text-anchor="start" fill="#000" >20</text><text x="1373.9" y="388.3" font-size="30" text-anchor="start" fill="#000" >30</text><text x="1373.9" y="345.7" font-size="30" text-anchor="start" fill="#000" >40</text><text x="1373.9" y="303.1" font-size="30" text-anchor="start" fill="#000" >50</text><text x="1373.9" y="260.5" font-size="30" text-anchor="start" fill="#000" >60</text><text x="1373.9" y="217.9" font-size="30" text-anchor="start" fill="#000" >70</text><text x="1373.9" y="175.3" font-size="30" text-anchor="start" fill="#000" >80</text><text x="1373.9" y="132.7" font-size="30" text-anchor="start" fill="#000" >90</text><text x="1373.9" y="90.1" font-size="30" text-anchor="start" fill="#000" >100</text><text x="783.0" y="26.0" font-size="33" text-anchor="start" fill="#000" >(b)</text><path d="M113.20 1143.00v5.2M113.20 716.00v-5.2M123.88 1143.00v3.4M123.88 716.00v-3.4M134.56 1143.00v3.4M134.56 716.00v-3.4M145.25 1143.00v3.4M145.25 716.00v-3.4M155.93 1143.00v3.4M155.93 716.00v-3.4M166.61 1143.00v3.4M166.61 716.00v-3.4M177.30 1143.00v3.4M177.30 716.00v-3.4M187.98 1143.00v3.4M187.98 716.00v-3.4M198.66 1143.00v3.4M198.66 716.00v-3.4M209.34 1143.00v3.4M209.34 716.00v-3.4M220.03 1143.00v5.2M220.03 716.00v-5.2M230.71 1143.00v3.4M230.71 716.00v-3.4M241.39 1143.00v3.4M241.39 716.00v-3.4M252.07 1143.00v3.4M252.07 716.00v-3.4M262.75 1143.00v3.4M262.75 716.00v-3.4M273.44 1143.00v3.4M273.44 716.00v-3.4M284.12 1143.00v3.4M284.12 716.00v-3.4M294.80 1143.00v3.4M294.80 716.00v-3.4M305.49 1143.00v3.4M305.49 716.00v-3.4M316.17 1143.00v3.4M316.17 716.00v-3.4M326.85 1143.00v5.2M326.85 716.00v-5.2M337.53 1143.00v3.4M337.53 716.00v-3.4M348.22 1143.00v3.4M348.22 716.00v-3.4M358.90 1143.00v3.4M358.90 716.00v-3.4M369.58 1143.00v3.4M369.58 716.00v-3.4M380.26 1143.00v3.4M380.26 716.00v-3.4M390.94 1143.00v3.4M390.94 716.00v-3.4M401.63 1143.00v3.4M401.63 716.00v-3.4M412.31 1143.00v3.4M412.31 716.00v-3.4M422.99 1143.00v3.4M422.99 716.00v-3.4M433.68 1143.00v5.2M433.68 716.00v-5.2M444.36 1143.00v3.4M444.36 716.00v-3.4M455.04 1143.00v3.4M455.04 716.00v-3.4M465.72 1143.00v3.4M465.72 716.00v-3.4M476.40 1143.00v3.4M476.40 716.00v-3.4M487.09 1143.00v3.4M487.09 716.00v-3.4M497.77 1143.00v3.4M497.77 716.00v-3.4M508.45 1143.00v3.4M508.45 716.00v-3.4M519.13 1143.00v3.4M519.13 716.00v-3.4M529.82 1143.00v3.4M529.82 716.00v-3.4M540.50 1143.00v5.2M540.50 716.00v-5.2M113.20 1143.00h-5.5M540.50 1143.00h5.5M113.20 1114.53h-4.4M540.50 1114.53h4.4M113.20 1086.07h-4.4M540.50 1086.07h4.4M113.20 1057.60h-4.4M540.50 1057.60h4.4M113.20 1029.13h-4.4M540.50 1029.13h4.4M113.20 1000.67h-5.5M540.50 1000.67h5.5M113.20 972.20h-4.4M540.50 972.20h4.4M113.20 943.73h-4.4M540.50 943.73h4.4M113.20 915.27h-4.4M540.50 915.27h4.4M113.20 886.80h-4.4M540.50 886.80h4.4M113.20 858.33h-5.5M540.50 858.33h5.5M113.20 829.87h-4.4M540.50 829.87h4.4M113.20 801.40h-4.4M540.50 801.40h4.4M113.20 772.93h-4.4M540.50 772.93h4.4M113.20 744.47h-4.4M540.50 744.47h4.4M113.20 716.00h-5.5M540.50 716.00h5.5" stroke="#000" stroke-width="2" fill="none"/><rect x="113.20" y="716.00" width="427.30" height="427.00" fill="none" stroke="#000" stroke-width="2.3"/><text x="113.2" y="1176.8" font-size="32" text-anchor="middle" fill="#000" >50</text><text x="220.0" y="1176.8" font-size="32" text-anchor="middle" fill="#000" >150</text><text x="326.9" y="1176.8" font-size="32" text-anchor="middle" fill="#000" >250</text><text x="433.7" y="1176.8" font-size="32" text-anchor="middle" fill="#000" >350</text><text x="540.5" y="1176.8" font-size="32" text-anchor="middle" fill="#000" >450</text><text x="107.0" y="1154.0" font-size="32" text-anchor="end" fill="#000" >200</text><text x="107.0" y="1011.7" font-size="32" text-anchor="end" fill="#000" >250</text><text x="107.0" y="869.3" font-size="32" text-anchor="end" fill="#000" >300</text><text x="107.0" y="727.0" font-size="32" text-anchor="end" fill="#000" >350</text><defs><linearGradient id="cbc" x1="0" y1="0" x2="0" y2="1"><stop offset="0.000" stop-color="#ffff00"/><stop offset="0.025" stop-color="#fff200"/><stop offset="0.050" stop-color="#ffe600"/><stop offset="0.075" stop-color="#ffd900"/><stop offset="0.100" stop-color="#ffcc00"/><stop offset="0.125" stop-color="#ffc000"/><stop offset="0.150" stop-color="#ffb300"/><stop offset="0.175" stop-color="#ffa600"/><stop offset="0.200" stop-color="#ff9900"/><stop offset="0.225" stop-color="#ff8d00"/><stop offset="0.250" stop-color="#ff8000"/><stop offset="0.275" stop-color="#ff7300"/><stop offset="0.300" stop-color="#ff6600"/><stop offset="0.325" stop-color="#ff5a00"/><stop offset="0.350" stop-color="#ff4d00"/><stop offset="0.375" stop-color="#ff4000"/><stop offset="0.400" stop-color="#ff3300"/><stop offset="0.425" stop-color="#ff2600"/><stop offset="0.450" stop-color="#ff1a00"/><stop offset="0.475" stop-color="#ff0d00"/><stop offset="0.500" stop-color="#ff0000"/><stop offset="0.525" stop-color="#f80014"/><stop offset="0.550" stop-color="#f00028"/><stop offset="0.575" stop-color="#e5003e"/><stop offset="0.600" stop-color="#da0053"/><stop offset="0.625" stop-color="#cf0069"/><stop offset="0.650" stop-color="#c50080"/><stop offset="0.675" stop-color="#bc0098"/><stop offset="0.700" stop-color="#b200af"/><stop offset="0.725" stop-color="#a600c6"/><stop offset="0.750" stop-color="#9b00dc"/><stop offset="0.775" stop-color="#8a00c7"/><stop offset="0.800" stop-color="#7a00b2"/><stop offset="0.825" stop-color="#670097"/><stop offset="0.850" stop-color="#55007b"/><stop offset="0.875" stop-color="#420060"/><stop offset="0.900" stop-color="#330049"/><stop offset="0.925" stop-color="#250033"/><stop offset="0.950" stop-color="#16001c"/><stop offset="0.975" stop-color="#0b000e"/><stop offset="1.000" stop-color="#000000"/></linearGradient></defs><rect x="562.2" y="716.2" width="26.70" height="426.20" fill="url(#cbc)"/><text x="596.4" y="1153.0" font-size="30" text-anchor="start" fill="#000" >0</text><text x="596.4" y="1110.4" font-size="30" text-anchor="start" fill="#000" >10</text><text x="596.4" y="1067.8" font-size="30" text-anchor="start" fill="#000" >20</text><text x="596.4" y="1025.2" font-size="30" text-anchor="start" fill="#000" >30</text><text x="596.4" y="982.6" font-size="30" text-anchor="start" fill="#000" >40</text><text x="596.4" y="940.0" font-size="30" text-anchor="start" fill="#000" >50</text><text x="596.4" y="897.4" font-size="30" text-anchor="start" fill="#000" >60</text><text x="596.4" y="854.8" font-size="30" text-anchor="start" fill="#000" >70</text><text x="596.4" y="812.2" font-size="30" text-anchor="start" fill="#000" >80</text><text x="596.4" y="769.6" font-size="30" text-anchor="start" fill="#000" >90</text><text x="596.4" y="727.0" font-size="30" text-anchor="start" fill="#000" >100</text><text x="6.0" y="660.0" font-size="33" text-anchor="start" fill="#000" >(c)</text><path d="M892.10 1143.50v5.2M892.10 716.00v-5.2M922.61 1143.50v3.4M922.61 716.00v-3.4M953.13 1143.50v5.2M953.13 716.00v-5.2M983.64 1143.50v3.4M983.64 716.00v-3.4M1014.16 1143.50v5.2M1014.16 716.00v-5.2M1044.67 1143.50v3.4M1044.67 716.00v-3.4M1075.19 1143.50v5.2M1075.19 716.00v-5.2M1105.70 1143.50v3.4M1105.70 716.00v-3.4M1136.21 1143.50v5.2M1136.21 716.00v-5.2M1166.73 1143.50v3.4M1166.73 716.00v-3.4M1197.24 1143.50v5.2M1197.24 716.00v-5.2M1227.76 1143.50v3.4M1227.76 716.00v-3.4M1258.27 1143.50v5.2M1258.27 716.00v-5.2M1288.79 1143.50v3.4M1288.79 716.00v-3.4M1319.30 1143.50v5.2M1319.30 716.00v-5.2M892.10 1143.50h-5.5M1319.30 1143.50h5.5M892.10 1036.62h-5.5M1319.30 1036.62h5.5M892.10 929.75h-5.5M1319.30 929.75h5.5M892.10 822.88h-5.5M1319.30 822.88h5.5M892.10 716.00h-5.5M1319.30 716.00h5.5" stroke="#000" stroke-width="2" fill="none"/><rect x="892.10" y="716.00" width="427.20" height="427.50" fill="none" stroke="#000" stroke-width="2.3"/><text x="892.1" y="1177.3" font-size="32" text-anchor="middle" fill="#000" >40</text><text x="953.1" y="1177.3" font-size="32" text-anchor="middle" fill="#000" >60</text><text x="1014.2" y="1177.3" font-size="32" text-anchor="middle" fill="#000" >80</text><text x="1075.2" y="1177.3" font-size="32" text-anchor="middle" fill="#000" >100</text><text x="1136.2" y="1177.3" font-size="32" text-anchor="middle" fill="#000" >120</text><text x="1197.2" y="1177.3" font-size="32" text-anchor="middle" fill="#000" >140</text><text x="1258.3" y="1177.3" font-size="32" text-anchor="middle" fill="#000" >160</text><text x="1319.3" y="1177.3" font-size="32" text-anchor="middle" fill="#000" >180</text><text x="885.9" y="1154.5" font-size="32" text-anchor="end" fill="#000" >280</text><text x="885.9" y="1047.6" font-size="32" text-anchor="end" fill="#000" >290</text><text x="885.9" y="940.8" font-size="32" text-anchor="end" fill="#000" >300</text><text x="885.9" y="833.9" font-size="32" text-anchor="end" fill="#000" >310</text><text x="885.9" y="727.0" font-size="32" text-anchor="end" fill="#000" >320</text><defs><linearGradient id="cbd" x1="0" y1="0" x2="0" y2="1"><stop offset="0.000" stop-color="#ffff00"/><stop offset="0.025" stop-color="#fff200"/><stop offset="0.050" stop-color="#ffe600"/><stop offset="0.075" stop-color="#ffd900"/><stop offset="0.100" stop-color="#ffcc00"/><stop offset="0.125" stop-color="#ffc000"/><stop offset="0.150" stop-color="#ffb300"/><stop offset="0.175" stop-color="#ffa600"/><stop offset="0.200" stop-color="#ff9900"/><stop offset="0.225" stop-color="#ff8d00"/><stop offset="0.250" stop-color="#ff8000"/><stop offset="0.275" stop-color="#ff7300"/><stop offset="0.300" stop-color="#ff6600"/><stop offset="0.325" stop-color="#ff5a00"/><stop offset="0.350" stop-color="#ff4d00"/><stop offset="0.375" stop-color="#ff4000"/><stop offset="0.400" stop-color="#ff3300"/><stop offset="0.425" stop-color="#ff2600"/><stop offset="0.450" stop-color="#ff1a00"/><stop offset="0.475" stop-color="#ff0d00"/><stop offset="0.500" stop-color="#ff0000"/><stop offset="0.525" stop-color="#f80014"/><stop offset="0.550" stop-color="#f00028"/><stop offset="0.575" stop-color="#e5003e"/><stop offset="0.600" stop-color="#da0053"/><stop offset="0.625" stop-color="#cf0069"/><stop offset="0.650" stop-color="#c50080"/><stop offset="0.675" stop-color="#bc0098"/><stop offset="0.700" stop-color="#b200af"/><stop offset="0.725" stop-color="#a600c6"/><stop offset="0.750" stop-color="#9b00dc"/><stop offset="0.775" stop-color="#8a00c7"/><stop offset="0.800" stop-color="#7a00b2"/><stop offset="0.825" stop-color="#670097"/><stop offset="0.850" stop-color="#55007b"/><stop offset="0.875" stop-color="#420060"/><stop offset="0.900" stop-color="#330049"/><stop offset="0.925" stop-color="#250033"/><stop offset="0.950" stop-color="#16001c"/><stop offset="0.975" stop-color="#0b000e"/><stop offset="1.000" stop-color="#000000"/></linearGradient></defs><rect x="1339" y="715.3" width="26.50" height="427.70" fill="url(#cbd)"/><text x="1373.0" y="1153.5" font-size="30" text-anchor="start" fill="#000" >-270</text><text x="1373.0" y="1110.8" font-size="30" text-anchor="start" fill="#000" >-225</text><text x="1373.0" y="1068.1" font-size="30" text-anchor="start" fill="#000" >-180</text><text x="1373.0" y="1025.4" font-size="30" text-anchor="start" fill="#000" >-135</text><text x="1373.0" y="982.7" font-size="30" text-anchor="start" fill="#000" >-90</text><text x="1373.0" y="940.0" font-size="30" text-anchor="start" fill="#000" >-45</text><text x="1373.0" y="897.3" font-size="30" text-anchor="start" fill="#000" >0</text><text x="1373.0" y="854.6" font-size="30" text-anchor="start" fill="#000" >45</text><text x="1373.0" y="811.9" font-size="30" text-anchor="start" fill="#000" >90</text><text x="1373.0" y="769.2" font-size="30" text-anchor="start" fill="#000" >135</text><text x="1373.0" y="726.5" font-size="30" text-anchor="start" fill="#000" >180</text><text x="783.0" y="660.0" font-size="33" text-anchor="start" fill="#000" >(d)</text><path d="M113.20 1781.00v5.2M113.20 1353.00v-5.2M143.72 1781.00v3.4M143.72 1353.00v-3.4M174.24 1781.00v5.2M174.24 1353.00v-5.2M204.76 1781.00v3.4M204.76 1353.00v-3.4M235.29 1781.00v5.2M235.29 1353.00v-5.2M265.81 1781.00v3.4M265.81 1353.00v-3.4M296.33 1781.00v5.2M296.33 1353.00v-5.2M326.85 1781.00v3.4M326.85 1353.00v-3.4M357.37 1781.00v5.2M357.37 1353.00v-5.2M387.89 1781.00v3.4M387.89 1353.00v-3.4M418.41 1781.00v5.2M418.41 1353.00v-5.2M448.94 1781.00v3.4M448.94 1353.00v-3.4M479.46 1781.00v5.2M479.46 1353.00v-5.2M509.98 1781.00v3.4M509.98 1353.00v-3.4M540.50 1781.00v5.2M540.50 1353.00v-5.2M113.20 1781.00h-5.5M540.50 1781.00h5.5M113.20 1674.00h-5.5M540.50 1674.00h5.5M113.20 1567.00h-5.5M540.50 1567.00h5.5M113.20 1460.00h-5.5M540.50 1460.00h5.5M113.20 1353.00h-5.5M540.50 1353.00h5.5" stroke="#000" stroke-width="2" fill="none"/><rect x="113.20" y="1353.00" width="427.30" height="428.00" fill="none" stroke="#000" stroke-width="2.3"/><text x="113.2" y="1814.8" font-size="32" text-anchor="middle" fill="#000" >40</text><text x="174.2" y="1814.8" font-size="32" text-anchor="middle" fill="#000" >60</text><text x="235.3" y="1814.8" font-size="32" text-anchor="middle" fill="#000" >80</text><text x="296.3" y="1814.8" font-size="32" text-anchor="middle" fill="#000" >100</text><text x="357.4" y="1814.8" font-size="32" text-anchor="middle" fill="#000" >120</text><text x="418.4" y="1814.8" font-size="32" text-anchor="middle" fill="#000" >140</text><text x="479.5" y="1814.8" font-size="32" text-anchor="middle" fill="#000" >160</text><text x="540.5" y="1814.8" font-size="32" text-anchor="middle" fill="#000" >180</text><text x="107.0" y="1792.0" font-size="32" text-anchor="end" fill="#000" >280</text><text x="107.0" y="1685.0" font-size="32" text-anchor="end" fill="#000" >290</text><text x="107.0" y="1578.0" font-size="32" text-anchor="end" fill="#000" >300</text><text x="107.0" y="1471.0" font-size="32" text-anchor="end" fill="#000" >310</text><text x="107.0" y="1364.0" font-size="32" text-anchor="end" fill="#000" >320</text><defs><linearGradient id="cbe" x1="0" y1="0" x2="0" y2="1"><stop offset="0.000" stop-color="#ffff00"/><stop offset="0.025" stop-color="#fff200"/><stop offset="0.050" stop-color="#ffe600"/><stop offset="0.075" stop-color="#ffd900"/><stop offset="0.100" stop-color="#ffcc00"/><stop offset="0.125" stop-color="#ffc000"/><stop offset="0.150" stop-color="#ffb300"/><stop offset="0.175" stop-color="#ffa600"/><stop offset="0.200" stop-color="#ff9900"/><stop offset="0.225" stop-color="#ff8d00"/><stop offset="0.250" stop-color="#ff8000"/><stop offset="0.275" stop-color="#ff7300"/><stop offset="0.300" stop-color="#ff6600"/><stop offset="0.325" stop-color="#ff5a00"/><stop offset="0.350" stop-color="#ff4d00"/><stop offset="0.375" stop-color="#ff4000"/><stop offset="0.400" stop-color="#ff3300"/><stop offset="0.425" stop-color="#ff2600"/><stop offset="0.450" stop-color="#ff1a00"/><stop offset="0.475" stop-color="#ff0d00"/><stop offset="0.500" stop-color="#ff0000"/><stop offset="0.525" stop-color="#f80014"/><stop offset="0.550" stop-color="#f00028"/><stop offset="0.575" stop-color="#e5003e"/><stop offset="0.600" stop-color="#da0053"/><stop offset="0.625" stop-color="#cf0069"/><stop offset="0.650" stop-color="#c50080"/><stop offset="0.675" stop-color="#bc0098"/><stop offset="0.700" stop-color="#b200af"/><stop offset="0.725" stop-color="#a600c6"/><stop offset="0.750" stop-color="#9b00dc"/><stop offset="0.775" stop-color="#8a00c7"/><stop offset="0.800" stop-color="#7a00b2"/><stop offset="0.825" stop-color="#670097"/><stop offset="0.850" stop-color="#55007b"/><stop offset="0.875" stop-color="#420060"/><stop offset="0.900" stop-color="#330049"/><stop offset="0.925" stop-color="#250033"/><stop offset="0.950" stop-color="#16001c"/><stop offset="0.975" stop-color="#0b000e"/><stop offset="1.000" stop-color="#000000"/></linearGradient></defs><rect x="561.9" y="1352.9" width="27.20" height="426.60" fill="url(#cbe)"/><text x="596.6" y="1791.0" font-size="30" text-anchor="start" fill="#000" >0</text><text x="596.6" y="1748.4" font-size="30" text-anchor="start" fill="#000" >10</text><text x="596.6" y="1705.8" font-size="30" text-anchor="start" fill="#000" >20</text><text x="596.6" y="1663.2" font-size="30" text-anchor="start" fill="#000" >30</text><text x="596.6" y="1620.6" font-size="30" text-anchor="start" fill="#000" >40</text><text x="596.6" y="1578.0" font-size="30" text-anchor="start" fill="#000" >50</text><text x="596.6" y="1535.5" font-size="30" text-anchor="start" fill="#000" >60</text><text x="596.6" y="1492.9" font-size="30" text-anchor="start" fill="#000" >70</text><text x="596.6" y="1450.3" font-size="30" text-anchor="start" fill="#000" >80</text><text x="596.6" y="1407.7" font-size="30" text-anchor="start" fill="#000" >90</text><text x="596.6" y="1365.1" font-size="30" text-anchor="start" fill="#000" >100</text><text x="6.0" y="1297.0" font-size="33" text-anchor="start" fill="#000" >(e)</text><path d="M892.10 1783.70v5.2M892.10 1356.50v-5.2M922.61 1783.70v3.4M922.61 1356.50v-3.4M953.13 1783.70v5.2M953.13 1356.50v-5.2M983.64 1783.70v3.4M983.64 1356.50v-3.4M1014.16 1783.70v5.2M1014.16 1356.50v-5.2M1044.67 1783.70v3.4M1044.67 1356.50v-3.4M1075.19 1783.70v5.2M1075.19 1356.50v-5.2M1105.70 1783.70v3.4M1105.70 1356.50v-3.4M1136.21 1783.70v5.2M1136.21 1356.50v-5.2M1166.73 1783.70v3.4M1166.73 1356.50v-3.4M1197.24 1783.70v5.2M1197.24 1356.50v-5.2M1227.76 1783.70v3.4M1227.76 1356.50v-3.4M1258.27 1783.70v5.2M1258.27 1356.50v-5.2M1288.79 1783.70v3.4M1288.79 1356.50v-3.4M1319.30 1783.70v5.2M1319.30 1356.50v-5.2M892.10 1783.70h-5.5M1319.30 1783.70h5.5M892.10 1676.90h-5.5M1319.30 1676.90h5.5M892.10 1570.10h-5.5M1319.30 1570.10h5.5M892.10 1463.30h-5.5M1319.30 1463.30h5.5M892.10 1356.50h-5.5M1319.30 1356.50h5.5" stroke="#000" stroke-width="2" fill="none"/><rect x="892.10" y="1356.50" width="427.20" height="427.20" fill="none" stroke="#000" stroke-width="2.3"/><text x="892.1" y="1817.5" font-size="32" text-anchor="middle" fill="#000" >40</text><text x="953.1" y="1817.5" font-size="32" text-anchor="middle" fill="#000" >60</text><text x="1014.2" y="1817.5" font-size="32" text-anchor="middle" fill="#000" >80</text><text x="1075.2" y="1817.5" font-size="32" text-anchor="middle" fill="#000" >100</text><text x="1136.2" y="1817.5" font-size="32" text-anchor="middle" fill="#000" >120</text><text x="1197.2" y="1817.5" font-size="32" text-anchor="middle" fill="#000" >140</text><text x="1258.3" y="1817.5" font-size="32" text-anchor="middle" fill="#000" >160</text><text x="1319.3" y="1817.5" font-size="32" text-anchor="middle" fill="#000" >180</text><text x="885.9" y="1794.7" font-size="32" text-anchor="end" fill="#000" >280</text><text x="885.9" y="1687.9" font-size="32" text-anchor="end" fill="#000" >290</text><text x="885.9" y="1581.1" font-size="32" text-anchor="end" fill="#000" >300</text><text x="885.9" y="1474.3" font-size="32" text-anchor="end" fill="#000" >310</text><text x="885.9" y="1367.5" font-size="32" text-anchor="end" fill="#000" >320</text><defs><linearGradient id="cbf" x1="0" y1="0" x2="0" y2="1"><stop offset="0.000" stop-color="#ffff00"/><stop offset="0.025" stop-color="#fff200"/><stop offset="0.050" stop-color="#ffe600"/><stop offset="0.075" stop-color="#ffd900"/><stop offset="0.100" stop-color="#ffcc00"/><stop offset="0.125" stop-color="#ffc000"/><stop offset="0.150" stop-color="#ffb300"/><stop offset="0.175" stop-color="#ffa600"/><stop offset="0.200" stop-color="#ff9900"/><stop offset="0.225" stop-color="#ff8d00"/><stop offset="0.250" stop-color="#ff8000"/><stop offset="0.275" stop-color="#ff7300"/><stop offset="0.300" stop-color="#ff6600"/><stop offset="0.325" stop-color="#ff5a00"/><stop offset="0.350" stop-color="#ff4d00"/><stop offset="0.375" stop-color="#ff4000"/><stop offset="0.400" stop-color="#ff3300"/><stop offset="0.425" stop-color="#ff2600"/><stop offset="0.450" stop-color="#ff1a00"/><stop offset="0.475" stop-color="#ff0d00"/><stop offset="0.500" stop-color="#ff0000"/><stop offset="0.525" stop-color="#f80014"/><stop offset="0.550" stop-color="#f00028"/><stop offset="0.575" stop-color="#e5003e"/><stop offset="0.600" stop-color="#da0053"/><stop offset="0.625" stop-color="#cf0069"/><stop offset="0.650" stop-color="#c50080"/><stop offset="0.675" stop-color="#bc0098"/><stop offset="0.700" stop-color="#b200af"/><stop offset="0.725" stop-color="#a600c6"/><stop offset="0.750" stop-color="#9b00dc"/><stop offset="0.775" stop-color="#8a00c7"/><stop offset="0.800" stop-color="#7a00b2"/><stop offset="0.825" stop-color="#670097"/><stop offset="0.850" stop-color="#55007b"/><stop offset="0.875" stop-color="#420060"/><stop offset="0.900" stop-color="#330049"/><stop offset="0.925" stop-color="#250033"/><stop offset="0.950" stop-color="#16001c"/><stop offset="0.975" stop-color="#0b000e"/><stop offset="1.000" stop-color="#000000"/></linearGradient></defs><rect x="1340.2" y="1354.7" width="26.70" height="427.30" fill="url(#cbf)"/><text x="1374.4" y="1793.5" font-size="30" text-anchor="start" fill="#000" >0</text><text x="1374.4" y="1751.2" font-size="30" text-anchor="start" fill="#000" >10</text><text x="1374.4" y="1708.9" font-size="30" text-anchor="start" fill="#000" >20</text><text x="1374.4" y="1666.6" font-size="30" text-anchor="start" fill="#000" >30</text><text x="1374.4" y="1624.3" font-size="30" text-anchor="start" fill="#000" >40</text><text x="1374.4" y="1582.0" font-size="30" text-anchor="start" fill="#000" >50</text><text x="1374.4" y="1539.6" font-size="30" text-anchor="start" fill="#000" >60</text><text x="1374.4" y="1497.3" font-size="30" text-anchor="start" fill="#000" >70</text><text x="1374.4" y="1455.0" font-size="30" text-anchor="start" fill="#000" >80</text><text x="1374.4" y="1412.7" font-size="30" text-anchor="start" fill="#000" >90</text><text x="1374.4" y="1370.4" font-size="30" text-anchor="start" fill="#000" >100</text><text x="783.0" y="1297.0" font-size="33" text-anchor="start" fill="#000" >(f)</text><path d="M113.20 2432.80v5.2M113.20 2004.20v-5.2M143.72 2432.80v3.4M143.72 2004.20v-3.4M174.24 2432.80v5.2M174.24 2004.20v-5.2M204.76 2432.80v3.4M204.76 2004.20v-3.4M235.29 2432.80v5.2M235.29 2004.20v-5.2M265.81 2432.80v3.4M265.81 2004.20v-3.4M296.33 2432.80v5.2M296.33 2004.20v-5.2M326.85 2432.80v3.4M326.85 2004.20v-3.4M357.37 2432.80v5.2M357.37 2004.20v-5.2M387.89 2432.80v3.4M387.89 2004.20v-3.4M418.41 2432.80v5.2M418.41 2004.20v-5.2M448.94 2432.80v3.4M448.94 2004.20v-3.4M479.46 2432.80v5.2M479.46 2004.20v-5.2M509.98 2432.80v3.4M509.98 2004.20v-3.4M540.50 2432.80v5.2M540.50 2004.20v-5.2M113.20 2432.80h-5.5M540.50 2432.80h5.5M113.20 2325.65h-5.5M540.50 2325.65h5.5M113.20 2218.50h-5.5M540.50 2218.50h5.5M113.20 2111.35h-5.5M540.50 2111.35h5.5M113.20 2004.20h-5.5M540.50 2004.20h5.5" stroke="#000" stroke-width="2" fill="none"/><rect x="113.20" y="2004.20" width="427.30" height="428.60" fill="none" stroke="#000" stroke-width="2.3"/><text x="113.2" y="2466.6" font-size="32" text-anchor="middle" fill="#000" >40</text><text x="174.2" y="2466.6" font-size="32" text-anchor="middle" fill="#000" >60</text><text x="235.3" y="2466.6" font-size="32" text-anchor="middle" fill="#000" >80</text><text x="296.3" y="2466.6" font-size="32" text-anchor="middle" fill="#000" >100</text><text x="357.4" y="2466.6" font-size="32" text-anchor="middle" fill="#000" >120</text><text x="418.4" y="2466.6" font-size="32" text-anchor="middle" fill="#000" >140</text><text x="479.5" y="2466.6" font-size="32" text-anchor="middle" fill="#000" >160</text><text x="540.5" y="2466.6" font-size="32" text-anchor="middle" fill="#000" >180</text><text x="107.0" y="2443.8" font-size="32" text-anchor="end" fill="#000" >280</text><text x="107.0" y="2336.7" font-size="32" text-anchor="end" fill="#000" >290</text><text x="107.0" y="2229.5" font-size="32" text-anchor="end" fill="#000" >300</text><text x="107.0" y="2122.3" font-size="32" text-anchor="end" fill="#000" >310</text><text x="107.0" y="2015.2" font-size="32" text-anchor="end" fill="#000" >320</text><defs><linearGradient id="cbg" x1="0" y1="0" x2="0" y2="1"><stop offset="0.000" stop-color="#ffff00"/><stop offset="0.025" stop-color="#fff200"/><stop offset="0.050" stop-color="#ffe600"/><stop offset="0.075" stop-color="#ffd900"/><stop offset="0.100" stop-color="#ffcc00"/><stop offset="0.125" stop-color="#ffc000"/><stop offset="0.150" stop-color="#ffb300"/><stop offset="0.175" stop-color="#ffa600"/><stop offset="0.200" stop-color="#ff9900"/><stop offset="0.225" stop-color="#ff8d00"/><stop offset="0.250" stop-color="#ff8000"/><stop offset="0.275" stop-color="#ff7300"/><stop offset="0.300" stop-color="#ff6600"/><stop offset="0.325" stop-color="#ff5a00"/><stop offset="0.350" stop-color="#ff4d00"/><stop offset="0.375" stop-color="#ff4000"/><stop offset="0.400" stop-color="#ff3300"/><stop offset="0.425" stop-color="#ff2600"/><stop offset="0.450" stop-color="#ff1a00"/><stop offset="0.475" stop-color="#ff0d00"/><stop offset="0.500" stop-color="#ff0000"/><stop offset="0.525" stop-color="#f80014"/><stop offset="0.550" stop-color="#f00028"/><stop offset="0.575" stop-color="#e5003e"/><stop offset="0.600" stop-color="#da0053"/><stop offset="0.625" stop-color="#cf0069"/><stop offset="0.650" stop-color="#c50080"/><stop offset="0.675" stop-color="#bc0098"/><stop offset="0.700" stop-color="#b200af"/><stop offset="0.725" stop-color="#a600c6"/><stop offset="0.750" stop-color="#9b00dc"/><stop offset="0.775" stop-color="#8a00c7"/><stop offset="0.800" stop-color="#7a00b2"/><stop offset="0.825" stop-color="#670097"/><stop offset="0.850" stop-color="#55007b"/><stop offset="0.875" stop-color="#420060"/><stop offset="0.900" stop-color="#330049"/><stop offset="0.925" stop-color="#250033"/><stop offset="0.950" stop-color="#16001c"/><stop offset="0.975" stop-color="#0b000e"/><stop offset="1.000" stop-color="#000000"/></linearGradient></defs><rect x="561.2" y="2005.9" width="26.80" height="425.40" fill="url(#cbg)"/><text x="595.5" y="2442.5" font-size="30" text-anchor="start" fill="#000" >0</text><text x="595.5" y="2358.1" font-size="30" text-anchor="start" fill="#000" >20</text><text x="595.5" y="2273.7" font-size="30" text-anchor="start" fill="#000" >40</text><text x="595.5" y="2189.2" font-size="30" text-anchor="start" fill="#000" >60</text><text x="595.5" y="2104.8" font-size="30" text-anchor="start" fill="#000" >80</text><text x="595.5" y="2020.4" font-size="30" text-anchor="start" fill="#000" >100</text><text x="6.0" y="1948.0" font-size="33" text-anchor="start" fill="#000" >(g)</text><path d="M892.10 2431.00v5.2M892.10 2004.20v-5.2M922.61 2431.00v3.4M922.61 2004.20v-3.4M953.13 2431.00v5.2M953.13 2004.20v-5.2M983.64 2431.00v3.4M983.64 2004.20v-3.4M1014.16 2431.00v5.2M1014.16 2004.20v-5.2M1044.67 2431.00v3.4M1044.67 2004.20v-3.4M1075.19 2431.00v5.2M1075.19 2004.20v-5.2M1105.70 2431.00v3.4M1105.70 2004.20v-3.4M1136.21 2431.00v5.2M1136.21 2004.20v-5.2M1166.73 2431.00v3.4M1166.73 2004.20v-3.4M1197.24 2431.00v5.2M1197.24 2004.20v-5.2M1227.76 2431.00v3.4M1227.76 2004.20v-3.4M1258.27 2431.00v5.2M1258.27 2004.20v-5.2M1288.79 2431.00v3.4M1288.79 2004.20v-3.4M1319.30 2431.00v5.2M1319.30 2004.20v-5.2M892.10 2431.00h-5.5M1319.30 2431.00h5.5M892.10 2324.30h-5.5M1319.30 2324.30h5.5M892.10 2217.60h-5.5M1319.30 2217.60h5.5M892.10 2110.90h-5.5M1319.30 2110.90h5.5M892.10 2004.20h-5.5M1319.30 2004.20h5.5" stroke="#000" stroke-width="2" fill="none"/><rect x="892.10" y="2004.20" width="427.20" height="426.80" fill="none" stroke="#000" stroke-width="2.3"/><text x="892.1" y="2464.8" font-size="32" text-anchor="middle" fill="#000" >40</text><text x="953.1" y="2464.8" font-size="32" text-anchor="middle" fill="#000" >60</text><text x="1014.2" y="2464.8" font-size="32" text-anchor="middle" fill="#000" >80</text><text x="1075.2" y="2464.8" font-size="32" text-anchor="middle" fill="#000" >100</text><text x="1136.2" y="2464.8" font-size="32" text-anchor="middle" fill="#000" >120</text><text x="1197.2" y="2464.8" font-size="32" text-anchor="middle" fill="#000" >140</text><text x="1258.3" y="2464.8" font-size="32" text-anchor="middle" fill="#000" >160</text><text x="1319.3" y="2464.8" font-size="32" text-anchor="middle" fill="#000" >180</text><text x="885.9" y="2442.0" font-size="32" text-anchor="end" fill="#000" >280</text><text x="885.9" y="2335.3" font-size="32" text-anchor="end" fill="#000" >290</text><text x="885.9" y="2228.6" font-size="32" text-anchor="end" fill="#000" >300</text><text x="885.9" y="2121.9" font-size="32" text-anchor="end" fill="#000" >310</text><text x="885.9" y="2015.2" font-size="32" text-anchor="end" fill="#000" >320</text><defs><linearGradient id="cbh" x1="0" y1="0" x2="0" y2="1"><stop offset="0.000" stop-color="#ffff00"/><stop offset="0.025" stop-color="#fff200"/><stop offset="0.050" stop-color="#ffe600"/><stop offset="0.075" stop-color="#ffd900"/><stop offset="0.100" stop-color="#ffcc00"/><stop offset="0.125" stop-color="#ffc000"/><stop offset="0.150" stop-color="#ffb300"/><stop offset="0.175" stop-color="#ffa600"/><stop offset="0.200" stop-color="#ff9900"/><stop offset="0.225" stop-color="#ff8d00"/><stop offset="0.250" stop-color="#ff8000"/><stop offset="0.275" stop-color="#ff7300"/><stop offset="0.300" stop-color="#ff6600"/><stop offset="0.325" stop-color="#ff5a00"/><stop offset="0.350" stop-color="#ff4d00"/><stop offset="0.375" stop-color="#ff4000"/><stop offset="0.400" stop-color="#ff3300"/><stop offset="0.425" stop-color="#ff2600"/><stop offset="0.450" stop-color="#ff1a00"/><stop offset="0.475" stop-color="#ff0d00"/><stop offset="0.500" stop-color="#ff0000"/><stop offset="0.525" stop-color="#f80014"/><stop offset="0.550" stop-color="#f00028"/><stop offset="0.575" stop-color="#e5003e"/><stop offset="0.600" stop-color="#da0053"/><stop offset="0.625" stop-color="#cf0069"/><stop offset="0.650" stop-color="#c50080"/><stop offset="0.675" stop-color="#bc0098"/><stop offset="0.700" stop-color="#b200af"/><stop offset="0.725" stop-color="#a600c6"/><stop offset="0.750" stop-color="#9b00dc"/><stop offset="0.775" stop-color="#8a00c7"/><stop offset="0.800" stop-color="#7a00b2"/><stop offset="0.825" stop-color="#670097"/><stop offset="0.850" stop-color="#55007b"/><stop offset="0.875" stop-color="#420060"/><stop offset="0.900" stop-color="#330049"/><stop offset="0.925" stop-color="#250033"/><stop offset="0.950" stop-color="#16001c"/><stop offset="0.975" stop-color="#0b000e"/><stop offset="1.000" stop-color="#000000"/></linearGradient></defs><rect x="1338" y="1997.2" width="26.90" height="433.30" fill="url(#cbh)"/><text x="1372.4" y="2444.0" font-size="30" text-anchor="start" fill="#000" >-1</text><text x="1372.4" y="2338.2" font-size="30" text-anchor="start" fill="#000" >-0.5</text><text x="1372.4" y="2232.5" font-size="30" text-anchor="start" fill="#000" >0</text><text x="1372.4" y="2126.8" font-size="30" text-anchor="start" fill="#000" >0.5</text><text x="1372.4" y="2021.0" font-size="30" text-anchor="start" fill="#000" >1</text><text x="783.0" y="1948.0" font-size="33" text-anchor="start" fill="#000" >(h)</text><text transform="translate(29.9,288.0) rotate(-90)" font-size="39" text-anchor="middle" textLength="458" lengthAdjust="spacingAndGlyphs">Length of a cut wire <tspan font-style="italic">l</tspan> (μm)</text><text x="323.7" y="582.5" font-size="39" text-anchor="middle" textLength="196" lengthAdjust="spacingAndGlyphs">Gap <tspan font-style="italic">g</tspan> (μm)</text><text transform="translate(808.8,288.0) rotate(-90)" font-size="39" text-anchor="middle" textLength="458" lengthAdjust="spacingAndGlyphs">Length of a cut wire <tspan font-style="italic">l</tspan> (μm)</text><text x="1102.5" y="582.5" font-size="39" text-anchor="middle" textLength="196" lengthAdjust="spacingAndGlyphs">Gap <tspan font-style="italic">g</tspan> (μm)</text><text transform="translate(29.9,920.7) rotate(-90)" font-size="39" text-anchor="middle" textLength="458" lengthAdjust="spacingAndGlyphs">Length of a cut wire <tspan font-style="italic">l</tspan> (μm)</text><text x="323.7" y="1220.3" font-size="39" text-anchor="middle" textLength="196" lengthAdjust="spacingAndGlyphs">Gap <tspan font-style="italic">g</tspan> (μm)</text><text transform="translate(808.8,920.7) rotate(-90)" font-size="39" text-anchor="middle" textLength="458" lengthAdjust="spacingAndGlyphs">Length of a cut wire <tspan font-style="italic">l</tspan> (μm)</text><text x="1102.5" y="1220.3" font-size="39" text-anchor="middle" textLength="196" lengthAdjust="spacingAndGlyphs">Gap <tspan font-style="italic">g</tspan> (μm)</text><text transform="translate(29.9,1558.2) rotate(-90)" font-size="39" text-anchor="middle" textLength="458" lengthAdjust="spacingAndGlyphs">Length of a cut wire <tspan font-style="italic">l</tspan> (μm)</text><text x="323.7" y="1856.9" font-size="39" text-anchor="middle" textLength="196" lengthAdjust="spacingAndGlyphs">Gap <tspan font-style="italic">g</tspan> (μm)</text><text transform="translate(808.8,1558.2) rotate(-90)" font-size="39" text-anchor="middle" textLength="458" lengthAdjust="spacingAndGlyphs">Length of a cut wire <tspan font-style="italic">l</tspan> (μm)</text><text x="1102.5" y="1856.9" font-size="39" text-anchor="middle" textLength="196" lengthAdjust="spacingAndGlyphs">Gap <tspan font-style="italic">g</tspan> (μm)</text><text transform="translate(29.9,2211.8) rotate(-90)" font-size="39" text-anchor="middle" textLength="458" lengthAdjust="spacingAndGlyphs">Length of a cut wire <tspan font-style="italic">l</tspan> (μm)</text><text x="323.7" y="2511.9" font-size="39" text-anchor="middle" textLength="196" lengthAdjust="spacingAndGlyphs">Gap <tspan font-style="italic">g</tspan> (μm)</text><text transform="translate(808.8,2210.9) rotate(-90)" font-size="39" text-anchor="middle" textLength="458" lengthAdjust="spacingAndGlyphs">Length of a cut wire <tspan font-style="italic">l</tspan> (μm)</text><text x="1102.5" y="2511.9" font-size="39" text-anchor="middle" textLength="196" lengthAdjust="spacingAndGlyphs">Gap <tspan font-style="italic">g</tspan> (μm)</text><text transform="translate(686.1,287.5) rotate(-90)" font-size="39" text-anchor="middle">Real part of</text><text transform="translate(731.3,288.2) rotate(-90)" font-size="39" text-anchor="middle">refractive index <tspan font-style="italic">n</tspan><tspan font-size="23" dy="8">eff</tspan></text><text transform="translate(1472.2,289.2) rotate(-90)" font-size="39" text-anchor="middle">Reflected power (%)</text><text transform="translate(691.1,929.8) rotate(-90)" font-size="39" text-anchor="middle">Transmitted power (%)</text><text transform="translate(1480.0,922.5) rotate(-90)" font-size="39" text-anchor="middle">Phase difference (degrees)</text><text transform="translate(691.1,1560.2) rotate(-90)" font-size="39" text-anchor="middle">Reflected power (%)</text><text transform="translate(1471.0,1561.2) rotate(-90)" font-size="39" text-anchor="middle">Transmitted power (%)</text><text transform="translate(691.1,2212.4) rotate(-90)" font-size="39" text-anchor="middle">Polarization conversion</text><text transform="translate(737.0,2206.7) rotate(-90)" font-size="39" text-anchor="middle">efficiency (%)</text><text transform="translate(1469.8,2213.1) rotate(-90)" font-size="39" text-anchor="middle">Axial ratio (a.u.)</text><circle cx="123.9" cy="221.7" r="6.9" fill="#fff" stroke="#000" stroke-width="2"/><circle cx="134.6" cy="193.1" r="6.9" fill="#fff" stroke="#000" stroke-width="2"/><circle cx="166.6" cy="193.1" r="6.9" fill="#fff" stroke="#000" stroke-width="2"/><circle cx="209.3" cy="193.1" r="6.9" fill="#fff" stroke="#000" stroke-width="2"/><circle cx="209.3" cy="221.7" r="6.9" fill="#fff" stroke="#000" stroke-width="2"/><circle cx="284.1" cy="250.2" r="6.9" fill="#fff" stroke="#000" stroke-width="2"/><circle cx="294.8" cy="221.7" r="6.9" fill="#fff" stroke="#000" stroke-width="2"/><circle cx="316.2" cy="193.1" r="6.9" fill="#fff" stroke="#000" stroke-width="2"/><circle cx="326.9" cy="221.7" r="6.9" fill="#fff" stroke="#000" stroke-width="2"/><circle cx="369.6" cy="193.1" r="6.9" fill="#fff" stroke="#000" stroke-width="2"/><circle cx="529.8" cy="278.7" r="6.9" fill="#fff" stroke="#000" stroke-width="2"/><circle cx="540.5" cy="392.9" r="6.9" fill="#fff" stroke="#000" stroke-width="2"/><circle cx="902.8" cy="222.3" r="6.9" fill="#fff" stroke="#000" stroke-width="2"/><circle cx="913.5" cy="193.9" r="6.9" fill="#fff" stroke="#000" stroke-width="2"/><circle cx="945.5" cy="193.9" r="6.9" fill="#fff" stroke="#000" stroke-width="2"/><circle cx="988.2" cy="193.9" r="6.9" fill="#fff" stroke="#000" stroke-width="2"/><circle cx="988.2" cy="222.3" r="6.9" fill="#fff" stroke="#000" stroke-width="2"/><circle cx="1063.0" cy="250.8" r="6.9" fill="#fff" stroke="#000" stroke-width="2"/><circle cx="1073.7" cy="222.3" r="6.9" fill="#fff" stroke="#000" stroke-width="2"/><circle cx="1095.0" cy="193.9" r="6.9" fill="#fff" stroke="#000" stroke-width="2"/><circle cx="1105.7" cy="222.3" r="6.9" fill="#fff" stroke="#000" stroke-width="2"/><circle cx="1148.4" cy="193.9" r="6.9" fill="#fff" stroke="#000" stroke-width="2"/><circle cx="1308.6" cy="279.3" r="6.9" fill="#fff" stroke="#000" stroke-width="2"/><circle cx="1319.3" cy="393.1" r="6.9" fill="#fff" stroke="#000" stroke-width="2"/><circle cx="123.9" cy="858.3" r="6.9" fill="#fff" stroke="#000" stroke-width="2"/><circle cx="134.6" cy="829.9" r="6.9" fill="#fff" stroke="#000" stroke-width="2"/><circle cx="166.6" cy="829.9" r="6.9" fill="#fff" stroke="#000" stroke-width="2"/><circle cx="209.3" cy="829.9" r="6.9" fill="#fff" stroke="#000" stroke-width="2"/><circle cx="209.3" cy="858.3" r="6.9" fill="#fff" stroke="#000" stroke-width="2"/><circle cx="284.1" cy="886.8" r="6.9" fill="#fff" stroke="#000" stroke-width="2"/><circle cx="294.8" cy="858.3" r="6.9" fill="#fff" stroke="#000" stroke-width="2"/><circle cx="316.2" cy="829.9" r="6.9" fill="#fff" stroke="#000" stroke-width="2"/><circle cx="326.9" cy="858.3" r="6.9" fill="#fff" stroke="#000" stroke-width="2"/><circle cx="369.6" cy="829.9" r="6.9" fill="#fff" stroke="#000" stroke-width="2"/><circle cx="529.8" cy="915.3" r="6.9" fill="#fff" stroke="#000" stroke-width="2"/><circle cx="540.5" cy="1029.1" r="6.9" fill="#fff" stroke="#000" stroke-width="2"/><circle cx="921.9" cy="1038.3" r="6.9" fill="#fff" stroke="#000" stroke-width="2"/><circle cx="143.6" cy="1676.5" r="6.9" fill="#fff" stroke="#000" stroke-width="2"/><circle cx="921.1" cy="1677.2" r="6.9" fill="#fff" stroke="#000" stroke-width="2"/><circle cx="144.9" cy="2326.5" r="6.9" fill="#fff" stroke="#000" stroke-width="2"/><circle cx="924.4" cy="2326.0" r="6.9" fill="#fff" stroke="#000" stroke-width="2"/><text x="168.9" y="327.0" font-size="39" fill="#fff" textLength="334" lengthAdjust="spacingAndGlyphs">Design parameters</text><path d="M283.4 297.7V272.8" stroke="#fff" stroke-width="3" fill="none"/><path d="M283.40 259.80L295.00 283.00L283.40 272.80L271.80 282.60Z" fill="#fff"/><text x="947.4" y="327.0" font-size="39" fill="#fff" textLength="334" lengthAdjust="spacingAndGlyphs">Design parameters</text><path d="M1062.1 297.7V272.8" stroke="#fff" stroke-width="3" fill="none"/><path d="M1062.10 259.80L1073.70 283.00L1062.10 272.80L1050.50 282.60Z" fill="#fff"/><text x="168.9" y="963.6" font-size="39" fill="#fff" textLength="334" lengthAdjust="spacingAndGlyphs">Design parameters</text><path d="M283.4 934.7V909.8" stroke="#fff" stroke-width="3" fill="none"/><path d="M283.40 896.80L295.00 920.00L283.40 909.80L271.80 919.60Z" fill="#fff"/><text x="905.7" y="981.1" font-size="39" fill="#fff" textLength="334" lengthAdjust="spacingAndGlyphs">Design parameters</text><path d="M921.9 988.6V1013.0" stroke="#fff" stroke-width="3" fill="none"/><path d="M921.90 1026.00L933.50 1002.80L921.90 1013.00L910.30 1003.20Z" fill="#fff"/><text x="127.4" y="1619.9" font-size="39" fill="#fff" textLength="334" lengthAdjust="spacingAndGlyphs">Design parameters</text><path d="M143.6 1626.8V1651.7" stroke="#fff" stroke-width="3" fill="none"/><path d="M143.60 1664.70L155.20 1641.50L143.60 1651.70L132.00 1641.90Z" fill="#fff"/><text x="904.9" y="1616.1" font-size="39" fill="#fff" textLength="334" lengthAdjust="spacingAndGlyphs">Design parameters</text><path d="M921.1 1624.4V1648.0" stroke="#fff" stroke-width="3" fill="none"/><path d="M921.10 1661.00L932.70 1637.80L921.10 1648.00L909.50 1638.20Z" fill="#fff"/><text x="128.2" y="2266.1" font-size="39" fill="#fff" textLength="334" lengthAdjust="spacingAndGlyphs">Design parameters</text><path d="M144.9 2273.6V2296.8" stroke="#fff" stroke-width="3" fill="none"/><path d="M144.90 2309.80L156.50 2286.60L144.90 2296.80L133.30 2287.00Z" fill="#fff"/><text x="907.4" y="2266.1" font-size="39" fill="#fff" textLength="334" lengthAdjust="spacingAndGlyphs">Design parameters</text><path d="M924.4 2273.6V2296.8" stroke="#fff" stroke-width="3" fill="none"/><path d="M924.40 2309.80L936.00 2286.60L924.40 2296.80L912.80 2287.00Z" fill="#fff"/></svg></body></html>
